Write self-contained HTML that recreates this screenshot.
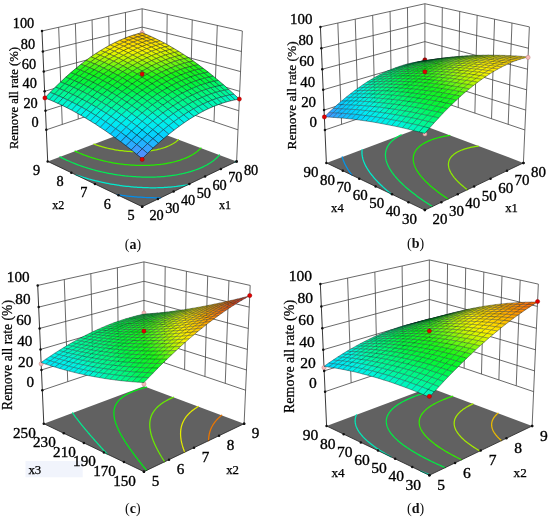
<!DOCTYPE html>
<html><head><meta charset="utf-8"><title>Response surfaces</title>
<style>html,body{margin:0;padding:0;background:#fff}svg{display:block}</style></head>
<body><svg width="550" height="520" viewBox="0 0 550 520">
<rect width="550" height="520" fill="#fff"/>
<path d="M62.28 124.43L58.66 27.28M78.26 119.04L75.36 23.58M94.23 113.66L92.06 19.88M110.2 108.27L108.76 16.18M126.18 102.88L125.45 12.48M142.15 97.5L142.15 8.78M166.11 105.58L167.2 14.33M190.07 113.66L192.24 19.88M214.03 121.74L217.29 25.43M46.31 129.81L142.15 97.5L237.99 129.81M45.47 110.74L142.15 80.31L238.83 110.74M44.62 91.33L142.15 62.84L239.68 91.33M43.75 71.57L142.15 45.11L240.55 71.57M42.87 51.46L142.15 27.09L241.43 51.46M41.97 30.99L142.15 8.78L242.33 30.99M236.61 161.39L242.33 30.99" fill="none" stroke="#444" stroke-width="0.8"/>
<polygon points="47.69,161.39 142.15,206.66 236.61,161.39 142.15,126.03" fill="#616161"/>
<polyline points="160.75,197.75 160.34,197.75 158.08,197.77 157.76,197.77 155.46,197.77 155.11,197.76 152.9,197.73 152.4,197.73 150.39,197.68 149.63,197.66 147.93,197.6 146.78,197.55 145.52,197.5 143.86,197.42 143.15,197.38 140.87,197.24 140.82,197.24 138.53,197.08 137.78,197.03 136.29,196.91 134.61,196.77 134.07,196.72 131.9,196.52 131.34,196.46 129.76,196.3 127.97,196.1 127.64,196.07 125.57,195.82 124.48,195.69 123.52,195.57 121.5,195.3 120.86,195.21 119.51,195.02 117.55,194.73 117.11,194.66" fill="none" stroke="#008eeb" stroke-width="1.25" stroke-linecap="round"/>
<polyline points="188.09,184.64 187.57,184.74 185.8,185.06 184.06,185.36 183.98,185.37 182.12,185.66 180.33,185.93 180.23,185.94 178.29,186.2 176.82,186.38 176.31,186.45 174.29,186.67 173.5,186.75 172.22,186.88 170.32,187.05 170.11,187.07 167.94,187.24 167.27,187.29 165.73,187.39 164.33,187.47 163.46,187.52 161.48,187.61 161.15,187.62 158.77,187.7 158.73,187.7 156.34,187.75 156.05,187.76 153.84,187.78 153.44,187.78 151.28,187.78 150.9,187.77 148.66,187.75 148.42,187.74 146,187.68 145.96,187.68 143.63,187.6 143.19,187.58 141.31,187.49 140.33,187.44 139.03,187.37 137.39,187.26 136.8,187.22 134.61,187.06 134.35,187.04 132.46,186.88 131.21,186.77 130.35,186.69 128.27,186.48 127.97,186.45 126.23,186.26 124.6,186.06 124.22,186.02 122.25,185.77 121.09,185.62 120.3,185.51 118.39,185.23 117.42,185.09 116.5,184.95 114.65,184.66 113.59,184.48 112.82,184.35 111.01,184.04 109.54,183.77 109.24,183.71 107.49,183.38 105.76,183.04 105.25,182.94 104.06,182.69 102.38,182.34 100.72,181.97 100.66,181.96 99.09,181.6 97.47,181.22 95.88,180.84 95.68,180.79 94.31,180.45 92.77,180.05 91.24,179.64 90.16,179.35 89.73,179.23 88.24,178.82 86.77,178.4 85.32,177.97 83.89,177.54 83.84,177.53 82.48,177.1 81.08,176.66 79.71,176.22 78.35,175.77 77.01,175.31 76.06,174.98" fill="none" stroke="#00ebce" stroke-width="1.25" stroke-linecap="round"/>
<polyline points="235.18,162.07 235.39,161.82 235.95,161.14" fill="none" stroke="#00ebce" stroke-width="1.25" stroke-linecap="round"/>
<polyline points="219.5,154.98 219.24,155.28 218.92,155.64 218.32,156.28 217.69,156.92 217.45,157.17 217.04,157.56 216.37,158.19 215.67,158.81 215.02,159.36 214.94,159.43 214.19,160.04 213.41,160.64 212.61,161.24 211.78,161.83 211.23,162.2 210.92,162.41 210.04,162.99 209.13,163.56 208.19,164.12 207.22,164.68 206.23,165.22 205.21,165.76 204.16,166.29 203.08,166.82 201.98,167.33 200.84,167.84 199.68,168.33 198.48,168.82 197.25,169.3 195.99,169.76 194.71,170.22 193.39,170.67 192.03,171.11 191.93,171.14 190.64,171.53 189.22,171.95 187.77,172.35 186.28,172.75 185.72,172.88 184.75,173.12 183.19,173.49 181.59,173.84 180.86,173.99 179.95,174.18 178.27,174.51 176.65,174.8 176.55,174.82 174.79,175.11 172.99,175.39 172.86,175.41 171.14,175.65 169.36,175.88 169.26,175.89 167.32,176.12 166.08,176.25 165.33,176.32 163.29,176.51 162.97,176.54 161.2,176.68 160.01,176.76 159.06,176.82 157.17,176.92 156.86,176.94 154.6,177.03 154.44,177.04 152.28,177.1 151.81,177.11 149.89,177.14 149.25,177.14 147.44,177.15 146.78,177.14 144.91,177.12 144.37,177.11 142.3,177.06 142.02,177.06 139.73,176.97 139.61,176.97 137.5,176.87 136.82,176.83 135.31,176.74 133.94,176.65 133.18,176.59 131.08,176.43 130.95,176.42 129.03,176.25 127.84,176.13 127.02,176.05 125.05,175.84 124.6,175.78 123.12,175.61 121.21,175.37 121.2,175.37 119.35,175.11 117.63,174.87 117.51,174.85 115.71,174.57 113.93,174.28 113.86,174.27 112.19,173.98 110.47,173.67 109.84,173.56 108.78,173.36 107.12,173.03 105.52,172.7 105.48,172.69 103.87,172.35 102.28,172 100.8,171.66 100.71,171.64 99.17,171.27 97.65,170.9 96.15,170.52 95.51,170.35 94.68,170.13 93.23,169.73 91.79,169.33 90.38,168.93 89.36,168.63 88.99,168.52 87.62,168.1 86.26,167.68 84.93,167.25 83.61,166.82 82.32,166.38 81.43,166.08 81.04,165.94 79.78,165.49 78.53,165.04 77.31,164.59 76.1,164.13 74.91,163.66 73.74,163.19 72.58,162.72 71.44,162.25 70.31,161.77 69.2,161.29 68.11,160.8 67.03,160.32 65.97,159.82 64.93,159.33 63.9,158.83 62.88,158.33 61.88,157.83 60.9,157.32 59.93,156.81" fill="none" stroke="#00eb55" stroke-width="1.25" stroke-linecap="round"/>
<polyline points="200.94,148.04 200.84,148.14 200.34,148.66 199.71,149.28 199.06,149.89 199.01,149.93 198.37,150.49 197.66,151.09 196.92,151.68 196.36,152.1 196.15,152.26 195.35,152.83 194.52,153.39 193.66,153.95 192.77,154.49 191.85,155.03 191.29,155.34 190.89,155.56 189.91,156.08 188.9,156.59 187.85,157.09 186.77,157.58 185.66,158.06 184.51,158.53 183.33,158.99 182.12,159.44 181.44,159.68 180.87,159.88 179.59,160.31 178.26,160.72 176.9,161.12 175.51,161.51 174.1,161.88 174.07,161.88 172.59,162.24 171.07,162.59 169.52,162.92 169.22,162.98 167.91,163.23 166.26,163.53 165.16,163.71 164.57,163.81 162.82,164.07 161.56,164.25 161.03,164.32 159.18,164.54 158.27,164.64 157.28,164.74 155.33,164.92 155.21,164.93 153.31,165.08 152.33,165.14 151.23,165.21 149.6,165.29 149.09,165.31 146.99,165.38 146.88,165.39 144.59,165.43 144.49,165.43 142.23,165.44 142.08,165.44 139.77,165.41 139.75,165.41 137.49,165.36 137.23,165.35 135.3,165.27 134.58,165.24 133.18,165.16 131.82,165.08 131.1,165.03 129.08,164.87 128.93,164.86 127.11,164.7 125.9,164.58 125.19,164.51 123.3,164.3 122.71,164.23 121.46,164.08 119.66,163.84 119.33,163.8 117.89,163.59 116.16,163.33 115.72,163.26 114.46,163.05 112.8,162.76 111.81,162.58 111.16,162.46 109.56,162.15 107.98,161.84 107.54,161.74 106.43,161.51 104.91,161.17 103.41,160.83 102.72,160.66 101.95,160.47 100.5,160.11 99.08,159.74 97.68,159.37 97.05,159.19 96.31,158.98 94.96,158.59 93.63,158.2 92.32,157.79 91.04,157.39 89.77,156.97 89.58,156.91 88.53,156.55 87.3,156.13 86.1,155.7 84.91,155.26 83.74,154.82 82.6,154.38 81.47,153.93 80.36,153.47 79.26,153.02 78.19,152.55 77.13,152.09 76.09,151.62 75.07,151.14" fill="none" stroke="#25eb00" stroke-width="1.25" stroke-linecap="round"/>
<polyline points="178.41,139.6 178.3,139.71 177.78,140.2 177.13,140.78 176.43,141.35 176.33,141.43 175.7,141.91 174.93,142.46 174.13,143 173.29,143.53 172.85,143.79 172.41,144.05 171.49,144.55 170.53,145.05 169.54,145.53 168.5,146 167.42,146.45 166.31,146.89 165.15,147.32 163.94,147.73 162.7,148.13 161.53,148.47 161.4,148.51 160.06,148.88 158.67,149.23 157.23,149.56 156.05,149.8 155.73,149.87 154.18,150.16 152.58,150.43 152.06,150.51 150.92,150.68 149.19,150.9 148.68,150.96 147.39,151.1 145.66,151.26 145.53,151.27 143.59,151.41 142.9,151.45 141.57,151.52 140.33,151.57 139.46,151.59 137.9,151.62 137.25,151.63 135.6,151.63 134.94,151.62 133.41,151.59 132.51,151.56 131.3,151.51 129.95,151.45 129.28,151.41 127.32,151.28 127.23,151.27 125.43,151.12 124.32,151.01 123.6,150.94 121.82,150.74 121.2,150.66 120.09,150.52 118.41,150.28 117.79,150.19 116.77,150.03 115.17,149.76 114,149.55 113.61,149.48 112.09,149.19 110.61,148.88 109.65,148.68 109.15,148.57 107.73,148.24 106.34,147.9 104.98,147.56 104.31,147.38 103.65,147.2 102.35,146.84 101.08,146.46 99.83,146.08 98.6,145.69 97.41,145.3 96.23,144.9 96.04,144.83 95.08,144.49 93.96,144.07" fill="none" stroke="#9eeb00" stroke-width="1.25" stroke-linecap="round"/>
<polyline points="47.69,161.39 142.15,206.66 236.61,161.39" fill="none" stroke="#222" stroke-width="0.8"/>
<path d="M47.69 161.39L41.97 30.99" stroke="#222" stroke-width="0.9"/>
<circle cx="142.15" cy="32.7" r="2.1" fill="#f7baba" stroke="#b87878" stroke-width="0.45"/>
<g stroke="#000a14" stroke-opacity="0.8" stroke-width="0.65" stroke-linejoin="round" fill="none">
<path d="M142.2 35.6L146.6 34.5L142.2 32.7L137.7 33.8Z" fill="#ffc300" stroke="none"/>
<path d="M146.6 34.5L142.2 32.7L137.7 33.8"/>
<path d="M137.7 36.9L142.2 35.6L137.7 33.8L133.3 35.1Z" fill="#ffc400" stroke="none"/>
<path d="M142.2 35.6L137.7 33.8L133.3 35.1"/>
<path d="M146.6 37.5L151 36.5L146.6 34.5L142.2 35.6Z" fill="#ffcb00" stroke="none"/>
<path d="M151 36.5L146.6 34.5L142.2 35.6"/>
<path d="M133.2 38.4L137.7 36.9L133.3 35.1L128.8 36.6Z" fill="#ffc700" stroke="none"/>
<path d="M137.7 36.9L133.3 35.1L128.8 36.6"/>
<path d="M142.2 38.8L146.6 37.5L142.2 35.6L137.7 36.9Z" fill="#ffcb00" stroke="none"/>
<path d="M146.6 37.5L142.2 35.6L137.7 36.9"/>
<path d="M151.1 39.6L155.5 38.6L151 36.5L146.6 37.5Z" fill="#ffd300" stroke="none"/>
<path d="M155.5 38.6L151 36.5L146.6 37.5"/>
<path d="M128.6 40.1L133.2 38.4L128.8 36.6L124.2 38.4Z" fill="#ffcb00" stroke="none"/>
<path d="M133.2 38.4L128.8 36.6L124.2 38.4"/>
<path d="M137.6 40.3L142.2 38.8L137.7 36.9L133.2 38.4Z" fill="#ffce00" stroke="none"/>
<path d="M142.2 38.8L137.7 36.9L133.2 38.4"/>
<path d="M146.7 40.9L151.1 39.6L146.6 37.5L142.2 38.8Z" fill="#ffd300" stroke="none"/>
<path d="M151.1 39.6L146.6 37.5L142.2 38.8"/>
<path d="M155.7 41.9L160.1 40.8L155.5 38.6L151.1 39.6Z" fill="#ffdd00" stroke="none"/>
<path d="M160.1 40.8L155.5 38.6L151.1 39.6"/>
<path d="M133.1 42L137.6 40.3L133.2 38.4L128.6 40.1Z" fill="#ffd200" stroke="none"/>
<path d="M137.6 40.3L133.2 38.4L128.6 40.1"/>
<path d="M142.2 42.4L146.7 40.9L142.2 38.8L137.6 40.3Z" fill="#ffd500" stroke="none"/>
<path d="M146.7 40.9L142.2 38.8L137.6 40.3"/>
<path d="M151.2 43.1L155.7 41.9L151.1 39.6L146.7 40.9Z" fill="#ffdd00" stroke="none"/>
<path d="M155.7 41.9L151.1 39.6L146.7 40.9"/>
<path d="M124 42.1L128.6 40.1L124.2 38.4L119.6 40.3Z" fill="#ffd200" stroke="none"/>
<path d="M128.6 40.1L124.2 38.4L119.6 40.3"/>
<path d="M160.3 44.3L164.7 43.2L160.1 40.8L155.7 41.9Z" fill="#fee700" stroke="none"/>
<path d="M164.7 43.2L160.1 40.8L155.7 41.9"/>
<path d="M137.6 44.1L142.2 42.4L137.6 40.3L133.1 42Z" fill="#ffd900" stroke="none"/>
<path d="M142.2 42.4L137.6 40.3L133.1 42"/>
<path d="M146.7 44.6L151.2 43.1L146.7 40.9L142.2 42.4Z" fill="#ffde00" stroke="none"/>
<path d="M151.2 43.1L146.7 40.9L142.2 42.4"/>
<path d="M119.3 44.3L124 42.1L119.6 40.3L114.9 42.5Z" fill="#ffda00" stroke="none"/>
<path d="M124 42.1L119.6 40.3L114.9 42.5"/>
<path d="M128.5 44L133.1 42L128.6 40.1L124 42.1Z" fill="#ffd800" stroke="none"/>
<path d="M133.1 42L128.6 40.1L124 42.1"/>
<path d="M155.8 45.5L160.3 44.3L155.7 41.9L151.2 43.1Z" fill="#fee600" stroke="none"/>
<path d="M160.3 44.3L155.7 41.9L151.2 43.1"/>
<path d="M164.9 46.8L169.3 45.8L164.7 43.2L160.3 44.3Z" fill="#fdf100" stroke="none"/>
<path d="M169.3 45.8L164.7 43.2L160.3 44.3"/>
<path d="M114.6 46.7L119.3 44.3L114.9 42.5L110.2 44.9Z" fill="#ffe400" stroke="none"/>
<path d="M119.3 44.3L114.9 42.5L110.2 44.9"/>
<path d="M123.8 46.1L128.5 44L124 42.1L119.3 44.3Z" fill="#ffe000" stroke="none"/>
<path d="M128.5 44L124 42.1L119.3 44.3"/>
<path d="M133 46L137.6 44.1L133.1 42L128.5 44Z" fill="#ffdf00" stroke="none"/>
<path d="M137.6 44.1L133.1 42L128.5 44"/>
<path d="M142.2 46.3L146.7 44.6L142.2 42.4L137.6 44.1Z" fill="#ffe200" stroke="none"/>
<path d="M146.7 44.6L142.2 42.4L137.6 44.1"/>
<path d="M151.3 47L155.8 45.5L151.2 43.1L146.7 44.6Z" fill="#fee700" stroke="none"/>
<path d="M155.8 45.5L151.2 43.1L146.7 44.6"/>
<path d="M160.5 48L164.9 46.8L160.3 44.3L155.8 45.5Z" fill="#fdf000" stroke="none"/>
<path d="M164.9 46.8L160.3 44.3L155.8 45.5"/>
<path d="M169.6 49.5L174 48.5L169.3 45.8L164.9 46.8Z" fill="#ecf500" stroke="none"/>
<path d="M174 48.5L169.3 45.8L164.9 46.8"/>
<path d="M109.9 49.3L114.6 46.7L110.2 44.9L105.5 47.6Z" fill="#fdee00" stroke="none"/>
<path d="M114.6 46.7L110.2 44.9L105.5 47.6"/>
<path d="M119.1 48.5L123.8 46.1L119.3 44.3L114.6 46.7Z" fill="#fee800" stroke="none"/>
<path d="M123.8 46.1L119.3 44.3L114.6 46.7"/>
<path d="M128.3 48.2L133 46L128.5 44L123.8 46.1Z" fill="#fee600" stroke="none"/>
<path d="M133 46L128.5 44L123.8 46.1"/>
<path d="M137.5 48.2L142.2 46.3L137.6 44.1L133 46Z" fill="#fee600" stroke="none"/>
<path d="M142.2 46.3L137.6 44.1L133 46"/>
<path d="M146.8 48.6L151.3 47L146.7 44.6L142.2 46.3Z" fill="#feea00" stroke="none"/>
<path d="M151.3 47L146.7 44.6L142.2 46.3"/>
<path d="M156 49.5L160.5 48L155.8 45.5L151.3 47Z" fill="#fdf100" stroke="none"/>
<path d="M160.5 48L155.8 45.5L151.3 47"/>
<path d="M165.2 50.7L169.6 49.5L164.9 46.8L160.5 48Z" fill="#eff500" stroke="none"/>
<path d="M169.6 49.5L164.9 46.8L160.5 48"/>
<path d="M174.4 52.4L178.8 51.4L174 48.5L169.6 49.5Z" fill="#d4f700" stroke="none"/>
<path d="M178.8 51.4L174 48.5L169.6 49.5"/>
<path d="M105.1 52.1L109.9 49.3L105.5 47.6L100.7 50.4Z" fill="#f2f500" stroke="none"/>
<path d="M109.9 49.3L105.5 47.6L100.7 50.4"/>
<path d="M114.3 51.1L119.1 48.5L114.6 46.7L109.9 49.3Z" fill="#fcf200" stroke="none"/>
<path d="M119.1 48.5L114.6 46.7L109.9 49.3"/>
<path d="M123.6 50.5L128.3 48.2L123.8 46.1L119.1 48.5Z" fill="#fdee00" stroke="none"/>
<path d="M128.3 48.2L123.8 46.1L119.1 48.5"/>
<path d="M132.9 50.3L137.5 48.2L133 46L128.3 48.2Z" fill="#fdec00" stroke="none"/>
<path d="M137.5 48.2L133 46L128.3 48.2"/>
<path d="M142.2 50.5L146.8 48.6L142.2 46.3L137.5 48.2Z" fill="#fdee00" stroke="none"/>
<path d="M146.8 48.6L142.2 46.3L137.5 48.2"/>
<path d="M151.4 51.1L156 49.5L151.3 47L146.8 48.6Z" fill="#fcf300" stroke="none"/>
<path d="M156 49.5L151.3 47L146.8 48.6"/>
<path d="M160.7 52.1L165.2 50.7L160.5 48L156 49.5Z" fill="#eef500" stroke="none"/>
<path d="M165.2 50.7L160.5 48L156 49.5"/>
<path d="M169.9 53.6L174.4 52.4L169.6 49.5L165.2 50.7Z" fill="#d7f600" stroke="none"/>
<path d="M174.4 52.4L169.6 49.5L165.2 50.7"/>
<path d="M179.2 55.4L183.5 54.4L178.8 51.4L174.4 52.4Z" fill="#b6f802" stroke="none"/>
<path d="M183.5 54.4L178.8 51.4L174.4 52.4"/>
<path d="M109.5 54L114.3 51.1L109.9 49.3L105.1 52.1Z" fill="#e9f500" stroke="none"/>
<path d="M114.3 51.1L109.9 49.3L105.1 52.1"/>
<path d="M118.8 53.1L123.6 50.5L119.1 48.5L114.3 51.1Z" fill="#f6f400" stroke="none"/>
<path d="M123.6 50.5L119.1 48.5L114.3 51.1"/>
<path d="M128.2 52.7L132.9 50.3L128.3 48.2L123.6 50.5Z" fill="#fcf400" stroke="none"/>
<path d="M132.9 50.3L128.3 48.2L123.6 50.5"/>
<path d="M156.1 53.8L160.7 52.1L156 49.5L151.4 51.1Z" fill="#e9f500" stroke="none"/>
<path d="M160.7 52.1L156 49.5L151.4 51.1"/>
<path d="M165.4 55L169.9 53.6L165.2 50.7L160.7 52.1Z" fill="#d6f700" stroke="none"/>
<path d="M169.9 53.6L165.2 50.7L160.7 52.1"/>
<path d="M174.7 56.6L179.2 55.4L174.4 52.4L169.9 53.6Z" fill="#bbf801" stroke="none"/>
<path d="M179.2 55.4L174.4 52.4L169.9 53.6"/>
<path d="M100.2 55.2L105.1 52.1L100.7 50.4L95.8 53.5Z" fill="#d7f600" stroke="none"/>
<path d="M105.1 52.1L100.7 50.4L95.8 53.5"/>
<path d="M137.5 52.6L142.2 50.5L137.5 48.2L132.9 50.3Z" fill="#fcf400" stroke="none"/>
<path d="M142.2 50.5L137.5 48.2L132.9 50.3"/>
<path d="M146.8 53L151.4 51.1L146.8 48.6L142.2 50.5Z" fill="#f6f400" stroke="none"/>
<path d="M151.4 51.1L146.8 48.6L142.2 50.5"/>
<path d="M184 58.6L188.4 57.6L183.5 54.4L179.2 55.4Z" fill="#8ff80a" stroke="none"/>
<path d="M188.4 57.6L183.5 54.4L179.2 55.4"/>
<path d="M114 56L118.8 53.1L114.3 51.1L109.5 54Z" fill="#e0f600" stroke="none"/>
<path d="M118.8 53.1L114.3 51.1L109.5 54"/>
<path d="M123.4 55.3L128.2 52.7L123.6 50.5L118.8 53.1Z" fill="#eaf500" stroke="none"/>
<path d="M128.2 52.7L123.6 50.5L118.8 53.1"/>
<path d="M160.9 56.6L165.4 55L160.7 52.1L156.1 53.8Z" fill="#d3f700" stroke="none"/>
<path d="M165.4 55L160.7 52.1L156.1 53.8"/>
<path d="M170.3 58L174.7 56.6L169.9 53.6L165.4 55Z" fill="#bcf801" stroke="none"/>
<path d="M174.7 56.6L169.9 53.6L165.4 55"/>
<path d="M95.3 58.5L100.2 55.2L95.8 53.5L90.9 56.8Z" fill="#b6f802" stroke="none"/>
<path d="M100.2 55.2L95.8 53.5L90.9 56.8"/>
<path d="M104.7 57.1L109.5 54L105.1 52.1L100.2 55.2Z" fill="#cff700" stroke="none"/>
<path d="M109.5 54L105.1 52.1L100.2 55.2"/>
<path d="M132.8 55L137.5 52.6L132.9 50.3L128.2 52.7Z" fill="#eef500" stroke="none"/>
<path d="M137.5 52.6L132.9 50.3L128.2 52.7"/>
<path d="M142.2 55.1L146.8 53L142.2 50.5L137.5 52.6Z" fill="#ebf500" stroke="none"/>
<path d="M146.8 53L142.2 50.5L137.5 52.6"/>
<path d="M151.5 55.6L156.1 53.8L151.4 51.1L146.8 53Z" fill="#e2f600" stroke="none"/>
<path d="M156.1 53.8L151.4 51.1L146.8 53"/>
<path d="M179.6 59.7L184 58.6L179.2 55.4L174.7 56.6Z" fill="#94f808" stroke="none"/>
<path d="M184 58.6L179.2 55.4L174.7 56.6"/>
<path d="M188.9 61.9L193.3 61L188.4 57.6L184 58.6Z" fill="#66f811" stroke="none"/>
<path d="M193.3 61L188.4 57.6L184 58.6"/>
<path d="M118.6 58.1L123.4 55.3L118.8 53.1L114 56Z" fill="#d4f700" stroke="none"/>
<path d="M123.4 55.3L118.8 53.1L114 56"/>
<path d="M165.7 59.6L170.3 58L165.4 55L160.9 56.6Z" fill="#b8f802" stroke="none"/>
<path d="M170.3 58L165.4 55L160.9 56.6"/>
<path d="M109.2 59L114 56L109.5 54L104.7 57.1Z" fill="#c6f800" stroke="none"/>
<path d="M114 56L109.5 54L104.7 57.1"/>
<path d="M128 57.6L132.8 55L128.2 52.7L123.4 55.3Z" fill="#dbf600" stroke="none"/>
<path d="M132.8 55L128.2 52.7L123.4 55.3"/>
<path d="M137.4 57.4L142.2 55.1L137.5 52.6L132.8 55Z" fill="#ddf600" stroke="none"/>
<path d="M142.2 55.1L137.5 52.6L132.8 55"/>
<path d="M146.9 57.7L151.5 55.6L146.8 53L142.2 55.1Z" fill="#d8f600" stroke="none"/>
<path d="M151.5 55.6L146.8 53L142.2 55.1"/>
<path d="M156.3 58.4L160.9 56.6L156.1 53.8L151.5 55.6Z" fill="#ccf700" stroke="none"/>
<path d="M160.9 56.6L156.1 53.8L151.5 55.6"/>
<path d="M175.1 61.1L179.6 59.7L174.7 56.6L170.3 58Z" fill="#96f808" stroke="none"/>
<path d="M179.6 59.7L174.7 56.6L170.3 58"/>
<path d="M90.4 62.1L95.3 58.5L90.9 56.8L86 60.4Z" fill="#88f80b" stroke="none"/>
<path d="M95.3 58.5L90.9 56.8L86 60.4"/>
<path d="M99.7 60.4L104.7 57.1L100.2 55.2L95.3 58.5Z" fill="#acf804" stroke="none"/>
<path d="M104.7 57.1L100.2 55.2L95.3 58.5"/>
<path d="M184.5 63.1L188.9 61.9L184 58.6L179.6 59.7Z" fill="#6cf810" stroke="none"/>
<path d="M188.9 61.9L184 58.6L179.6 59.7"/>
<path d="M193.9 65.5L198.2 64.6L193.3 61L188.9 61.9Z" fill="#3ff714" stroke="none"/>
<path d="M198.2 64.6L193.3 61L188.9 61.9"/>
<path d="M85.4 65.9L90.4 62.1L86 60.4L81 64.2Z" fill="#5af812" stroke="none"/>
<path d="M90.4 62.1L86 60.4L81 64.2"/>
<path d="M94.8 63.9L99.7 60.4L95.3 58.5L90.4 62.1Z" fill="#7ff80d" stroke="none"/>
<path d="M99.7 60.4L95.3 58.5L90.4 62.1"/>
<path d="M104.2 62.4L109.2 59L104.7 57.1L99.7 60.4Z" fill="#a0f806" stroke="none"/>
<path d="M109.2 59L104.7 57.1L99.7 60.4"/>
<path d="M113.7 61.2L118.6 58.1L114 56L109.2 59Z" fill="#b8f801" stroke="none"/>
<path d="M118.6 58.1L114 56L109.2 59"/>
<path d="M123.2 60.4L128 57.6L123.4 55.3L118.6 58.1Z" fill="#c6f800" stroke="none"/>
<path d="M128 57.6L123.4 55.3L118.6 58.1"/>
<path d="M132.7 60L137.4 57.4L132.8 55L128 57.6Z" fill="#cbf700" stroke="none"/>
<path d="M137.4 57.4L132.8 55L128 57.6"/>
<path d="M142.2 60.1L146.9 57.7L142.2 55.1L137.4 57.4Z" fill="#caf700" stroke="none"/>
<path d="M146.9 57.7L142.2 55.1L137.4 57.4"/>
<path d="M151.6 60.5L156.3 58.4L151.5 55.6L146.9 57.7Z" fill="#c2f800" stroke="none"/>
<path d="M156.3 58.4L151.5 55.6L146.9 57.7"/>
<path d="M161.1 61.4L165.7 59.6L160.9 56.6L156.3 58.4Z" fill="#aff803" stroke="none"/>
<path d="M165.7 59.6L160.9 56.6L156.3 58.4"/>
<path d="M170.6 62.7L175.1 61.1L170.3 58L165.7 59.6Z" fill="#93f809" stroke="none"/>
<path d="M175.1 61.1L170.3 58L165.7 59.6"/>
<path d="M180 64.4L184.5 63.1L179.6 59.7L175.1 61.1Z" fill="#6ef810" stroke="none"/>
<path d="M184.5 63.1L179.6 59.7L175.1 61.1"/>
<path d="M189.5 66.6L193.9 65.5L188.9 61.9L184.5 63.1Z" fill="#46f714" stroke="none"/>
<path d="M193.9 65.5L188.9 61.9L184.5 63.1"/>
<path d="M198.8 69.1L203.2 68.3L198.2 64.6L193.9 65.5Z" fill="#16f618" stroke="none"/>
<path d="M203.2 68.3L198.2 64.6L193.9 65.5"/>
<path d="M127.8 62.8L132.7 60L128 57.6L123.2 60.4Z" fill="#b3f803" stroke="none"/>
<path d="M132.7 60L128 57.6L123.2 60.4"/>
<path d="M137.4 62.6L142.2 60.1L137.4 57.4L132.7 60Z" fill="#b6f802" stroke="none"/>
<path d="M142.2 60.1L137.4 57.4L132.7 60"/>
<path d="M146.9 62.8L151.6 60.5L146.9 57.7L142.2 60.1Z" fill="#b1f803" stroke="none"/>
<path d="M151.6 60.5L146.9 57.7L142.2 60.1"/>
<path d="M156.5 63.4L161.1 61.4L156.3 58.4L151.6 60.5Z" fill="#a3f806" stroke="none"/>
<path d="M161.1 61.4L156.3 58.4L151.6 60.5"/>
<path d="M80.3 70L85.4 65.9L81 64.2L76 68.3Z" fill="#2bf616" stroke="none"/>
<path d="M85.4 65.9L81 64.2L76 68.3"/>
<path d="M89.8 67.7L94.8 63.9L90.4 62.1L85.4 65.9Z" fill="#53f712" stroke="none"/>
<path d="M94.8 63.9L90.4 62.1L85.4 65.9"/>
<path d="M99.3 65.9L104.2 62.4L99.7 60.4L94.8 63.9Z" fill="#74f80f" stroke="none"/>
<path d="M104.2 62.4L99.7 60.4L94.8 63.9"/>
<path d="M108.8 64.5L113.7 61.2L109.2 59L104.2 62.4Z" fill="#92f809" stroke="none"/>
<path d="M113.7 61.2L109.2 59L104.2 62.4"/>
<path d="M118.3 63.4L123.2 60.4L118.6 58.1L113.7 61.2Z" fill="#a6f805" stroke="none"/>
<path d="M123.2 60.4L118.6 58.1L113.7 61.2"/>
<path d="M166 64.5L170.6 62.7L165.7 59.6L161.1 61.4Z" fill="#8cf80a" stroke="none"/>
<path d="M170.6 62.7L165.7 59.6L161.1 61.4"/>
<path d="M175.5 66L180 64.4L175.1 61.1L170.6 62.7Z" fill="#6cf810" stroke="none"/>
<path d="M180 64.4L175.1 61.1L170.6 62.7"/>
<path d="M185 67.9L189.5 66.6L184.5 63.1L180 64.4Z" fill="#49f713" stroke="none"/>
<path d="M189.5 66.6L184.5 63.1L180 64.4"/>
<path d="M194.5 70.2L198.8 69.1L193.9 65.5L189.5 66.6Z" fill="#1df617" stroke="none"/>
<path d="M198.8 69.1L193.9 65.5L189.5 66.6"/>
<path d="M203.9 73L208.2 72.1L203.2 68.3L198.8 69.1Z" fill="#0ef626" stroke="none"/>
<path d="M208.2 72.1L203.2 68.3L198.8 69.1"/>
<path d="M84.7 71.8L89.8 67.7L85.4 65.9L80.3 70Z" fill="#25f617" stroke="none"/>
<path d="M89.8 67.7L85.4 65.9L80.3 70"/>
<path d="M94.3 69.7L99.3 65.9L94.8 63.9L89.8 67.7Z" fill="#4af713" stroke="none"/>
<path d="M99.3 65.9L94.8 63.9L89.8 67.7"/>
<path d="M103.8 68L108.8 64.5L104.2 62.4L99.3 65.9Z" fill="#67f811" stroke="none"/>
<path d="M108.8 64.5L104.2 62.4L99.3 65.9"/>
<path d="M132.6 65.4L137.4 62.6L132.7 60L127.8 62.8Z" fill="#9bf807" stroke="none"/>
<path d="M137.4 62.6L132.7 60L127.8 62.8"/>
<path d="M142.2 65.4L146.9 62.8L142.2 60.1L137.4 62.6Z" fill="#9bf807" stroke="none"/>
<path d="M146.9 62.8L142.2 60.1L137.4 62.6"/>
<path d="M151.7 65.7L156.5 63.4L151.6 60.5L146.9 62.8Z" fill="#92f809" stroke="none"/>
<path d="M156.5 63.4L151.6 60.5L146.9 62.8"/>
<path d="M180.5 69.4L185 67.9L180 64.4L175.5 66Z" fill="#48f713" stroke="none"/>
<path d="M185 67.9L180 64.4L175.5 66"/>
<path d="M190 71.5L194.5 70.2L189.5 66.6L185 67.9Z" fill="#21f617" stroke="none"/>
<path d="M194.5 70.2L189.5 66.6L185 67.9"/>
<path d="M199.5 74.1L203.9 73L198.8 69.1L194.5 70.2Z" fill="#10f624" stroke="none"/>
<path d="M203.9 73L198.8 69.1L194.5 70.2"/>
<path d="M75.2 74.3L80.3 70L76 68.3L70.9 72.6Z" fill="#11f622" stroke="none"/>
<path d="M80.3 70L76 68.3L70.9 72.6"/>
<path d="M123 65.9L127.8 62.8L123.2 60.4L118.3 63.4Z" fill="#92f809" stroke="none"/>
<path d="M127.8 62.8L123.2 60.4L118.3 63.4"/>
<path d="M161.3 66.5L166 64.5L161.1 61.4L156.5 63.4Z" fill="#80f80c" stroke="none"/>
<path d="M166 64.5L161.1 61.4L156.5 63.4"/>
<path d="M209 77L213.3 76.2L208.2 72.1L203.9 73Z" fill="#06f635" stroke="none"/>
<path d="M213.3 76.2L208.2 72.1L203.9 73"/>
<path d="M113.4 66.7L118.3 63.4L113.7 61.2L108.8 64.5Z" fill="#80f80c" stroke="none"/>
<path d="M118.3 63.4L113.7 61.2L108.8 64.5"/>
<path d="M170.9 67.8L175.5 66L170.6 62.7L166 64.5Z" fill="#67f811" stroke="none"/>
<path d="M175.5 66L170.6 62.7L166 64.5"/>
<path d="M137.3 68.1L142.2 65.4L137.4 62.6L132.6 65.4Z" fill="#80f80c" stroke="none"/>
<path d="M142.2 65.4L137.4 62.6L132.6 65.4"/>
<path d="M147 68.3L151.7 65.7L146.9 62.8L142.2 65.4Z" fill="#7df80d" stroke="none"/>
<path d="M151.7 65.7L146.9 62.8L142.2 65.4"/>
<path d="M89.2 73.8L94.3 69.7L89.8 67.7L84.7 71.8Z" fill="#1cf617" stroke="none"/>
<path d="M94.3 69.7L89.8 67.7L84.7 71.8"/>
<path d="M98.8 71.8L103.8 68L99.3 65.9L94.3 69.7Z" fill="#3ff714" stroke="none"/>
<path d="M103.8 68L99.3 65.9L94.3 69.7"/>
<path d="M185.5 73.1L190 71.5L185 67.9L180.5 69.4Z" fill="#21f617" stroke="none"/>
<path d="M190 71.5L185 67.9L180.5 69.4"/>
<path d="M195.1 75.3L199.5 74.1L194.5 70.2L190 71.5Z" fill="#11f622" stroke="none"/>
<path d="M199.5 74.1L194.5 70.2L190 71.5"/>
<path d="M79.6 76.1L84.7 71.8L80.3 70L75.2 74.3Z" fill="#10f623" stroke="none"/>
<path d="M84.7 71.8L80.3 70L75.2 74.3"/>
<path d="M127.7 68.4L132.6 65.4L127.8 62.8L123 65.9Z" fill="#7bf80d" stroke="none"/>
<path d="M132.6 65.4L127.8 62.8L123 65.9"/>
<path d="M156.6 68.8L161.3 66.5L156.5 63.4L151.7 65.7Z" fill="#70f810" stroke="none"/>
<path d="M161.3 66.5L156.5 63.4L151.7 65.7"/>
<path d="M204.6 78.1L209 77L203.9 73L199.5 74.1Z" fill="#08f632" stroke="none"/>
<path d="M209 77L203.9 73L199.5 74.1"/>
<path d="M108.4 70.3L113.4 66.7L108.8 64.5L103.8 68Z" fill="#59f812" stroke="none"/>
<path d="M113.4 66.7L108.8 64.5L103.8 68"/>
<path d="M118 69.1L123 65.9L118.3 63.4L113.4 66.7Z" fill="#6df810" stroke="none"/>
<path d="M123 65.9L118.3 63.4L113.4 66.7"/>
<path d="M166.3 69.8L170.9 67.8L166 64.5L161.3 66.5Z" fill="#5ef811" stroke="none"/>
<path d="M170.9 67.8L166 64.5L161.3 66.5"/>
<path d="M175.9 71.2L180.5 69.4L175.5 66L170.9 67.8Z" fill="#43f714" stroke="none"/>
<path d="M180.5 69.4L175.5 66L170.9 67.8"/>
<path d="M70.1 78.8L75.2 74.3L70.9 72.6L65.8 77.1Z" fill="#07f633" stroke="none"/>
<path d="M75.2 74.3L70.9 72.6L65.8 77.1"/>
<path d="M214.1 81.2L218.4 80.4L213.3 76.2L209 77Z" fill="#00f64b" stroke="none"/>
<path d="M218.4 80.4L213.3 76.2L209 77"/>
<path d="M142.2 71L147 68.3L142.2 65.4L137.3 68.1Z" fill="#65f811" stroke="none"/>
<path d="M147 68.3L142.2 65.4L137.3 68.1"/>
<path d="M93.7 75.9L98.8 71.8L94.3 69.7L89.2 73.8Z" fill="#15f619" stroke="none"/>
<path d="M98.8 71.8L94.3 69.7L89.2 73.8"/>
<path d="M190.5 76.8L195.1 75.3L190 71.5L185.5 73.1Z" fill="#11f622" stroke="none"/>
<path d="M195.1 75.3L190 71.5L185.5 73.1"/>
<path d="M64.9 83.6L70.1 78.8L65.8 77.1L60.6 82Z" fill="#00f74d" stroke="none"/>
<path d="M70.1 78.8L65.8 77.1L60.6 82"/>
<path d="M84.1 78.1L89.2 73.8L84.7 71.8L79.6 76.1Z" fill="#0ef626" stroke="none"/>
<path d="M89.2 73.8L84.7 71.8L79.6 76.1"/>
<path d="M132.4 71.2L137.3 68.1L132.6 65.4L127.7 68.4Z" fill="#63f811" stroke="none"/>
<path d="M137.3 68.1L132.6 65.4L127.7 68.4"/>
<path d="M151.9 71.3L156.6 68.8L151.7 65.7L147 68.3Z" fill="#5ff811" stroke="none"/>
<path d="M156.6 68.8L151.7 65.7L147 68.3"/>
<path d="M200.2 79.3L204.6 78.1L199.5 74.1L195.1 75.3Z" fill="#09f630" stroke="none"/>
<path d="M204.6 78.1L199.5 74.1L195.1 75.3"/>
<path d="M219.3 85.6L223.6 84.8L218.4 80.4L214.1 81.2Z" fill="#00f86d" stroke="none"/>
<path d="M223.6 84.8L218.4 80.4L214.1 81.2"/>
<path d="M103.4 74.1L108.4 70.3L103.8 68L98.8 71.8Z" fill="#31f716" stroke="none"/>
<path d="M108.4 70.3L103.8 68L98.8 71.8"/>
<path d="M113.1 72.7L118 69.1L113.4 66.7L108.4 70.3Z" fill="#49f713" stroke="none"/>
<path d="M118 69.1L113.4 66.7L108.4 70.3"/>
<path d="M122.7 71.7L127.7 68.4L123 65.9L118 69.1Z" fill="#5af812" stroke="none"/>
<path d="M127.7 68.4L123 65.9L118 69.1"/>
<path d="M161.6 72L166.3 69.8L161.3 66.5L156.6 68.8Z" fill="#51f713" stroke="none"/>
<path d="M166.3 69.8L161.3 66.5L156.6 68.8"/>
<path d="M171.2 73.2L175.9 71.2L170.9 67.8L166.3 69.8Z" fill="#3bf715" stroke="none"/>
<path d="M175.9 71.2L170.9 67.8L166.3 69.8"/>
<path d="M180.9 74.8L185.5 73.1L180.5 69.4L175.9 71.2Z" fill="#1ef617" stroke="none"/>
<path d="M185.5 73.1L180.5 69.4L175.9 71.2"/>
<path d="M74.5 80.7L79.6 76.1L75.2 74.3L70.1 78.8Z" fill="#06f635" stroke="none"/>
<path d="M79.6 76.1L75.2 74.3L70.1 78.8"/>
<path d="M209.7 82.2L214.1 81.2L209 77L204.6 78.1Z" fill="#00f643" stroke="none"/>
<path d="M214.1 81.2L209 77L204.6 78.1"/>
<path d="M69.3 85.5L74.5 80.7L70.1 78.8L64.9 83.6Z" fill="#00f750" stroke="none"/>
<path d="M74.5 80.7L70.1 78.8L64.9 83.6"/>
<path d="M88.6 80.2L93.7 75.9L89.2 73.8L84.1 78.1Z" fill="#0df629" stroke="none"/>
<path d="M93.7 75.9L89.2 73.8L84.1 78.1"/>
<path d="M137.3 74L142.2 71L137.3 68.1L132.4 71.2Z" fill="#4bf713" stroke="none"/>
<path d="M142.2 71L137.3 68.1L132.4 71.2"/>
<path d="M147 74.1L151.9 71.3L147 68.3L142.2 71Z" fill="#49f713" stroke="none"/>
<path d="M151.9 71.3L147 68.3L142.2 71"/>
<path d="M195.7 80.8L200.2 79.3L195.1 75.3L190.5 76.8Z" fill="#09f630" stroke="none"/>
<path d="M200.2 79.3L195.1 75.3L190.5 76.8"/>
<path d="M214.9 86.6L219.3 85.6L214.1 81.2L209.7 82.2Z" fill="#00f865" stroke="none"/>
<path d="M219.3 85.6L214.1 81.2L209.7 82.2"/>
<path d="M98.3 78.1L103.4 74.1L98.8 71.8L93.7 75.9Z" fill="#13f61d" stroke="none"/>
<path d="M103.4 74.1L98.8 71.8L93.7 75.9"/>
<path d="M108 76.5L113.1 72.7L108.4 70.3L103.4 74.1Z" fill="#22f617" stroke="none"/>
<path d="M113.1 72.7L108.4 70.3L103.4 74.1"/>
<path d="M117.8 75.2L122.7 71.7L118 69.1L113.1 72.7Z" fill="#37f715" stroke="none"/>
<path d="M122.7 71.7L118 69.1L113.1 72.7"/>
<path d="M127.5 74.4L132.4 71.2L127.7 68.4L122.7 71.7Z" fill="#45f714" stroke="none"/>
<path d="M132.4 71.2L127.7 68.4L122.7 71.7"/>
<path d="M156.8 74.5L161.6 72L156.6 68.8L151.9 71.3Z" fill="#40f714" stroke="none"/>
<path d="M161.6 72L156.6 68.8L151.9 71.3"/>
<path d="M166.5 75.4L171.2 73.2L166.3 69.8L161.6 72Z" fill="#2ff716" stroke="none"/>
<path d="M171.2 73.2L166.3 69.8L161.6 72"/>
<path d="M176.3 76.8L180.9 74.8L175.9 71.2L171.2 73.2Z" fill="#17f618" stroke="none"/>
<path d="M180.9 74.8L175.9 71.2L171.2 73.2"/>
<path d="M186 78.6L190.5 76.8L185.5 73.1L180.9 74.8Z" fill="#10f622" stroke="none"/>
<path d="M190.5 76.8L185.5 73.1L180.9 74.8"/>
<path d="M59.7 88.7L64.9 83.6L60.6 82L55.4 87Z" fill="#00f875" stroke="none"/>
<path d="M64.9 83.6L60.6 82L55.4 87"/>
<path d="M79 82.6L84.1 78.1L79.6 76.1L74.5 80.7Z" fill="#05f637" stroke="none"/>
<path d="M84.1 78.1L79.6 76.1L74.5 80.7"/>
<path d="M205.3 83.5L209.7 82.2L204.6 78.1L200.2 79.3Z" fill="#00f63f" stroke="none"/>
<path d="M209.7 82.2L204.6 78.1L200.2 79.3"/>
<path d="M224.5 90.2L228.8 89.4L223.6 84.8L219.3 85.6Z" fill="#00f887" stroke="none"/>
<path d="M228.8 89.4L223.6 84.8L219.3 85.6"/>
<path d="M73.8 87.4L79 82.6L74.5 80.7L69.3 85.5Z" fill="#00f754" stroke="none"/>
<path d="M79 82.6L74.5 80.7L69.3 85.5"/>
<path d="M210.5 87.8L214.9 86.6L209.7 82.2L205.3 83.5Z" fill="#00f760" stroke="none"/>
<path d="M214.9 86.6L209.7 82.2L205.3 83.5"/>
<path d="M102.9 80.5L108 76.5L103.4 74.1L98.3 78.1Z" fill="#10f622" stroke="none"/>
<path d="M108 76.5L103.4 74.1L98.3 78.1"/>
<path d="M112.7 79L117.8 75.2L113.1 72.7L108 76.5Z" fill="#15f61a" stroke="none"/>
<path d="M117.8 75.2L113.1 72.7L108 76.5"/>
<path d="M122.5 77.9L127.5 74.4L122.7 71.7L117.8 75.2Z" fill="#23f617" stroke="none"/>
<path d="M127.5 74.4L122.7 71.7L117.8 75.2"/>
<path d="M132.3 77.3L137.3 74L132.4 71.2L127.5 74.4Z" fill="#2ef716" stroke="none"/>
<path d="M137.3 74L132.4 71.2L127.5 74.4"/>
<path d="M152 77.3L156.8 74.5L151.9 71.3L147 74.1Z" fill="#2cf716" stroke="none"/>
<path d="M156.8 74.5L151.9 71.3L147 74.1"/>
<path d="M161.8 77.9L166.5 75.4L161.6 72L156.8 74.5Z" fill="#20f617" stroke="none"/>
<path d="M166.5 75.4L161.6 72L156.8 74.5"/>
<path d="M171.6 79L176.3 76.8L171.2 73.2L166.5 75.4Z" fill="#14f61b" stroke="none"/>
<path d="M176.3 76.8L171.2 73.2L166.5 75.4"/>
<path d="M181.4 80.5L186 78.6L180.9 74.8L176.3 76.8Z" fill="#0ff624" stroke="none"/>
<path d="M186 78.6L180.9 74.8L176.3 76.8"/>
<path d="M64.1 90.5L69.3 85.5L64.9 83.6L59.7 88.7Z" fill="#00f876" stroke="none"/>
<path d="M69.3 85.5L64.9 83.6L59.7 88.7"/>
<path d="M83.5 84.7L88.6 80.2L84.1 78.1L79 82.6Z" fill="#03f63a" stroke="none"/>
<path d="M88.6 80.2L84.1 78.1L79 82.6"/>
<path d="M93.2 82.4L98.3 78.1L93.7 75.9L88.6 80.2Z" fill="#0bf62d" stroke="none"/>
<path d="M98.3 78.1L93.7 75.9L88.6 80.2"/>
<path d="M142.2 77.1L147 74.1L142.2 71L137.3 74Z" fill="#31f716" stroke="none"/>
<path d="M147 74.1L142.2 71L137.3 74"/>
<path d="M191.1 82.5L195.7 80.8L190.5 76.8L186 78.6Z" fill="#09f630" stroke="none"/>
<path d="M195.7 80.8L190.5 76.8L186 78.6"/>
<path d="M200.8 84.9L205.3 83.5L200.2 79.3L195.7 80.8Z" fill="#01f63e" stroke="none"/>
<path d="M205.3 83.5L200.2 79.3L195.7 80.8"/>
<path d="M220.2 91.1L224.5 90.2L219.3 85.6L214.9 86.6Z" fill="#00f882" stroke="none"/>
<path d="M224.5 90.2L219.3 85.6L214.9 86.6"/>
<path d="M54.5 94L59.7 88.7L55.4 87L50.2 92.3Z" fill="#00f894" stroke="none"/>
<path d="M59.7 88.7L55.4 87L50.2 92.3"/>
<path d="M229.8 94.9L234 94.2L228.8 89.4L224.5 90.2Z" fill="#00f8a2" stroke="none"/>
<path d="M234 94.2L228.8 89.4L224.5 90.2"/>
<path d="M78.2 89.5L83.5 84.7L79 82.6L73.8 87.4Z" fill="#00f75a" stroke="none"/>
<path d="M83.5 84.7L79 82.6L73.8 87.4"/>
<path d="M206.1 89.3L210.5 87.8L205.3 83.5L200.8 84.9Z" fill="#00f75d" stroke="none"/>
<path d="M210.5 87.8L205.3 83.5L200.8 84.9"/>
<path d="M107.6 83L112.7 79L108 76.5L102.9 80.5Z" fill="#0df628" stroke="none"/>
<path d="M112.7 79L108 76.5L102.9 80.5"/>
<path d="M117.5 81.7L122.5 77.9L117.8 75.2L112.7 79Z" fill="#12f620" stroke="none"/>
<path d="M122.5 77.9L117.8 75.2L112.7 79"/>
<path d="M127.3 80.8L132.3 77.3L127.5 74.4L122.5 77.9Z" fill="#14f61b" stroke="none"/>
<path d="M132.3 77.3L127.5 74.4L122.5 77.9"/>
<path d="M157 80.6L161.8 77.9L156.8 74.5L152 77.3Z" fill="#14f61b" stroke="none"/>
<path d="M161.8 77.9L156.8 74.5L152 77.3"/>
<path d="M166.8 81.5L171.6 79L166.5 75.4L161.8 77.9Z" fill="#12f620" stroke="none"/>
<path d="M171.6 79L166.5 75.4L161.8 77.9"/>
<path d="M176.7 82.7L181.4 80.5L176.3 76.8L171.6 79Z" fill="#0df628" stroke="none"/>
<path d="M181.4 80.5L176.3 76.8L171.6 79"/>
<path d="M49.2 99.6L54.5 94L50.2 92.3L44.9 97.9Z" fill="#00f6c1" stroke="none"/>
<path d="M54.5 94L50.2 92.3L44.9 97.9M49.2 99.6L44.9 97.9"/>
<path d="M68.5 92.5L73.8 87.4L69.3 85.5L64.1 90.5Z" fill="#00f879" stroke="none"/>
<path d="M73.8 87.4L69.3 85.5L64.1 90.5"/>
<path d="M97.8 84.8L102.9 80.5L98.3 78.1L93.2 82.4Z" fill="#08f631" stroke="none"/>
<path d="M102.9 80.5L98.3 78.1L93.2 82.4"/>
<path d="M186.5 84.5L191.1 82.5L186 78.6L181.4 80.5Z" fill="#08f632" stroke="none"/>
<path d="M191.1 82.5L186 78.6L181.4 80.5"/>
<path d="M215.8 92.3L220.2 91.1L214.9 86.6L210.5 87.8Z" fill="#00f87d" stroke="none"/>
<path d="M220.2 91.1L214.9 86.6L210.5 87.8"/>
<path d="M235.1 99.8L239.3 99.1L234 94.2L229.8 94.9Z" fill="#00f5d0" stroke="none"/>
<path d="M239.3 99.1L234 94.2L229.8 94.9M235.1 99.8L239.3 99.1"/>
<path d="M137.2 80.3L142.2 77.1L137.3 74L132.3 77.3Z" fill="#16f619" stroke="none"/>
<path d="M142.2 77.1L137.3 74L132.3 77.3"/>
<path d="M147.1 80.2L152 77.3L147 74.1L142.2 77.1Z" fill="#16f619" stroke="none"/>
<path d="M152 77.3L147 74.1L142.2 77.1"/>
<path d="M58.8 95.9L64.1 90.5L59.7 88.7L54.5 94Z" fill="#00f895" stroke="none"/>
<path d="M64.1 90.5L59.7 88.7L54.5 94"/>
<path d="M88 86.9L93.2 82.4L88.6 80.2L83.5 84.7Z" fill="#01f63e" stroke="none"/>
<path d="M93.2 82.4L88.6 80.2L83.5 84.7"/>
<path d="M196.3 86.6L200.8 84.9L195.7 80.8L191.1 82.5Z" fill="#01f63f" stroke="none"/>
<path d="M200.8 84.9L195.7 80.8L191.1 82.5"/>
<path d="M225.5 95.9L229.8 94.9L224.5 90.2L220.2 91.1Z" fill="#00f89b" stroke="none"/>
<path d="M229.8 94.9L224.5 90.2L220.2 91.1"/>
<path d="M112.4 85.7L117.5 81.7L112.7 79L107.6 83Z" fill="#0af62e" stroke="none"/>
<path d="M117.5 81.7L112.7 79L107.6 83"/>
<path d="M122.3 84.5L127.3 80.8L122.5 77.9L117.5 81.7Z" fill="#0ef627" stroke="none"/>
<path d="M127.3 80.8L122.5 77.9L117.5 81.7"/>
<path d="M162 84.2L166.8 81.5L161.8 77.9L157 80.6Z" fill="#0ef626" stroke="none"/>
<path d="M166.8 81.5L161.8 77.9L157 80.6"/>
<path d="M171.9 85.2L176.7 82.7L171.6 79L166.8 81.5Z" fill="#0bf62c" stroke="none"/>
<path d="M176.7 82.7L171.6 79L166.8 81.5"/>
<path d="M53.5 101.4L58.8 95.9L54.5 94L49.2 99.6Z" fill="#00f6c3" stroke="none"/>
<path d="M58.8 95.9L54.5 94L49.2 99.6M53.5 101.4L49.2 99.6"/>
<path d="M73 94.6L78.2 89.5L73.8 87.4L68.5 92.5Z" fill="#00f87d" stroke="none"/>
<path d="M78.2 89.5L73.8 87.4L68.5 92.5"/>
<path d="M82.8 91.7L88 86.9L83.5 84.7L78.2 89.5Z" fill="#00f760" stroke="none"/>
<path d="M88 86.9L83.5 84.7L78.2 89.5"/>
<path d="M102.5 87.3L107.6 83L102.9 80.5L97.8 84.8Z" fill="#05f636" stroke="none"/>
<path d="M107.6 83L102.9 80.5L97.8 84.8"/>
<path d="M181.8 86.6L186.5 84.5L181.4 80.5L176.7 82.7Z" fill="#06f635" stroke="none"/>
<path d="M186.5 84.5L181.4 80.5L176.7 82.7"/>
<path d="M201.5 90.9L206.1 89.3L200.8 84.9L196.3 86.6Z" fill="#00f75d" stroke="none"/>
<path d="M206.1 89.3L200.8 84.9L196.3 86.6"/>
<path d="M211.3 93.7L215.8 92.3L210.5 87.8L206.1 89.3Z" fill="#00f87b" stroke="none"/>
<path d="M215.8 92.3L210.5 87.8L206.1 89.3"/>
<path d="M230.8 100.8L235.1 99.8L229.8 94.9L225.5 95.9Z" fill="#00f6c4" stroke="none"/>
<path d="M235.1 99.8L229.8 94.9L225.5 95.9M230.8 100.8L235.1 99.8"/>
<path d="M132.2 83.8L137.2 80.3L132.3 77.3L127.3 80.8Z" fill="#10f623" stroke="none"/>
<path d="M137.2 80.3L132.3 77.3L127.3 80.8"/>
<path d="M152.1 83.6L157 80.6L152 77.3L147.1 80.2Z" fill="#10f623" stroke="none"/>
<path d="M157 80.6L152 77.3L147.1 80.2"/>
<path d="M63.2 97.8L68.5 92.5L64.1 90.5L58.8 95.9Z" fill="#00f898" stroke="none"/>
<path d="M68.5 92.5L64.1 90.5L58.8 95.9"/>
<path d="M92.6 89.3L97.8 84.8L93.2 82.4L88 86.9Z" fill="#00f644" stroke="none"/>
<path d="M97.8 84.8L93.2 82.4L88 86.9"/>
<path d="M142.2 83.5L147.1 80.2L142.2 77.1L137.2 80.3Z" fill="#11f622" stroke="none"/>
<path d="M147.1 80.2L142.2 77.1L137.2 80.3"/>
<path d="M191.7 88.6L196.3 86.6L191.1 82.5L186.5 84.5Z" fill="#00f640" stroke="none"/>
<path d="M196.3 86.6L191.1 82.5L186.5 84.5"/>
<path d="M221.1 97L225.5 95.9L220.2 91.1L215.8 92.3Z" fill="#00f897" stroke="none"/>
<path d="M225.5 95.9L220.2 91.1L215.8 92.3"/>
<path d="M117.2 88.5L122.3 84.5L117.5 81.7L112.4 85.7Z" fill="#06f634" stroke="none"/>
<path d="M122.3 84.5L117.5 81.7L112.4 85.7"/>
<path d="M167.1 87.9L171.9 85.2L166.8 81.5L162 84.2Z" fill="#08f632" stroke="none"/>
<path d="M171.9 85.2L166.8 81.5L162 84.2"/>
<path d="M57.9 103.4L63.2 97.8L58.8 95.9L53.5 101.4Z" fill="#00f6c6" stroke="none"/>
<path d="M63.2 97.8L58.8 95.9L53.5 101.4M57.9 103.4L53.5 101.4"/>
<path d="M87.4 94.1L92.6 89.3L88 86.9L82.8 91.7Z" fill="#00f869" stroke="none"/>
<path d="M92.6 89.3L88 86.9L82.8 91.7"/>
<path d="M107.3 90L112.4 85.7L107.6 83L102.5 87.3Z" fill="#02f63c" stroke="none"/>
<path d="M112.4 85.7L107.6 83L102.5 87.3"/>
<path d="M177.1 89.1L181.8 86.6L176.7 82.7L171.9 85.2Z" fill="#04f639" stroke="none"/>
<path d="M181.8 86.6L176.7 82.7L171.9 85.2"/>
<path d="M196.9 92.8L201.5 90.9L196.3 86.6L191.7 88.6Z" fill="#00f75f" stroke="none"/>
<path d="M201.5 90.9L196.3 86.6L191.7 88.6"/>
<path d="M226.4 101.9L230.8 100.8L225.5 95.9L221.1 97Z" fill="#00f6bb" stroke="none"/>
<path d="M230.8 100.8L225.5 95.9L221.1 97M226.4 101.9L230.8 100.8"/>
<path d="M127.2 87.5L132.2 83.8L127.3 80.8L122.3 84.5Z" fill="#09f62f" stroke="none"/>
<path d="M132.2 83.8L127.3 80.8L122.3 84.5"/>
<path d="M157.1 87.1L162 84.2L157 80.6L152.1 83.6Z" fill="#0af62d" stroke="none"/>
<path d="M162 84.2L157 80.6L152.1 83.6"/>
<path d="M67.7 99.9L73 94.6L68.5 92.5L63.2 97.8Z" fill="#00f89b" stroke="none"/>
<path d="M73 94.6L68.5 92.5L63.2 97.8"/>
<path d="M77.5 96.8L82.8 91.7L78.2 89.5L73 94.6Z" fill="#00f881" stroke="none"/>
<path d="M82.8 91.7L78.2 89.5L73 94.6"/>
<path d="M97.3 91.8L102.5 87.3L97.8 84.8L92.6 89.3Z" fill="#00f74e" stroke="none"/>
<path d="M102.5 87.3L97.8 84.8L92.6 89.3"/>
<path d="M137.2 86.9L142.2 83.5L137.2 80.3L132.2 83.8Z" fill="#0bf62c" stroke="none"/>
<path d="M142.2 83.5L137.2 80.3L132.2 83.8"/>
<path d="M147.1 86.8L152.1 83.6L147.1 80.2L142.2 83.5Z" fill="#0bf62b" stroke="none"/>
<path d="M152.1 83.6L147.1 80.2L142.2 83.5"/>
<path d="M187 90.7L191.7 88.6L186.5 84.5L181.8 86.6Z" fill="#00f645" stroke="none"/>
<path d="M191.7 88.6L186.5 84.5L181.8 86.6"/>
<path d="M206.8 95.4L211.3 93.7L206.1 89.3L201.5 90.9Z" fill="#00f87a" stroke="none"/>
<path d="M211.3 93.7L206.1 89.3L201.5 90.9"/>
<path d="M216.6 98.4L221.1 97L215.8 92.3L211.3 93.7Z" fill="#00f894" stroke="none"/>
<path d="M221.1 97L215.8 92.3L211.3 93.7"/>
<path d="M62.4 105.5L67.7 99.9L63.2 97.8L57.9 103.4Z" fill="#00f5cb" stroke="none"/>
<path d="M67.7 99.9L63.2 97.8L57.9 103.4M62.4 105.5L57.9 103.4"/>
<path d="M92.1 96.6L97.3 91.8L92.6 89.3L87.4 94.1Z" fill="#00f872" stroke="none"/>
<path d="M97.3 91.8L92.6 89.3L87.4 94.1"/>
<path d="M112.1 92.8L117.2 88.5L112.4 85.7L107.3 90Z" fill="#00f646" stroke="none"/>
<path d="M117.2 88.5L112.4 85.7L107.3 90"/>
<path d="M172.3 91.7L177.1 89.1L171.9 85.2L167.1 87.9Z" fill="#01f63e" stroke="none"/>
<path d="M177.1 89.1L171.9 85.2L167.1 87.9"/>
<path d="M192.3 95L196.9 92.8L191.7 88.6L187 90.7Z" fill="#00f864" stroke="none"/>
<path d="M196.9 92.8L191.7 88.6L187 90.7"/>
<path d="M222 103.3L226.4 101.9L221.1 97L216.6 98.4Z" fill="#00f7b6" stroke="none"/>
<path d="M226.4 101.9L221.1 97L216.6 98.4M222 103.3L226.4 101.9"/>
<path d="M122.1 91.5L127.2 87.5L122.3 84.5L117.2 88.5Z" fill="#02f63c" stroke="none"/>
<path d="M127.2 87.5L122.3 84.5L117.2 88.5"/>
<path d="M162.2 90.8L167.1 87.9L162 84.2L157.1 87.1Z" fill="#04f639" stroke="none"/>
<path d="M167.1 87.9L162 84.2L157.1 87.1"/>
<path d="M82.1 99.2L87.4 94.1L82.8 91.7L77.5 96.8Z" fill="#00f887" stroke="none"/>
<path d="M87.4 94.1L82.8 91.7L77.5 96.8"/>
<path d="M102.1 94.5L107.3 90L102.5 87.3L97.3 91.8Z" fill="#00f75a" stroke="none"/>
<path d="M107.3 90L102.5 87.3L97.3 91.8"/>
<path d="M132.1 90.6L137.2 86.9L132.2 83.8L127.2 87.5Z" fill="#05f637" stroke="none"/>
<path d="M137.2 86.9L132.2 83.8L127.2 87.5"/>
<path d="M142.2 90.2L147.1 86.8L142.2 83.5L137.2 86.9Z" fill="#06f635" stroke="none"/>
<path d="M147.1 86.8L142.2 83.5L137.2 86.9"/>
<path d="M152.2 90.3L157.1 87.1L152.1 83.6L147.1 86.8Z" fill="#06f636" stroke="none"/>
<path d="M157.1 87.1L152.1 83.6L147.1 86.8"/>
<path d="M182.3 93.1L187 90.7L181.8 86.6L177.1 89.1Z" fill="#00f74d" stroke="none"/>
<path d="M187 90.7L181.8 86.6L177.1 89.1"/>
<path d="M202.2 97.3L206.8 95.4L201.5 90.9L196.9 92.8Z" fill="#00f87b" stroke="none"/>
<path d="M206.8 95.4L201.5 90.9L196.9 92.8"/>
<path d="M72.2 102.1L77.5 96.8L73 94.6L67.7 99.9Z" fill="#00f89f" stroke="none"/>
<path d="M77.5 96.8L73 94.6L67.7 99.9"/>
<path d="M212.1 100L216.6 98.4L211.3 93.7L206.8 95.4Z" fill="#00f893" stroke="none"/>
<path d="M216.6 98.4L211.3 93.7L206.8 95.4"/>
<path d="M96.8 99.3L102.1 94.5L97.3 91.8L92.1 96.6Z" fill="#00f879" stroke="none"/>
<path d="M102.1 94.5L97.3 91.8L92.1 96.6"/>
<path d="M187.5 97.3L192.3 95L187 90.7L182.3 93.1Z" fill="#00f86b" stroke="none"/>
<path d="M192.3 95L187 90.7L182.3 93.1"/>
<path d="M66.9 107.7L72.2 102.1L67.7 99.9L62.4 105.5Z" fill="#00f5d1" stroke="none"/>
<path d="M72.2 102.1L67.7 99.9L62.4 105.5M66.9 107.7L62.4 105.5"/>
<path d="M86.8 101.7L92.1 96.6L87.4 94.1L82.1 99.2Z" fill="#00f88d" stroke="none"/>
<path d="M92.1 96.6L87.4 94.1L82.1 99.2"/>
<path d="M106.9 97.3L112.1 92.8L107.3 90L102.1 94.5Z" fill="#00f867" stroke="none"/>
<path d="M112.1 92.8L107.3 90L102.1 94.5"/>
<path d="M116.9 95.7L122.1 91.5L117.2 88.5L112.1 92.8Z" fill="#00f755" stroke="none"/>
<path d="M122.1 91.5L117.2 88.5L112.1 92.8"/>
<path d="M127 94.6L132.1 90.6L127.2 87.5L122.1 91.5Z" fill="#00f648" stroke="none"/>
<path d="M132.1 90.6L127.2 87.5L122.1 91.5"/>
<path d="M137.1 93.9L142.2 90.2L137.2 86.9L132.1 90.6Z" fill="#00f641" stroke="none"/>
<path d="M142.2 90.2L137.2 86.9L132.1 90.6"/>
<path d="M147.2 93.7L152.2 90.3L147.1 86.8L142.2 90.2Z" fill="#00f63f" stroke="none"/>
<path d="M152.2 90.3L147.1 86.8L142.2 90.2"/>
<path d="M157.3 93.9L162.2 90.8L157.1 87.1L152.2 90.3Z" fill="#00f642" stroke="none"/>
<path d="M162.2 90.8L157.1 87.1L152.2 90.3"/>
<path d="M167.4 94.6L172.3 91.7L167.1 87.9L162.2 90.8Z" fill="#00f64a" stroke="none"/>
<path d="M172.3 91.7L167.1 87.9L162.2 90.8"/>
<path d="M177.5 95.7L182.3 93.1L177.1 89.1L172.3 91.7Z" fill="#00f758" stroke="none"/>
<path d="M182.3 93.1L177.1 89.1L172.3 91.7"/>
<path d="M197.6 99.4L202.2 97.3L196.9 92.8L192.3 95Z" fill="#00f87e" stroke="none"/>
<path d="M202.2 97.3L196.9 92.8L192.3 95"/>
<path d="M217.5 104.9L222 103.3L216.6 98.4L212.1 100Z" fill="#00f7b3" stroke="none"/>
<path d="M222 103.3L216.6 98.4L212.1 100M217.5 104.9L222 103.3"/>
<path d="M76.8 104.5L82.1 99.2L77.5 96.8L72.2 102.1Z" fill="#00f8a5" stroke="none"/>
<path d="M82.1 99.2L77.5 96.8L72.2 102.1"/>
<path d="M207.6 101.9L212.1 100L206.8 95.4L202.2 97.3Z" fill="#00f893" stroke="none"/>
<path d="M212.1 100L206.8 95.4L202.2 97.3"/>
<path d="M101.6 102.1L106.9 97.3L102.1 94.5L96.8 99.3Z" fill="#00f882" stroke="none"/>
<path d="M106.9 97.3L102.1 94.5L96.8 99.3"/>
<path d="M182.7 99.9L187.5 97.3L182.3 93.1L177.5 95.7Z" fill="#00f874" stroke="none"/>
<path d="M187.5 97.3L182.3 93.1L177.5 95.7"/>
<path d="M71.5 110.1L76.8 104.5L72.2 102.1L66.9 107.7Z" fill="#00f4d8" stroke="none"/>
<path d="M76.8 104.5L72.2 102.1L66.9 107.7M71.5 110.1L66.9 107.7"/>
<path d="M91.5 104.3L96.8 99.3L92.1 96.6L86.8 101.7Z" fill="#00f894" stroke="none"/>
<path d="M96.8 99.3L92.1 96.6L86.8 101.7"/>
<path d="M132 97.9L137.1 93.9L132.1 90.6L127 94.6Z" fill="#00f75b" stroke="none"/>
<path d="M137.1 93.9L132.1 90.6L127 94.6"/>
<path d="M142.2 97.4L147.2 93.7L142.2 90.2L137.1 93.9Z" fill="#00f755" stroke="none"/>
<path d="M147.2 93.7L142.2 90.2L137.1 93.9"/>
<path d="M152.3 97.4L157.3 93.9L152.2 90.3L147.2 93.7Z" fill="#00f755" stroke="none"/>
<path d="M157.3 93.9L152.2 90.3L147.2 93.7"/>
<path d="M192.8 101.7L197.6 99.4L192.3 95L187.5 97.3Z" fill="#00f883" stroke="none"/>
<path d="M197.6 99.4L192.3 95L187.5 97.3"/>
<path d="M213 106.7L217.5 104.9L212.1 100L207.6 101.9Z" fill="#00f7b3" stroke="none"/>
<path d="M217.5 104.9L212.1 100L207.6 101.9M213 106.7L217.5 104.9"/>
<path d="M121.8 98.9L127 94.6L122.1 91.5L116.9 95.7Z" fill="#00f865" stroke="none"/>
<path d="M127 94.6L122.1 91.5L116.9 95.7"/>
<path d="M162.5 97.8L167.4 94.6L162.2 90.8L157.3 93.9Z" fill="#00f75a" stroke="none"/>
<path d="M167.4 94.6L162.2 90.8L157.3 93.9"/>
<path d="M81.5 107L86.8 101.7L82.1 99.2L76.8 104.5Z" fill="#00f7af" stroke="none"/>
<path d="M86.8 101.7L82.1 99.2L76.8 104.5"/>
<path d="M111.7 100.2L116.9 95.7L112.1 92.8L106.9 97.3Z" fill="#00f873" stroke="none"/>
<path d="M116.9 95.7L112.1 92.8L106.9 97.3"/>
<path d="M172.6 98.6L177.5 95.7L172.3 91.7L167.4 94.6Z" fill="#00f865" stroke="none"/>
<path d="M177.5 95.7L172.3 91.7L167.4 94.6"/>
<path d="M202.9 104L207.6 101.9L202.2 97.3L197.6 99.4Z" fill="#00f895" stroke="none"/>
<path d="M207.6 101.9L202.2 97.3L197.6 99.4"/>
<path d="M76.1 112.6L81.5 107L76.8 104.5L71.5 110.1Z" fill="#00f4e1" stroke="none"/>
<path d="M81.5 107L76.8 104.5L71.5 110.1M76.1 112.6L71.5 110.1"/>
<path d="M96.3 107.1L101.6 102.1L96.8 99.3L91.5 104.3Z" fill="#00f89c" stroke="none"/>
<path d="M101.6 102.1L96.8 99.3L91.5 104.3"/>
<path d="M106.5 105L111.7 100.2L106.9 97.3L101.6 102.1Z" fill="#00f88c" stroke="none"/>
<path d="M111.7 100.2L106.9 97.3L101.6 102.1"/>
<path d="M126.8 102.1L132 97.9L127 94.6L121.8 98.9Z" fill="#00f875" stroke="none"/>
<path d="M132 97.9L127 94.6L121.8 98.9"/>
<path d="M137 101.4L142.2 97.4L137.1 93.9L132 97.9Z" fill="#00f86e" stroke="none"/>
<path d="M142.2 97.4L137.1 93.9L132 97.9"/>
<path d="M147.3 101L152.3 97.4L147.2 93.7L142.2 97.4Z" fill="#00f86b" stroke="none"/>
<path d="M152.3 97.4L147.2 93.7L142.2 97.4"/>
<path d="M157.5 101.2L162.5 97.8L157.3 93.9L152.3 97.4Z" fill="#00f86d" stroke="none"/>
<path d="M162.5 97.8L157.3 93.9L152.3 97.4"/>
<path d="M177.9 102.8L182.7 99.9L177.5 95.7L172.6 98.6Z" fill="#00f87c" stroke="none"/>
<path d="M182.7 99.9L177.5 95.7L172.6 98.6"/>
<path d="M188.1 104.3L192.8 101.7L187.5 97.3L182.7 99.9Z" fill="#00f889" stroke="none"/>
<path d="M192.8 101.7L187.5 97.3L182.7 99.9"/>
<path d="M208.3 108.7L213 106.7L207.6 101.9L202.9 104Z" fill="#00f7b6" stroke="none"/>
<path d="M213 106.7L207.6 101.9L202.9 104M208.3 108.7L213 106.7"/>
<path d="M86.2 109.6L91.5 104.3L86.8 101.7L81.5 107Z" fill="#00f6ba" stroke="none"/>
<path d="M91.5 104.3L86.8 101.7L81.5 107"/>
<path d="M198.2 106.3L202.9 104L197.6 99.4L192.8 101.7Z" fill="#00f899" stroke="none"/>
<path d="M202.9 104L197.6 99.4L192.8 101.7"/>
<path d="M116.6 103.4L121.8 98.9L116.9 95.7L111.7 100.2Z" fill="#00f87e" stroke="none"/>
<path d="M121.8 98.9L116.9 95.7L111.7 100.2"/>
<path d="M167.7 101.8L172.6 98.6L167.4 94.6L162.5 97.8Z" fill="#00f873" stroke="none"/>
<path d="M172.6 98.6L167.4 94.6L162.5 97.8"/>
<path d="M80.8 115.2L86.2 109.6L81.5 107L76.1 112.6Z" fill="#00f2e4" stroke="none"/>
<path d="M86.2 109.6L81.5 107L76.1 112.6M80.8 115.2L76.1 112.6"/>
<path d="M142.2 105L147.3 101L142.2 97.4L137 101.4Z" fill="#00f87e" stroke="none"/>
<path d="M147.3 101L142.2 97.4L137 101.4"/>
<path d="M203.6 111L208.3 108.7L202.9 104L198.2 106.3Z" fill="#00f6bb" stroke="none"/>
<path d="M208.3 108.7L202.9 104L198.2 106.3M203.6 111L208.3 108.7"/>
<path d="M90.9 112.4L96.3 107.1L91.5 104.3L86.2 109.6Z" fill="#00f6c7" stroke="none"/>
<path d="M96.3 107.1L91.5 104.3L86.2 109.6"/>
<path d="M101.1 110.1L106.5 105L101.6 102.1L96.3 107.1Z" fill="#00f8a8" stroke="none"/>
<path d="M106.5 105L101.6 102.1L96.3 107.1"/>
<path d="M111.4 108.1L116.6 103.4L111.7 100.2L106.5 105Z" fill="#00f896" stroke="none"/>
<path d="M116.6 103.4L111.7 100.2L106.5 105"/>
<path d="M121.6 106.6L126.8 102.1L121.8 98.9L116.6 103.4Z" fill="#00f88a" stroke="none"/>
<path d="M126.8 102.1L121.8 98.9L116.6 103.4"/>
<path d="M131.9 105.6L137 101.4L132 97.9L126.8 102.1Z" fill="#00f882" stroke="none"/>
<path d="M137 101.4L132 97.9L126.8 102.1"/>
<path d="M152.4 104.8L157.5 101.2L152.3 97.4L147.3 101Z" fill="#00f87d" stroke="none"/>
<path d="M157.5 101.2L152.3 97.4L147.3 101"/>
<path d="M162.7 105.1L167.7 101.8L162.5 97.8L157.5 101.2Z" fill="#00f880" stroke="none"/>
<path d="M167.7 101.8L162.5 97.8L157.5 101.2"/>
<path d="M173 105.9L177.9 102.8L172.6 98.6L167.7 101.8Z" fill="#00f886" stroke="none"/>
<path d="M177.9 102.8L172.6 98.6L167.7 101.8"/>
<path d="M183.2 107.2L188.1 104.3L182.7 99.9L177.9 102.8Z" fill="#00f891" stroke="none"/>
<path d="M188.1 104.3L182.7 99.9L177.9 102.8"/>
<path d="M193.4 108.9L198.2 106.3L192.8 101.7L188.1 104.3Z" fill="#00f89f" stroke="none"/>
<path d="M198.2 106.3L192.8 101.7L188.1 104.3"/>
<path d="M85.5 118L90.9 112.4L86.2 109.6L80.8 115.2Z" fill="#00f0e8" stroke="none"/>
<path d="M90.9 112.4L86.2 109.6L80.8 115.2M85.5 118L80.8 115.2"/>
<path d="M116.3 111.4L121.6 106.6L116.6 103.4L111.4 108.1Z" fill="#00f8a2" stroke="none"/>
<path d="M121.6 106.6L116.6 103.4L111.4 108.1"/>
<path d="M137 109.2L142.2 105L137 101.4L131.9 105.6Z" fill="#00f890" stroke="none"/>
<path d="M142.2 105L137 101.4L131.9 105.6"/>
<path d="M147.3 108.7L152.4 104.8L147.3 101L142.2 105Z" fill="#00f88d" stroke="none"/>
<path d="M152.4 104.8L147.3 101L142.2 105"/>
<path d="M168 109.3L173 105.9L167.7 101.8L162.7 105.1Z" fill="#00f892" stroke="none"/>
<path d="M173 105.9L167.7 101.8L162.7 105.1"/>
<path d="M198.9 113.6L203.6 111L198.2 106.3L193.4 108.9Z" fill="#00f6c4" stroke="none"/>
<path d="M203.6 111L198.2 106.3L193.4 108.9M198.9 113.6L203.6 111"/>
<path d="M95.8 115.4L101.1 110.1L96.3 107.1L90.9 112.4Z" fill="#00f5d6" stroke="none"/>
<path d="M101.1 110.1L96.3 107.1L90.9 112.4"/>
<path d="M106.1 113.2L111.4 108.1L106.5 105L101.1 110.1Z" fill="#00f7b8" stroke="none"/>
<path d="M111.4 108.1L106.5 105L101.1 110.1"/>
<path d="M126.7 110L131.9 105.6L126.8 102.1L121.6 106.6Z" fill="#00f897" stroke="none"/>
<path d="M131.9 105.6L126.8 102.1L121.6 106.6"/>
<path d="M157.7 108.8L162.7 105.1L157.5 101.2L152.4 104.8Z" fill="#00f88e" stroke="none"/>
<path d="M162.7 105.1L157.5 101.2L152.4 104.8"/>
<path d="M178.3 110.2L183.2 107.2L177.9 102.8L173 105.9Z" fill="#00f89b" stroke="none"/>
<path d="M183.2 107.2L177.9 102.8L173 105.9"/>
<path d="M188.6 111.7L193.4 108.9L188.1 104.3L183.2 107.2Z" fill="#00f7aa" stroke="none"/>
<path d="M193.4 108.9L188.1 104.3L183.2 107.2"/>
<path d="M90.4 121L95.8 115.4L90.9 112.4L85.5 118Z" fill="#00edec" stroke="none"/>
<path d="M95.8 115.4L90.9 112.4L85.5 118M90.4 121L85.5 118"/>
<path d="M111 116.4L116.3 111.4L111.4 108.1L106.1 113.2Z" fill="#00f5cb" stroke="none"/>
<path d="M116.3 111.4L111.4 108.1L106.1 113.2"/>
<path d="M121.4 114.8L126.7 110L121.6 106.6L116.3 111.4Z" fill="#00f7b6" stroke="none"/>
<path d="M126.7 110L121.6 106.6L116.3 111.4"/>
<path d="M131.8 113.6L137 109.2L131.9 105.6L126.7 110Z" fill="#00f8a7" stroke="none"/>
<path d="M137 109.2L131.9 105.6L126.7 110"/>
<path d="M142.2 112.9L147.3 108.7L142.2 105L137 109.2Z" fill="#00f8a0" stroke="none"/>
<path d="M147.3 108.7L142.2 105L137 109.2"/>
<path d="M152.5 112.7L157.7 108.8L152.4 104.8L147.3 108.7Z" fill="#00f89e" stroke="none"/>
<path d="M157.7 108.8L152.4 104.8L147.3 108.7"/>
<path d="M162.9 112.9L168 109.3L162.7 105.1L157.7 108.8Z" fill="#00f8a0" stroke="none"/>
<path d="M168 109.3L162.7 105.1L157.7 108.8"/>
<path d="M173.3 113.6L178.3 110.2L173 105.9L168 109.3Z" fill="#00f8a9" stroke="none"/>
<path d="M178.3 110.2L173 105.9L168 109.3"/>
<path d="M194 116.4L198.9 113.6L193.4 108.9L188.6 111.7Z" fill="#00f5d0" stroke="none"/>
<path d="M198.9 113.6L193.4 108.9L188.6 111.7M194 116.4L198.9 113.6"/>
<path d="M100.7 118.5L106.1 113.2L101.1 110.1L95.8 115.4Z" fill="#00f3e2" stroke="none"/>
<path d="M106.1 113.2L101.1 110.1L95.8 115.4"/>
<path d="M183.7 114.8L188.6 111.7L183.2 107.2L178.3 110.2Z" fill="#00f7b9" stroke="none"/>
<path d="M188.6 111.7L183.2 107.2L178.3 110.2"/>
<path d="M126.5 118.4L131.8 113.6L126.7 110L121.4 114.8Z" fill="#00f5cc" stroke="none"/>
<path d="M131.8 113.6L126.7 110L121.4 114.8"/>
<path d="M157.8 116.8L162.9 112.9L157.7 108.8L152.5 112.7Z" fill="#00f7b9" stroke="none"/>
<path d="M162.9 112.9L157.7 108.8L152.5 112.7"/>
<path d="M95.3 124L100.7 118.5L95.8 115.4L90.4 121Z" fill="#00ebf1" stroke="none"/>
<path d="M100.7 118.5L95.8 115.4L90.4 121M95.3 124L90.4 121"/>
<path d="M105.6 121.7L111 116.4L106.1 113.2L100.7 118.5Z" fill="#00f0e7" stroke="none"/>
<path d="M111 116.4L106.1 113.2L100.7 118.5"/>
<path d="M116 119.8L121.4 114.8L116.3 111.4L111 116.4Z" fill="#00f4de" stroke="none"/>
<path d="M121.4 114.8L116.3 111.4L111 116.4"/>
<path d="M136.9 117.4L142.2 112.9L137 109.2L131.8 113.6Z" fill="#00f6bf" stroke="none"/>
<path d="M142.2 112.9L137 109.2L131.8 113.6"/>
<path d="M147.4 116.8L152.5 112.7L147.3 108.7L142.2 112.9Z" fill="#00f7b9" stroke="none"/>
<path d="M152.5 112.7L147.3 108.7L142.2 112.9"/>
<path d="M168.3 117.2L173.3 113.6L168 109.3L162.9 112.9Z" fill="#00f6bf" stroke="none"/>
<path d="M173.3 113.6L168 109.3L162.9 112.9"/>
<path d="M178.7 118.1L183.7 114.8L178.3 110.2L173.3 113.6Z" fill="#00f5cb" stroke="none"/>
<path d="M183.7 114.8L178.3 110.2L173.3 113.6"/>
<path d="M189.1 119.4L194 116.4L188.6 111.7L183.7 114.8Z" fill="#00f4de" stroke="none"/>
<path d="M194 116.4L188.6 111.7L183.7 114.8M189.1 119.4L194 116.4"/>
<path d="M100.2 127.3L105.6 121.7L100.7 118.5L95.3 124Z" fill="#00e7f6" stroke="none"/>
<path d="M105.6 121.7L100.7 118.5L95.3 124M100.2 127.3L95.3 124"/>
<path d="M121.1 123.4L126.5 118.4L121.4 114.8L116 119.8Z" fill="#00f1e6" stroke="none"/>
<path d="M126.5 118.4L121.4 114.8L116 119.8"/>
<path d="M131.6 122.1L136.9 117.4L131.8 113.6L126.5 118.4Z" fill="#00f3e1" stroke="none"/>
<path d="M136.9 117.4L131.8 113.6L126.5 118.4"/>
<path d="M152.7 120.9L157.8 116.8L152.5 112.7L147.4 116.8Z" fill="#00f5d5" stroke="none"/>
<path d="M157.8 116.8L152.5 112.7L147.4 116.8"/>
<path d="M163.2 121.1L168.3 117.2L162.9 112.9L157.8 116.8Z" fill="#00f5d8" stroke="none"/>
<path d="M168.3 117.2L162.9 112.9L157.8 116.8"/>
<path d="M184.2 122.7L189.1 119.4L183.7 114.8L178.7 118.1Z" fill="#00f1e5" stroke="none"/>
<path d="M189.1 119.4L183.7 114.8L178.7 118.1M184.2 122.7L189.1 119.4"/>
<path d="M110.7 125.1L116 119.8L111 116.4L105.6 121.7Z" fill="#00eded" stroke="none"/>
<path d="M116 119.8L111 116.4L105.6 121.7"/>
<path d="M142.2 121.3L147.4 116.8L142.2 112.9L136.9 117.4Z" fill="#00f4d9" stroke="none"/>
<path d="M147.4 116.8L142.2 112.9L136.9 117.4"/>
<path d="M173.7 121.7L178.7 118.1L173.3 113.6L168.3 117.2Z" fill="#00f4e0" stroke="none"/>
<path d="M178.7 118.1L173.3 113.6L168.3 117.2"/>
<path d="M105.2 130.6L110.7 125.1L105.6 121.7L100.2 127.3Z" fill="#02dff9" stroke="none"/>
<path d="M110.7 125.1L105.6 121.7L100.2 127.3M105.2 130.6L100.2 127.3"/>
<path d="M115.7 128.6L121.1 123.4L116 119.8L110.7 125.1Z" fill="#00e9f4" stroke="none"/>
<path d="M121.1 123.4L116 119.8L110.7 125.1"/>
<path d="M126.3 127.1L131.6 122.1L126.5 118.4L121.1 123.4Z" fill="#00edee" stroke="none"/>
<path d="M131.6 122.1L126.5 118.4L121.1 123.4"/>
<path d="M136.9 126L142.2 121.3L136.9 117.4L131.6 122.1Z" fill="#00efe9" stroke="none"/>
<path d="M142.2 121.3L136.9 117.4L131.6 122.1"/>
<path d="M147.4 125.3L152.7 120.9L147.4 116.8L142.2 121.3Z" fill="#00f0e7" stroke="none"/>
<path d="M152.7 120.9L147.4 116.8L142.2 121.3"/>
<path d="M158 125.2L163.2 121.1L157.8 116.8L152.7 120.9Z" fill="#00f1e6" stroke="none"/>
<path d="M163.2 121.1L157.8 116.8L152.7 120.9"/>
<path d="M168.6 125.5L173.7 121.7L168.3 117.2L163.2 121.1Z" fill="#00f0e8" stroke="none"/>
<path d="M173.7 121.7L168.3 117.2L163.2 121.1"/>
<path d="M179.2 126.3L184.2 122.7L178.7 118.1L173.7 121.7Z" fill="#00eeeb" stroke="none"/>
<path d="M184.2 122.7L178.7 118.1L173.7 121.7M179.2 126.3L184.2 122.7"/>
<path d="M110.3 134.2L115.7 128.6L110.7 125.1L105.2 130.6Z" fill="#04d6fc" stroke="none"/>
<path d="M115.7 128.6L110.7 125.1L105.2 130.6M110.3 134.2L105.2 130.6"/>
<path d="M142.2 130L147.4 125.3L142.2 121.3L136.9 126Z" fill="#00eaf2" stroke="none"/>
<path d="M147.4 125.3L142.2 121.3L136.9 126"/>
<path d="M174.1 130.1L179.2 126.3L173.7 121.7L168.6 125.5Z" fill="#00eaf3" stroke="none"/>
<path d="M179.2 126.3L173.7 121.7L168.6 125.5M174.1 130.1L179.2 126.3"/>
<path d="M120.9 132.3L126.3 127.1L121.1 123.4L115.7 128.6Z" fill="#01e1f8" stroke="none"/>
<path d="M126.3 127.1L121.1 123.4L115.7 128.6"/>
<path d="M131.5 130.9L136.9 126L131.6 122.1L126.3 127.1Z" fill="#00e8f5" stroke="none"/>
<path d="M136.9 126L131.6 122.1L126.3 127.1"/>
<path d="M152.8 129.6L158 125.2L152.7 120.9L147.4 125.3Z" fill="#00ebf0" stroke="none"/>
<path d="M158 125.2L152.7 120.9L147.4 125.3"/>
<path d="M163.4 129.6L168.6 125.5L163.2 121.1L158 125.2Z" fill="#00ebf0" stroke="none"/>
<path d="M168.6 125.5L163.2 121.1L158 125.2"/>
<path d="M115.4 137.9L120.9 132.3L115.7 128.6L110.3 134.2Z" fill="#07ccfe" stroke="none"/>
<path d="M120.9 132.3L115.7 128.6L110.3 134.2M115.4 137.9L110.3 134.2"/>
<path d="M136.8 135L142.2 130L136.9 126L131.5 130.9Z" fill="#02ddf9" stroke="none"/>
<path d="M142.2 130L136.9 126L131.5 130.9"/>
<path d="M147.5 134.3L152.8 129.6L147.4 125.3L142.2 130Z" fill="#01e1f8" stroke="none"/>
<path d="M152.8 129.6L147.4 125.3L142.2 130"/>
<path d="M168.9 134.2L174.1 130.1L168.6 125.5L163.4 129.6Z" fill="#01e1f8" stroke="none"/>
<path d="M174.1 130.1L168.6 125.5L163.4 129.6M168.9 134.2L174.1 130.1"/>
<path d="M126.1 136.2L131.5 130.9L126.3 127.1L120.9 132.3Z" fill="#04d6fc" stroke="none"/>
<path d="M131.5 130.9L126.3 127.1L120.9 132.3"/>
<path d="M158.2 134L163.4 129.6L158 125.2L152.8 129.6Z" fill="#01e2f8" stroke="none"/>
<path d="M163.4 129.6L158 125.2L152.8 129.6"/>
<path d="M120.7 141.7L126.1 136.2L120.9 132.3L115.4 137.9Z" fill="#12c2ff" stroke="none"/>
<path d="M126.1 136.2L120.9 132.3L115.4 137.9M120.7 141.7L115.4 137.9"/>
<path d="M131.4 140.2L136.8 135L131.5 130.9L126.1 136.2Z" fill="#09cafe" stroke="none"/>
<path d="M136.8 135L131.5 130.9L126.1 136.2"/>
<path d="M142.2 139.2L147.5 134.3L142.2 130L136.8 135Z" fill="#05d0fd" stroke="none"/>
<path d="M147.5 134.3L142.2 130L136.8 135"/>
<path d="M152.9 138.6L158.2 134L152.8 129.6L147.5 134.3Z" fill="#04d3fc" stroke="none"/>
<path d="M158.2 134L152.8 129.6L147.5 134.3"/>
<path d="M163.7 138.6L168.9 134.2L163.4 129.6L158.2 134Z" fill="#04d3fc" stroke="none"/>
<path d="M168.9 134.2L163.4 129.6L158.2 134M163.7 138.6L168.9 134.2"/>
<path d="M125.9 145.7L131.4 140.2L126.1 136.2L120.7 141.7Z" fill="#1cb7ff" stroke="none"/>
<path d="M131.4 140.2L126.1 136.2L120.7 141.7M125.9 145.7L120.7 141.7"/>
<path d="M158.4 143.2L163.7 138.6L158.2 134L152.9 138.6Z" fill="#0ec5fe" stroke="none"/>
<path d="M163.7 138.6L158.2 134L152.9 138.6M158.4 143.2L163.7 138.6"/>
<path d="M136.7 144.4L142.2 139.2L136.8 135L131.4 140.2Z" fill="#15bfff" stroke="none"/>
<path d="M142.2 139.2L136.8 135L131.4 140.2"/>
<path d="M147.6 143.6L152.9 138.6L147.5 134.3L142.2 139.2Z" fill="#10c3fe" stroke="none"/>
<path d="M152.9 138.6L147.5 134.3L142.2 139.2"/>
<path d="M131.3 149.9L136.7 144.4L131.4 140.2L125.9 145.7Z" fill="#2bacff" stroke="none"/>
<path d="M136.7 144.4L131.4 140.2L125.9 145.7M131.3 149.9L125.9 145.7"/>
<path d="M153 148.1L158.4 143.2L152.9 138.6L147.6 143.6Z" fill="#1eb6ff" stroke="none"/>
<path d="M158.4 143.2L152.9 138.6L147.6 143.6M153 148.1L158.4 143.2"/>
<path d="M142.2 148.8L147.6 143.6L142.2 139.2L136.7 144.4Z" fill="#23b2ff" stroke="none"/>
<path d="M147.6 143.6L142.2 139.2L136.7 144.4"/>
<path d="M136.7 154.3L142.2 148.8L136.7 144.4L131.3 149.9Z" fill="#3b9fff" stroke="none"/>
<path d="M142.2 148.8L136.7 144.4L131.3 149.9M136.7 154.3L131.3 149.9"/>
<path d="M147.6 153.3L153 148.1L147.6 143.6L142.2 148.8Z" fill="#34a4ff" stroke="none"/>
<path d="M153 148.1L147.6 143.6L142.2 148.8M147.6 153.3L153 148.1"/>
<path d="M142.2 158.8L147.6 153.3L142.2 148.8L136.7 154.3Z" fill="#4b92ff" stroke="none"/>
<path d="M147.6 153.3L142.2 148.8L136.7 154.3M142.2 158.8L136.7 154.3M142.2 158.8L147.6 153.3"/>
</g>
<circle cx="44.91" cy="97.97" r="2.1" fill="#e30000" stroke="#8a0000" stroke-width="0.45"/><circle cx="142.15" cy="159.41" r="2.1" fill="#e30000" stroke="#8a0000" stroke-width="0.45"/><circle cx="239.34" cy="99.04" r="2.1" fill="#e30000" stroke="#8a0000" stroke-width="0.45"/><circle cx="142.15" cy="74.06" r="2.1" fill="#e30000" stroke="#8a0000" stroke-width="0.45"/>
<circle cx="46.31" cy="129.81" r="1.25" fill="#111"/>
<circle cx="45.47" cy="110.74" r="1.25" fill="#111"/>
<circle cx="44.62" cy="91.33" r="1.25" fill="#111"/>
<circle cx="43.75" cy="71.57" r="1.25" fill="#111"/>
<circle cx="42.87" cy="51.46" r="1.25" fill="#111"/>
<circle cx="41.97" cy="30.99" r="1.25" fill="#111"/>
<circle cx="142.15" cy="206.66" r="1.25" fill="#111"/>
<circle cx="157.89" cy="199.12" r="1.25" fill="#111"/>
<circle cx="173.64" cy="191.57" r="1.25" fill="#111"/>
<circle cx="189.38" cy="184.03" r="1.25" fill="#111"/>
<circle cx="205.12" cy="176.48" r="1.25" fill="#111"/>
<circle cx="220.86" cy="168.93" r="1.25" fill="#111"/>
<circle cx="236.61" cy="161.39" r="1.25" fill="#111"/>
<circle cx="142.15" cy="206.66" r="1.25" fill="#111"/>
<circle cx="118.54" cy="195.34" r="1.25" fill="#111"/>
<circle cx="94.92" cy="184.03" r="1.25" fill="#111"/>
<circle cx="71.31" cy="172.71" r="1.25" fill="#111"/>
<circle cx="47.69" cy="161.39" r="1.25" fill="#111"/>
<circle cx="236.61" cy="161.39" r="1.25" fill="#111"/>
<g font-family="'Liberation Serif', serif" font-size="14.3" fill="#000" stroke="#000" stroke-width="0.35" text-anchor="middle">
<text x="38.61" y="126.91" text-anchor="end">0</text>
<text x="37.77" y="107.84" text-anchor="end">20</text>
<text x="36.92" y="88.43" text-anchor="end">40</text>
<text x="36.05" y="68.67" text-anchor="end">60</text>
<text x="35.17" y="48.56" text-anchor="end">80</text>
<text x="34.27" y="28.09" text-anchor="end">100</text>
<text x="149.45" y="220.16" text-anchor="start">20</text>
<text x="165.19" y="212.62" text-anchor="start">30</text>
<text x="180.94" y="205.07" text-anchor="start">40</text>
<text x="196.68" y="197.53" text-anchor="start">50</text>
<text x="212.42" y="189.98" text-anchor="start">60</text>
<text x="228.16" y="182.43" text-anchor="start">70</text>
<text x="243.91" y="174.89" text-anchor="start">80</text>
<text x="134.55" y="219.86" text-anchor="end">5</text>
<text x="110.94" y="208.54" text-anchor="end">6</text>
<text x="87.32" y="197.23" text-anchor="end">7</text>
<text x="63.71" y="185.91" text-anchor="end">8</text>
<text x="40.09" y="174.59" text-anchor="end">9</text>
</g>
<g font-family="'Liberation Serif', serif" font-size="12.1" fill="#000" stroke="#000" stroke-width="0.25" text-anchor="middle">
<text x="225" y="208.6">x1</text>
<text x="58.2" y="208.6">x2</text>
<text transform="translate(18 98) rotate(-90)" font-size="12.65">Remove all rate (%)</text>
</g>
<text x="133" y="248.8" font-family="'Liberation Serif', serif" font-size="14" fill="#111" text-anchor="middle">(<tspan font-weight="bold">a</tspan>)</text>
<path d="M341.6 124.34L337.83 23.03M358.26 118.72L355.24 19.17M374.92 113.11L372.66 15.31M391.58 107.49L390.07 11.45M408.24 101.87L407.49 7.59M424.9 96.26L424.9 3.73M441.56 101.87L442.31 7.59M458.22 107.49L459.73 11.45M474.88 113.11L477.14 15.31M491.54 118.72L494.56 19.17M508.2 124.34L511.97 23.03M324.94 129.96L424.9 96.26L524.86 129.96M324.07 110.07L424.9 78.32L525.73 110.07M323.18 89.82L424.9 60.11L526.62 89.82M322.28 69.22L424.9 41.62L527.52 69.22M321.35 48.24L424.9 22.82L528.45 48.24M320.42 26.89L424.9 3.73L529.38 26.89M523.41 162.89L529.38 26.89" fill="none" stroke="#444" stroke-width="0.8"/>
<polygon points="326.39,162.89 424.9,210.11 523.41,162.89 424.9,126.01" fill="#616161"/>
<polyline points="342.29,156.93 342.51,157.76 342.54,157.84 342.76,158.58 342.94,159.15 343.03,159.4 343.32,160.21 343.42,160.5 343.62,161.02 343.95,161.83 343.98,161.9 344.29,162.63 344.61,163.35 344.66,163.44 345.04,164.24 345.34,164.85 345.44,165.04 345.85,165.83 346.16,166.4 346.28,166.63 346.73,167.42 347.08,168.01 347.2,168.21 347.68,169 348.11,169.68 348.17,169.79 348.69,170.57 349.21,171.36 349.26,171.43 349.75,172.14 350.31,172.92 350.55,173.25 350.88,173.7 351.46,174.48 351.98,175.15" fill="none" stroke="#0098eb" stroke-width="1.25" stroke-linecap="round"/>
<polyline points="362.13,149.51 362.03,150.42 362.03,150.43 361.97,151.35 361.97,151.43 361.96,152.25 361.96,152.48 361.98,153.15 362,153.56 362.04,154.03 362.09,154.66 362.12,154.91 362.24,155.78 362.24,155.8 362.39,156.65 362.46,156.98 362.57,157.51 362.73,158.19 362.78,158.36 363.01,159.21 363.08,159.44 363.27,160.05 363.5,160.73 363.55,160.89 363.86,161.72 363.99,162.07 364.19,162.55 364.54,163.38 364.57,163.45 364.91,164.2 365.23,164.88 365.3,165.02 365.71,165.84 365.99,166.36 366.15,166.65 366.6,167.46 366.85,167.91 367.07,168.27 367.56,169.07 367.83,169.51 368.06,169.87 368.58,170.67 368.92,171.18 369.12,171.47 369.68,172.27 370.15,172.92 370.25,173.06 370.85,173.85 371.45,174.64 371.53,174.75 372.07,175.43 372.71,176.22 373.08,176.66 373.36,177 374.03,177.79 374.71,178.57 374.8,178.68 375.41,179.35 376.12,180.13 376.74,180.81 376.84,180.91 377.58,181.69 378.33,182.46 378.92,183.06 379.1,183.24 379.88,184.01 380.67,184.79 381.37,185.46 381.48,185.56 382.3,186.33 383.13,187.1 383.98,187.88 384.16,188.04 384.84,188.65 385.71,189.41 386.59,190.18 387.33,190.82 387.49,190.95 388.4,191.72 389.32,192.49 390.25,193.25 390.99,193.85" fill="none" stroke="#00ebcb" stroke-width="1.25" stroke-linecap="round"/>
<polyline points="432.46,206.48 431.25,205.73 430.06,204.98 428.88,204.22 427.98,203.64 427.71,203.47 426.56,202.71 425.41,201.95 424.28,201.2 423.16,200.44 422.06,199.68 421.59,199.36 420.96,198.92 419.89,198.16 418.82,197.4 417.76,196.64 416.72,195.88 416.49,195.71 415.69,195.12 414.68,194.35 413.68,193.59 412.68,192.82 412.25,192.49 411.71,192.06 410.75,191.29 409.8,190.52 408.86,189.75 408.66,189.58 407.94,188.98 407.04,188.21 406.14,187.43 405.56,186.92 405.26,186.66 404.4,185.88 403.55,185.11 402.86,184.47 402.71,184.33 401.89,183.55 401.09,182.76 400.5,182.18 400.3,181.98 399.52,181.2 398.76,180.41 398.42,180.04 398.02,179.62 397.3,178.83 396.58,178.04 396.57,178.02 395.89,177.24 395.21,176.44 394.94,176.12 394.56,175.64 393.91,174.84 393.49,174.3 393.29,174.04 392.69,173.23 392.21,172.58 392.1,172.42 391.53,171.6 391.08,170.93 390.98,170.79 390.46,169.97 390.08,169.35 389.95,169.14 389.47,168.31 389.2,167.84 389.01,167.48 388.57,166.65 388.44,166.39 388.15,165.8 387.77,164.99 387.76,164.96 387.4,164.11 387.21,163.64 387.06,163.25 386.74,162.39 386.73,162.35 386.47,161.52 386.34,161.09 386.21,160.64 386.02,159.88 385.99,159.76 385.8,158.86 385.77,158.71 385.65,157.96 385.6,157.57 385.54,157.05 385.49,156.47 385.47,156.13 385.44,155.41 385.44,155.2 385.44,154.37 385.45,154.25 385.51,153.37 385.51,153.29 385.62,152.39 385.64,152.32 385.79,151.45 385.82,151.32 386,150.53 386.06,150.31 386.27,149.63 386.39,149.27 386.57,148.76 386.79,148.21 386.92,147.91 387.29,147.12 387.31,147.09 387.74,146.28 387.91,145.99 388.21,145.5 388.66,144.81 388.71,144.74 389.26,143.99 389.59,143.58 389.83,143.27 390.44,142.57 390.72,142.27 391.09,141.88 391.77,141.21 392.15,140.86 392.48,140.56 393.22,139.92 393.99,139.3 394,139.29 394.79,138.7 395.62,138.11 396.48,137.54 396.61,137.45 397.37,136.98 398.28,136.44 399.23,135.91 400.2,135.39 401.19,134.89" fill="none" stroke="#00eb58" stroke-width="1.25" stroke-linecap="round"/>
<polyline points="428.01,127.18 426.48,127.43 424.98,127.69 424.68,127.75 423.5,127.97 422.05,128.25 420.62,128.55 419.94,128.7 419.22,128.86 417.84,129.18 416.49,129.51 415.16,129.85 413.86,130.2 413.22,130.39" fill="none" stroke="#00eb58" stroke-width="1.25" stroke-linecap="round"/>
<polyline points="448.11,198.98 446.96,198.23 445.83,197.47 444.71,196.72 443.6,195.96 442.72,195.35 442.5,195.2 441.43,194.44 440.37,193.67 439.32,192.91 438.28,192.14 438.27,192.14 437.27,191.38 436.26,190.61 435.27,189.83 434.58,189.29 434.3,189.06 433.35,188.28 432.4,187.51 431.48,186.73 431.44,186.7 430.57,185.94 429.68,185.16 428.8,184.37 428.75,184.33 427.95,183.58 427.11,182.79 426.43,182.13 426.29,182 425.48,181.2 424.7,180.4 424.4,180.09 423.93,179.59 423.19,178.79 422.62,178.16 422.46,177.98 421.75,177.16 421.07,176.35 421.06,176.34 420.4,175.52 419.76,174.69 419.71,174.63 419.14,173.86 418.54,173.03 418.52,173 417.97,172.18 417.49,171.45 417.42,171.34 416.9,170.48 416.6,169.97 416.41,169.63 415.94,168.76 415.83,168.55 415.51,167.89 415.18,167.19 415.1,167.01 414.73,166.12 414.64,165.88 414.39,165.22 414.19,164.63 414.09,164.31 413.83,163.42 413.83,163.39 413.61,162.46 413.57,162.26 413.44,161.52 413.38,161.13 413.31,160.56 413.26,160.05 413.24,159.59 413.22,159 413.23,158.6 413.25,157.99 413.28,157.58 413.33,157.01 413.4,156.55 413.48,156.06 413.61,155.48 413.69,155.14 413.91,154.39 413.95,154.25 414.26,153.39 414.32,153.26 414.63,152.55 414.87,152.07 415.04,151.74 415.51,150.95 415.58,150.83 416.01,150.19 416.51,149.51 416.56,149.44 417.16,148.72 417.74,148.08 417.79,148.03 418.47,147.35 419.19,146.69 419.44,146.47 419.94,146.05 420.73,145.43 421.56,144.83 422,144.53 422.43,144.24 423.33,143.68 424.26,143.13 425.23,142.6 426.24,142.08 427.27,141.58 428.17,141.17 428.34,141.1 429.45,140.63 430.58,140.17 431.75,139.74 432.33,139.53 432.95,139.31 434.18,138.9 435.45,138.51 436.74,138.13 438.07,137.77 439.43,137.41 440.82,137.08 440.82,137.08 442.24,136.75 443.69,136.45 445.18,136.15 445.65,136.06 446.7,135.87 448.25,135.6 449.64,135.38 449.83,135.34" fill="none" stroke="#1aeb00" stroke-width="1.25" stroke-linecap="round"/>
<polyline points="467.41,189.73 467.32,189.66 466.39,188.95 465.38,188.17 464.39,187.38 464.07,187.12 463.42,186.59 462.47,185.79 461.54,184.99 461.35,184.83 460.64,184.19 459.75,183.38 459.06,182.73 458.89,182.57 458.06,181.75 457.24,180.92 457.11,180.79 456.45,180.09 455.69,179.26 455.44,178.98 454.95,178.41 454.24,177.56 454.02,177.29 453.57,176.7 452.92,175.84 452.81,175.7 452.3,174.96 451.79,174.19 451.72,174.08 451.17,173.18 450.93,172.76 450.67,172.27 450.22,171.41 450.19,171.36 449.78,170.42 449.64,170.12 449.4,169.48 449.19,168.88 449.08,168.51 448.85,167.71 448.81,167.53 448.62,166.58 448.61,166.52 448.48,165.5 448.48,165.5 448.43,164.46 448.43,164.44 448.47,163.46 448.48,163.34 448.59,162.5 448.65,162.2 448.78,161.58 448.95,161.01 449.05,160.7 449.38,159.84 449.42,159.76 449.79,159.02 450.15,158.4 450.25,158.23 450.78,157.47 451.22,156.91 451.36,156.73 452,156.02 452.69,155.34 452.89,155.17 453.44,154.68 454.24,154.05 455.09,153.44 455.99,152.86 456.14,152.77 456.94,152.29 457.94,151.75 458.98,151.23 460.07,150.73 461.21,150.25 462.39,149.79 463.62,149.35 464.89,148.93 465.89,148.63 466.21,148.53 467.57,148.15 468.97,147.79 470.42,147.45 471.64,147.19 471.92,147.13 473.46,146.82 475.04,146.54 475.8,146.41 476.68,146.27 478.35,146.02" fill="none" stroke="#8deb00" stroke-width="1.25" stroke-linecap="round"/>
<polyline points="326.39,162.89 424.9,210.11 523.41,162.89" fill="none" stroke="#222" stroke-width="0.8"/>
<path d="M326.39 162.89L320.42 26.89" stroke="#222" stroke-width="0.9"/>
<circle cx="424.9" cy="134.02" r="2.1" fill="#f7baba" stroke="#b87878" stroke-width="0.45"/><circle cx="424.9" cy="59.84" r="2.1" fill="#a80000" stroke="#600000" stroke-width="0.45"/>
<g stroke="#000a14" stroke-opacity="0.7" stroke-width="0.55" stroke-linejoin="round" fill="none">
<path d="M425.8 60.7L429.4 60.3L424.9 61.1L421.3 61.5Z" fill="#00f889" stroke="none"/>
<path d="M429.4 60.3L424.9 61.1L421.3 61.5"/>
<path d="M422.1 61.2L425.8 60.7L421.3 61.5L417.6 62Z" fill="#00f884" stroke="none"/>
<path d="M425.8 60.7L421.3 61.5L417.6 62"/>
<path d="M430.4 59.9L434 59.5L429.4 60.3L425.8 60.7Z" fill="#00f876" stroke="none"/>
<path d="M434 59.5L429.4 60.3L425.8 60.7"/>
<path d="M418.5 61.8L422.1 61.2L417.6 62L413.9 62.6Z" fill="#00f87f" stroke="none"/>
<path d="M422.1 61.2L417.6 62L413.9 62.6"/>
<path d="M426.7 60.5L430.4 59.9L425.8 60.7L422.1 61.2Z" fill="#00f871" stroke="none"/>
<path d="M430.4 59.9L425.8 60.7L422.1 61.2"/>
<path d="M435.1 59.2L438.7 58.8L434 59.5L430.4 59.9Z" fill="#00f75e" stroke="none"/>
<path d="M438.7 58.8L434 59.5L430.4 59.9"/>
<path d="M414.7 62.6L418.5 61.8L413.9 62.6L410.2 63.4Z" fill="#00f87c" stroke="none"/>
<path d="M418.5 61.8L413.9 62.6L410.2 63.4"/>
<path d="M423 61.1L426.7 60.5L422.1 61.2L418.5 61.8Z" fill="#00f86b" stroke="none"/>
<path d="M426.7 60.5L422.1 61.2L418.5 61.8"/>
<path d="M431.4 59.8L435.1 59.2L430.4 59.9L426.7 60.5Z" fill="#00f757" stroke="none"/>
<path d="M435.1 59.2L430.4 59.9L426.7 60.5"/>
<path d="M439.8 58.6L443.4 58.1L438.7 58.8L435.1 59.2Z" fill="#00f645" stroke="none"/>
<path d="M443.4 58.1L438.7 58.8L435.1 59.2"/>
<path d="M410.9 63.6L414.7 62.6L410.2 63.4L406.4 64.3Z" fill="#00f87a" stroke="none"/>
<path d="M414.7 62.6L410.2 63.4L406.4 64.3"/>
<path d="M419.3 62L423 61.1L418.5 61.8L414.7 62.6Z" fill="#00f867" stroke="none"/>
<path d="M423 61.1L418.5 61.8L414.7 62.6"/>
<path d="M427.7 60.5L431.4 59.8L426.7 60.5L423 61.1Z" fill="#00f751" stroke="none"/>
<path d="M431.4 59.8L426.7 60.5L423 61.1"/>
<path d="M436.1 59.2L439.8 58.6L435.1 59.2L431.4 59.8Z" fill="#01f63f" stroke="none"/>
<path d="M439.8 58.6L435.1 59.2L431.4 59.8"/>
<path d="M407.1 64.7L410.9 63.6L406.4 64.3L402.6 65.4Z" fill="#00f879" stroke="none"/>
<path d="M410.9 63.6L406.4 64.3L402.6 65.4"/>
<path d="M444.6 58L448.2 57.5L443.4 58.1L439.8 58.6Z" fill="#05f636" stroke="none"/>
<path d="M448.2 57.5L443.4 58.1L439.8 58.6"/>
<path d="M415.5 63L419.3 62L414.7 62.6L410.9 63.6Z" fill="#00f864" stroke="none"/>
<path d="M419.3 62L414.7 62.6L410.9 63.6"/>
<path d="M424 61.4L427.7 60.5L423 61.1L419.3 62Z" fill="#00f74d" stroke="none"/>
<path d="M427.7 60.5L423 61.1L419.3 62"/>
<path d="M432.4 59.9L436.1 59.2L431.4 59.8L427.7 60.5Z" fill="#02f63c" stroke="none"/>
<path d="M436.1 59.2L431.4 59.8L427.7 60.5"/>
<path d="M403.3 66L407.1 64.7L402.6 65.4L398.8 66.6Z" fill="#00f87a" stroke="none"/>
<path d="M407.1 64.7L402.6 65.4L398.8 66.6"/>
<path d="M440.9 58.7L444.6 58L439.8 58.6L436.1 59.2Z" fill="#07f633" stroke="none"/>
<path d="M444.6 58L439.8 58.6L436.1 59.2"/>
<path d="M411.7 64.1L415.5 63L410.9 63.6L407.1 64.7Z" fill="#00f763" stroke="none"/>
<path d="M415.5 63L410.9 63.6L407.1 64.7"/>
<path d="M449.4 57.5L453.1 57L448.2 57.5L444.6 58Z" fill="#0cf62b" stroke="none"/>
<path d="M453.1 57L448.2 57.5L444.6 58"/>
<path d="M420.2 62.4L424 61.4L419.3 62L415.5 63Z" fill="#00f64b" stroke="none"/>
<path d="M424 61.4L419.3 62L415.5 63"/>
<path d="M428.7 60.9L432.4 59.9L427.7 60.5L424 61.4Z" fill="#03f63b" stroke="none"/>
<path d="M432.4 59.9L427.7 60.5L424 61.4"/>
<path d="M399.4 67.4L403.3 66L398.8 66.6L394.9 68Z" fill="#00f87b" stroke="none"/>
<path d="M403.3 66L398.8 66.6L394.9 68"/>
<path d="M437.2 59.4L440.9 58.7L436.1 59.2L432.4 59.9Z" fill="#08f631" stroke="none"/>
<path d="M440.9 58.7L436.1 59.2L432.4 59.9"/>
<path d="M407.9 65.4L411.7 64.1L407.1 64.7L403.3 66Z" fill="#00f865" stroke="none"/>
<path d="M411.7 64.1L407.1 64.7L403.3 66"/>
<path d="M445.8 58.2L449.4 57.5L444.6 58L440.9 58.7Z" fill="#0df628" stroke="none"/>
<path d="M449.4 57.5L444.6 58L440.9 58.7"/>
<path d="M416.4 63.6L420.2 62.4L415.5 63L411.7 64.1Z" fill="#00f64b" stroke="none"/>
<path d="M420.2 62.4L415.5 63L411.7 64.1"/>
<path d="M454.3 57.1L458 56.5L453.1 57L449.4 57.5Z" fill="#12f620" stroke="none"/>
<path d="M458 56.5L453.1 57L449.4 57.5"/>
<path d="M424.9 61.9L428.7 60.9L424 61.4L420.2 62.4Z" fill="#03f63a" stroke="none"/>
<path d="M428.7 60.9L424 61.4L420.2 62.4"/>
<path d="M395.5 69L399.4 67.4L394.9 68L391 69.5Z" fill="#00f87e" stroke="none"/>
<path d="M399.4 67.4L394.9 68L391 69.5"/>
<path d="M433.5 60.4L437.2 59.4L432.4 59.9L428.7 60.9Z" fill="#09f62f" stroke="none"/>
<path d="M437.2 59.4L432.4 59.9L428.7 60.9"/>
<path d="M404 66.9L407.9 65.4L403.3 66L399.4 67.4Z" fill="#00f868" stroke="none"/>
<path d="M407.9 65.4L403.3 66L399.4 67.4"/>
<path d="M442 59L445.8 58.2L440.9 58.7L437.2 59.4Z" fill="#0ff626" stroke="none"/>
<path d="M445.8 58.2L440.9 58.7L437.2 59.4"/>
<path d="M412.5 64.9L416.4 63.6L411.7 64.1L407.9 65.4Z" fill="#00f74c" stroke="none"/>
<path d="M416.4 63.6L411.7 64.1L407.9 65.4"/>
<path d="M450.7 57.8L454.3 57.1L449.4 57.5L445.8 58.2Z" fill="#13f61d" stroke="none"/>
<path d="M454.3 57.1L449.4 57.5L445.8 58.2"/>
<path d="M421.1 63.1L424.9 61.9L420.2 62.4L416.4 63.6Z" fill="#03f63a" stroke="none"/>
<path d="M424.9 61.9L420.2 62.4L416.4 63.6"/>
<path d="M459.3 56.7L463 56.1L458 56.5L454.3 57.1Z" fill="#1ef617" stroke="none"/>
<path d="M463 56.1L458 56.5L454.3 57.1"/>
<path d="M391.6 70.7L395.5 69L391 69.5L387.1 71.2Z" fill="#00f883" stroke="none"/>
<path d="M395.5 69L391 69.5L387.1 71.2"/>
<path d="M429.7 61.5L433.5 60.4L428.7 60.9L424.9 61.9Z" fill="#0af62f" stroke="none"/>
<path d="M433.5 60.4L428.7 60.9L424.9 61.9"/>
<path d="M400.1 68.5L404 66.9L399.4 67.4L395.5 69Z" fill="#00f86c" stroke="none"/>
<path d="M404 66.9L399.4 67.4L395.5 69"/>
<path d="M438.3 60L442 59L437.2 59.4L433.5 60.4Z" fill="#0ff624" stroke="none"/>
<path d="M442 59L437.2 59.4L433.5 60.4"/>
<path d="M408.7 66.4L412.5 64.9L407.9 65.4L404 66.9Z" fill="#00f750" stroke="none"/>
<path d="M412.5 64.9L407.9 65.4L404 66.9"/>
<path d="M447 58.6L450.7 57.8L445.8 58.2L442 59Z" fill="#14f61b" stroke="none"/>
<path d="M450.7 57.8L445.8 58.2L442 59"/>
<path d="M417.2 64.5L421.1 63.1L416.4 63.6L412.5 64.9Z" fill="#03f63b" stroke="none"/>
<path d="M421.1 63.1L416.4 63.6L412.5 64.9"/>
<path d="M455.6 57.4L459.3 56.7L454.3 57.1L450.7 57.8Z" fill="#27f616" stroke="none"/>
<path d="M459.3 56.7L454.3 57.1L450.7 57.8"/>
<path d="M387.6 72.6L391.6 70.7L387.1 71.2L383.1 73.1Z" fill="#00f888" stroke="none"/>
<path d="M391.6 70.7L387.1 71.2L383.1 73.1"/>
<path d="M425.9 62.7L429.7 61.5L424.9 61.9L421.1 63.1Z" fill="#09f62f" stroke="none"/>
<path d="M429.7 61.5L424.9 61.9L421.1 63.1"/>
<path d="M464.4 56.4L468 55.8L463 56.1L459.3 56.7Z" fill="#3ef714" stroke="none"/>
<path d="M468 55.8L463 56.1L459.3 56.7"/>
<path d="M396.2 70.3L400.1 68.5L395.5 69L391.6 70.7Z" fill="#00f872" stroke="none"/>
<path d="M400.1 68.5L395.5 69L391.6 70.7"/>
<path d="M434.5 61.1L438.3 60L433.5 60.4L429.7 61.5Z" fill="#10f624" stroke="none"/>
<path d="M438.3 60L433.5 60.4L429.7 61.5"/>
<path d="M404.7 68.1L408.7 66.4L404 66.9L400.1 68.5Z" fill="#00f755" stroke="none"/>
<path d="M408.7 66.4L404 66.9L400.1 68.5"/>
<path d="M443.2 59.6L447 58.6L442 59L438.3 60Z" fill="#15f61a" stroke="none"/>
<path d="M447 58.6L442 59L438.3 60"/>
<path d="M413.4 66L417.2 64.5L412.5 64.9L408.7 66.4Z" fill="#02f63c" stroke="none"/>
<path d="M417.2 64.5L412.5 64.9L408.7 66.4"/>
<path d="M451.9 58.3L455.6 57.4L450.7 57.8L447 58.6Z" fill="#2cf716" stroke="none"/>
<path d="M455.6 57.4L450.7 57.8L447 58.6"/>
<path d="M383.6 74.7L387.6 72.6L383.1 73.1L379.1 75.1Z" fill="#00f88f" stroke="none"/>
<path d="M387.6 72.6L383.1 73.1L379.1 75.1"/>
<path d="M460.7 57.2L464.4 56.4L459.3 56.7L455.6 57.4Z" fill="#46f714" stroke="none"/>
<path d="M464.4 56.4L459.3 56.7L455.6 57.4"/>
<path d="M422 64.1L425.9 62.7L421.1 63.1L417.2 64.5Z" fill="#09f630" stroke="none"/>
<path d="M425.9 62.7L421.1 63.1L417.2 64.5"/>
<path d="M392.2 72.2L396.2 70.3L391.6 70.7L387.6 72.6Z" fill="#00f878" stroke="none"/>
<path d="M396.2 70.3L391.6 70.7L387.6 72.6"/>
<path d="M430.7 62.4L434.5 61.1L429.7 61.5L425.9 62.7Z" fill="#0ff624" stroke="none"/>
<path d="M434.5 61.1L429.7 61.5L425.9 62.7"/>
<path d="M469.5 56.2L473.1 55.5L468 55.8L464.4 56.4Z" fill="#5cf812" stroke="none"/>
<path d="M473.1 55.5L468 55.8L464.4 56.4"/>
<path d="M400.8 69.9L404.7 68.1L400.1 68.5L396.2 70.3Z" fill="#00f75c" stroke="none"/>
<path d="M404.7 68.1L400.1 68.5L396.2 70.3"/>
<path d="M439.4 60.8L443.2 59.6L438.3 60L434.5 61.1Z" fill="#15f619" stroke="none"/>
<path d="M443.2 59.6L438.3 60L434.5 61.1"/>
<path d="M409.4 67.7L413.4 66L408.7 66.4L404.7 68.1Z" fill="#01f63f" stroke="none"/>
<path d="M413.4 66L408.7 66.4L404.7 68.1"/>
<path d="M448.2 59.3L451.9 58.3L447 58.6L443.2 59.6Z" fill="#30f716" stroke="none"/>
<path d="M451.9 58.3L447 58.6L443.2 59.6"/>
<path d="M457 58.1L460.7 57.2L455.6 57.4L451.9 58.3Z" fill="#4bf713" stroke="none"/>
<path d="M460.7 57.2L455.6 57.4L451.9 58.3"/>
<path d="M379.6 76.9L383.6 74.7L379.1 75.1L375.1 77.3Z" fill="#00f897" stroke="none"/>
<path d="M383.6 74.7L379.1 75.1L375.1 77.3"/>
<path d="M418.1 65.7L422 64.1L417.2 64.5L413.4 66Z" fill="#08f632" stroke="none"/>
<path d="M422 64.1L417.2 64.5L413.4 66"/>
<path d="M388.2 74.3L392.2 72.2L387.6 72.6L383.6 74.7Z" fill="#00f87f" stroke="none"/>
<path d="M392.2 72.2L387.6 72.6L383.6 74.7"/>
<path d="M426.8 63.8L430.7 62.4L425.9 62.7L422 64.1Z" fill="#0ff625" stroke="none"/>
<path d="M430.7 62.4L425.9 62.7L422 64.1"/>
<path d="M465.8 56.9L469.5 56.2L464.4 56.4L460.7 57.2Z" fill="#63f811" stroke="none"/>
<path d="M469.5 56.2L464.4 56.4L460.7 57.2"/>
<path d="M396.8 71.9L400.8 69.9L396.2 70.3L392.2 72.2Z" fill="#00f864" stroke="none"/>
<path d="M400.8 69.9L396.2 70.3L392.2 72.2"/>
<path d="M435.6 62.1L439.4 60.8L434.5 61.1L430.7 62.4Z" fill="#15f61a" stroke="none"/>
<path d="M439.4 60.8L434.5 61.1L430.7 62.4"/>
<path d="M474.6 56L478.3 55.3L473.1 55.5L469.5 56.2Z" fill="#7af80e" stroke="none"/>
<path d="M478.3 55.3L473.1 55.5L469.5 56.2"/>
<path d="M405.5 69.6L409.4 67.7L404.7 68.1L400.8 69.9Z" fill="#00f645" stroke="none"/>
<path d="M409.4 67.7L404.7 68.1L400.8 69.9"/>
<path d="M444.4 60.5L448.2 59.3L443.2 59.6L439.4 60.8Z" fill="#30f716" stroke="none"/>
<path d="M448.2 59.3L443.2 59.6L439.4 60.8"/>
<path d="M375.5 79.3L379.6 76.9L375.1 77.3L371 79.6Z" fill="#00f8a0" stroke="none"/>
<path d="M379.6 76.9L375.1 77.3L371 79.6"/>
<path d="M414.2 67.4L418.1 65.7L413.4 66L409.4 67.7Z" fill="#06f634" stroke="none"/>
<path d="M418.1 65.7L413.4 66L409.4 67.7"/>
<path d="M453.2 59.1L457 58.1L451.9 58.3L448.2 59.3Z" fill="#4df713" stroke="none"/>
<path d="M457 58.1L451.9 58.3L448.2 59.3"/>
<path d="M384.1 76.6L388.2 74.3L383.6 74.7L379.6 76.9Z" fill="#00f887" stroke="none"/>
<path d="M388.2 74.3L383.6 74.7L379.6 76.9"/>
<path d="M422.9 65.4L426.8 63.8L422 64.1L418.1 65.7Z" fill="#0ef627" stroke="none"/>
<path d="M426.8 63.8L422 64.1L418.1 65.7"/>
<path d="M462.1 57.9L465.8 56.9L460.7 57.2L457 58.1Z" fill="#68f811" stroke="none"/>
<path d="M465.8 56.9L460.7 57.2L457 58.1"/>
<path d="M392.8 74L396.8 71.9L392.2 72.2L388.2 74.3Z" fill="#00f86f" stroke="none"/>
<path d="M396.8 71.9L392.2 72.2L388.2 74.3"/>
<path d="M431.7 63.6L435.6 62.1L430.7 62.4L426.8 63.8Z" fill="#14f61b" stroke="none"/>
<path d="M435.6 62.1L430.7 62.4L426.8 63.8"/>
<path d="M471 56.8L474.6 56L469.5 56.2L465.8 56.9Z" fill="#82f80c" stroke="none"/>
<path d="M474.6 56L469.5 56.2L465.8 56.9"/>
<path d="M401.5 71.6L405.5 69.6L400.8 69.9L396.8 71.9Z" fill="#00f74e" stroke="none"/>
<path d="M405.5 69.6L400.8 69.9L396.8 71.9"/>
<path d="M440.6 61.9L444.4 60.5L439.4 60.8L435.6 62.1Z" fill="#2ef716" stroke="none"/>
<path d="M444.4 60.5L439.4 60.8L435.6 62.1"/>
<path d="M479.9 55.9L483.5 55.2L478.3 55.3L474.6 56Z" fill="#9af807" stroke="none"/>
<path d="M483.5 55.2L478.3 55.3L474.6 56"/>
<path d="M449.4 60.4L453.2 59.1L448.2 59.3L444.4 60.5Z" fill="#4df713" stroke="none"/>
<path d="M453.2 59.1L448.2 59.3L444.4 60.5"/>
<path d="M371.4 81.9L375.5 79.3L371 79.6L366.9 82.1Z" fill="#00f7b1" stroke="none"/>
<path d="M375.5 79.3L371 79.6L366.9 82.1"/>
<path d="M410.2 69.3L414.2 67.4L409.4 67.7L405.5 69.6Z" fill="#04f638" stroke="none"/>
<path d="M414.2 67.4L409.4 67.7L405.5 69.6"/>
<path d="M419 67.2L422.9 65.4L418.1 65.7L414.2 67.4Z" fill="#0cf62a" stroke="none"/>
<path d="M422.9 65.4L418.1 65.7L414.2 67.4"/>
<path d="M380 79L384.1 76.6L379.6 76.9L375.5 79.3Z" fill="#00f891" stroke="none"/>
<path d="M384.1 76.6L379.6 76.9L375.5 79.3"/>
<path d="M458.3 59L462.1 57.9L457 58.1L453.2 59.1Z" fill="#6af810" stroke="none"/>
<path d="M462.1 57.9L457 58.1L453.2 59.1"/>
<path d="M388.7 76.3L392.8 74L388.2 74.3L384.1 76.6Z" fill="#00f878" stroke="none"/>
<path d="M392.8 74L388.2 74.3L384.1 76.6"/>
<path d="M427.8 65.2L431.7 63.6L426.8 63.8L422.9 65.4Z" fill="#13f61e" stroke="none"/>
<path d="M431.7 63.6L426.8 63.8L422.9 65.4"/>
<path d="M467.3 57.8L471 56.8L465.8 56.9L462.1 57.9Z" fill="#87f80b" stroke="none"/>
<path d="M471 56.8L465.8 56.9L462.1 57.9"/>
<path d="M397.5 73.8L401.5 71.6L396.8 71.9L392.8 74Z" fill="#00f759" stroke="none"/>
<path d="M401.5 71.6L396.8 71.9L392.8 74"/>
<path d="M436.7 63.4L440.6 61.9L435.6 62.1L431.7 63.6Z" fill="#29f616" stroke="none"/>
<path d="M440.6 61.9L435.6 62.1L431.7 63.6"/>
<path d="M476.2 56.7L479.9 55.9L474.6 56L471 56.8Z" fill="#a1f806" stroke="none"/>
<path d="M479.9 55.9L474.6 56L471 56.8"/>
<path d="M445.6 61.7L449.4 60.4L444.4 60.5L440.6 61.9Z" fill="#4bf713" stroke="none"/>
<path d="M449.4 60.4L444.4 60.5L440.6 61.9"/>
<path d="M367.3 84.6L371.4 81.9L366.9 82.1L362.8 84.8Z" fill="#00f6c4" stroke="none"/>
<path d="M371.4 81.9L366.9 82.1L362.8 84.8"/>
<path d="M406.2 71.4L410.2 69.3L405.5 69.6L401.5 71.6Z" fill="#02f63d" stroke="none"/>
<path d="M410.2 69.3L405.5 69.6L401.5 71.6"/>
<path d="M485.2 55.9L488.8 55.1L483.5 55.2L479.9 55.9Z" fill="#b8f801" stroke="none"/>
<path d="M488.8 55.1L483.5 55.2L479.9 55.9"/>
<path d="M375.9 81.6L380 79L375.5 79.3L371.4 81.9Z" fill="#00f89b" stroke="none"/>
<path d="M380 79L375.5 79.3L371.4 81.9"/>
<path d="M415.1 69.1L419 67.2L414.2 67.4L410.2 69.3Z" fill="#0af62e" stroke="none"/>
<path d="M419 67.2L414.2 67.4L410.2 69.3"/>
<path d="M454.5 60.2L458.3 59L453.2 59.1L449.4 60.4Z" fill="#6af810" stroke="none"/>
<path d="M458.3 59L453.2 59.1L449.4 60.4"/>
<path d="M384.6 78.8L388.7 76.3L384.1 76.6L380 79Z" fill="#00f881" stroke="none"/>
<path d="M388.7 76.3L384.1 76.6L380 79"/>
<path d="M423.9 67L427.8 65.2L422.9 65.4L419 67.2Z" fill="#11f621" stroke="none"/>
<path d="M427.8 65.2L422.9 65.4L419 67.2"/>
<path d="M463.5 58.9L467.3 57.8L462.1 57.9L458.3 59Z" fill="#89f80b" stroke="none"/>
<path d="M467.3 57.8L462.1 57.9L458.3 59"/>
<path d="M393.4 76.1L397.5 73.8L392.8 74L388.7 76.3Z" fill="#00f866" stroke="none"/>
<path d="M397.5 73.8L392.8 74L388.7 76.3"/>
<path d="M432.8 65.1L436.7 63.4L431.7 63.6L427.8 65.2Z" fill="#22f617" stroke="none"/>
<path d="M436.7 63.4L431.7 63.6L427.8 65.2"/>
<path d="M472.5 57.7L476.2 56.7L471 56.8L467.3 57.8Z" fill="#a6f805" stroke="none"/>
<path d="M476.2 56.7L471 56.8L467.3 57.8"/>
<path d="M363.1 87.5L367.3 84.6L362.8 84.8L358.7 87.7Z" fill="#00f4da" stroke="none"/>
<path d="M367.3 84.6L362.8 84.8L358.7 87.7"/>
<path d="M402.2 73.6L406.2 71.4L401.5 71.6L397.5 73.8Z" fill="#00f644" stroke="none"/>
<path d="M406.2 71.4L401.5 71.6L397.5 73.8"/>
<path d="M441.7 63.3L445.6 61.7L440.6 61.9L436.7 63.4Z" fill="#46f714" stroke="none"/>
<path d="M445.6 61.7L440.6 61.9L436.7 63.4"/>
<path d="M481.5 56.7L485.2 55.9L479.9 55.9L476.2 56.7Z" fill="#bff800" stroke="none"/>
<path d="M485.2 55.9L479.9 55.9L476.2 56.7"/>
<path d="M371.8 84.4L375.9 81.6L371.4 81.9L367.3 84.6Z" fill="#00f7ab" stroke="none"/>
<path d="M375.9 81.6L371.4 81.9L367.3 84.6"/>
<path d="M411.1 71.2L415.1 69.1L410.2 69.3L406.2 71.4Z" fill="#07f633" stroke="none"/>
<path d="M415.1 69.1L410.2 69.3L406.2 71.4"/>
<path d="M450.7 61.7L454.5 60.2L449.4 60.4L445.6 61.7Z" fill="#67f811" stroke="none"/>
<path d="M454.5 60.2L449.4 60.4L445.6 61.7"/>
<path d="M490.6 55.9L494.2 55.2L488.8 55.1L485.2 55.9Z" fill="#cff700" stroke="none"/>
<path d="M494.2 55.2L488.8 55.1L485.2 55.9"/>
<path d="M380.5 81.5L384.6 78.8L380 79L375.9 81.6Z" fill="#00f88d" stroke="none"/>
<path d="M384.6 78.8L380 79L375.9 81.6"/>
<path d="M419.9 69L423.9 67L419 67.2L415.1 69.1Z" fill="#0ff625" stroke="none"/>
<path d="M423.9 67L419 67.2L415.1 69.1"/>
<path d="M459.7 60.2L463.5 58.9L458.3 59L454.5 60.2Z" fill="#88f80b" stroke="none"/>
<path d="M463.5 58.9L458.3 59L454.5 60.2"/>
<path d="M428.9 66.9L432.8 65.1L427.8 65.2L423.9 67Z" fill="#18f618" stroke="none"/>
<path d="M432.8 65.1L427.8 65.2L423.9 67"/>
<path d="M389.3 78.7L393.4 76.1L388.7 76.3L384.6 78.8Z" fill="#00f873" stroke="none"/>
<path d="M393.4 76.1L388.7 76.3L384.6 78.8"/>
<path d="M468.8 58.9L472.5 57.7L467.3 57.8L463.5 58.9Z" fill="#a7f805" stroke="none"/>
<path d="M472.5 57.7L467.3 57.8L463.5 58.9"/>
<path d="M437.8 65L441.7 63.3L436.7 63.4L432.8 65.1Z" fill="#3ef714" stroke="none"/>
<path d="M441.7 63.3L436.7 63.4L432.8 65.1"/>
<path d="M358.9 90.6L363.1 87.5L358.7 87.7L354.5 90.7Z" fill="#00f1e6" stroke="none"/>
<path d="M363.1 87.5L358.7 87.7L354.5 90.7"/>
<path d="M398.1 76L402.2 73.6L397.5 73.8L393.4 76.1Z" fill="#00f751" stroke="none"/>
<path d="M402.2 73.6L397.5 73.8L393.4 76.1"/>
<path d="M477.8 57.8L481.5 56.7L476.2 56.7L472.5 57.7Z" fill="#c2f800" stroke="none"/>
<path d="M481.5 56.7L476.2 56.7L472.5 57.7"/>
<path d="M407 73.5L411.1 71.2L406.2 71.4L402.2 73.6Z" fill="#04f638" stroke="none"/>
<path d="M411.1 71.2L406.2 71.4L402.2 73.6"/>
<path d="M367.6 87.4L371.8 84.4L367.3 84.6L363.1 87.5Z" fill="#00f6c1" stroke="none"/>
<path d="M371.8 84.4L367.3 84.6L363.1 87.5"/>
<path d="M446.9 63.2L450.7 61.7L445.6 61.7L441.7 63.3Z" fill="#61f811" stroke="none"/>
<path d="M450.7 61.7L445.6 61.7L441.7 63.3"/>
<path d="M486.9 56.8L490.6 55.9L485.2 55.9L481.5 56.7Z" fill="#d4f700" stroke="none"/>
<path d="M490.6 55.9L485.2 55.9L481.5 56.7"/>
<path d="M376.4 84.3L380.5 81.5L375.9 81.6L371.8 84.4Z" fill="#00f899" stroke="none"/>
<path d="M380.5 81.5L375.9 81.6L371.8 84.4"/>
<path d="M415.9 71.1L419.9 69L415.1 69.1L411.1 71.2Z" fill="#0cf629" stroke="none"/>
<path d="M419.9 69L415.1 69.1L411.1 71.2"/>
<path d="M455.9 61.7L459.7 60.2L454.5 60.2L450.7 61.7Z" fill="#84f80c" stroke="none"/>
<path d="M459.7 60.2L454.5 60.2L450.7 61.7"/>
<path d="M496.1 56L499.7 55.3L494.2 55.2L490.6 55.9Z" fill="#e3f600" stroke="none"/>
<path d="M499.7 55.3L494.2 55.2L490.6 55.9"/>
<path d="M385.2 81.3L389.3 78.7L384.6 78.8L380.5 81.5Z" fill="#00f87e" stroke="none"/>
<path d="M389.3 78.7L384.6 78.8L380.5 81.5"/>
<path d="M424.9 68.9L428.9 66.9L423.9 67L419.9 69Z" fill="#14f61b" stroke="none"/>
<path d="M428.9 66.9L423.9 67L419.9 69"/>
<path d="M465 60.2L468.8 58.9L463.5 58.9L459.7 60.2Z" fill="#a6f805" stroke="none"/>
<path d="M468.8 58.9L463.5 58.9L459.7 60.2"/>
<path d="M433.9 66.9L437.8 65L432.8 65.1L428.9 66.9Z" fill="#34f715" stroke="none"/>
<path d="M437.8 65L432.8 65.1L428.9 66.9"/>
<path d="M354.7 93.8L358.9 90.6L354.5 90.7L350.3 93.9Z" fill="#00ecee" stroke="none"/>
<path d="M358.9 90.6L354.5 90.7L350.3 93.9"/>
<path d="M394 78.6L398.1 76L393.4 76.1L389.3 78.7Z" fill="#00f760" stroke="none"/>
<path d="M398.1 76L393.4 76.1L389.3 78.7"/>
<path d="M474.1 59L477.8 57.8L472.5 57.7L468.8 58.9Z" fill="#c3f800" stroke="none"/>
<path d="M477.8 57.8L472.5 57.7L468.8 58.9"/>
<path d="M363.4 90.5L367.6 87.4L363.1 87.5L358.9 90.6Z" fill="#00f4d9" stroke="none"/>
<path d="M367.6 87.4L363.1 87.5L358.9 90.6"/>
<path d="M483.2 57.9L486.9 56.8L481.5 56.7L477.8 57.8Z" fill="#d7f600" stroke="none"/>
<path d="M486.9 56.8L481.5 56.7L477.8 57.8"/>
<path d="M402.9 75.9L407 73.5L402.2 73.6L398.1 76Z" fill="#01f63f" stroke="none"/>
<path d="M407 73.5L402.2 73.6L398.1 76"/>
<path d="M442.9 65L446.9 63.2L441.7 63.3L437.8 65Z" fill="#59f812" stroke="none"/>
<path d="M446.9 63.2L441.7 63.3L437.8 65"/>
<path d="M411.9 73.4L415.9 71.1L411.1 71.2L407 73.5Z" fill="#09f62f" stroke="none"/>
<path d="M415.9 71.1L411.1 71.2L407 73.5"/>
<path d="M372.2 87.3L376.4 84.3L371.8 84.4L367.6 87.4Z" fill="#00f8a9" stroke="none"/>
<path d="M376.4 84.3L371.8 84.4L367.6 87.4"/>
<path d="M492.4 57L496.1 56L490.6 55.9L486.9 56.8Z" fill="#e8f500" stroke="none"/>
<path d="M496.1 56L490.6 55.9L486.9 56.8"/>
<path d="M452 63.3L455.9 61.7L450.7 61.7L446.9 63.2Z" fill="#7df80d" stroke="none"/>
<path d="M455.9 61.7L450.7 61.7L446.9 63.2"/>
<path d="M381 84.2L385.2 81.3L380.5 81.5L376.4 84.3Z" fill="#00f88b" stroke="none"/>
<path d="M385.2 81.3L380.5 81.5L376.4 84.3"/>
<path d="M420.9 71.1L424.9 68.9L419.9 69L415.9 71.1Z" fill="#11f620" stroke="none"/>
<path d="M424.9 68.9L419.9 69L415.9 71.1"/>
<path d="M461.1 61.7L465 60.2L459.7 60.2L455.9 61.7Z" fill="#a1f806" stroke="none"/>
<path d="M465 60.2L459.7 60.2L455.9 61.7"/>
<path d="M501.6 56.2L505.2 55.4L499.7 55.3L496.1 56Z" fill="#f6f400" stroke="none"/>
<path d="M505.2 55.4L499.7 55.3L496.1 56"/>
<path d="M429.9 68.9L433.9 66.9L428.9 66.9L424.9 68.9Z" fill="#27f616" stroke="none"/>
<path d="M433.9 66.9L428.9 66.9L424.9 68.9"/>
<path d="M389.9 81.3L394 78.6L389.3 78.7L385.2 81.3Z" fill="#00f870" stroke="none"/>
<path d="M394 78.6L389.3 78.7L385.2 81.3"/>
<path d="M470.3 60.3L474.1 59L468.8 58.9L465 60.2Z" fill="#c2f800" stroke="none"/>
<path d="M474.1 59L468.8 58.9L465 60.2"/>
<path d="M350.4 97.3L354.7 93.8L350.3 93.9L346 97.3Z" fill="#00e7f6" stroke="none"/>
<path d="M354.7 93.8L350.3 93.9L346 97.3"/>
<path d="M359.2 93.8L363.4 90.5L358.9 90.6L354.7 93.8Z" fill="#00f1e6" stroke="none"/>
<path d="M363.4 90.5L358.9 90.6L354.7 93.8"/>
<path d="M439 66.9L442.9 65L437.8 65L433.9 66.9Z" fill="#4ef713" stroke="none"/>
<path d="M442.9 65L437.8 65L433.9 66.9"/>
<path d="M398.8 78.5L402.9 75.9L398.1 76L394 78.6Z" fill="#00f64c" stroke="none"/>
<path d="M402.9 75.9L398.1 76L394 78.6"/>
<path d="M479.5 59.1L483.2 57.9L477.8 57.8L474.1 59Z" fill="#d7f600" stroke="none"/>
<path d="M483.2 57.9L477.8 57.8L474.1 59"/>
<path d="M368 90.4L372.2 87.3L367.6 87.4L363.4 90.5Z" fill="#00f6c2" stroke="none"/>
<path d="M372.2 87.3L367.6 87.4L363.4 90.5"/>
<path d="M407.8 75.9L411.9 73.4L407 73.5L402.9 75.9Z" fill="#06f635" stroke="none"/>
<path d="M411.9 73.4L407 73.5L402.9 75.9"/>
<path d="M488.7 58.1L492.4 57L486.9 56.8L483.2 57.9Z" fill="#eaf500" stroke="none"/>
<path d="M492.4 57L486.9 56.8L483.2 57.9"/>
<path d="M448.1 65.1L452 63.3L446.9 63.2L442.9 65Z" fill="#73f80f" stroke="none"/>
<path d="M452 63.3L446.9 63.2L442.9 65"/>
<path d="M416.8 73.4L420.9 71.1L415.9 71.1L411.9 73.4Z" fill="#0ef626" stroke="none"/>
<path d="M420.9 71.1L415.9 71.1L411.9 73.4"/>
<path d="M376.8 87.3L381 84.2L376.4 84.3L372.2 87.3Z" fill="#00f898" stroke="none"/>
<path d="M381 84.2L376.4 84.3L372.2 87.3"/>
<path d="M457.3 63.4L461.1 61.7L455.9 61.7L452 63.3Z" fill="#9af807" stroke="none"/>
<path d="M461.1 61.7L455.9 61.7L452 63.3"/>
<path d="M497.9 57.2L501.6 56.2L496.1 56L492.4 57Z" fill="#faf400" stroke="none"/>
<path d="M501.6 56.2L496.1 56L492.4 57"/>
<path d="M346.2 100.9L350.4 97.3L346 97.3L341.7 100.9Z" fill="#03d9fb" stroke="none"/>
<path d="M350.4 97.3L346 97.3L341.7 100.9"/>
<path d="M425.9 71.1L429.9 68.9L424.9 68.9L420.9 71.1Z" fill="#17f618" stroke="none"/>
<path d="M429.9 68.9L424.9 68.9L420.9 71.1"/>
<path d="M466.5 61.9L470.3 60.3L465 60.2L461.1 61.7Z" fill="#bdf801" stroke="none"/>
<path d="M470.3 60.3L465 60.2L461.1 61.7"/>
<path d="M385.7 84.2L389.9 81.3L385.2 81.3L381 84.2Z" fill="#00f87d" stroke="none"/>
<path d="M389.9 81.3L385.2 81.3L381 84.2"/>
<path d="M507.2 56.5L510.8 55.7L505.2 55.4L501.6 56.2Z" fill="#fdee00" stroke="none"/>
<path d="M510.8 55.7L505.2 55.4L501.6 56.2"/>
<path d="M394.7 81.3L398.8 78.5L394 78.6L389.9 81.3Z" fill="#00f75d" stroke="none"/>
<path d="M398.8 78.5L394 78.6L389.9 81.3"/>
<path d="M475.7 60.5L479.5 59.1L474.1 59L470.3 60.3Z" fill="#d5f700" stroke="none"/>
<path d="M479.5 59.1L474.1 59L470.3 60.3"/>
<path d="M354.9 97.3L359.2 93.8L354.7 93.8L350.4 97.3Z" fill="#00ecef" stroke="none"/>
<path d="M359.2 93.8L354.7 93.8L350.4 97.3"/>
<path d="M435 69L439 66.9L433.9 66.9L429.9 68.9Z" fill="#41f714" stroke="none"/>
<path d="M439 66.9L433.9 66.9L429.9 68.9"/>
<path d="M363.7 93.8L368 90.4L363.4 90.5L359.2 93.8Z" fill="#00f4dc" stroke="none"/>
<path d="M368 90.4L363.4 90.5L359.2 93.8"/>
<path d="M403.7 78.6L407.8 75.9L402.9 75.9L398.8 78.5Z" fill="#02f63d" stroke="none"/>
<path d="M407.8 75.9L402.9 75.9L398.8 78.5"/>
<path d="M444.2 67L448.1 65.1L442.9 65L439 66.9Z" fill="#67f811" stroke="none"/>
<path d="M448.1 65.1L442.9 65L439 66.9"/>
<path d="M484.9 59.3L488.7 58.1L483.2 57.9L479.5 59.1Z" fill="#eaf500" stroke="none"/>
<path d="M488.7 58.1L483.2 57.9L479.5 59.1"/>
<path d="M372.6 90.5L376.8 87.3L372.2 87.3L368 90.4Z" fill="#00f7ab" stroke="none"/>
<path d="M376.8 87.3L372.2 87.3L368 90.4"/>
<path d="M412.8 76L416.8 73.4L411.9 73.4L407.8 75.9Z" fill="#0bf62d" stroke="none"/>
<path d="M416.8 73.4L411.9 73.4L407.8 75.9"/>
<path d="M453.4 65.2L457.3 63.4L452 63.3L448.1 65.1Z" fill="#90f809" stroke="none"/>
<path d="M457.3 63.4L452 63.3L448.1 65.1"/>
<path d="M494.2 58.3L497.9 57.2L492.4 57L488.7 58.1Z" fill="#fcf400" stroke="none"/>
<path d="M497.9 57.2L492.4 57L488.7 58.1"/>
<path d="M421.9 73.5L425.9 71.1L420.9 71.1L416.8 73.4Z" fill="#13f61e" stroke="none"/>
<path d="M425.9 71.1L420.9 71.1L416.8 73.4"/>
<path d="M341.8 104.6L346.2 100.9L341.7 100.9L337.4 104.6Z" fill="#09cafe" stroke="none"/>
<path d="M346.2 100.9L341.7 100.9L337.4 104.6"/>
<path d="M503.5 57.5L507.2 56.5L501.6 56.2L497.9 57.2Z" fill="#fdec00" stroke="none"/>
<path d="M507.2 56.5L501.6 56.2L497.9 57.2"/>
<path d="M381.5 87.3L385.7 84.2L381 84.2L376.8 87.3Z" fill="#00f88b" stroke="none"/>
<path d="M385.7 84.2L381 84.2L376.8 87.3"/>
<path d="M462.6 63.5L466.5 61.9L461.1 61.7L457.3 63.4Z" fill="#b5f802" stroke="none"/>
<path d="M466.5 61.9L461.1 61.7L457.3 63.4"/>
<path d="M350.6 100.9L354.9 97.3L350.4 97.3L346.2 100.9Z" fill="#01e4f7" stroke="none"/>
<path d="M354.9 97.3L350.4 97.3L346.2 100.9"/>
<path d="M471.9 62.1L475.7 60.5L470.3 60.3L466.5 61.9Z" fill="#d1f700" stroke="none"/>
<path d="M475.7 60.5L470.3 60.3L466.5 61.9"/>
<path d="M390.5 84.3L394.7 81.3L389.9 81.3L385.7 84.2Z" fill="#00f86f" stroke="none"/>
<path d="M394.7 81.3L389.9 81.3L385.7 84.2"/>
<path d="M431 71.2L435 69L429.9 68.9L425.9 71.1Z" fill="#31f716" stroke="none"/>
<path d="M435 69L429.9 68.9L425.9 71.1"/>
<path d="M512.9 56.9L516.5 56L510.8 55.7L507.2 56.5Z" fill="#fee600" stroke="none"/>
<path d="M516.5 56L510.8 55.7L507.2 56.5"/>
<path d="M399.6 81.4L403.7 78.6L398.8 78.5L394.7 81.3Z" fill="#00f64a" stroke="none"/>
<path d="M403.7 78.6L398.8 78.5L394.7 81.3"/>
<path d="M359.5 97.3L363.7 93.8L359.2 93.8L354.9 97.3Z" fill="#00f0e8" stroke="none"/>
<path d="M363.7 93.8L359.2 93.8L354.9 97.3"/>
<path d="M481.1 60.8L484.9 59.3L479.5 59.1L475.7 60.5Z" fill="#e8f500" stroke="none"/>
<path d="M484.9 59.3L479.5 59.1L475.7 60.5"/>
<path d="M440.2 69.1L444.2 67L439 66.9L435 69Z" fill="#59f812" stroke="none"/>
<path d="M444.2 67L439 66.9L435 69"/>
<path d="M368.4 93.9L372.6 90.5L368 90.4L363.7 93.8Z" fill="#00f6c6" stroke="none"/>
<path d="M372.6 90.5L368 90.4L363.7 93.8"/>
<path d="M408.6 78.7L412.8 76L407.8 75.9L403.7 78.6Z" fill="#07f634" stroke="none"/>
<path d="M412.8 76L407.8 75.9L403.7 78.6"/>
<path d="M449.4 67.2L453.4 65.2L448.1 65.1L444.2 67Z" fill="#82f80c" stroke="none"/>
<path d="M453.4 65.2L448.1 65.1L444.2 67"/>
<path d="M490.5 59.6L494.2 58.3L488.7 58.1L484.9 59.3Z" fill="#fcf400" stroke="none"/>
<path d="M494.2 58.3L488.7 58.1L484.9 59.3"/>
<path d="M417.8 76.1L421.9 73.5L416.8 73.4L412.8 76Z" fill="#0ff624" stroke="none"/>
<path d="M421.9 73.5L416.8 73.4L412.8 76"/>
<path d="M499.8 58.7L503.5 57.5L497.9 57.2L494.2 58.3Z" fill="#fdec00" stroke="none"/>
<path d="M503.5 57.5L497.9 57.2L494.2 58.3"/>
<path d="M377.3 90.6L381.5 87.3L376.8 87.3L372.6 90.5Z" fill="#00f89a" stroke="none"/>
<path d="M381.5 87.3L376.8 87.3L372.6 90.5"/>
<path d="M458.7 65.4L462.6 63.5L457.3 63.4L453.4 65.2Z" fill="#abf804" stroke="none"/>
<path d="M462.6 63.5L457.3 63.4L453.4 65.2"/>
<path d="M337.5 108.6L341.8 104.6L337.4 104.6L333.1 108.5Z" fill="#19bbff" stroke="none"/>
<path d="M341.8 104.6L337.4 104.6L333.1 108.5"/>
<path d="M346.3 104.8L350.6 100.9L346.2 100.9L341.8 104.6Z" fill="#04d4fc" stroke="none"/>
<path d="M350.6 100.9L346.2 100.9L341.8 104.6"/>
<path d="M426.9 73.7L431 71.2L425.9 71.1L421.9 73.5Z" fill="#1ef617" stroke="none"/>
<path d="M431 71.2L425.9 71.1L421.9 73.5"/>
<path d="M386.3 87.4L390.5 84.3L385.7 84.2L381.5 87.3Z" fill="#00f87e" stroke="none"/>
<path d="M390.5 84.3L385.7 84.2L381.5 87.3"/>
<path d="M468 63.8L471.9 62.1L466.5 61.9L462.6 63.5Z" fill="#cbf700" stroke="none"/>
<path d="M471.9 62.1L466.5 61.9L462.6 63.5"/>
<path d="M509.2 57.9L512.9 56.9L507.2 56.5L503.5 57.5Z" fill="#ffe500" stroke="none"/>
<path d="M512.9 56.9L507.2 56.5L503.5 57.5"/>
<path d="M355.2 101L359.5 97.3L354.9 97.3L350.6 100.9Z" fill="#00eaf2" stroke="none"/>
<path d="M359.5 97.3L354.9 97.3L350.6 100.9"/>
<path d="M395.4 84.4L399.6 81.4L394.7 81.3L390.5 84.3Z" fill="#00f75d" stroke="none"/>
<path d="M399.6 81.4L394.7 81.3L390.5 84.3"/>
<path d="M477.3 62.3L481.1 60.8L475.7 60.5L471.9 62.1Z" fill="#e4f600" stroke="none"/>
<path d="M481.1 60.8L475.7 60.5L471.9 62.1"/>
<path d="M436.2 71.4L440.2 69.1L435 69L431 71.2Z" fill="#49f713" stroke="none"/>
<path d="M440.2 69.1L435 69L431 71.2"/>
<path d="M518.6 57.3L522.2 56.4L516.5 56L512.9 56.9Z" fill="#ffde00" stroke="none"/>
<path d="M522.2 56.4L516.5 56L512.9 56.9"/>
<path d="M404.5 81.5L408.6 78.7L403.7 78.6L399.6 81.4Z" fill="#02f63c" stroke="none"/>
<path d="M408.6 78.7L403.7 78.6L399.6 81.4"/>
<path d="M364.1 97.5L368.4 93.9L363.7 93.8L359.5 97.3Z" fill="#00f4e1" stroke="none"/>
<path d="M368.4 93.9L363.7 93.8L359.5 97.3"/>
<path d="M445.4 69.3L449.4 67.2L444.2 67L440.2 69.1Z" fill="#72f80f" stroke="none"/>
<path d="M449.4 67.2L444.2 67L440.2 69.1"/>
<path d="M486.7 61.1L490.5 59.6L484.9 59.3L481.1 60.8Z" fill="#faf400" stroke="none"/>
<path d="M490.5 59.6L484.9 59.3L481.1 60.8"/>
<path d="M413.6 78.8L417.8 76.1L412.8 76L408.6 78.7Z" fill="#0bf62c" stroke="none"/>
<path d="M417.8 76.1L412.8 76L408.6 78.7"/>
<path d="M454.7 67.4L458.7 65.4L453.4 65.2L449.4 67.2Z" fill="#9df807" stroke="none"/>
<path d="M458.7 65.4L453.4 65.2L449.4 67.2"/>
<path d="M333.1 112.8L337.5 108.6L333.1 108.5L328.8 112.6Z" fill="#2caaff" stroke="none"/>
<path d="M337.5 108.6L333.1 108.5L328.8 112.6"/>
<path d="M373 94L377.3 90.6L372.6 90.5L368.4 93.9Z" fill="#00f7b0" stroke="none"/>
<path d="M377.3 90.6L372.6 90.5L368.4 93.9"/>
<path d="M496.1 60L499.8 58.7L494.2 58.3L490.5 59.6Z" fill="#fdec00" stroke="none"/>
<path d="M499.8 58.7L494.2 58.3L490.5 59.6"/>
<path d="M382.1 90.7L386.3 87.4L381.5 87.3L377.3 90.6Z" fill="#00f88d" stroke="none"/>
<path d="M386.3 87.4L381.5 87.3L377.3 90.6"/>
<path d="M464.1 65.7L468 63.8L462.6 63.5L458.7 65.4Z" fill="#c3f800" stroke="none"/>
<path d="M468 63.8L462.6 63.5L458.7 65.4"/>
<path d="M341.9 108.8L346.3 104.8L341.8 104.6L337.5 108.6Z" fill="#0fc5fe" stroke="none"/>
<path d="M346.3 104.8L341.8 104.6L337.5 108.6"/>
<path d="M422.8 76.3L426.9 73.7L421.9 73.5L417.8 76.1Z" fill="#14f61c" stroke="none"/>
<path d="M426.9 73.7L421.9 73.5L417.8 76.1"/>
<path d="M505.5 59.1L509.2 57.9L503.5 57.5L499.8 58.7Z" fill="#ffe400" stroke="none"/>
<path d="M509.2 57.9L503.5 57.5L499.8 58.7"/>
<path d="M350.8 104.9L355.2 101L350.6 100.9L346.3 104.8Z" fill="#02dff9" stroke="none"/>
<path d="M355.2 101L350.6 100.9L346.3 104.8"/>
<path d="M391.2 87.6L395.4 84.4L390.5 84.3L386.3 87.4Z" fill="#00f871" stroke="none"/>
<path d="M395.4 84.4L390.5 84.3L386.3 87.4"/>
<path d="M432.1 73.9L436.2 71.4L431 71.2L426.9 73.7Z" fill="#36f715" stroke="none"/>
<path d="M436.2 71.4L431 71.2L426.9 73.7"/>
<path d="M473.4 64.1L477.3 62.3L471.9 62.1L468 63.8Z" fill="#ddf600" stroke="none"/>
<path d="M477.3 62.3L471.9 62.1L468 63.8"/>
<path d="M515 58.4L518.6 57.3L512.9 56.9L509.2 57.9Z" fill="#ffdc00" stroke="none"/>
<path d="M518.6 57.3L512.9 56.9L509.2 57.9"/>
<path d="M359.8 101.2L364.1 97.5L359.5 97.3L355.2 101Z" fill="#00eeeb" stroke="none"/>
<path d="M364.1 97.5L359.5 97.3L355.2 101"/>
<path d="M400.3 84.6L404.5 81.5L399.6 81.4L395.4 84.4Z" fill="#00f64c" stroke="none"/>
<path d="M404.5 81.5L399.6 81.4L395.4 84.4"/>
<path d="M441.4 71.7L445.4 69.3L440.2 69.1L436.2 71.4Z" fill="#60f811" stroke="none"/>
<path d="M445.4 69.3L440.2 69.1L436.2 71.4"/>
<path d="M482.9 62.7L486.7 61.1L481.1 60.8L477.3 62.3Z" fill="#f5f400" stroke="none"/>
<path d="M486.7 61.1L481.1 60.8L477.3 62.3"/>
<path d="M524.5 57.9L528.1 56.9L522.2 56.4L518.6 57.3Z" fill="#ffd600" stroke="none"/>
<path d="M528.1 56.9L522.2 56.4L518.6 57.3M524.5 57.9L528.1 56.9"/>
<path d="M409.5 81.7L413.6 78.8L408.6 78.7L404.5 81.5Z" fill="#06f634" stroke="none"/>
<path d="M413.6 78.8L408.6 78.7L404.5 81.5"/>
<path d="M328.7 117.1L333.1 112.8L328.8 112.6L324.4 116.9Z" fill="#4398ff" stroke="none"/>
<path d="M333.1 112.8L328.8 112.6L324.4 116.9M328.7 117.1L324.4 116.9"/>
<path d="M492.3 61.5L496.1 60L490.5 59.6L486.7 61.1Z" fill="#fded00" stroke="none"/>
<path d="M496.1 60L490.5 59.6L486.7 61.1"/>
<path d="M450.7 69.6L454.7 67.4L449.4 67.2L445.4 69.3Z" fill="#8cf80a" stroke="none"/>
<path d="M454.7 67.4L449.4 67.2L445.4 69.3"/>
<path d="M368.7 97.6L373 94L368.4 93.9L364.1 97.5Z" fill="#00f5cd" stroke="none"/>
<path d="M373 94L368.4 93.9L364.1 97.5"/>
<path d="M460.1 67.7L464.1 65.7L458.7 65.4L454.7 67.4Z" fill="#b6f802" stroke="none"/>
<path d="M464.1 65.7L458.7 65.4L454.7 67.4"/>
<path d="M337.6 113L341.9 108.8L337.5 108.6L333.1 112.8Z" fill="#1fb5ff" stroke="none"/>
<path d="M341.9 108.8L337.5 108.6L333.1 112.8"/>
<path d="M377.8 94.2L382.1 90.7L377.3 90.6L373 94Z" fill="#00f89e" stroke="none"/>
<path d="M382.1 90.7L377.3 90.6L373 94"/>
<path d="M418.7 79L422.8 76.3L417.8 76.1L413.6 78.8Z" fill="#0ff624" stroke="none"/>
<path d="M422.8 76.3L417.8 76.1L413.6 78.8"/>
<path d="M501.8 60.5L505.5 59.1L499.8 58.7L496.1 60Z" fill="#ffe400" stroke="none"/>
<path d="M505.5 59.1L499.8 58.7L496.1 60"/>
<path d="M386.9 90.9L391.2 87.6L386.3 87.4L382.1 90.7Z" fill="#00f881" stroke="none"/>
<path d="M391.2 87.6L386.3 87.4L382.1 90.7"/>
<path d="M346.4 109L350.8 104.9L346.3 104.8L341.9 108.8Z" fill="#05cefe" stroke="none"/>
<path d="M350.8 104.9L346.3 104.8L341.9 108.8"/>
<path d="M469.5 66L473.4 64.1L468 63.8L464.1 65.7Z" fill="#d5f700" stroke="none"/>
<path d="M473.4 64.1L468 63.8L464.1 65.7"/>
<path d="M428 76.5L432.1 73.9L426.9 73.7L422.8 76.3Z" fill="#21f617" stroke="none"/>
<path d="M432.1 73.9L426.9 73.7L422.8 76.3"/>
<path d="M511.3 59.6L515 58.4L509.2 57.9L505.5 59.1Z" fill="#ffdc00" stroke="none"/>
<path d="M515 58.4L509.2 57.9L505.5 59.1"/>
<path d="M355.4 105.2L359.8 101.2L355.2 101L350.8 104.9Z" fill="#00e8f5" stroke="none"/>
<path d="M359.8 101.2L355.2 101L350.8 104.9"/>
<path d="M396.1 87.8L400.3 84.6L395.4 84.4L391.2 87.6Z" fill="#00f761" stroke="none"/>
<path d="M400.3 84.6L395.4 84.4L391.2 87.6"/>
<path d="M437.3 74.2L441.4 71.7L436.2 71.4L432.1 73.9Z" fill="#4df713" stroke="none"/>
<path d="M441.4 71.7L436.2 71.4L432.1 73.9"/>
<path d="M520.8 59L524.5 57.9L518.6 57.3L515 58.4Z" fill="#ffd400" stroke="none"/>
<path d="M524.5 57.9L518.6 57.3L515 58.4M520.8 59L524.5 57.9"/>
<path d="M479 64.5L482.9 62.7L477.3 62.3L473.4 64.1Z" fill="#eef500" stroke="none"/>
<path d="M482.9 62.7L477.3 62.3L473.4 64.1"/>
<path d="M364.4 101.4L368.7 97.6L364.1 97.5L359.8 101.2Z" fill="#00f2e4" stroke="none"/>
<path d="M368.7 97.6L364.1 97.5L359.8 101.2"/>
<path d="M405.3 84.8L409.5 81.7L404.5 81.5L400.3 84.6Z" fill="#01f63d" stroke="none"/>
<path d="M409.5 81.7L404.5 81.5L400.3 84.6"/>
<path d="M488.5 63.2L492.3 61.5L486.7 61.1L482.9 62.7Z" fill="#fdf000" stroke="none"/>
<path d="M492.3 61.5L486.7 61.1L482.9 62.7"/>
<path d="M446.7 72L450.7 69.6L445.4 69.3L441.4 71.7Z" fill="#78f80e" stroke="none"/>
<path d="M450.7 69.6L445.4 69.3L441.4 71.7"/>
<path d="M333.1 117.4L337.6 113L333.1 112.8L328.7 117.1Z" fill="#36a3ff" stroke="none"/>
<path d="M337.6 113L333.1 112.8L328.7 117.1M333.1 117.4L328.7 117.1"/>
<path d="M414.5 82L418.7 79L413.6 78.8L409.5 81.7Z" fill="#0bf62c" stroke="none"/>
<path d="M418.7 79L413.6 78.8L409.5 81.7"/>
<path d="M456.1 70L460.1 67.7L454.7 67.4L450.7 69.6Z" fill="#a4f805" stroke="none"/>
<path d="M460.1 67.7L454.7 67.4L450.7 69.6"/>
<path d="M373.5 97.9L377.8 94.2L373 94L368.7 97.6Z" fill="#00f7b9" stroke="none"/>
<path d="M377.8 94.2L373 94L368.7 97.6"/>
<path d="M498 62L501.8 60.5L496.1 60L492.3 61.5Z" fill="#fee600" stroke="none"/>
<path d="M501.8 60.5L496.1 60L492.3 61.5"/>
<path d="M342.1 113.3L346.4 109L341.9 108.8L337.6 113Z" fill="#15beff" stroke="none"/>
<path d="M346.4 109L341.9 108.8L337.6 113"/>
<path d="M382.6 94.5L386.9 90.9L382.1 90.7L377.8 94.2Z" fill="#00f892" stroke="none"/>
<path d="M386.9 90.9L382.1 90.7L377.8 94.2"/>
<path d="M465.6 68.1L469.5 66L464.1 65.7L460.1 67.7Z" fill="#caf700" stroke="none"/>
<path d="M469.5 66L464.1 65.7L460.1 67.7"/>
<path d="M423.9 79.3L428 76.5L422.8 76.3L418.7 79Z" fill="#14f61c" stroke="none"/>
<path d="M428 76.5L422.8 76.3L418.7 79"/>
<path d="M507.5 61L511.3 59.6L505.5 59.1L501.8 60.5Z" fill="#ffdc00" stroke="none"/>
<path d="M511.3 59.6L505.5 59.1L501.8 60.5"/>
<path d="M391.8 91.2L396.1 87.8L391.2 87.6L386.9 90.9Z" fill="#00f875" stroke="none"/>
<path d="M396.1 87.8L391.2 87.6L386.9 90.9"/>
<path d="M351 109.3L355.4 105.2L350.8 104.9L346.4 109Z" fill="#03d8fb" stroke="none"/>
<path d="M355.4 105.2L350.8 104.9L346.4 109"/>
<path d="M517.1 60.2L520.8 59L515 58.4L511.3 59.6Z" fill="#ffd300" stroke="none"/>
<path d="M520.8 59L515 58.4L511.3 59.6M517.1 60.2L520.8 59"/>
<path d="M433.2 76.9L437.3 74.2L432.1 73.9L428 76.5Z" fill="#37f715" stroke="none"/>
<path d="M437.3 74.2L432.1 73.9L428 76.5"/>
<path d="M475.1 66.5L479 64.5L473.4 64.1L469.5 66Z" fill="#e5f600" stroke="none"/>
<path d="M479 64.5L473.4 64.1L469.5 66"/>
<path d="M401 88.1L405.3 84.8L400.3 84.6L396.1 87.8Z" fill="#00f750" stroke="none"/>
<path d="M405.3 84.8L400.3 84.6L396.1 87.8"/>
<path d="M442.6 74.5L446.7 72L441.4 71.7L437.3 74.2Z" fill="#63f811" stroke="none"/>
<path d="M446.7 72L441.4 71.7L437.3 74.2"/>
<path d="M360.1 105.4L364.4 101.4L359.8 101.2L355.4 105.2Z" fill="#00ecef" stroke="none"/>
<path d="M364.4 101.4L359.8 101.2L355.4 105.2"/>
<path d="M484.6 65L488.5 63.2L482.9 62.7L479 64.5Z" fill="#fcf300" stroke="none"/>
<path d="M488.5 63.2L482.9 62.7L479 64.5"/>
<path d="M369.2 101.7L373.5 97.9L368.7 97.6L364.4 101.4Z" fill="#00f4d8" stroke="none"/>
<path d="M373.5 97.9L368.7 97.6L364.4 101.4"/>
<path d="M452.1 72.4L456.1 70L450.7 69.6L446.7 72Z" fill="#90f809" stroke="none"/>
<path d="M456.1 70L450.7 69.6L446.7 72"/>
<path d="M410.3 85.1L414.5 82L409.5 81.7L405.3 84.8Z" fill="#06f636" stroke="none"/>
<path d="M414.5 82L409.5 81.7L405.3 84.8"/>
<path d="M494.2 63.7L498 62L492.3 61.5L488.5 63.2Z" fill="#fee800" stroke="none"/>
<path d="M498 62L492.3 61.5L488.5 63.2"/>
<path d="M337.6 117.7L342.1 113.3L337.6 113L333.1 117.4Z" fill="#2aadff" stroke="none"/>
<path d="M342.1 113.3L337.6 113L333.1 117.4M337.6 117.7L333.1 117.4"/>
<path d="M378.3 98.2L382.6 94.5L377.8 94.2L373.5 97.9Z" fill="#00f8a5" stroke="none"/>
<path d="M382.6 94.5L377.8 94.2L373.5 97.9"/>
<path d="M419.7 82.3L423.9 79.3L418.7 79L414.5 82Z" fill="#0ff625" stroke="none"/>
<path d="M423.9 79.3L418.7 79L414.5 82"/>
<path d="M461.6 70.4L465.6 68.1L460.1 67.7L456.1 70Z" fill="#bcf801" stroke="none"/>
<path d="M465.6 68.1L460.1 67.7L456.1 70"/>
<path d="M503.8 62.6L507.5 61L501.8 60.5L498 62Z" fill="#ffde00" stroke="none"/>
<path d="M507.5 61L501.8 60.5L498 62"/>
<path d="M346.6 113.6L351 109.3L346.4 109L342.1 113.3Z" fill="#0cc7fe" stroke="none"/>
<path d="M351 109.3L346.4 109L342.1 113.3"/>
<path d="M387.5 94.8L391.8 91.2L386.9 90.9L382.6 94.5Z" fill="#00f886" stroke="none"/>
<path d="M391.8 91.2L386.9 90.9L382.6 94.5"/>
<path d="M429.1 79.7L433.2 76.9L428 76.5L423.9 79.3Z" fill="#1ff617" stroke="none"/>
<path d="M433.2 76.9L428 76.5L423.9 79.3"/>
<path d="M471.1 68.6L475.1 66.5L469.5 66L465.6 68.1Z" fill="#daf600" stroke="none"/>
<path d="M475.1 66.5L469.5 66L465.6 68.1"/>
<path d="M513.4 61.6L517.1 60.2L511.3 59.6L507.5 61Z" fill="#ffd400" stroke="none"/>
<path d="M517.1 60.2L511.3 59.6L507.5 61M513.4 61.6L517.1 60.2"/>
<path d="M396.8 91.5L401 88.1L396.1 87.8L391.8 91.2Z" fill="#00f867" stroke="none"/>
<path d="M401 88.1L396.1 87.8L391.8 91.2"/>
<path d="M480.7 67L484.6 65L479 64.5L475.1 66.5Z" fill="#f5f400" stroke="none"/>
<path d="M484.6 65L479 64.5L475.1 66.5"/>
<path d="M438.5 77.3L442.6 74.5L437.3 74.2L433.2 76.9Z" fill="#4df713" stroke="none"/>
<path d="M442.6 74.5L437.3 74.2L433.2 76.9"/>
<path d="M355.7 109.6L360.1 105.4L355.4 105.2L351 109.3Z" fill="#01e2f8" stroke="none"/>
<path d="M360.1 105.4L355.4 105.2L351 109.3"/>
<path d="M448 75L452.1 72.4L446.7 72L442.6 74.5Z" fill="#79f80e" stroke="none"/>
<path d="M452.1 72.4L446.7 72L442.6 74.5"/>
<path d="M364.8 105.8L369.2 101.7L364.4 101.4L360.1 105.4Z" fill="#00efe8" stroke="none"/>
<path d="M369.2 101.7L364.4 101.4L360.1 105.4"/>
<path d="M406.1 88.5L410.3 85.1L405.3 84.8L401 88.1Z" fill="#00f640" stroke="none"/>
<path d="M410.3 85.1L405.3 84.8L401 88.1"/>
<path d="M490.3 65.5L494.2 63.7L488.5 63.2L484.6 65Z" fill="#fdec00" stroke="none"/>
<path d="M494.2 63.7L488.5 63.2L484.6 65"/>
<path d="M374 102.1L378.3 98.2L373.5 97.9L369.2 101.7Z" fill="#00f6c5" stroke="none"/>
<path d="M378.3 98.2L373.5 97.9L369.2 101.7"/>
<path d="M457.5 72.8L461.6 70.4L456.1 70L452.1 72.4Z" fill="#a7f805" stroke="none"/>
<path d="M461.6 70.4L456.1 70L452.1 72.4"/>
<path d="M415.5 85.5L419.7 82.3L414.5 82L410.3 85.1Z" fill="#0af62f" stroke="none"/>
<path d="M419.7 82.3L414.5 82L410.3 85.1"/>
<path d="M499.9 64.3L503.8 62.6L498 62L494.2 63.7Z" fill="#ffe100" stroke="none"/>
<path d="M503.8 62.6L498 62L494.2 63.7"/>
<path d="M342.2 118.1L346.6 113.6L342.1 113.3L337.6 117.7Z" fill="#1eb6ff" stroke="none"/>
<path d="M346.6 113.6L342.1 113.3L337.6 117.7M342.2 118.1L337.6 117.7"/>
<path d="M383.2 98.6L387.5 94.8L382.6 94.5L378.3 98.2Z" fill="#00f898" stroke="none"/>
<path d="M387.5 94.8L382.6 94.5L378.3 98.2"/>
<path d="M424.9 82.8L429.1 79.7L423.9 79.3L419.7 82.3Z" fill="#13f61e" stroke="none"/>
<path d="M429.1 79.7L423.9 79.3L419.7 82.3"/>
<path d="M509.6 63.2L513.4 61.6L507.5 61L503.8 62.6Z" fill="#ffd600" stroke="none"/>
<path d="M513.4 61.6L507.5 61L503.8 62.6M509.6 63.2L513.4 61.6"/>
<path d="M467.1 70.9L471.1 68.6L465.6 68.1L461.6 70.4Z" fill="#cdf700" stroke="none"/>
<path d="M471.1 68.6L465.6 68.1L461.6 70.4"/>
<path d="M392.5 95.2L396.8 91.5L391.8 91.2L387.5 94.8Z" fill="#00f87b" stroke="none"/>
<path d="M396.8 91.5L391.8 91.2L387.5 94.8"/>
<path d="M476.7 69.1L480.7 67L475.1 66.5L471.1 68.6Z" fill="#eaf500" stroke="none"/>
<path d="M480.7 67L475.1 66.5L471.1 68.6"/>
<path d="M351.2 114L355.7 109.6L351 109.3L346.6 113.6Z" fill="#05d0fd" stroke="none"/>
<path d="M355.7 109.6L351 109.3L346.6 113.6"/>
<path d="M434.4 80.2L438.5 77.3L433.2 76.9L429.1 79.7Z" fill="#34f715" stroke="none"/>
<path d="M438.5 77.3L433.2 76.9L429.1 79.7"/>
<path d="M401.8 92L406.1 88.5L401 88.1L396.8 91.5Z" fill="#00f757" stroke="none"/>
<path d="M406.1 88.5L401 88.1L396.8 91.5"/>
<path d="M443.9 77.7L448 75L442.6 74.5L438.5 77.3Z" fill="#61f811" stroke="none"/>
<path d="M448 75L442.6 74.5L438.5 77.3"/>
<path d="M360.4 110L364.8 105.8L360.1 105.4L355.7 109.6Z" fill="#00e9f4" stroke="none"/>
<path d="M364.8 105.8L360.1 105.4L355.7 109.6"/>
<path d="M486.4 67.6L490.3 65.5L484.6 65L480.7 67Z" fill="#fdf000" stroke="none"/>
<path d="M490.3 65.5L484.6 65L480.7 67"/>
<path d="M369.6 106.2L374 102.1L369.2 101.7L364.8 105.8Z" fill="#00f3e2" stroke="none"/>
<path d="M374 102.1L369.2 101.7L364.8 105.8"/>
<path d="M453.5 75.5L457.5 72.8L452.1 72.4L448 75Z" fill="#90f809" stroke="none"/>
<path d="M457.5 72.8L452.1 72.4L448 75"/>
<path d="M411.2 88.9L415.5 85.5L410.3 85.1L406.1 88.5Z" fill="#04f639" stroke="none"/>
<path d="M415.5 85.5L410.3 85.1L406.1 88.5"/>
<path d="M496.1 66.2L499.9 64.3L494.2 63.7L490.3 65.5Z" fill="#fee500" stroke="none"/>
<path d="M499.9 64.3L494.2 63.7L490.3 65.5"/>
<path d="M378.8 102.5L383.2 98.6L378.3 98.2L374 102.1Z" fill="#00f7b2" stroke="none"/>
<path d="M383.2 98.6L378.3 98.2L374 102.1"/>
<path d="M505.8 65L509.6 63.2L503.8 62.6L499.9 64.3Z" fill="#ffda00" stroke="none"/>
<path d="M509.6 63.2L503.8 62.6L499.9 64.3M505.8 65L509.6 63.2"/>
<path d="M420.7 86L424.9 82.8L419.7 82.3L415.5 85.5Z" fill="#0df628" stroke="none"/>
<path d="M424.9 82.8L419.7 82.3L415.5 85.5"/>
<path d="M463.1 73.4L467.1 70.9L461.6 70.4L457.5 72.8Z" fill="#bdf801" stroke="none"/>
<path d="M467.1 70.9L461.6 70.4L457.5 72.8"/>
<path d="M346.8 118.5L351.2 114L346.6 113.6L342.2 118.1Z" fill="#15bfff" stroke="none"/>
<path d="M351.2 114L346.6 113.6L342.2 118.1M346.8 118.5L342.2 118.1"/>
<path d="M388.1 99L392.5 95.2L387.5 94.8L383.2 98.6Z" fill="#00f88d" stroke="none"/>
<path d="M392.5 95.2L387.5 94.8L383.2 98.6"/>
<path d="M430.2 83.2L434.4 80.2L429.1 79.7L424.9 82.8Z" fill="#18f618" stroke="none"/>
<path d="M434.4 80.2L429.1 79.7L424.9 82.8"/>
<path d="M472.7 71.5L476.7 69.1L471.1 68.6L467.1 70.9Z" fill="#dcf600" stroke="none"/>
<path d="M476.7 69.1L471.1 68.6L467.1 70.9"/>
<path d="M355.9 114.4L360.4 110L355.7 109.6L351.2 114Z" fill="#03dafa" stroke="none"/>
<path d="M360.4 110L355.7 109.6L351.2 114"/>
<path d="M397.5 95.6L401.8 92L396.8 91.5L392.5 95.2Z" fill="#00f870" stroke="none"/>
<path d="M401.8 92L396.8 91.5L392.5 95.2"/>
<path d="M439.7 80.7L443.9 77.7L438.5 77.3L434.4 80.2Z" fill="#48f713" stroke="none"/>
<path d="M443.9 77.7L438.5 77.3L434.4 80.2"/>
<path d="M482.4 69.8L486.4 67.6L480.7 67L476.7 69.1Z" fill="#f8f400" stroke="none"/>
<path d="M486.4 67.6L480.7 67L476.7 69.1"/>
<path d="M365.2 110.5L369.6 106.2L364.8 105.8L360.4 110Z" fill="#00edee" stroke="none"/>
<path d="M369.6 106.2L364.8 105.8L360.4 110"/>
<path d="M406.9 92.4L411.2 88.9L406.1 88.5L401.8 92Z" fill="#00f648" stroke="none"/>
<path d="M411.2 88.9L406.1 88.5L401.8 92"/>
<path d="M449.3 78.3L453.5 75.5L448 75L443.9 77.7Z" fill="#75f80f" stroke="none"/>
<path d="M453.5 75.5L448 75L443.9 77.7"/>
<path d="M492.1 68.2L496.1 66.2L490.3 65.5L486.4 67.6Z" fill="#feea00" stroke="none"/>
<path d="M496.1 66.2L490.3 65.5L486.4 67.6"/>
<path d="M374.4 106.7L378.8 102.5L374 102.1L369.6 106.2Z" fill="#00f5d4" stroke="none"/>
<path d="M378.8 102.5L374 102.1L369.6 106.2"/>
<path d="M416.4 89.4L420.7 86L415.5 85.5L411.2 88.9Z" fill="#08f632" stroke="none"/>
<path d="M420.7 86L415.5 85.5L411.2 88.9"/>
<path d="M459 76L463.1 73.4L457.5 72.8L453.5 75.5Z" fill="#a5f805" stroke="none"/>
<path d="M463.1 73.4L457.5 72.8L453.5 75.5"/>
<path d="M501.9 66.9L505.8 65L499.9 64.3L496.1 66.2Z" fill="#ffde00" stroke="none"/>
<path d="M505.8 65L499.9 64.3L496.1 66.2M501.9 66.9L505.8 65"/>
<path d="M383.8 103L388.1 99L383.2 98.6L378.8 102.5Z" fill="#00f8a1" stroke="none"/>
<path d="M388.1 99L383.2 98.6L378.8 102.5"/>
<path d="M468.7 74L472.7 71.5L467.1 70.9L463.1 73.4Z" fill="#cdf700" stroke="none"/>
<path d="M472.7 71.5L467.1 70.9L463.1 73.4"/>
<path d="M426 86.5L430.2 83.2L424.9 82.8L420.7 86Z" fill="#11f621" stroke="none"/>
<path d="M430.2 83.2L424.9 82.8L420.7 86"/>
<path d="M351.5 119.1L355.9 114.4L351.2 114L346.8 118.5Z" fill="#0cc7fe" stroke="none"/>
<path d="M355.9 114.4L351.2 114L346.8 118.5M351.5 119.1L346.8 118.5"/>
<path d="M435.6 83.8L439.7 80.7L434.4 80.2L430.2 83.2Z" fill="#2cf716" stroke="none"/>
<path d="M439.7 80.7L434.4 80.2L430.2 83.2"/>
<path d="M393.2 99.5L397.5 95.6L392.5 95.2L388.1 99Z" fill="#00f883" stroke="none"/>
<path d="M397.5 95.6L392.5 95.2L388.1 99"/>
<path d="M478.4 72.1L482.4 69.8L476.7 69.1L472.7 71.5Z" fill="#eaf500" stroke="none"/>
<path d="M482.4 69.8L476.7 69.1L472.7 71.5"/>
<path d="M360.7 115L365.2 110.5L360.4 110L355.9 114.4Z" fill="#01e2f8" stroke="none"/>
<path d="M365.2 110.5L360.4 110L355.9 114.4"/>
<path d="M402.6 96.2L406.9 92.4L401.8 92L397.5 95.6Z" fill="#00f762" stroke="none"/>
<path d="M406.9 92.4L401.8 92L397.5 95.6"/>
<path d="M445.2 81.3L449.3 78.3L443.9 77.7L439.7 80.7Z" fill="#5bf812" stroke="none"/>
<path d="M449.3 78.3L443.9 77.7L439.7 80.7"/>
<path d="M488.2 70.5L492.1 68.2L486.4 67.6L482.4 69.8Z" fill="#fdef00" stroke="none"/>
<path d="M492.1 68.2L486.4 67.6L482.4 69.8"/>
<path d="M370 111L374.4 106.7L369.6 106.2L365.2 110.5Z" fill="#00f0e8" stroke="none"/>
<path d="M374.4 106.7L369.6 106.2L365.2 110.5"/>
<path d="M412.1 93L416.4 89.4L411.2 88.9L406.9 92.4Z" fill="#02f63d" stroke="none"/>
<path d="M416.4 89.4L411.2 88.9L406.9 92.4"/>
<path d="M498 69L501.9 66.9L496.1 66.2L492.1 68.2Z" fill="#ffe400" stroke="none"/>
<path d="M501.9 66.9L496.1 66.2L492.1 68.2M498 69L501.9 66.9"/>
<path d="M454.9 78.9L459 76L453.5 75.5L449.3 78.3Z" fill="#8af80b" stroke="none"/>
<path d="M459 76L453.5 75.5L449.3 78.3"/>
<path d="M379.4 107.2L383.8 103L378.8 102.5L374.4 106.7Z" fill="#00f6c3" stroke="none"/>
<path d="M383.8 103L378.8 102.5L374.4 106.7"/>
<path d="M464.6 76.7L468.7 74L463.1 73.4L459 76Z" fill="#b9f801" stroke="none"/>
<path d="M468.7 74L463.1 73.4L459 76"/>
<path d="M421.7 90L426 86.5L420.7 86L416.4 89.4Z" fill="#0bf62b" stroke="none"/>
<path d="M426 86.5L420.7 86L416.4 89.4"/>
<path d="M388.8 103.6L393.2 99.5L388.1 99L383.8 103Z" fill="#00f897" stroke="none"/>
<path d="M393.2 99.5L388.1 99L383.8 103"/>
<path d="M431.3 87.1L435.6 83.8L430.2 83.2L426 86.5Z" fill="#15f61b" stroke="none"/>
<path d="M435.6 83.8L430.2 83.2L426 86.5"/>
<path d="M474.4 74.7L478.4 72.1L472.7 71.5L468.7 74Z" fill="#dbf600" stroke="none"/>
<path d="M478.4 72.1L472.7 71.5L468.7 74"/>
<path d="M356.2 119.6L360.7 115L355.9 114.4L351.5 119.1Z" fill="#05cffe" stroke="none"/>
<path d="M360.7 115L355.9 114.4L351.5 119.1M356.2 119.6L351.5 119.1"/>
<path d="M441 84.4L445.2 81.3L439.7 80.7L435.6 83.8Z" fill="#3ff714" stroke="none"/>
<path d="M445.2 81.3L439.7 80.7L435.6 83.8"/>
<path d="M398.3 100.1L402.6 96.2L397.5 95.6L393.2 99.5Z" fill="#00f879" stroke="none"/>
<path d="M402.6 96.2L397.5 95.6L393.2 99.5"/>
<path d="M484.2 72.9L488.2 70.5L482.4 69.8L478.4 72.1Z" fill="#f8f400" stroke="none"/>
<path d="M488.2 70.5L482.4 69.8L478.4 72.1"/>
<path d="M365.5 115.5L370 111L365.2 110.5L360.7 115Z" fill="#00e9f4" stroke="none"/>
<path d="M370 111L365.2 110.5L360.7 115"/>
<path d="M407.8 96.8L412.1 93L406.9 92.4L402.6 96.2Z" fill="#00f754" stroke="none"/>
<path d="M412.1 93L406.9 92.4L402.6 96.2"/>
<path d="M494 71.3L498 69L492.1 68.2L488.2 70.5Z" fill="#fee900" stroke="none"/>
<path d="M498 69L492.1 68.2L488.2 70.5M494 71.3L498 69"/>
<path d="M450.7 81.9L454.9 78.9L449.3 78.3L445.2 81.3Z" fill="#6cf810" stroke="none"/>
<path d="M454.9 78.9L449.3 78.3L445.2 81.3"/>
<path d="M374.9 111.6L379.4 107.2L374.4 106.7L370 111Z" fill="#00f3e2" stroke="none"/>
<path d="M379.4 107.2L374.4 106.7L370 111"/>
<path d="M417.4 93.6L421.7 90L416.4 89.4L412.1 93Z" fill="#05f637" stroke="none"/>
<path d="M421.7 90L416.4 89.4L412.1 93"/>
<path d="M460.5 79.6L464.6 76.7L459 76L454.9 78.9Z" fill="#9ef807" stroke="none"/>
<path d="M464.6 76.7L459 76L454.9 78.9"/>
<path d="M384.4 107.8L388.8 103.6L383.8 103L379.4 107.2Z" fill="#00f7b2" stroke="none"/>
<path d="M388.8 103.6L383.8 103L379.4 107.2"/>
<path d="M427 90.6L431.3 87.1L426 86.5L421.7 90Z" fill="#0ff625" stroke="none"/>
<path d="M431.3 87.1L426 86.5L421.7 90"/>
<path d="M470.3 77.4L474.4 74.7L468.7 74L464.6 76.7Z" fill="#c8f700" stroke="none"/>
<path d="M474.4 74.7L468.7 74L464.6 76.7"/>
<path d="M393.9 104.2L398.3 100.1L393.2 99.5L388.8 103.6Z" fill="#00f88d" stroke="none"/>
<path d="M398.3 100.1L393.2 99.5L388.8 103.6"/>
<path d="M436.8 87.8L441 84.4L435.6 83.8L431.3 87.1Z" fill="#20f617" stroke="none"/>
<path d="M441 84.4L435.6 83.8L431.3 87.1"/>
<path d="M480.1 75.5L484.2 72.9L478.4 72.1L474.4 74.7Z" fill="#e7f500" stroke="none"/>
<path d="M484.2 72.9L478.4 72.1L474.4 74.7"/>
<path d="M361.1 120.3L365.5 115.5L360.7 115L356.2 119.6Z" fill="#03d8fb" stroke="none"/>
<path d="M365.5 115.5L360.7 115L356.2 119.6M361.1 120.3L356.2 119.6"/>
<path d="M403.4 100.7L407.8 96.8L402.6 96.2L398.3 100.1Z" fill="#00f86f" stroke="none"/>
<path d="M407.8 96.8L402.6 96.2L398.3 100.1"/>
<path d="M446.5 85.1L450.7 81.9L445.2 81.3L441 84.4Z" fill="#50f713" stroke="none"/>
<path d="M450.7 81.9L445.2 81.3L441 84.4"/>
<path d="M490 73.7L494 71.3L488.2 70.5L484.2 72.9Z" fill="#fdf000" stroke="none"/>
<path d="M494 71.3L488.2 70.5L484.2 72.9M490 73.7L494 71.3"/>
<path d="M370.5 116.2L374.9 111.6L370 111L365.5 115.5Z" fill="#00ecef" stroke="none"/>
<path d="M374.9 111.6L370 111L365.5 115.5"/>
<path d="M413.1 97.4L417.4 93.6L412.1 93L407.8 96.8Z" fill="#00f646" stroke="none"/>
<path d="M417.4 93.6L412.1 93L407.8 96.8"/>
<path d="M456.3 82.7L460.5 79.6L454.9 78.9L450.7 81.9Z" fill="#7ff80d" stroke="none"/>
<path d="M460.5 79.6L454.9 78.9L450.7 81.9"/>
<path d="M422.7 94.3L427 90.6L421.7 90L417.4 93.6Z" fill="#08f631" stroke="none"/>
<path d="M427 90.6L421.7 90L417.4 93.6"/>
<path d="M379.9 112.3L384.4 107.8L379.4 107.2L374.9 111.6Z" fill="#00f5d7" stroke="none"/>
<path d="M384.4 107.8L379.4 107.2L374.9 111.6"/>
<path d="M466.2 80.4L470.3 77.4L464.6 76.7L460.5 79.6Z" fill="#b0f803" stroke="none"/>
<path d="M470.3 77.4L464.6 76.7L460.5 79.6"/>
<path d="M389.4 108.5L393.9 104.2L388.8 103.6L384.4 107.8Z" fill="#00f8a2" stroke="none"/>
<path d="M393.9 104.2L388.8 103.6L384.4 107.8"/>
<path d="M432.5 91.3L436.8 87.8L431.3 87.1L427 90.6Z" fill="#12f61f" stroke="none"/>
<path d="M436.8 87.8L431.3 87.1L427 90.6"/>
<path d="M476.1 78.3L480.1 75.5L474.4 74.7L470.3 77.4Z" fill="#d5f700" stroke="none"/>
<path d="M480.1 75.5L474.4 74.7L470.3 77.4"/>
<path d="M399 104.9L403.4 100.7L398.3 100.1L393.9 104.2Z" fill="#00f883" stroke="none"/>
<path d="M403.4 100.7L398.3 100.1L393.9 104.2"/>
<path d="M486 76.4L490 73.7L484.2 72.9L480.1 75.5Z" fill="#f3f500" stroke="none"/>
<path d="M490 73.7L484.2 72.9L480.1 75.5M486 76.4L490 73.7"/>
<path d="M442.3 88.5L446.5 85.1L441 84.4L436.8 87.8Z" fill="#31f716" stroke="none"/>
<path d="M446.5 85.1L441 84.4L436.8 87.8"/>
<path d="M366 121L370.5 116.2L365.5 115.5L361.1 120.3Z" fill="#02e0f9" stroke="none"/>
<path d="M370.5 116.2L365.5 115.5L361.1 120.3M366 121L361.1 120.3"/>
<path d="M452.1 85.9L456.3 82.7L450.7 81.9L446.5 85.1Z" fill="#60f811" stroke="none"/>
<path d="M456.3 82.7L450.7 81.9L446.5 85.1"/>
<path d="M408.7 101.5L413.1 97.4L407.8 96.8L403.4 100.7Z" fill="#00f762" stroke="none"/>
<path d="M413.1 97.4L407.8 96.8L403.4 100.7"/>
<path d="M418.4 98.2L422.7 94.3L417.4 93.6L413.1 97.4Z" fill="#02f63d" stroke="none"/>
<path d="M422.7 94.3L417.4 93.6L413.1 97.4"/>
<path d="M375.4 116.9L379.9 112.3L374.9 111.6L370.5 116.2Z" fill="#00efe9" stroke="none"/>
<path d="M379.9 112.3L374.9 111.6L370.5 116.2"/>
<path d="M462 83.5L466.2 80.4L460.5 79.6L456.3 82.7Z" fill="#91f809" stroke="none"/>
<path d="M466.2 80.4L460.5 79.6L456.3 82.7"/>
<path d="M428.2 95.1L432.5 91.3L427 90.6L422.7 94.3Z" fill="#0cf62b" stroke="none"/>
<path d="M432.5 91.3L427 90.6L422.7 94.3"/>
<path d="M385 113L389.4 108.5L384.4 107.8L379.9 112.3Z" fill="#00f6c7" stroke="none"/>
<path d="M389.4 108.5L384.4 107.8L379.9 112.3"/>
<path d="M471.9 81.2L476.1 78.3L470.3 77.4L466.2 80.4Z" fill="#c1f800" stroke="none"/>
<path d="M476.1 78.3L470.3 77.4L466.2 80.4"/>
<path d="M394.6 109.3L399 104.9L393.9 104.2L389.4 108.5Z" fill="#00f899" stroke="none"/>
<path d="M399 104.9L393.9 104.2L389.4 108.5"/>
<path d="M481.9 79.2L486 76.4L480.1 75.5L476.1 78.3Z" fill="#e1f600" stroke="none"/>
<path d="M486 76.4L480.1 75.5L476.1 78.3M481.9 79.2L486 76.4"/>
<path d="M438 92.1L442.3 88.5L436.8 87.8L432.5 91.3Z" fill="#15f61a" stroke="none"/>
<path d="M442.3 88.5L436.8 87.8L432.5 91.3"/>
<path d="M404.3 105.7L408.7 101.5L403.4 100.7L399 104.9Z" fill="#00f87a" stroke="none"/>
<path d="M408.7 101.5L403.4 100.7L399 104.9"/>
<path d="M447.9 89.4L452.1 85.9L446.5 85.1L442.3 88.5Z" fill="#41f714" stroke="none"/>
<path d="M452.1 85.9L446.5 85.1L442.3 88.5"/>
<path d="M370.9 121.7L375.4 116.9L370.5 116.2L366 121Z" fill="#00e7f6" stroke="none"/>
<path d="M375.4 116.9L370.5 116.2L366 121M370.9 121.7L366 121"/>
<path d="M414 102.2L418.4 98.2L413.1 97.4L408.7 101.5Z" fill="#00f755" stroke="none"/>
<path d="M418.4 98.2L413.1 97.4L408.7 101.5"/>
<path d="M457.8 86.8L462 83.5L456.3 82.7L452.1 85.9Z" fill="#70f810" stroke="none"/>
<path d="M462 83.5L456.3 82.7L452.1 85.9"/>
<path d="M380.5 117.7L385 113L379.9 112.3L375.4 116.9Z" fill="#00f2e4" stroke="none"/>
<path d="M385 113L379.9 112.3L375.4 116.9"/>
<path d="M423.8 99L428.2 95.1L422.7 94.3L418.4 98.2Z" fill="#05f637" stroke="none"/>
<path d="M428.2 95.1L422.7 94.3L418.4 98.2"/>
<path d="M467.8 84.4L471.9 81.2L466.2 80.4L462 83.5Z" fill="#a2f806" stroke="none"/>
<path d="M471.9 81.2L466.2 80.4L462 83.5"/>
<path d="M390.1 113.8L394.6 109.3L389.4 108.5L385 113Z" fill="#00f7b8" stroke="none"/>
<path d="M394.6 109.3L389.4 108.5L385 113"/>
<path d="M433.7 95.9L438 92.1L432.5 91.3L428.2 95.1Z" fill="#0ff626" stroke="none"/>
<path d="M438 92.1L432.5 91.3L428.2 95.1"/>
<path d="M477.8 82.2L481.9 79.2L476.1 78.3L471.9 81.2Z" fill="#ccf700" stroke="none"/>
<path d="M481.9 79.2L476.1 78.3L471.9 81.2M477.8 82.2L481.9 79.2"/>
<path d="M399.8 110.1L404.3 105.7L399 104.9L394.6 109.3Z" fill="#00f890" stroke="none"/>
<path d="M404.3 105.7L399 104.9L394.6 109.3"/>
<path d="M443.6 93L447.9 89.4L442.3 88.5L438 92.1Z" fill="#20f617" stroke="none"/>
<path d="M447.9 89.4L442.3 88.5L438 92.1"/>
<path d="M409.6 106.5L414 102.2L408.7 101.5L404.3 105.7Z" fill="#00f872" stroke="none"/>
<path d="M414 102.2L408.7 101.5L404.3 105.7"/>
<path d="M453.5 90.3L457.8 86.8L452.1 85.9L447.9 89.4Z" fill="#50f713" stroke="none"/>
<path d="M457.8 86.8L452.1 85.9L447.9 89.4"/>
<path d="M376 122.6L380.5 117.7L375.4 116.9L370.9 121.7Z" fill="#00eaf2" stroke="none"/>
<path d="M380.5 117.7L375.4 116.9L370.9 121.7M376 122.6L370.9 121.7"/>
<path d="M419.4 103.1L423.8 99L418.4 98.2L414 102.2Z" fill="#00f64a" stroke="none"/>
<path d="M423.8 99L418.4 98.2L414 102.2"/>
<path d="M463.5 87.7L467.8 84.4L462 83.5L457.8 86.8Z" fill="#80f80c" stroke="none"/>
<path d="M467.8 84.4L462 83.5L457.8 86.8"/>
<path d="M385.6 118.5L390.1 113.8L385 113L380.5 117.7Z" fill="#00f4df" stroke="none"/>
<path d="M390.1 113.8L385 113L380.5 117.7"/>
<path d="M429.3 99.9L433.7 95.9L428.2 95.1L423.8 99Z" fill="#08f632" stroke="none"/>
<path d="M433.7 95.9L428.2 95.1L423.8 99"/>
<path d="M473.6 85.4L477.8 82.2L471.9 81.2L467.8 84.4Z" fill="#b2f803" stroke="none"/>
<path d="M477.8 82.2L471.9 81.2L467.8 84.4M473.6 85.4L477.8 82.2"/>
<path d="M439.2 96.8L443.6 93L438 92.1L433.7 95.9Z" fill="#11f621" stroke="none"/>
<path d="M443.6 93L438 92.1L433.7 95.9"/>
<path d="M395.3 114.7L399.8 110.1L394.6 109.3L390.1 113.8Z" fill="#00f8a9" stroke="none"/>
<path d="M399.8 110.1L394.6 109.3L390.1 113.8"/>
<path d="M405.1 111L409.6 106.5L404.3 105.7L399.8 110.1Z" fill="#00f887" stroke="none"/>
<path d="M409.6 106.5L404.3 105.7L399.8 110.1"/>
<path d="M449.2 93.9L453.5 90.3L447.9 89.4L443.6 93Z" fill="#2ff716" stroke="none"/>
<path d="M453.5 90.3L447.9 89.4L443.6 93"/>
<path d="M415 107.4L419.4 103.1L414 102.2L409.6 106.5Z" fill="#00f867" stroke="none"/>
<path d="M419.4 103.1L414 102.2L409.6 106.5"/>
<path d="M459.3 91.3L463.5 87.7L457.8 86.8L453.5 90.3Z" fill="#5ef811" stroke="none"/>
<path d="M463.5 87.7L457.8 86.8L453.5 90.3"/>
<path d="M381.1 123.5L385.6 118.5L380.5 117.7L376 122.6Z" fill="#00eded" stroke="none"/>
<path d="M385.6 118.5L380.5 117.7L376 122.6M381.1 123.5L376 122.6"/>
<path d="M469.4 88.8L473.6 85.4L467.8 84.4L463.5 87.7Z" fill="#90f809" stroke="none"/>
<path d="M473.6 85.4L467.8 84.4L463.5 87.7M469.4 88.8L473.6 85.4"/>
<path d="M424.9 104L429.3 99.9L423.8 99L419.4 103.1Z" fill="#00f63f" stroke="none"/>
<path d="M429.3 99.9L423.8 99L419.4 103.1"/>
<path d="M390.8 119.5L395.3 114.7L390.1 113.8L385.6 118.5Z" fill="#00f5d1" stroke="none"/>
<path d="M395.3 114.7L390.1 113.8L385.6 118.5"/>
<path d="M434.9 100.8L439.2 96.8L433.7 95.9L429.3 99.9Z" fill="#0af62d" stroke="none"/>
<path d="M439.2 96.8L433.7 95.9L429.3 99.9"/>
<path d="M400.6 115.6L405.1 111L399.8 110.1L395.3 114.7Z" fill="#00f89e" stroke="none"/>
<path d="M405.1 111L399.8 110.1L395.3 114.7"/>
<path d="M444.9 97.8L449.2 93.9L443.6 93L439.2 96.8Z" fill="#14f61c" stroke="none"/>
<path d="M449.2 93.9L443.6 93L439.2 96.8"/>
<path d="M410.5 111.9L415 107.4L409.6 106.5L405.1 111Z" fill="#00f880" stroke="none"/>
<path d="M415 107.4L409.6 106.5L405.1 111"/>
<path d="M455 95L459.3 91.3L453.5 90.3L449.2 93.9Z" fill="#3cf715" stroke="none"/>
<path d="M459.3 91.3L453.5 90.3L449.2 93.9"/>
<path d="M420.5 108.4L424.9 104L419.4 103.1L415 107.4Z" fill="#00f75c" stroke="none"/>
<path d="M424.9 104L419.4 103.1L415 107.4"/>
<path d="M465.1 92.3L469.4 88.8L463.5 87.7L459.3 91.3Z" fill="#6bf810" stroke="none"/>
<path d="M469.4 88.8L463.5 87.7L459.3 91.3M465.1 92.3L469.4 88.8"/>
<path d="M386.3 124.5L390.8 119.5L385.6 118.5L381.1 123.5Z" fill="#00efe8" stroke="none"/>
<path d="M390.8 119.5L385.6 118.5L381.1 123.5M386.3 124.5L381.1 123.5"/>
<path d="M430.5 105.1L434.9 100.8L429.3 99.9L424.9 104Z" fill="#03f63a" stroke="none"/>
<path d="M434.9 100.8L429.3 99.9L424.9 104"/>
<path d="M396.1 120.5L400.6 115.6L395.3 114.7L390.8 119.5Z" fill="#00f6c3" stroke="none"/>
<path d="M400.6 115.6L395.3 114.7L390.8 119.5"/>
<path d="M440.5 101.9L444.9 97.8L439.2 96.8L434.9 100.8Z" fill="#0df628" stroke="none"/>
<path d="M444.9 97.8L439.2 96.8L434.9 100.8"/>
<path d="M406 116.6L410.5 111.9L405.1 111L400.6 115.6Z" fill="#00f896" stroke="none"/>
<path d="M410.5 111.9L405.1 111L400.6 115.6"/>
<path d="M450.6 98.9L455 95L449.2 93.9L444.9 97.8Z" fill="#18f618" stroke="none"/>
<path d="M455 95L449.2 93.9L444.9 97.8"/>
<path d="M416 113L420.5 108.4L415 107.4L410.5 111.9Z" fill="#00f878" stroke="none"/>
<path d="M420.5 108.4L415 107.4L410.5 111.9"/>
<path d="M460.8 96.1L465.1 92.3L459.3 91.3L455 95Z" fill="#49f713" stroke="none"/>
<path d="M465.1 92.3L459.3 91.3L455 95M460.8 96.1L465.1 92.3"/>
<path d="M426 109.5L430.5 105.1L424.9 104L420.5 108.4Z" fill="#00f752" stroke="none"/>
<path d="M430.5 105.1L424.9 104L420.5 108.4"/>
<path d="M391.6 125.5L396.1 120.5L390.8 119.5L386.3 124.5Z" fill="#00f2e4" stroke="none"/>
<path d="M396.1 120.5L390.8 119.5L386.3 124.5M391.6 125.5L386.3 124.5"/>
<path d="M436.1 106.1L440.5 101.9L434.9 100.8L430.5 105.1Z" fill="#06f636" stroke="none"/>
<path d="M440.5 101.9L434.9 100.8L430.5 105.1"/>
<path d="M401.5 121.5L406 116.6L400.6 115.6L396.1 120.5Z" fill="#00f7b7" stroke="none"/>
<path d="M406 116.6L400.6 115.6L396.1 120.5"/>
<path d="M446.3 103L450.6 98.9L444.9 97.8L440.5 101.9Z" fill="#0ff624" stroke="none"/>
<path d="M450.6 98.9L444.9 97.8L440.5 101.9"/>
<path d="M456.5 100.1L460.8 96.1L455 95L450.6 98.9Z" fill="#24f617" stroke="none"/>
<path d="M460.8 96.1L455 95L450.6 98.9M456.5 100.1L460.8 96.1"/>
<path d="M411.5 117.7L416 113L410.5 111.9L406 116.6Z" fill="#00f88f" stroke="none"/>
<path d="M416 113L410.5 111.9L406 116.6"/>
<path d="M421.5 114.1L426 109.5L420.5 108.4L416 113Z" fill="#00f871" stroke="none"/>
<path d="M426 109.5L420.5 108.4L416 113"/>
<path d="M431.7 110.6L436.1 106.1L430.5 105.1L426 109.5Z" fill="#00f649" stroke="none"/>
<path d="M436.1 106.1L430.5 105.1L426 109.5"/>
<path d="M396.9 126.6L401.5 121.5L396.1 120.5L391.6 125.5Z" fill="#00f4e0" stroke="none"/>
<path d="M401.5 121.5L396.1 120.5L391.6 125.5M396.9 126.6L391.6 125.5"/>
<path d="M441.8 107.3L446.3 103L440.5 101.9L436.1 106.1Z" fill="#08f632" stroke="none"/>
<path d="M446.3 103L440.5 101.9L436.1 106.1"/>
<path d="M452.1 104.2L456.5 100.1L450.6 98.9L446.3 103Z" fill="#12f620" stroke="none"/>
<path d="M456.5 100.1L450.6 98.9L446.3 103M452.1 104.2L456.5 100.1"/>
<path d="M406.9 122.7L411.5 117.7L406 116.6L401.5 121.5Z" fill="#00f7ab" stroke="none"/>
<path d="M411.5 117.7L406 116.6L401.5 121.5"/>
<path d="M417 118.9L421.5 114.1L416 113L411.5 117.7Z" fill="#00f888" stroke="none"/>
<path d="M421.5 114.1L416 113L411.5 117.7"/>
<path d="M427.2 115.3L431.7 110.6L426 109.5L421.5 114.1Z" fill="#00f868" stroke="none"/>
<path d="M431.7 110.6L426 109.5L421.5 114.1"/>
<path d="M437.4 111.8L441.8 107.3L436.1 106.1L431.7 110.6Z" fill="#00f640" stroke="none"/>
<path d="M441.8 107.3L436.1 106.1L431.7 110.6"/>
<path d="M402.3 127.8L406.9 122.7L401.5 121.5L396.9 126.6Z" fill="#00f5d5" stroke="none"/>
<path d="M406.9 122.7L401.5 121.5L396.9 126.6M402.3 127.8L396.9 126.6"/>
<path d="M447.7 108.6L452.1 104.2L446.3 103L441.8 107.3Z" fill="#0af62e" stroke="none"/>
<path d="M452.1 104.2L446.3 103L441.8 107.3M447.7 108.6L452.1 104.2"/>
<path d="M412.4 123.9L417 118.9L411.5 117.7L406.9 122.7Z" fill="#00f8a1" stroke="none"/>
<path d="M417 118.9L411.5 117.7L406.9 122.7"/>
<path d="M422.6 120.1L427.2 115.3L421.5 114.1L417 118.9Z" fill="#00f882" stroke="none"/>
<path d="M427.2 115.3L421.5 114.1L417 118.9"/>
<path d="M432.9 116.5L437.4 111.8L431.7 110.6L427.2 115.3Z" fill="#00f760" stroke="none"/>
<path d="M437.4 111.8L431.7 110.6L427.2 115.3"/>
<path d="M443.2 113.1L447.7 108.6L441.8 107.3L437.4 111.8Z" fill="#02f63c" stroke="none"/>
<path d="M447.7 108.6L441.8 107.3L437.4 111.8M443.2 113.1L447.7 108.6"/>
<path d="M407.9 129.1L412.4 123.9L406.9 122.7L402.3 127.8Z" fill="#00f5ca" stroke="none"/>
<path d="M412.4 123.9L406.9 122.7L402.3 127.8M407.9 129.1L402.3 127.8"/>
<path d="M418.1 125.2L422.6 120.1L417 118.9L412.4 123.9Z" fill="#00f89a" stroke="none"/>
<path d="M422.6 120.1L417 118.9L412.4 123.9"/>
<path d="M428.3 121.5L432.9 116.5L427.2 115.3L422.6 120.1Z" fill="#00f87c" stroke="none"/>
<path d="M432.9 116.5L427.2 115.3L422.6 120.1"/>
<path d="M438.7 117.9L443.2 113.1L437.4 111.8L432.9 116.5Z" fill="#00f758" stroke="none"/>
<path d="M443.2 113.1L437.4 111.8L432.9 116.5M438.7 117.9L443.2 113.1"/>
<path d="M413.4 130.5L418.1 125.2L412.4 123.9L407.9 129.1Z" fill="#00f6bf" stroke="none"/>
<path d="M418.1 125.2L412.4 123.9L407.9 129.1M413.4 130.5L407.9 129.1"/>
<path d="M423.8 126.6L428.3 121.5L422.6 120.1L418.1 125.2Z" fill="#00f894" stroke="none"/>
<path d="M428.3 121.5L422.6 120.1L418.1 125.2"/>
<path d="M434.1 122.9L438.7 117.9L432.9 116.5L428.3 121.5Z" fill="#00f876" stroke="none"/>
<path d="M438.7 117.9L432.9 116.5L428.3 121.5M434.1 122.9L438.7 117.9"/>
<path d="M419.1 131.9L423.8 126.6L418.1 125.2L413.4 130.5Z" fill="#00f7b6" stroke="none"/>
<path d="M423.8 126.6L418.1 125.2L413.4 130.5M419.1 131.9L413.4 130.5"/>
<path d="M429.5 128L434.1 122.9L428.3 121.5L423.8 126.6Z" fill="#00f88f" stroke="none"/>
<path d="M434.1 122.9L428.3 121.5L423.8 126.6M429.5 128L434.1 122.9"/>
<path d="M424.9 133.4L429.5 128L423.8 126.6L419.1 131.9Z" fill="#00f7ad" stroke="none"/>
<path d="M429.5 128L423.8 126.6L419.1 131.9M424.9 133.4L419.1 131.9M424.9 133.4L429.5 128"/>
</g>
<circle cx="324.37" cy="116.97" r="2.1" fill="#e30000" stroke="#8a0000" stroke-width="0.45"/><circle cx="528.04" cy="57.41" r="2.1" fill="#f7baba" stroke="#b87878" stroke-width="0.45"/><circle cx="424.9" cy="71.81" r="2.1" fill="#e30000" stroke="#8a0000" stroke-width="0.45"/>
<circle cx="324.94" cy="129.96" r="1.25" fill="#111"/>
<circle cx="324.07" cy="110.07" r="1.25" fill="#111"/>
<circle cx="323.18" cy="89.82" r="1.25" fill="#111"/>
<circle cx="322.28" cy="69.22" r="1.25" fill="#111"/>
<circle cx="321.35" cy="48.24" r="1.25" fill="#111"/>
<circle cx="320.42" cy="26.89" r="1.25" fill="#111"/>
<circle cx="424.9" cy="210.11" r="1.25" fill="#111"/>
<circle cx="441.32" cy="202.24" r="1.25" fill="#111"/>
<circle cx="457.74" cy="194.37" r="1.25" fill="#111"/>
<circle cx="474.15" cy="186.5" r="1.25" fill="#111"/>
<circle cx="490.57" cy="178.63" r="1.25" fill="#111"/>
<circle cx="506.99" cy="170.76" r="1.25" fill="#111"/>
<circle cx="523.41" cy="162.89" r="1.25" fill="#111"/>
<circle cx="424.9" cy="210.11" r="1.25" fill="#111"/>
<circle cx="408.48" cy="202.24" r="1.25" fill="#111"/>
<circle cx="392.06" cy="194.37" r="1.25" fill="#111"/>
<circle cx="375.65" cy="186.5" r="1.25" fill="#111"/>
<circle cx="359.23" cy="178.63" r="1.25" fill="#111"/>
<circle cx="342.81" cy="170.76" r="1.25" fill="#111"/>
<circle cx="326.39" cy="162.89" r="1.25" fill="#111"/>
<circle cx="523.41" cy="162.89" r="1.25" fill="#111"/>
<g font-family="'Liberation Serif', serif" font-size="14.91" fill="#000" stroke="#000" stroke-width="0.35" text-anchor="middle">
<text x="316.91" y="126.93" text-anchor="end">0</text>
<text x="316.04" y="107.04" text-anchor="end">20</text>
<text x="315.15" y="86.8" text-anchor="end">40</text>
<text x="314.24" y="66.19" text-anchor="end">60</text>
<text x="313.32" y="45.22" text-anchor="end">80</text>
<text x="312.38" y="23.86" text-anchor="end">100</text>
<text x="432.51" y="224.19" text-anchor="start">20</text>
<text x="448.93" y="216.32" text-anchor="start">30</text>
<text x="465.35" y="208.45" text-anchor="start">40</text>
<text x="481.77" y="200.58" text-anchor="start">50</text>
<text x="498.19" y="192.71" text-anchor="start">60</text>
<text x="514.61" y="184.84" text-anchor="start">70</text>
<text x="531.02" y="176.97" text-anchor="start">80</text>
<text x="416.97" y="223.87" text-anchor="end">30</text>
<text x="400.56" y="216" text-anchor="end">40</text>
<text x="384.14" y="208.13" text-anchor="end">50</text>
<text x="367.72" y="200.26" text-anchor="end">60</text>
<text x="351.3" y="192.39" text-anchor="end">70</text>
<text x="334.88" y="184.52" text-anchor="end">80</text>
<text x="318.46" y="176.65" text-anchor="end">90</text>
</g>
<g font-family="'Liberation Serif', serif" font-size="12.62" fill="#000" stroke="#000" stroke-width="0.25" text-anchor="middle">
<text x="511.5" y="212.3">x1</text>
<text x="337.4" y="212.3">x4</text>
<text transform="translate(295.5 95.4) rotate(-90)" font-size="13.4">Remove all rate (%)</text>
</g>
<text x="415.6" y="248.4" font-family="'Liberation Serif', serif" font-size="14" fill="#111" text-anchor="middle">(<tspan font-weight="bold">b</tspan>)</text>
<rect x="25.5" y="461" width="57.2" height="16.3" fill="#f1f4fc"/>
<path d="M67.73 381.64L64.27 279.52M93.13 373.07L90.83 273.63M118.54 364.5L117.39 267.75M143.95 355.94L143.95 261.86M164.28 362.79L165.2 266.57M184.6 369.64L186.44 271.28M204.93 376.5L207.69 275.99M225.26 383.35L228.94 280.7M42.32 390.21L143.95 355.94L245.58 390.21M41.43 369.98L143.95 337.71L246.47 369.98M40.52 349.4L143.95 319.19L247.38 349.4M39.6 328.45L143.95 300.38L248.3 328.45M38.67 307.12L143.95 281.27L249.23 307.12M37.71 285.41L143.95 261.86L250.19 285.41M244.11 423.69L250.19 285.41" fill="none" stroke="#444" stroke-width="0.8"/>
<polygon points="43.79,423.69 143.95,471.7 244.11,423.69 143.95,386.19" fill="#616161"/>
<polyline points="72.61,412.9 72.77,413.15 73.11,413.62 73.61,414.35 73.88,414.73 74.13,415.07 74.65,415.8 75.05,416.36 75.18,416.53 75.72,417.25 76.26,417.98 76.28,418.02 76.81,418.72 77.37,419.45 77.57,419.71 77.93,420.18 78.5,420.92 78.91,421.44 79.08,421.66 79.66,422.4 80.25,423.14 80.31,423.21 80.85,423.88 81.45,424.63 81.76,425.02 82.05,425.38 82.66,426.13 83.26,426.86 83.28,426.88 83.9,427.63 84.53,428.39 84.81,428.74 85.16,429.15 85.8,429.91 86.42,430.65 86.44,430.68 87.09,431.44 87.75,432.21 88.07,432.6 88.4,432.98 89.07,433.76 89.73,434.53 89.78,434.58 90.41,435.31 91.09,436.09 91.53,436.61 91.77,436.88 92.46,437.66 93.15,438.46 93.33,438.66 93.84,439.25 94.55,440.04 95.17,440.76 95.25,440.84 95.96,441.64 96.68,442.45 97.06,442.89 97.4,443.26 98.12,444.07 98.85,444.88 99,445.05 99.59,445.7 100.32,446.52 100.99,447.26 101.07,447.34 101.81,448.17 102.57,449 103.01,449.49 103.32,449.83 104.08,450.67 104.85,451.51 105.09,451.77 105.62,452.35 106.39,453.19 107.17,454.05 107.21,454.09" fill="none" stroke="#00eb8f" stroke-width="1.25" stroke-linecap="round"/>
<polyline points="146.63,470.41 146.42,470.15 145.83,469.44 145.04,468.46 144.62,467.95 144.25,467.49 143.47,466.53 142.87,465.79 142.69,465.56 141.93,464.6 141.18,463.67 141.17,463.65 140.42,462.7 139.67,461.75 139.54,461.58 138.93,460.8 138.2,459.86 137.95,459.54 137.47,458.92 136.75,457.98 136.41,457.53 136.04,457.05 135.34,456.12 134.92,455.56 134.64,455.19 133.95,454.26 133.48,453.63 133.27,453.34 132.6,452.42 132.09,451.73 131.93,451.5 131.27,450.59 130.76,449.87 130.62,449.68 129.98,448.77 129.47,448.04 129.34,447.86 128.72,446.95 128.24,446.26 128.1,446.05 127.49,445.15 127.06,444.5 126.89,444.25 126.3,443.35 125.92,442.78 125.72,442.46 125.14,441.56 124.84,441.1 124.58,440.67 124.02,439.78 123.81,439.45 123.48,438.89 122.94,438 122.84,437.83 122.42,437.11 121.91,436.25 121.9,436.23 121.4,435.34 121.03,434.7 120.9,434.46 120.42,433.58 120.21,433.18 119.95,432.69 119.5,431.81 119.43,431.69 119.05,430.93 118.71,430.24 118.62,430.05 118.2,429.16 118.04,428.82 117.8,428.28 117.42,427.43 117.41,427.4 117.03,426.51 116.85,426.07 116.67,425.63 116.33,424.75 116.33,424.74 116.01,423.85 115.86,423.45 115.7,422.96 115.45,422.18 115.41,422.06 115.14,421.17 115.08,420.95 114.9,420.27 114.76,419.74 114.68,419.36 114.5,418.56 114.48,418.46 114.3,417.54 114.28,417.41 114.16,416.62 114.11,416.29 114.04,415.7 113.99,415.2 113.96,414.76 113.92,414.13 113.91,413.82 113.9,413.09 113.9,412.87 113.92,412.08 113.93,411.91 113.99,411.09 114.01,410.94 114.11,410.13 114.14,409.95 114.27,409.19 114.33,408.94 114.48,408.28 114.58,407.92 114.73,407.39 114.91,406.87 115.03,406.53 115.33,405.79 115.37,405.69 115.75,404.87 115.85,404.68 116.17,404.07 116.5,403.53 116.64,403.3 117.14,402.54 117.3,402.32 117.68,401.81 118.26,401.09 118.3,401.05 118.88,400.39 119.53,399.72 119.58,399.67 120.22,399.06 120.95,398.42 121.27,398.15 121.7,397.79 122.49,397.19 123.32,396.6 123.62,396.39 124.17,396.02 125.05,395.46 125.97,394.92 126.91,394.39 127.54,394.05 127.88,393.87 128.87,393.36 129.89,392.87 130.94,392.4 132.01,391.93 133.11,391.48 134.23,391.03 135.37,390.6 136.53,390.18 137.71,389.77 138.91,389.37 140.13,388.98 141.37,388.59 142.63,388.22 143.91,387.86 144.23,387.77 145.2,387.5 146.51,387.15" fill="none" stroke="#00eb13" stroke-width="1.25" stroke-linecap="round"/>
<polyline points="164.62,461.79 164.45,461.53 163.97,460.77 163.32,459.76 163.32,459.76 162.69,458.74 162.23,458.01 162.07,457.73 161.45,456.73 161.2,456.3 160.85,455.72 160.26,454.72 160.21,454.62 159.68,453.71 159.26,452.98 159.11,452.71 158.56,451.71 158.37,451.36 158.01,450.71 157.52,449.78 157.48,449.71 156.96,448.72 156.71,448.23 156.46,447.72 155.96,446.72 155.95,446.71 155.48,445.73 155.24,445.22 155.02,444.73 154.57,443.75 154.57,443.74 154.13,442.74 153.95,442.32 153.71,441.75 153.37,440.91 153.31,440.75 152.92,439.75 152.84,439.54 152.55,438.75 152.35,438.19 152.2,437.75 151.9,436.87 151.87,436.75 151.55,435.75 151.5,435.57 151.26,434.74 151.14,434.31 150.99,433.73 150.82,433.06 150.74,432.72 150.55,431.85 150.52,431.7 150.32,430.68 150.31,430.66 150.15,429.65 150.12,429.49 150,428.62 149.97,428.35 149.89,427.58 149.86,427.23 149.81,426.53 149.78,426.14 149.76,425.48 149.75,425.07 149.76,424.41 149.76,424.02 149.79,423.34 149.8,423 149.87,422.25 149.89,421.99 149.99,421.15 150.01,421.01 150.17,420.05 150.17,420.03 150.36,419.11 150.41,418.89 150.59,418.19 150.72,417.74 150.86,417.29 151.11,416.56 151.16,416.41 151.49,415.55 151.58,415.34 151.86,414.71 152.16,414.1 152.26,413.89 152.69,413.08 152.85,412.81 153.16,412.29 153.65,411.52 153.69,411.47 154.18,410.77 154.71,410.07 154.74,410.03 155.33,409.31 155.94,408.6 155.97,408.57 156.59,407.91 157.26,407.24 157.56,406.95 157.96,406.58 158.68,405.93 159.44,405.3 159.61,405.16 160.21,404.68 161.02,404.07 161.84,403.48 162.48,403.04 162.69,402.89 163.57,402.32 164.46,401.77 165.38,401.22 166.32,400.69 167.28,400.17 167.37,400.12 168.26,399.65 169.27,399.15 170.29,398.66 171.33,398.18 172.39,397.7 173.46,397.24" fill="none" stroke="#68eb00" stroke-width="1.25" stroke-linecap="round"/>
<polyline points="184.68,452.17 184.26,451.08 184.15,450.81 183.85,449.99 183.65,449.43 183.46,448.89 183.18,448.07 183.09,447.8 182.76,446.74 182.75,446.7 182.42,445.6 182.37,445.44 182.12,444.49 182.03,444.16 181.84,443.38 181.72,442.9 181.58,442.27 181.45,441.67 181.35,441.16 181.21,440.46 181.14,440.04 181.02,439.27 180.97,438.91 180.86,438.11 180.82,437.78 180.74,436.96 180.71,436.64 180.65,435.84 180.63,435.49 180.6,434.75 180.59,434.33 180.58,433.67 180.59,433.17 180.6,432.61 180.63,431.99 180.65,431.57 180.71,430.8 180.73,430.56 180.84,429.59 180.85,429.56 181,428.58 181.04,428.37 181.18,427.62 181.29,427.13 181.39,426.68 181.61,425.87 181.64,425.76 181.91,424.86 182.01,424.57 182.21,423.97 182.49,423.26 182.55,423.1 182.91,422.25 183.07,421.9 183.3,421.41 183.72,420.59 183.77,420.5 184.17,419.78 184.61,419.05 184.65,418.99 185.15,418.22 185.62,417.54 185.68,417.46 186.23,416.71 186.81,415.98 186.84,415.94 187.42,415.26 188.04,414.56 188.35,414.23 188.7,413.87 189.37,413.19 190.07,412.53 190.25,412.37 190.79,411.87 191.54,411.23 192.3,410.6 192.76,410.25 193.09,409.99 193.9,409.38 194.73,408.79 195.57,408.2 196.4,407.66 196.44,407.63 197.33,407.07 198.24,406.51" fill="none" stroke="#e4eb00" stroke-width="1.25" stroke-linecap="round"/>
<polyline points="208.57,440.73 208.58,439.83 208.6,439.45 208.63,438.79 208.68,438.17 208.71,437.76 208.81,436.87 208.82,436.75 208.96,435.76 209,435.55 209.13,434.79 209.25,434.21 209.33,433.83 209.56,432.89 209.57,432.85 209.81,431.97 209.97,431.46 210.09,431.06 210.4,430.17 210.45,430.04 210.74,429.3 211.04,428.58 211.1,428.44 211.49,427.59 211.74,427.08 211.9,426.76 212.34,425.95 212.58,425.53 212.8,425.15 213.29,424.36 213.59,423.91 213.8,423.58 214.33,422.82 214.8,422.2 214.89,422.08 215.47,421.34 216.07,420.62 216.28,420.39 216.69,419.91 217.34,419.22 218,418.53 218.12,418.42 218.69,417.86 219.4,417.19 220.12,416.54 220.5,416.22 220.87,415.9 221.63,415.27" fill="none" stroke="#eb7600" stroke-width="1.25" stroke-linecap="round"/>
<polyline points="43.79,423.69 143.95,471.7 244.11,423.69" fill="none" stroke="#222" stroke-width="0.8"/>
<path d="M43.79 423.69L37.71 285.41" stroke="#222" stroke-width="0.9"/>
<circle cx="41.16" cy="363.84" r="2.1" fill="#f7baba" stroke="#b87878" stroke-width="0.45"/><circle cx="143.95" cy="384.05" r="2.1" fill="#f7baba" stroke="#b87878" stroke-width="0.45"/><circle cx="143.95" cy="313.02" r="2.1" fill="#f7baba" stroke="#b87878" stroke-width="0.45"/>
<g stroke="#000a14" stroke-opacity="0.7" stroke-width="0.55" stroke-linejoin="round" fill="none">
<path d="M144.9 314.6L148.6 313.8L143.9 314.1L140.3 314.9Z" fill="#00f74d" stroke="none"/>
<path d="M148.6 313.8L143.9 314.1L140.3 314.9"/>
<path d="M141.1 315.6L144.9 314.6L140.3 314.9L136.5 315.8Z" fill="#00f64b" stroke="none"/>
<path d="M144.9 314.6L140.3 314.9L136.5 315.8"/>
<path d="M149.6 314.3L153.3 313.4L148.6 313.8L144.9 314.6Z" fill="#02f63c" stroke="none"/>
<path d="M153.3 313.4L148.6 313.8L144.9 314.6"/>
<path d="M137.4 316.6L141.1 315.6L136.5 315.8L132.8 316.8Z" fill="#00f649" stroke="none"/>
<path d="M141.1 315.6L136.5 315.8L132.8 316.8"/>
<path d="M145.8 315.3L149.6 314.3L144.9 314.6L141.1 315.6Z" fill="#03f63b" stroke="none"/>
<path d="M149.6 314.3L144.9 314.6L141.1 315.6"/>
<path d="M154.3 313.9L158 312.9L153.3 313.4L149.6 314.3Z" fill="#08f632" stroke="none"/>
<path d="M158 312.9L153.3 313.4L149.6 314.3"/>
<path d="M133.6 317.8L137.4 316.6L132.8 316.8L129 317.9Z" fill="#00f649" stroke="none"/>
<path d="M137.4 316.6L132.8 316.8L129 317.9"/>
<path d="M142.1 316.5L145.8 315.3L141.1 315.6L137.4 316.6Z" fill="#03f63b" stroke="none"/>
<path d="M145.8 315.3L141.1 315.6L137.4 316.6"/>
<path d="M150.6 315L154.3 313.9L149.6 314.3L145.8 315.3Z" fill="#08f631" stroke="none"/>
<path d="M154.3 313.9L149.6 314.3L145.8 315.3"/>
<path d="M159.1 313.5L162.8 312.5L158 312.9L154.3 313.9Z" fill="#0ef627" stroke="none"/>
<path d="M162.8 312.5L158 312.9L154.3 313.9"/>
<path d="M129.7 319L133.6 317.8L129 317.9L125.1 319Z" fill="#00f64a" stroke="none"/>
<path d="M133.6 317.8L129 317.9L125.1 319"/>
<path d="M138.3 317.7L142.1 316.5L137.4 316.6L133.6 317.8Z" fill="#03f63b" stroke="none"/>
<path d="M142.1 316.5L137.4 316.6L133.6 317.8"/>
<path d="M146.8 316.2L150.6 315L145.8 315.3L142.1 316.5Z" fill="#08f632" stroke="none"/>
<path d="M150.6 315L145.8 315.3L142.1 316.5"/>
<path d="M155.4 314.7L159.1 313.5L154.3 313.9L150.6 315Z" fill="#0ef627" stroke="none"/>
<path d="M159.1 313.5L154.3 313.9L150.6 315"/>
<path d="M125.9 320.3L129.7 319L125.1 319L121.3 320.3Z" fill="#00f64b" stroke="none"/>
<path d="M129.7 319L125.1 319L121.3 320.3"/>
<path d="M164 313L167.7 311.9L162.8 312.5L159.1 313.5Z" fill="#14f61c" stroke="none"/>
<path d="M167.7 311.9L162.8 312.5L159.1 313.5"/>
<path d="M134.4 318.9L138.3 317.7L133.6 317.8L129.7 319Z" fill="#02f63c" stroke="none"/>
<path d="M138.3 317.7L133.6 317.8L129.7 319"/>
<path d="M143 317.5L146.8 316.2L142.1 316.5L138.3 317.7Z" fill="#08f632" stroke="none"/>
<path d="M146.8 316.2L142.1 316.5L138.3 317.7"/>
<path d="M151.6 315.9L155.4 314.7L150.6 315L146.8 316.2Z" fill="#0df628" stroke="none"/>
<path d="M155.4 314.7L150.6 315L146.8 316.2"/>
<path d="M122 321.7L125.9 320.3L121.3 320.3L117.4 321.6Z" fill="#00f74e" stroke="none"/>
<path d="M125.9 320.3L121.3 320.3L117.4 321.6"/>
<path d="M160.2 314.2L164 313L159.1 313.5L155.4 314.7Z" fill="#13f61d" stroke="none"/>
<path d="M164 313L159.1 313.5L155.4 314.7"/>
<path d="M130.5 320.3L134.4 318.9L129.7 319L125.9 320.3Z" fill="#02f63d" stroke="none"/>
<path d="M134.4 318.9L129.7 319L125.9 320.3"/>
<path d="M168.9 312.5L172.6 311.3L167.7 311.9L164 313Z" fill="#2bf616" stroke="none"/>
<path d="M172.6 311.3L167.7 311.9L164 313"/>
<path d="M139.2 318.8L143 317.5L138.3 317.7L134.4 318.9Z" fill="#07f633" stroke="none"/>
<path d="M143 317.5L138.3 317.7L134.4 318.9"/>
<path d="M147.8 317.2L151.6 315.9L146.8 316.2L143 317.5Z" fill="#0df629" stroke="none"/>
<path d="M151.6 315.9L146.8 316.2L143 317.5"/>
<path d="M118 323.2L122 321.7L117.4 321.6L113.4 323Z" fill="#00f752" stroke="none"/>
<path d="M122 321.7L117.4 321.6L113.4 323"/>
<path d="M156.5 315.5L160.2 314.2L155.4 314.7L151.6 315.9Z" fill="#13f61d" stroke="none"/>
<path d="M160.2 314.2L155.4 314.7L151.6 315.9"/>
<path d="M126.6 321.8L130.5 320.3L125.9 320.3L122 321.7Z" fill="#01f63f" stroke="none"/>
<path d="M130.5 320.3L125.9 320.3L122 321.7"/>
<path d="M165.2 313.8L168.9 312.5L164 313L160.2 314.2Z" fill="#29f616" stroke="none"/>
<path d="M168.9 312.5L164 313L160.2 314.2"/>
<path d="M135.3 320.3L139.2 318.8L134.4 318.9L130.5 320.3Z" fill="#06f635" stroke="none"/>
<path d="M139.2 318.8L134.4 318.9L130.5 320.3"/>
<path d="M173.9 311.9L177.6 310.6L172.6 311.3L168.9 312.5Z" fill="#4ff713" stroke="none"/>
<path d="M177.6 310.6L172.6 311.3L168.9 312.5"/>
<path d="M143.9 318.7L147.8 317.2L143 317.5L139.2 318.8Z" fill="#0cf62a" stroke="none"/>
<path d="M147.8 317.2L143 317.5L139.2 318.8"/>
<path d="M114 324.8L118 323.2L113.4 323L109.4 324.5Z" fill="#00f756" stroke="none"/>
<path d="M118 323.2L113.4 323L109.4 324.5"/>
<path d="M152.7 316.9L156.5 315.5L151.6 315.9L147.8 317.2Z" fill="#12f61f" stroke="none"/>
<path d="M156.5 315.5L151.6 315.9L147.8 317.2"/>
<path d="M122.7 323.4L126.6 321.8L122 321.7L118 323.2Z" fill="#00f642" stroke="none"/>
<path d="M126.6 321.8L122 321.7L118 323.2"/>
<path d="M161.4 315.1L165.2 313.8L160.2 314.2L156.5 315.5Z" fill="#26f617" stroke="none"/>
<path d="M165.2 313.8L160.2 314.2L156.5 315.5"/>
<path d="M131.4 321.8L135.3 320.3L130.5 320.3L126.6 321.8Z" fill="#05f637" stroke="none"/>
<path d="M135.3 320.3L130.5 320.3L126.6 321.8"/>
<path d="M170.2 313.2L173.9 311.9L168.9 312.5L165.2 313.8Z" fill="#4cf713" stroke="none"/>
<path d="M173.9 311.9L168.9 312.5L165.2 313.8"/>
<path d="M140.1 320.2L143.9 318.7L139.2 318.8L135.3 320.3Z" fill="#0bf62c" stroke="none"/>
<path d="M143.9 318.7L139.2 318.8L135.3 320.3"/>
<path d="M179 311.2L182.7 309.9L177.6 310.6L173.9 311.9Z" fill="#74f80f" stroke="none"/>
<path d="M182.7 309.9L177.6 310.6L173.9 311.9"/>
<path d="M110 326.5L114 324.8L109.4 324.5L105.4 326.2Z" fill="#00f75c" stroke="none"/>
<path d="M114 324.8L109.4 324.5L105.4 326.2"/>
<path d="M148.8 318.4L152.7 316.9L147.8 317.2L143.9 318.7Z" fill="#11f620" stroke="none"/>
<path d="M152.7 316.9L147.8 317.2L143.9 318.7"/>
<path d="M118.7 325L122.7 323.4L118 323.2L114 324.8Z" fill="#00f647" stroke="none"/>
<path d="M122.7 323.4L118 323.2L114 324.8"/>
<path d="M157.6 316.6L161.4 315.1L156.5 315.5L152.7 316.9Z" fill="#21f617" stroke="none"/>
<path d="M161.4 315.1L156.5 315.5L152.7 316.9"/>
<path d="M127.4 323.5L131.4 321.8L126.6 321.8L122.7 323.4Z" fill="#04f639" stroke="none"/>
<path d="M131.4 321.8L126.6 321.8L122.7 323.4"/>
<path d="M166.4 314.6L170.2 313.2L165.2 313.8L161.4 315.1Z" fill="#47f714" stroke="none"/>
<path d="M170.2 313.2L165.2 313.8L161.4 315.1"/>
<path d="M136.2 321.8L140.1 320.2L135.3 320.3L131.4 321.8Z" fill="#0af62e" stroke="none"/>
<path d="M140.1 320.2L135.3 320.3L131.4 321.8"/>
<path d="M175.3 312.6L179 311.2L173.9 311.9L170.2 313.2Z" fill="#6ff810" stroke="none"/>
<path d="M179 311.2L173.9 311.9L170.2 313.2"/>
<path d="M106 328.3L110 326.5L105.4 326.2L101.4 327.9Z" fill="#00f762" stroke="none"/>
<path d="M110 326.5L105.4 326.2L101.4 327.9"/>
<path d="M144.9 320L148.8 318.4L143.9 318.7L140.1 320.2Z" fill="#10f623" stroke="none"/>
<path d="M148.8 318.4L143.9 318.7L140.1 320.2"/>
<path d="M184.2 310.5L187.9 309.1L182.7 309.9L179 311.2Z" fill="#9ff806" stroke="none"/>
<path d="M187.9 309.1L182.7 309.9L179 311.2"/>
<path d="M114.7 326.8L118.7 325L114 324.8L110 326.5Z" fill="#00f74e" stroke="none"/>
<path d="M118.7 325L114 324.8L110 326.5"/>
<path d="M153.7 318.2L157.6 316.6L152.7 316.9L148.8 318.4Z" fill="#1af618" stroke="none"/>
<path d="M157.6 316.6L152.7 316.9L148.8 318.4"/>
<path d="M123.4 325.2L127.4 323.5L122.7 323.4L118.7 325Z" fill="#02f63c" stroke="none"/>
<path d="M127.4 323.5L122.7 323.4L118.7 325"/>
<path d="M162.6 316.2L166.4 314.6L161.4 315.1L157.6 316.6Z" fill="#41f714" stroke="none"/>
<path d="M166.4 314.6L161.4 315.1L157.6 316.6"/>
<path d="M132.2 323.5L136.2 321.8L131.4 321.8L127.4 323.5Z" fill="#08f631" stroke="none"/>
<path d="M136.2 321.8L131.4 321.8L127.4 323.5"/>
<path d="M171.5 314.1L175.3 312.6L170.2 313.2L166.4 314.6Z" fill="#69f810" stroke="none"/>
<path d="M175.3 312.6L170.2 313.2L166.4 314.6"/>
<path d="M101.9 330.2L106 328.3L101.4 327.9L97.3 329.7Z" fill="#00f86a" stroke="none"/>
<path d="M106 328.3L101.4 327.9L97.3 329.7"/>
<path d="M180.4 311.9L184.2 310.5L179 311.2L175.3 312.6Z" fill="#99f808" stroke="none"/>
<path d="M184.2 310.5L179 311.2L175.3 312.6"/>
<path d="M141 321.7L144.9 320L140.1 320.2L136.2 321.8Z" fill="#0ff625" stroke="none"/>
<path d="M144.9 320L140.1 320.2L136.2 321.8"/>
<path d="M110.6 328.7L114.7 326.8L110 326.5L106 328.3Z" fill="#00f755" stroke="none"/>
<path d="M114.7 326.8L110 326.5L106 328.3"/>
<path d="M149.8 319.8L153.7 318.2L148.8 318.4L144.9 320Z" fill="#15f619" stroke="none"/>
<path d="M153.7 318.2L148.8 318.4L144.9 320"/>
<path d="M189.4 309.7L193.1 308.2L187.9 309.1L184.2 310.5Z" fill="#c9f700" stroke="none"/>
<path d="M193.1 308.2L187.9 309.1L184.2 310.5"/>
<path d="M119.4 327L123.4 325.2L118.7 325L114.7 326.8Z" fill="#00f63f" stroke="none"/>
<path d="M123.4 325.2L118.7 325L114.7 326.8"/>
<path d="M158.7 317.8L162.6 316.2L157.6 316.6L153.7 318.2Z" fill="#3af715" stroke="none"/>
<path d="M162.6 316.2L157.6 316.6L153.7 318.2"/>
<path d="M128.2 325.3L132.2 323.5L127.4 323.5L123.4 325.2Z" fill="#07f634" stroke="none"/>
<path d="M132.2 323.5L127.4 323.5L123.4 325.2"/>
<path d="M167.7 315.7L171.5 314.1L166.4 314.6L162.6 316.2Z" fill="#62f811" stroke="none"/>
<path d="M171.5 314.1L166.4 314.6L162.6 316.2"/>
<path d="M176.6 313.5L180.4 311.9L175.3 312.6L171.5 314.1Z" fill="#92f809" stroke="none"/>
<path d="M180.4 311.9L175.3 312.6L171.5 314.1"/>
<path d="M97.8 332.2L101.9 330.2L97.3 329.7L93.2 331.6Z" fill="#00f872" stroke="none"/>
<path d="M101.9 330.2L97.3 329.7L93.2 331.6"/>
<path d="M137.1 323.5L141 321.7L136.2 321.8L132.2 323.5Z" fill="#0df628" stroke="none"/>
<path d="M141 321.7L136.2 321.8L132.2 323.5"/>
<path d="M106.6 330.6L110.6 328.7L106 328.3L101.9 330.2Z" fill="#00f75d" stroke="none"/>
<path d="M110.6 328.7L106 328.3L101.9 330.2"/>
<path d="M145.9 321.6L149.8 319.8L144.9 320L141 321.7Z" fill="#14f61c" stroke="none"/>
<path d="M149.8 319.8L144.9 320L141 321.7"/>
<path d="M185.6 311.2L189.4 309.7L184.2 310.5L180.4 311.9Z" fill="#c3f800" stroke="none"/>
<path d="M189.4 309.7L184.2 310.5L180.4 311.9"/>
<path d="M115.4 329L119.4 327L114.7 326.8L110.6 328.7Z" fill="#00f647" stroke="none"/>
<path d="M119.4 327L114.7 326.8L110.6 328.7"/>
<path d="M154.8 319.5L158.7 317.8L153.7 318.2L149.8 319.8Z" fill="#31f716" stroke="none"/>
<path d="M158.7 317.8L153.7 318.2L149.8 319.8"/>
<path d="M194.7 308.8L198.4 307.3L193.1 308.2L189.4 309.7Z" fill="#eaf500" stroke="none"/>
<path d="M198.4 307.3L193.1 308.2L189.4 309.7"/>
<path d="M124.2 327.2L128.2 325.3L123.4 325.2L119.4 327Z" fill="#04f638" stroke="none"/>
<path d="M128.2 325.3L123.4 325.2L119.4 327"/>
<path d="M163.8 317.4L167.7 315.7L162.6 316.2L158.7 317.8Z" fill="#5af812" stroke="none"/>
<path d="M167.7 315.7L162.6 316.2L158.7 317.8"/>
<path d="M93.6 334.2L97.8 332.2L93.2 331.6L89.1 333.6Z" fill="#00f878" stroke="none"/>
<path d="M97.8 332.2L93.2 331.6L89.1 333.6"/>
<path d="M133.1 325.4L137.1 323.5L132.2 323.5L128.2 325.3Z" fill="#0bf62c" stroke="none"/>
<path d="M137.1 323.5L132.2 323.5L128.2 325.3"/>
<path d="M172.8 315.2L176.6 313.5L171.5 314.1L167.7 315.7Z" fill="#88f80b" stroke="none"/>
<path d="M176.6 313.5L171.5 314.1L167.7 315.7"/>
<path d="M102.4 332.7L106.6 330.6L101.9 330.2L97.8 332.2Z" fill="#00f866" stroke="none"/>
<path d="M106.6 330.6L101.9 330.2L97.8 332.2"/>
<path d="M142 323.4L145.9 321.6L141 321.7L137.1 323.5Z" fill="#12f620" stroke="none"/>
<path d="M145.9 321.6L141 321.7L137.1 323.5"/>
<path d="M181.8 312.8L185.6 311.2L180.4 311.9L176.6 313.5Z" fill="#bcf801" stroke="none"/>
<path d="M185.6 311.2L180.4 311.9L176.6 313.5"/>
<path d="M111.3 331L115.4 329L110.6 328.7L106.6 330.6Z" fill="#00f750" stroke="none"/>
<path d="M115.4 329L110.6 328.7L106.6 330.6"/>
<path d="M150.9 321.4L154.8 319.5L149.8 319.8L145.9 321.6Z" fill="#26f617" stroke="none"/>
<path d="M154.8 319.5L149.8 319.8L145.9 321.6"/>
<path d="M190.9 310.4L194.7 308.8L189.4 309.7L185.6 311.2Z" fill="#e4f600" stroke="none"/>
<path d="M194.7 308.8L189.4 309.7L185.6 311.2"/>
<path d="M120.1 329.2L124.2 327.2L119.4 327L115.4 329Z" fill="#02f63c" stroke="none"/>
<path d="M124.2 327.2L119.4 327L115.4 329"/>
<path d="M159.9 319.2L163.8 317.4L158.7 317.8L154.8 319.5Z" fill="#50f713" stroke="none"/>
<path d="M163.8 317.4L158.7 317.8L154.8 319.5"/>
<path d="M200 307.9L203.8 306.3L198.4 307.3L194.7 308.8Z" fill="#fdec00" stroke="none"/>
<path d="M203.8 306.3L198.4 307.3L194.7 308.8"/>
<path d="M168.9 316.9L172.8 315.2L167.7 315.7L163.8 317.4Z" fill="#7df80d" stroke="none"/>
<path d="M172.8 315.2L167.7 315.7L163.8 317.4"/>
<path d="M89.5 336.4L93.6 334.2L89.1 333.6L84.9 335.7Z" fill="#00f880" stroke="none"/>
<path d="M93.6 334.2L89.1 333.6L84.9 335.7"/>
<path d="M129 327.4L133.1 325.4L128.2 325.3L124.2 327.2Z" fill="#09f630" stroke="none"/>
<path d="M133.1 325.4L128.2 325.3L124.2 327.2"/>
<path d="M138 325.4L142 323.4L137.1 323.5L133.1 325.4Z" fill="#10f624" stroke="none"/>
<path d="M142 323.4L137.1 323.5L133.1 325.4"/>
<path d="M98.3 334.8L102.4 332.7L97.8 332.2L93.6 334.2Z" fill="#00f871" stroke="none"/>
<path d="M102.4 332.7L97.8 332.2L93.6 334.2"/>
<path d="M178 314.6L181.8 312.8L176.6 313.5L172.8 315.2Z" fill="#b1f803" stroke="none"/>
<path d="M181.8 312.8L176.6 313.5L172.8 315.2"/>
<path d="M107.1 333.1L111.3 331L106.6 330.6L102.4 332.7Z" fill="#00f75a" stroke="none"/>
<path d="M111.3 331L106.6 330.6L102.4 332.7"/>
<path d="M146.9 323.3L150.9 321.4L145.9 321.6L142 323.4Z" fill="#1bf618" stroke="none"/>
<path d="M150.9 321.4L145.9 321.6L142 323.4"/>
<path d="M187.1 312.1L190.9 310.4L185.6 311.2L181.8 312.8Z" fill="#ddf600" stroke="none"/>
<path d="M190.9 310.4L185.6 311.2L181.8 312.8"/>
<path d="M116 331.3L120.1 329.2L115.4 329L111.3 331Z" fill="#00f641" stroke="none"/>
<path d="M120.1 329.2L115.4 329L111.3 331"/>
<path d="M156 321.1L159.9 319.2L154.8 319.5L150.9 321.4Z" fill="#45f714" stroke="none"/>
<path d="M159.9 319.2L154.8 319.5L150.9 321.4"/>
<path d="M196.3 309.5L200 307.9L194.7 308.8L190.9 310.4Z" fill="#fdf000" stroke="none"/>
<path d="M200 307.9L194.7 308.8L190.9 310.4"/>
<path d="M165 318.8L168.9 316.9L163.8 317.4L159.9 319.2Z" fill="#71f810" stroke="none"/>
<path d="M168.9 316.9L163.8 317.4L159.9 319.2"/>
<path d="M85.2 338.7L89.5 336.4L84.9 335.7L80.7 337.9Z" fill="#00f888" stroke="none"/>
<path d="M89.5 336.4L84.9 335.7L80.7 337.9"/>
<path d="M125 329.4L129 327.4L124.2 327.2L120.1 329.2Z" fill="#06f635" stroke="none"/>
<path d="M129 327.4L124.2 327.2L120.1 329.2"/>
<path d="M205.5 306.9L209.2 305.2L203.8 306.3L200 307.9Z" fill="#ffda00" stroke="none"/>
<path d="M209.2 305.2L203.8 306.3L200 307.9"/>
<path d="M94.1 337.1L98.3 334.8L93.6 334.2L89.5 336.4Z" fill="#00f878" stroke="none"/>
<path d="M98.3 334.8L93.6 334.2L89.5 336.4"/>
<path d="M133.9 327.4L138 325.4L133.1 325.4L129 327.4Z" fill="#0df628" stroke="none"/>
<path d="M138 325.4L133.1 325.4L129 327.4"/>
<path d="M174.1 316.4L178 314.6L172.8 315.2L168.9 316.9Z" fill="#a5f805" stroke="none"/>
<path d="M178 314.6L172.8 315.2L168.9 316.9"/>
<path d="M103 335.4L107.1 333.1L102.4 332.7L98.3 334.8Z" fill="#00f865" stroke="none"/>
<path d="M107.1 333.1L102.4 332.7L98.3 334.8"/>
<path d="M142.9 325.3L146.9 323.3L142 323.4L138 325.4Z" fill="#15f61b" stroke="none"/>
<path d="M146.9 323.3L142 323.4L138 325.4"/>
<path d="M183.3 313.9L187.1 312.1L181.8 312.8L178 314.6Z" fill="#d4f700" stroke="none"/>
<path d="M187.1 312.1L181.8 312.8L178 314.6"/>
<path d="M111.9 333.6L116 331.3L111.3 331L107.1 333.1Z" fill="#00f74c" stroke="none"/>
<path d="M116 331.3L111.3 331L107.1 333.1"/>
<path d="M152 323.1L156 321.1L150.9 321.4L146.9 323.3Z" fill="#38f715" stroke="none"/>
<path d="M156 321.1L150.9 321.4L146.9 323.3"/>
<path d="M192.5 311.3L196.3 309.5L190.9 310.4L187.1 312.1Z" fill="#fcf400" stroke="none"/>
<path d="M196.3 309.5L190.9 310.4L187.1 312.1"/>
<path d="M81 341.1L85.2 338.7L80.7 337.9L76.4 340.2Z" fill="#00f890" stroke="none"/>
<path d="M85.2 338.7L80.7 337.9L76.4 340.2"/>
<path d="M120.9 331.6L125 329.4L120.1 329.2L116 331.3Z" fill="#04f63a" stroke="none"/>
<path d="M125 329.4L120.1 329.2L116 331.3"/>
<path d="M161.1 320.8L165 318.8L159.9 319.2L156 321.1Z" fill="#64f811" stroke="none"/>
<path d="M165 318.8L159.9 319.2L156 321.1"/>
<path d="M201.7 308.6L205.5 306.9L200 307.9L196.3 309.5Z" fill="#ffdf00" stroke="none"/>
<path d="M205.5 306.9L200 307.9L196.3 309.5"/>
<path d="M89.9 339.5L94.1 337.1L89.5 336.4L85.2 338.7Z" fill="#00f881" stroke="none"/>
<path d="M94.1 337.1L89.5 336.4L85.2 338.7"/>
<path d="M129.9 329.6L133.9 327.4L129 327.4L125 329.4Z" fill="#0bf62d" stroke="none"/>
<path d="M133.9 327.4L129 327.4L125 329.4"/>
<path d="M170.2 318.3L174.1 316.4L168.9 316.9L165 318.8Z" fill="#97f808" stroke="none"/>
<path d="M174.1 316.4L168.9 316.9L165 318.8"/>
<path d="M211 305.8L214.7 304.1L209.2 305.2L205.5 306.9Z" fill="#ffc500" stroke="none"/>
<path d="M214.7 304.1L209.2 305.2L205.5 306.9"/>
<path d="M98.8 337.7L103 335.4L98.3 334.8L94.1 337.1Z" fill="#00f871" stroke="none"/>
<path d="M103 335.4L98.3 334.8L94.1 337.1"/>
<path d="M138.9 327.4L142.9 325.3L138 325.4L133.9 327.4Z" fill="#12f61f" stroke="none"/>
<path d="M142.9 325.3L138 325.4L133.9 327.4"/>
<path d="M179.4 315.8L183.3 313.9L178 314.6L174.1 316.4Z" fill="#caf700" stroke="none"/>
<path d="M183.3 313.9L178 314.6L174.1 316.4"/>
<path d="M148 325.2L152 323.1L146.9 323.3L142.9 325.3Z" fill="#2af616" stroke="none"/>
<path d="M152 323.1L146.9 323.3L142.9 325.3"/>
<path d="M107.7 335.9L111.9 333.6L107.1 333.1L103 335.4Z" fill="#00f758" stroke="none"/>
<path d="M111.9 333.6L107.1 333.1L103 335.4"/>
<path d="M188.6 313.2L192.5 311.3L187.1 312.1L183.3 313.9Z" fill="#f4f500" stroke="none"/>
<path d="M192.5 311.3L187.1 312.1L183.3 313.9"/>
<path d="M157.1 322.8L161.1 320.8L156 321.1L152 323.1Z" fill="#56f712" stroke="none"/>
<path d="M161.1 320.8L156 321.1L152 323.1"/>
<path d="M76.7 343.6L81 341.1L76.4 340.2L72.1 342.6Z" fill="#00f89a" stroke="none"/>
<path d="M81 341.1L76.4 340.2L72.1 342.6"/>
<path d="M116.7 333.9L120.9 331.6L116 331.3L111.9 333.6Z" fill="#01f63f" stroke="none"/>
<path d="M120.9 331.6L116 331.3L111.9 333.6"/>
<path d="M197.9 310.4L201.7 308.6L196.3 309.5L192.5 311.3Z" fill="#ffe400" stroke="none"/>
<path d="M201.7 308.6L196.3 309.5L192.5 311.3"/>
<path d="M125.8 331.8L129.9 329.6L125 329.4L120.9 331.6Z" fill="#08f632" stroke="none"/>
<path d="M129.9 329.6L125 329.4L120.9 331.6"/>
<path d="M85.6 341.9L89.9 339.5L85.2 338.7L81 341.1Z" fill="#00f88a" stroke="none"/>
<path d="M89.9 339.5L85.2 338.7L81 341.1"/>
<path d="M166.3 320.4L170.2 318.3L165 318.8L161.1 320.8Z" fill="#88f80b" stroke="none"/>
<path d="M170.2 318.3L165 318.8L161.1 320.8"/>
<path d="M207.2 307.6L211 305.8L205.5 306.9L201.7 308.6Z" fill="#ffca00" stroke="none"/>
<path d="M211 305.8L205.5 306.9L201.7 308.6"/>
<path d="M94.5 340.2L98.8 337.7L94.1 337.1L89.9 339.5Z" fill="#00f87a" stroke="none"/>
<path d="M98.8 337.7L94.1 337.1L89.9 339.5"/>
<path d="M134.8 329.7L138.9 327.4L133.9 327.4L129.9 329.6Z" fill="#0ff625" stroke="none"/>
<path d="M138.9 327.4L133.9 327.4L129.9 329.6"/>
<path d="M175.5 317.8L179.4 315.8L174.1 316.4L170.2 318.3Z" fill="#bff800" stroke="none"/>
<path d="M179.4 315.8L174.1 316.4L170.2 318.3"/>
<path d="M216.6 304.7L220.3 302.9L214.7 304.1L211 305.8Z" fill="#ffae00" stroke="none"/>
<path d="M220.3 302.9L214.7 304.1L211 305.8"/>
<path d="M103.5 338.3L107.7 335.9L103 335.4L98.8 337.7Z" fill="#00f865" stroke="none"/>
<path d="M107.7 335.9L103 335.4L98.8 337.7"/>
<path d="M143.9 327.4L148 325.2L142.9 325.3L138.9 327.4Z" fill="#1af618" stroke="none"/>
<path d="M148 325.2L142.9 325.3L138.9 327.4"/>
<path d="M184.8 315.1L188.6 313.2L183.3 313.9L179.4 315.8Z" fill="#e9f500" stroke="none"/>
<path d="M188.6 313.2L183.3 313.9L179.4 315.8"/>
<path d="M153.1 325L157.1 322.8L152 323.1L148 325.2Z" fill="#47f714" stroke="none"/>
<path d="M157.1 322.8L152 323.1L148 325.2"/>
<path d="M72.3 346.2L76.7 343.6L72.1 342.6L67.8 345.1Z" fill="#00f8a5" stroke="none"/>
<path d="M76.7 343.6L72.1 342.6L67.8 345.1"/>
<path d="M112.6 336.3L116.7 333.9L111.9 333.6L107.7 335.9Z" fill="#00f64a" stroke="none"/>
<path d="M116.7 333.9L111.9 333.6L107.7 335.9"/>
<path d="M194.1 312.4L197.9 310.4L192.5 311.3L188.6 313.2Z" fill="#fee800" stroke="none"/>
<path d="M197.9 310.4L192.5 311.3L188.6 313.2"/>
<path d="M81.3 344.5L85.6 341.9L81 341.1L76.7 343.6Z" fill="#00f894" stroke="none"/>
<path d="M85.6 341.9L81 341.1L76.7 343.6"/>
<path d="M203.4 309.5L207.2 307.6L201.7 308.6L197.9 310.4Z" fill="#ffd000" stroke="none"/>
<path d="M207.2 307.6L201.7 308.6L197.9 310.4"/>
<path d="M121.6 334.2L125.8 331.8L120.9 331.6L116.7 333.9Z" fill="#04f638" stroke="none"/>
<path d="M125.8 331.8L120.9 331.6L116.7 333.9"/>
<path d="M162.3 322.5L166.3 320.4L161.1 320.8L157.1 322.8Z" fill="#77f80e" stroke="none"/>
<path d="M166.3 320.4L161.1 320.8L157.1 322.8"/>
<path d="M130.7 332L134.8 329.7L129.9 329.6L125.8 331.8Z" fill="#0cf62a" stroke="none"/>
<path d="M134.8 329.7L129.9 329.6L125.8 331.8"/>
<path d="M90.3 342.7L94.5 340.2L89.9 339.5L85.6 341.9Z" fill="#00f883" stroke="none"/>
<path d="M94.5 340.2L89.9 339.5L85.6 341.9"/>
<path d="M212.8 306.5L216.6 304.7L211 305.8L207.2 307.6Z" fill="#ffb400" stroke="none"/>
<path d="M216.6 304.7L211 305.8L207.2 307.6"/>
<path d="M171.6 319.9L175.5 317.8L170.2 318.3L166.3 320.4Z" fill="#aef803" stroke="none"/>
<path d="M175.5 317.8L170.2 318.3L166.3 320.4"/>
<path d="M99.3 340.8L103.5 338.3L98.8 337.7L94.5 340.2Z" fill="#00f872" stroke="none"/>
<path d="M103.5 338.3L98.8 337.7L94.5 340.2"/>
<path d="M139.9 329.7L143.9 327.4L138.9 327.4L134.8 329.7Z" fill="#14f61c" stroke="none"/>
<path d="M143.9 327.4L138.9 327.4L134.8 329.7"/>
<path d="M180.9 317.2L184.8 315.1L179.4 315.8L175.5 317.8Z" fill="#ddf600" stroke="none"/>
<path d="M184.8 315.1L179.4 315.8L175.5 317.8"/>
<path d="M222.3 303.5L226 301.6L220.3 302.9L216.6 304.7Z" fill="#ff9603" stroke="none"/>
<path d="M226 301.6L220.3 302.9L216.6 304.7"/>
<path d="M149.1 327.3L153.1 325L148 325.2L143.9 327.4Z" fill="#36f715" stroke="none"/>
<path d="M153.1 325L148 325.2L143.9 327.4"/>
<path d="M108.3 338.8L112.6 336.3L107.7 335.9L103.5 338.3Z" fill="#00f758" stroke="none"/>
<path d="M112.6 336.3L107.7 335.9L103.5 338.3"/>
<path d="M190.2 314.4L194.1 312.4L188.6 313.2L184.8 315.1Z" fill="#fdee00" stroke="none"/>
<path d="M194.1 312.4L188.6 313.2L184.8 315.1"/>
<path d="M68 348.9L72.3 346.2L67.8 345.1L63.4 347.8Z" fill="#00f7b7" stroke="none"/>
<path d="M72.3 346.2L67.8 345.1L63.4 347.8"/>
<path d="M77 347.2L81.3 344.5L76.7 343.6L72.3 346.2Z" fill="#00f89f" stroke="none"/>
<path d="M81.3 344.5L76.7 343.6L72.3 346.2"/>
<path d="M158.3 324.7L162.3 322.5L157.1 322.8L153.1 325Z" fill="#65f811" stroke="none"/>
<path d="M162.3 322.5L157.1 322.8L153.1 325"/>
<path d="M117.4 336.7L121.6 334.2L116.7 333.9L112.6 336.3Z" fill="#01f63e" stroke="none"/>
<path d="M121.6 334.2L116.7 333.9L112.6 336.3"/>
<path d="M199.6 311.5L203.4 309.5L197.9 310.4L194.1 312.4Z" fill="#ffd600" stroke="none"/>
<path d="M203.4 309.5L197.9 310.4L194.1 312.4"/>
<path d="M86 345.4L90.3 342.7L85.6 341.9L81.3 344.5Z" fill="#00f88e" stroke="none"/>
<path d="M90.3 342.7L85.6 341.9L81.3 344.5"/>
<path d="M126.6 334.4L130.7 332L125.8 331.8L121.6 334.2Z" fill="#09f630" stroke="none"/>
<path d="M130.7 332L125.8 331.8L121.6 334.2"/>
<path d="M209 308.5L212.8 306.5L207.2 307.6L203.4 309.5Z" fill="#ffba00" stroke="none"/>
<path d="M212.8 306.5L207.2 307.6L203.4 309.5"/>
<path d="M167.6 322.1L171.6 319.9L166.3 320.4L162.3 322.5Z" fill="#9cf807" stroke="none"/>
<path d="M171.6 319.9L166.3 320.4L162.3 322.5"/>
<path d="M135.8 332.1L139.9 329.7L134.8 329.7L130.7 332Z" fill="#10f622" stroke="none"/>
<path d="M139.9 329.7L134.8 329.7L130.7 332"/>
<path d="M95 343.4L99.3 340.8L94.5 340.2L90.3 342.7Z" fill="#00f87c" stroke="none"/>
<path d="M99.3 340.8L94.5 340.2L90.3 342.7"/>
<path d="M176.9 319.4L180.9 317.2L175.5 317.8L171.6 319.9Z" fill="#d0f700" stroke="none"/>
<path d="M180.9 317.2L175.5 317.8L171.6 319.9"/>
<path d="M218.5 305.4L222.3 303.5L216.6 304.7L212.8 306.5Z" fill="#ff9d01" stroke="none"/>
<path d="M222.3 303.5L216.6 304.7L212.8 306.5"/>
<path d="M63.6 351.7L68 348.9L63.4 347.8L59 350.5Z" fill="#00f5ca" stroke="none"/>
<path d="M68 348.9L63.4 347.8L59 350.5"/>
<path d="M145 329.6L149.1 327.3L143.9 327.4L139.9 329.7Z" fill="#24f617" stroke="none"/>
<path d="M149.1 327.3L143.9 327.4L139.9 329.7"/>
<path d="M186.3 316.5L190.2 314.4L184.8 315.1L180.9 317.2Z" fill="#fcf400" stroke="none"/>
<path d="M190.2 314.4L184.8 315.1L180.9 317.2"/>
<path d="M104.1 341.4L108.3 338.8L103.5 338.3L99.3 340.8Z" fill="#00f866" stroke="none"/>
<path d="M108.3 338.8L103.5 338.3L99.3 340.8"/>
<path d="M228.1 302.2L231.8 300.3L226 301.6L222.3 303.5Z" fill="#ff7d08" stroke="none"/>
<path d="M231.8 300.3L226 301.6L222.3 303.5"/>
<path d="M113.2 339.2L117.4 336.7L112.6 336.3L108.3 338.8Z" fill="#00f64a" stroke="none"/>
<path d="M117.4 336.7L112.6 336.3L108.3 338.8"/>
<path d="M195.7 313.6L199.6 311.5L194.1 312.4L190.2 314.4Z" fill="#ffdd00" stroke="none"/>
<path d="M199.6 311.5L194.1 312.4L190.2 314.4"/>
<path d="M72.6 350L77 347.2L72.3 346.2L68 348.9Z" fill="#00f7af" stroke="none"/>
<path d="M77 347.2L72.3 346.2L68 348.9"/>
<path d="M154.2 327.1L158.3 324.7L153.1 325L149.1 327.3Z" fill="#54f712" stroke="none"/>
<path d="M158.3 324.7L153.1 325L149.1 327.3"/>
<path d="M81.6 348.1L86 345.4L81.3 344.5L77 347.2Z" fill="#00f899" stroke="none"/>
<path d="M86 345.4L81.3 344.5L77 347.2"/>
<path d="M122.4 337L126.6 334.4L121.6 334.2L117.4 336.7Z" fill="#05f637" stroke="none"/>
<path d="M126.6 334.4L121.6 334.2L117.4 336.7"/>
<path d="M163.6 324.4L167.6 322.1L162.3 322.5L158.3 324.7Z" fill="#88f80b" stroke="none"/>
<path d="M167.6 322.1L162.3 322.5L158.3 324.7"/>
<path d="M205.2 310.5L209 308.5L203.4 309.5L199.6 311.5Z" fill="#ffc200" stroke="none"/>
<path d="M209 308.5L203.4 309.5L199.6 311.5"/>
<path d="M90.7 346.2L95 343.4L90.3 342.7L86 345.4Z" fill="#00f887" stroke="none"/>
<path d="M95 343.4L90.3 342.7L86 345.4"/>
<path d="M131.6 334.6L135.8 332.1L130.7 332L126.6 334.4Z" fill="#0df629" stroke="none"/>
<path d="M135.8 332.1L130.7 332L126.6 334.4"/>
<path d="M172.9 321.7L176.9 319.4L171.6 319.9L167.6 322.1Z" fill="#c2f800" stroke="none"/>
<path d="M176.9 319.4L171.6 319.9L167.6 322.1"/>
<path d="M214.7 307.4L218.5 305.4L212.8 306.5L209 308.5Z" fill="#ffa400" stroke="none"/>
<path d="M218.5 305.4L212.8 306.5L209 308.5"/>
<path d="M140.9 332.1L145 329.6L139.9 329.7L135.8 332.1Z" fill="#15f61a" stroke="none"/>
<path d="M145 329.6L139.9 329.7L135.8 332.1"/>
<path d="M59.1 354.6L63.6 351.7L59 350.5L54.6 353.3Z" fill="#00f4de" stroke="none"/>
<path d="M63.6 351.7L59 350.5L54.6 353.3"/>
<path d="M224.3 304.2L228.1 302.2L222.3 303.5L218.5 305.4Z" fill="#ff8407" stroke="none"/>
<path d="M228.1 302.2L222.3 303.5L218.5 305.4"/>
<path d="M99.8 344.1L104.1 341.4L99.3 340.8L95 343.4Z" fill="#00f874" stroke="none"/>
<path d="M104.1 341.4L99.3 340.8L95 343.4"/>
<path d="M182.3 318.8L186.3 316.5L180.9 317.2L176.9 319.4Z" fill="#eef500" stroke="none"/>
<path d="M186.3 316.5L180.9 317.2L176.9 319.4"/>
<path d="M68.2 352.9L72.6 350L68 348.9L63.6 351.7Z" fill="#00f6c3" stroke="none"/>
<path d="M72.6 350L68 348.9L63.6 351.7"/>
<path d="M191.8 315.8L195.7 313.6L190.2 314.4L186.3 316.5Z" fill="#ffe500" stroke="none"/>
<path d="M195.7 313.6L190.2 314.4L186.3 316.5"/>
<path d="M109 341.9L113.2 339.2L108.3 338.8L104.1 341.4Z" fill="#00f759" stroke="none"/>
<path d="M113.2 339.2L108.3 338.8L104.1 341.4"/>
<path d="M150.2 329.5L154.2 327.1L149.1 327.3L145 329.6Z" fill="#41f714" stroke="none"/>
<path d="M154.2 327.1L149.1 327.3L145 329.6"/>
<path d="M234 300.8L237.7 298.9L231.8 300.3L228.1 302.2Z" fill="#fb630e" stroke="none"/>
<path d="M237.7 298.9L231.8 300.3L228.1 302.2"/>
<path d="M118.2 339.6L122.4 337L117.4 336.7L113.2 339.2Z" fill="#01f63e" stroke="none"/>
<path d="M122.4 337L117.4 336.7L113.2 339.2"/>
<path d="M77.2 351L81.6 348.1L77 347.2L72.6 350Z" fill="#00f8a6" stroke="none"/>
<path d="M81.6 348.1L77 347.2L72.6 350"/>
<path d="M201.3 312.7L205.2 310.5L199.6 311.5L195.7 313.6Z" fill="#ffca00" stroke="none"/>
<path d="M205.2 310.5L199.6 311.5L195.7 313.6"/>
<path d="M159.5 326.8L163.6 324.4L158.3 324.7L154.2 327.1Z" fill="#72f80f" stroke="none"/>
<path d="M163.6 324.4L158.3 324.7L154.2 327.1"/>
<path d="M86.3 349L90.7 346.2L86 345.4L81.6 348.1Z" fill="#00f892" stroke="none"/>
<path d="M90.7 346.2L86 345.4L81.6 348.1"/>
<path d="M127.4 337.2L131.6 334.6L126.6 334.4L122.4 337Z" fill="#09f630" stroke="none"/>
<path d="M131.6 334.6L126.6 334.4L122.4 337"/>
<path d="M168.9 324L172.9 321.7L167.6 322.1L163.6 324.4Z" fill="#aef804" stroke="none"/>
<path d="M172.9 321.7L167.6 322.1L163.6 324.4"/>
<path d="M210.9 309.5L214.7 307.4L209 308.5L205.2 310.5Z" fill="#ffac00" stroke="none"/>
<path d="M214.7 307.4L209 308.5L205.2 310.5"/>
<path d="M136.7 334.7L140.9 332.1L135.8 332.1L131.6 334.6Z" fill="#11f620" stroke="none"/>
<path d="M140.9 332.1L135.8 332.1L131.6 334.6"/>
<path d="M220.5 306.2L224.3 304.2L218.5 305.4L214.7 307.4Z" fill="#ff8c05" stroke="none"/>
<path d="M224.3 304.2L218.5 305.4L214.7 307.4"/>
<path d="M95.5 346.9L99.8 344.1L95 343.4L90.7 346.2Z" fill="#00f87f" stroke="none"/>
<path d="M99.8 344.1L95 343.4L90.7 346.2"/>
<path d="M178.3 321.1L182.3 318.8L176.9 319.4L172.9 321.7Z" fill="#dff600" stroke="none"/>
<path d="M182.3 318.8L176.9 319.4L172.9 321.7"/>
<path d="M54.7 357.7L59.1 354.6L54.6 353.3L50.1 356.3Z" fill="#00f1e6" stroke="none"/>
<path d="M59.1 354.6L54.6 353.3L50.1 356.3"/>
<path d="M63.7 355.9L68.2 352.9L63.6 351.7L59.1 354.6Z" fill="#00f5d8" stroke="none"/>
<path d="M68.2 352.9L63.6 351.7L59.1 354.6"/>
<path d="M146 332.1L150.2 329.5L145 329.6L140.9 332.1Z" fill="#2cf716" stroke="none"/>
<path d="M150.2 329.5L145 329.6L140.9 332.1"/>
<path d="M104.7 344.7L109 341.9L104.1 341.4L99.8 344.1Z" fill="#00f86a" stroke="none"/>
<path d="M109 341.9L104.1 341.4L99.8 344.1"/>
<path d="M187.8 318.1L191.8 315.8L186.3 316.5L182.3 318.8Z" fill="#fdec00" stroke="none"/>
<path d="M191.8 315.8L186.3 316.5L182.3 318.8"/>
<path d="M230.2 302.9L234 300.8L228.1 302.2L224.3 304.2Z" fill="#fd6b0c" stroke="none"/>
<path d="M234 300.8L228.1 302.2L224.3 304.2"/>
<path d="M72.8 354L77.2 351L72.6 350L68.2 352.9Z" fill="#00f6bb" stroke="none"/>
<path d="M77.2 351L72.6 350L68.2 352.9"/>
<path d="M113.9 342.4L118.2 339.6L113.2 339.2L109 341.9Z" fill="#00f64c" stroke="none"/>
<path d="M118.2 339.6L113.2 339.2L109 341.9"/>
<path d="M197.4 315L201.3 312.7L195.7 313.6L191.8 315.8Z" fill="#ffd200" stroke="none"/>
<path d="M201.3 312.7L195.7 313.6L191.8 315.8"/>
<path d="M155.4 329.4L159.5 326.8L154.2 327.1L150.2 329.5Z" fill="#5ef811" stroke="none"/>
<path d="M159.5 326.8L154.2 327.1L150.2 329.5"/>
<path d="M239.9 299.4L243.7 297.4L237.7 298.9L234 300.8Z" fill="#f54913" stroke="none"/>
<path d="M243.7 297.4L237.7 298.9L234 300.8"/>
<path d="M123.2 340L127.4 337.2L122.4 337L118.2 339.6Z" fill="#05f637" stroke="none"/>
<path d="M127.4 337.2L122.4 337L118.2 339.6"/>
<path d="M82 352L86.3 349L81.6 348.1L77.2 351Z" fill="#00f89f" stroke="none"/>
<path d="M86.3 349L81.6 348.1L77.2 351"/>
<path d="M164.8 326.5L168.9 324L163.6 324.4L159.5 326.8Z" fill="#97f808" stroke="none"/>
<path d="M168.9 324L163.6 324.4L159.5 326.8"/>
<path d="M207 311.8L210.9 309.5L205.2 310.5L201.3 312.7Z" fill="#ffb500" stroke="none"/>
<path d="M210.9 309.5L205.2 310.5L201.3 312.7"/>
<path d="M132.5 337.4L136.7 334.7L131.6 334.6L127.4 337.2Z" fill="#0df628" stroke="none"/>
<path d="M136.7 334.7L131.6 334.6L127.4 337.2"/>
<path d="M174.3 323.6L178.3 321.1L172.9 321.7L168.9 324Z" fill="#cff700" stroke="none"/>
<path d="M178.3 321.1L172.9 321.7L168.9 324"/>
<path d="M50.2 360.8L54.7 357.7L50.1 356.3L45.6 359.3Z" fill="#00eded" stroke="none"/>
<path d="M54.7 357.7L50.1 356.3L45.6 359.3"/>
<path d="M91.1 349.9L95.5 346.9L90.7 346.2L86.3 349Z" fill="#00f88b" stroke="none"/>
<path d="M95.5 346.9L90.7 346.2L86.3 349"/>
<path d="M216.7 308.4L220.5 306.2L214.7 307.4L210.9 309.5Z" fill="#ff9503" stroke="none"/>
<path d="M220.5 306.2L214.7 307.4L210.9 309.5"/>
<path d="M100.4 347.6L104.7 344.7L99.8 344.1L95.5 346.9Z" fill="#00f877" stroke="none"/>
<path d="M104.7 344.7L99.8 344.1L95.5 346.9"/>
<path d="M183.8 320.5L187.8 318.1L182.3 318.8L178.3 321.1Z" fill="#fcf300" stroke="none"/>
<path d="M187.8 318.1L182.3 318.8L178.3 321.1"/>
<path d="M59.2 359L63.7 355.9L59.1 354.6L54.7 357.7Z" fill="#00f2e4" stroke="none"/>
<path d="M63.7 355.9L59.1 354.6L54.7 357.7"/>
<path d="M141.9 334.8L146 332.1L140.9 332.1L136.7 334.7Z" fill="#16f618" stroke="none"/>
<path d="M146 332.1L140.9 332.1L136.7 334.7"/>
<path d="M226.4 305L230.2 302.9L224.3 304.2L220.5 306.2Z" fill="#ff740a" stroke="none"/>
<path d="M230.2 302.9L224.3 304.2L220.5 306.2"/>
<path d="M68.4 357.1L72.8 354L68.2 352.9L63.7 355.9Z" fill="#00f5d0" stroke="none"/>
<path d="M72.8 354L68.2 352.9L63.7 355.9"/>
<path d="M109.6 345.3L113.9 342.4L109 341.9L104.7 344.7Z" fill="#00f75d" stroke="none"/>
<path d="M113.9 342.4L109 341.9L104.7 344.7"/>
<path d="M151.3 332L155.4 329.4L150.2 329.5L146 332.1Z" fill="#48f713" stroke="none"/>
<path d="M155.4 329.4L150.2 329.5L146 332.1"/>
<path d="M193.4 317.4L197.4 315L191.8 315.8L187.8 318.1Z" fill="#ffdb00" stroke="none"/>
<path d="M197.4 315L191.8 315.8L187.8 318.1"/>
<path d="M236.2 301.5L239.9 299.4L234 300.8L230.2 302.9Z" fill="#f75111" stroke="none"/>
<path d="M239.9 299.4L234 300.8L230.2 302.9"/>
<path d="M77.5 355L82 352L77.2 351L72.8 354Z" fill="#00f7b2" stroke="none"/>
<path d="M82 352L77.2 351L72.8 354"/>
<path d="M118.9 342.8L123.2 340L118.2 339.6L113.9 342.4Z" fill="#01f63f" stroke="none"/>
<path d="M123.2 340L118.2 339.6L113.9 342.4"/>
<path d="M160.7 329.1L164.8 326.5L159.5 326.8L155.4 329.4Z" fill="#7ff80d" stroke="none"/>
<path d="M164.8 326.5L159.5 326.8L155.4 329.4"/>
<path d="M203.1 314.1L207 311.8L201.3 312.7L197.4 315Z" fill="#ffbe00" stroke="none"/>
<path d="M207 311.8L201.3 312.7L197.4 315"/>
<path d="M246 297.8L249.7 295.8L243.7 297.4L239.9 299.4Z" fill="#f03414" stroke="none"/>
<path d="M249.7 295.8L243.7 297.4L239.9 299.4M246 297.8L249.7 295.8"/>
<path d="M128.3 340.2L132.5 337.4L127.4 337.2L123.2 340Z" fill="#09f62f" stroke="none"/>
<path d="M132.5 337.4L127.4 337.2L123.2 340"/>
<path d="M45.6 364.1L50.2 360.8L45.6 359.3L41.1 362.5Z" fill="#00e9f5" stroke="none"/>
<path d="M50.2 360.8L45.6 359.3L41.1 362.5M45.6 364.1L41.1 362.5"/>
<path d="M212.8 310.7L216.7 308.4L210.9 309.5L207 311.8Z" fill="#ff9f01" stroke="none"/>
<path d="M216.7 308.4L210.9 309.5L207 311.8"/>
<path d="M170.2 326.1L174.3 323.6L168.9 324L164.8 326.5Z" fill="#bdf801" stroke="none"/>
<path d="M174.3 323.6L168.9 324L164.8 326.5"/>
<path d="M86.7 352.9L91.1 349.9L86.3 349L82 352Z" fill="#00f898" stroke="none"/>
<path d="M91.1 349.9L86.3 349L82 352"/>
<path d="M179.8 323.1L183.8 320.5L178.3 321.1L174.3 323.6Z" fill="#ecf500" stroke="none"/>
<path d="M183.8 320.5L178.3 321.1L174.3 323.6"/>
<path d="M54.7 362.2L59.2 359L54.7 357.7L50.2 360.8Z" fill="#00eeec" stroke="none"/>
<path d="M59.2 359L54.7 357.7L50.2 360.8"/>
<path d="M96 350.6L100.4 347.6L95.5 346.9L91.1 349.9Z" fill="#00f884" stroke="none"/>
<path d="M100.4 347.6L95.5 346.9L91.1 349.9"/>
<path d="M137.7 337.5L141.9 334.8L136.7 334.7L132.5 337.4Z" fill="#12f61f" stroke="none"/>
<path d="M141.9 334.8L136.7 334.7L132.5 337.4"/>
<path d="M222.5 307.3L226.4 305L220.5 306.2L216.7 308.4Z" fill="#ff7d08" stroke="none"/>
<path d="M226.4 305L220.5 306.2L216.7 308.4"/>
<path d="M105.3 348.2L109.6 345.3L104.7 344.7L100.4 347.6Z" fill="#00f86e" stroke="none"/>
<path d="M109.6 345.3L104.7 344.7L100.4 347.6"/>
<path d="M63.9 360.3L68.4 357.1L63.7 355.9L59.2 359Z" fill="#00f3e2" stroke="none"/>
<path d="M68.4 357.1L63.7 355.9L59.2 359"/>
<path d="M189.4 319.9L193.4 317.4L187.8 318.1L183.8 320.5Z" fill="#ffe500" stroke="none"/>
<path d="M193.4 317.4L187.8 318.1L183.8 320.5"/>
<path d="M147.1 334.7L151.3 332L146 332.1L141.9 334.8Z" fill="#32f715" stroke="none"/>
<path d="M151.3 332L146 332.1L141.9 334.8"/>
<path d="M232.3 303.7L236.2 301.5L230.2 302.9L226.4 305Z" fill="#f95b0f" stroke="none"/>
<path d="M236.2 301.5L230.2 302.9L226.4 305"/>
<path d="M73.1 358.2L77.5 355L72.8 354L68.4 357.1Z" fill="#00f6c8" stroke="none"/>
<path d="M77.5 355L72.8 354L68.4 357.1"/>
<path d="M114.6 345.8L118.9 342.8L113.9 342.4L109.6 345.3Z" fill="#00f74f" stroke="none"/>
<path d="M118.9 342.8L113.9 342.4L109.6 345.3"/>
<path d="M156.6 331.8L160.7 329.1L155.4 329.4L151.3 332Z" fill="#66f811" stroke="none"/>
<path d="M160.7 329.1L155.4 329.4L151.3 332"/>
<path d="M242.2 300L246 297.8L239.9 299.4L236.2 301.5Z" fill="#f13915" stroke="none"/>
<path d="M246 297.8L239.9 299.4L236.2 301.5M242.2 300L246 297.8"/>
<path d="M199.1 316.6L203.1 314.1L197.4 315L193.4 317.4Z" fill="#ffc800" stroke="none"/>
<path d="M203.1 314.1L197.4 315L193.4 317.4"/>
<path d="M82.3 356L86.7 352.9L82 352L77.5 355Z" fill="#00f8a8" stroke="none"/>
<path d="M86.7 352.9L82 352L77.5 355"/>
<path d="M124 343.1L128.3 340.2L123.2 340L118.9 342.8Z" fill="#05f638" stroke="none"/>
<path d="M128.3 340.2L123.2 340L118.9 342.8"/>
<path d="M208.8 313.2L212.8 310.7L207 311.8L203.1 314.1Z" fill="#ffa900" stroke="none"/>
<path d="M212.8 310.7L207 311.8L203.1 314.1"/>
<path d="M166.1 328.8L170.2 326.1L164.8 326.5L160.7 329.1Z" fill="#a3f806" stroke="none"/>
<path d="M170.2 326.1L164.8 326.5L160.7 329.1"/>
<path d="M50.2 365.6L54.7 362.2L50.2 360.8L45.6 364.1Z" fill="#00e9f4" stroke="none"/>
<path d="M54.7 362.2L50.2 360.8L45.6 364.1M50.2 365.6L45.6 364.1"/>
<path d="M133.4 340.4L137.7 337.5L132.5 337.4L128.3 340.2Z" fill="#0df627" stroke="none"/>
<path d="M137.7 337.5L132.5 337.4L128.3 340.2"/>
<path d="M175.7 325.7L179.8 323.1L174.3 323.6L170.2 326.1Z" fill="#daf600" stroke="none"/>
<path d="M179.8 323.1L174.3 323.6L170.2 326.1"/>
<path d="M91.6 353.7L96 350.6L91.1 349.9L86.7 352.9Z" fill="#00f891" stroke="none"/>
<path d="M96 350.6L91.1 349.9L86.7 352.9"/>
<path d="M218.6 309.6L222.5 307.3L216.7 308.4L212.8 310.7Z" fill="#ff8706" stroke="none"/>
<path d="M222.5 307.3L216.7 308.4L212.8 310.7"/>
<path d="M59.4 363.6L63.9 360.3L59.2 359L54.7 362.2Z" fill="#00efea" stroke="none"/>
<path d="M63.9 360.3L59.2 359L54.7 362.2"/>
<path d="M100.9 351.3L105.3 348.2L100.4 347.6L96 350.6Z" fill="#00f87c" stroke="none"/>
<path d="M105.3 348.2L100.4 347.6L96 350.6"/>
<path d="M185.4 322.5L189.4 319.9L183.8 320.5L179.8 323.1Z" fill="#fded00" stroke="none"/>
<path d="M189.4 319.9L183.8 320.5L179.8 323.1"/>
<path d="M142.9 337.6L147.1 334.7L141.9 334.8L137.7 337.5Z" fill="#19f618" stroke="none"/>
<path d="M147.1 334.7L141.9 334.8L137.7 337.5"/>
<path d="M228.5 306L232.3 303.7L226.4 305L222.5 307.3Z" fill="#fb640e" stroke="none"/>
<path d="M232.3 303.7L226.4 305L222.5 307.3"/>
<path d="M110.3 348.8L114.6 345.8L109.6 345.3L105.3 348.2Z" fill="#00f761" stroke="none"/>
<path d="M114.6 345.8L109.6 345.3L105.3 348.2"/>
<path d="M68.6 361.5L73.1 358.2L68.4 357.1L63.9 360.3Z" fill="#00f4e0" stroke="none"/>
<path d="M73.1 358.2L68.4 357.1L63.9 360.3"/>
<path d="M238.4 302.3L242.2 300L236.2 301.5L232.3 303.7Z" fill="#f34115" stroke="none"/>
<path d="M242.2 300L236.2 301.5L232.3 303.7M238.4 302.3L242.2 300"/>
<path d="M152.4 334.7L156.6 331.8L151.3 332L147.1 334.7Z" fill="#4ef713" stroke="none"/>
<path d="M156.6 331.8L151.3 332L147.1 334.7"/>
<path d="M195.1 319.1L199.1 316.6L193.4 317.4L189.4 319.9Z" fill="#ffd200" stroke="none"/>
<path d="M199.1 316.6L193.4 317.4L189.4 319.9"/>
<path d="M119.7 346.2L124 343.1L118.9 342.8L114.6 345.8Z" fill="#00f640" stroke="none"/>
<path d="M124 343.1L118.9 342.8L114.6 345.8"/>
<path d="M162 331.6L166.1 328.8L160.7 329.1L156.6 331.8Z" fill="#88f80b" stroke="none"/>
<path d="M166.1 328.8L160.7 329.1L156.6 331.8"/>
<path d="M77.9 359.3L82.3 356L77.5 355L73.1 358.2Z" fill="#00f6bf" stroke="none"/>
<path d="M82.3 356L77.5 355L73.1 358.2"/>
<path d="M204.9 315.7L208.8 313.2L203.1 314.1L199.1 316.6Z" fill="#ffb300" stroke="none"/>
<path d="M208.8 313.2L203.1 314.1L199.1 316.6"/>
<path d="M87.2 357L91.6 353.7L86.7 352.9L82.3 356Z" fill="#00f89f" stroke="none"/>
<path d="M91.6 353.7L86.7 352.9L82.3 356"/>
<path d="M171.6 328.4L175.7 325.7L170.2 326.1L166.1 328.8Z" fill="#c7f800" stroke="none"/>
<path d="M175.7 325.7L170.2 326.1L166.1 328.8"/>
<path d="M129.1 343.4L133.4 340.4L128.3 340.2L124 343.1Z" fill="#09f630" stroke="none"/>
<path d="M133.4 340.4L128.3 340.2L124 343.1"/>
<path d="M214.7 312.1L218.6 309.6L212.8 310.7L208.8 313.2Z" fill="#ff9204" stroke="none"/>
<path d="M218.6 309.6L212.8 310.7L208.8 313.2"/>
<path d="M54.8 367L59.4 363.6L54.7 362.2L50.2 365.6Z" fill="#00eaf2" stroke="none"/>
<path d="M59.4 363.6L54.7 362.2L50.2 365.6M54.8 367L50.2 365.6"/>
<path d="M96.5 354.5L100.9 351.3L96 350.6L91.6 353.7Z" fill="#00f88a" stroke="none"/>
<path d="M100.9 351.3L96 350.6L91.6 353.7"/>
<path d="M138.6 340.6L142.9 337.6L137.7 337.5L133.4 340.4Z" fill="#12f61f" stroke="none"/>
<path d="M142.9 337.6L137.7 337.5L133.4 340.4"/>
<path d="M181.3 325.2L185.4 322.5L179.8 323.1L175.7 325.7Z" fill="#f7f400" stroke="none"/>
<path d="M185.4 322.5L179.8 323.1L175.7 325.7"/>
<path d="M224.6 308.5L228.5 306L222.5 307.3L218.6 309.6Z" fill="#fe6f0b" stroke="none"/>
<path d="M228.5 306L222.5 307.3L218.6 309.6"/>
<path d="M64.1 364.9L68.6 361.5L63.9 360.3L59.4 363.6Z" fill="#00f0e8" stroke="none"/>
<path d="M68.6 361.5L63.9 360.3L59.4 363.6"/>
<path d="M105.9 352L110.3 348.8L105.3 348.2L100.9 351.3Z" fill="#00f873" stroke="none"/>
<path d="M110.3 348.8L105.3 348.2L100.9 351.3"/>
<path d="M148.2 337.6L152.4 334.7L147.1 334.7L142.9 337.6Z" fill="#35f715" stroke="none"/>
<path d="M152.4 334.7L147.1 334.7L142.9 337.6"/>
<path d="M191.1 321.8L195.1 319.1L189.4 319.9L185.4 322.5Z" fill="#ffdd00" stroke="none"/>
<path d="M195.1 319.1L189.4 319.9L185.4 322.5"/>
<path d="M234.5 304.7L238.4 302.3L232.3 303.7L228.5 306Z" fill="#f64b13" stroke="none"/>
<path d="M238.4 302.3L232.3 303.7L228.5 306M234.5 304.7L238.4 302.3"/>
<path d="M115.3 349.3L119.7 346.2L114.6 345.8L110.3 348.8Z" fill="#00f753" stroke="none"/>
<path d="M119.7 346.2L114.6 345.8L110.3 348.8"/>
<path d="M200.9 318.3L204.9 315.7L199.1 316.6L195.1 319.1Z" fill="#ffbe00" stroke="none"/>
<path d="M204.9 315.7L199.1 316.6L195.1 319.1"/>
<path d="M157.8 334.5L162 331.6L156.6 331.8L152.4 334.7Z" fill="#6cf810" stroke="none"/>
<path d="M162 331.6L156.6 331.8L152.4 334.7"/>
<path d="M73.3 362.7L77.9 359.3L73.1 358.2L68.6 361.5Z" fill="#00f5d8" stroke="none"/>
<path d="M77.9 359.3L73.1 358.2L68.6 361.5"/>
<path d="M167.5 331.3L171.6 328.4L166.1 328.8L162 331.6Z" fill="#adf804" stroke="none"/>
<path d="M171.6 328.4L166.1 328.8L162 331.6"/>
<path d="M82.7 360.3L87.2 357L82.3 356L77.9 359.3Z" fill="#00f7b5" stroke="none"/>
<path d="M87.2 357L82.3 356L77.9 359.3"/>
<path d="M124.8 346.5L129.1 343.4L124 343.1L119.7 346.2Z" fill="#04f639" stroke="none"/>
<path d="M129.1 343.4L124 343.1L119.7 346.2"/>
<path d="M210.7 314.7L214.7 312.1L208.8 313.2L204.9 315.7Z" fill="#ff9e01" stroke="none"/>
<path d="M214.7 312.1L208.8 313.2L204.9 315.7"/>
<path d="M92.1 357.9L96.5 354.5L91.6 353.7L87.2 357Z" fill="#00f898" stroke="none"/>
<path d="M96.5 354.5L91.6 353.7L87.2 357"/>
<path d="M177.2 328L181.3 325.2L175.7 325.7L171.6 328.4Z" fill="#e3f600" stroke="none"/>
<path d="M181.3 325.2L175.7 325.7L171.6 328.4"/>
<path d="M134.4 343.6L138.6 340.6L133.4 340.4L129.1 343.4Z" fill="#0df628" stroke="none"/>
<path d="M138.6 340.6L133.4 340.4L129.1 343.4"/>
<path d="M220.6 311L224.6 308.5L218.6 309.6L214.7 312.1Z" fill="#ff7b09" stroke="none"/>
<path d="M224.6 308.5L218.6 309.6L214.7 312.1"/>
<path d="M59.5 368.4L64.1 364.9L59.4 363.6L54.8 367Z" fill="#00ebf0" stroke="none"/>
<path d="M64.1 364.9L59.4 363.6L54.8 367M59.5 368.4L54.8 367"/>
<path d="M101.5 355.3L105.9 352L100.9 351.3L96.5 354.5Z" fill="#00f881" stroke="none"/>
<path d="M105.9 352L100.9 351.3L96.5 354.5"/>
<path d="M143.9 340.6L148.2 337.6L142.9 337.6L138.6 340.6Z" fill="#1af618" stroke="none"/>
<path d="M148.2 337.6L142.9 337.6L138.6 340.6"/>
<path d="M230.6 307.2L234.5 304.7L228.5 306L224.6 308.5Z" fill="#f85610" stroke="none"/>
<path d="M234.5 304.7L228.5 306L224.6 308.5M230.6 307.2L234.5 304.7"/>
<path d="M187 324.6L191.1 321.8L185.4 322.5L181.3 325.2Z" fill="#fee800" stroke="none"/>
<path d="M191.1 321.8L185.4 322.5L181.3 325.2"/>
<path d="M111 352.6L115.3 349.3L110.3 348.8L105.9 352Z" fill="#00f868" stroke="none"/>
<path d="M115.3 349.3L110.3 348.8L105.9 352"/>
<path d="M196.8 321.1L200.9 318.3L195.1 319.1L191.1 321.8Z" fill="#ffcb00" stroke="none"/>
<path d="M200.9 318.3L195.1 319.1L191.1 321.8"/>
<path d="M68.8 366.2L73.3 362.7L68.6 361.5L64.1 364.9Z" fill="#00f1e5" stroke="none"/>
<path d="M73.3 362.7L68.6 361.5L64.1 364.9"/>
<path d="M153.6 337.5L157.8 334.5L152.4 334.7L148.2 337.6Z" fill="#51f713" stroke="none"/>
<path d="M157.8 334.5L152.4 334.7L148.2 337.6"/>
<path d="M120.5 349.8L124.8 346.5L119.7 346.2L115.3 349.3Z" fill="#00f645" stroke="none"/>
<path d="M124.8 346.5L119.7 346.2L115.3 349.3"/>
<path d="M163.3 334.3L167.5 331.3L162 331.6L157.8 334.5Z" fill="#8ff80a" stroke="none"/>
<path d="M167.5 331.3L162 331.6L157.8 334.5"/>
<path d="M78.2 363.8L82.7 360.3L77.9 359.3L73.3 362.7Z" fill="#00f5ce" stroke="none"/>
<path d="M82.7 360.3L77.9 359.3L73.3 362.7"/>
<path d="M206.7 317.4L210.7 314.7L204.9 315.7L200.9 318.3Z" fill="#ffaa00" stroke="none"/>
<path d="M210.7 314.7L204.9 315.7L200.9 318.3"/>
<path d="M87.6 361.3L92.1 357.9L87.2 357L82.7 360.3Z" fill="#00f7aa" stroke="none"/>
<path d="M92.1 357.9L87.2 357L82.7 360.3"/>
<path d="M173 330.9L177.2 328L171.6 328.4L167.5 331.3Z" fill="#cef700" stroke="none"/>
<path d="M177.2 328L171.6 328.4L167.5 331.3"/>
<path d="M130 346.8L134.4 343.6L129.1 343.4L124.8 346.5Z" fill="#08f631" stroke="none"/>
<path d="M134.4 343.6L129.1 343.4L124.8 346.5"/>
<path d="M216.7 313.7L220.6 311L214.7 312.1L210.7 314.7Z" fill="#ff8706" stroke="none"/>
<path d="M220.6 311L214.7 312.1L210.7 314.7"/>
<path d="M97 358.7L101.5 355.3L96.5 354.5L92.1 357.9Z" fill="#00f890" stroke="none"/>
<path d="M101.5 355.3L96.5 354.5L92.1 357.9"/>
<path d="M226.7 309.8L230.6 307.2L224.6 308.5L220.6 311Z" fill="#fb620e" stroke="none"/>
<path d="M230.6 307.2L224.6 308.5L220.6 311M226.7 309.8L230.6 307.2"/>
<path d="M139.7 343.8L143.9 340.6L138.6 340.6L134.4 343.6Z" fill="#12f620" stroke="none"/>
<path d="M143.9 340.6L138.6 340.6L134.4 343.6"/>
<path d="M182.9 327.5L187 324.6L181.3 325.2L177.2 328Z" fill="#fcf200" stroke="none"/>
<path d="M187 324.6L181.3 325.2L177.2 328"/>
<path d="M64.2 369.8L68.8 366.2L64.1 364.9L59.5 368.4Z" fill="#00ecee" stroke="none"/>
<path d="M68.8 366.2L64.1 364.9L59.5 368.4M64.2 369.8L59.5 368.4"/>
<path d="M106.5 356L111 352.6L105.9 352L101.5 355.3Z" fill="#00f879" stroke="none"/>
<path d="M111 352.6L105.9 352L101.5 355.3"/>
<path d="M149.3 340.6L153.6 337.5L148.2 337.6L143.9 340.6Z" fill="#36f715" stroke="none"/>
<path d="M153.6 337.5L148.2 337.6L143.9 340.6"/>
<path d="M192.7 323.9L196.8 321.1L191.1 321.8L187 324.6Z" fill="#ffd700" stroke="none"/>
<path d="M196.8 321.1L191.1 321.8L187 324.6"/>
<path d="M73.6 367.4L78.2 363.8L73.3 362.7L68.8 366.2Z" fill="#00f2e3" stroke="none"/>
<path d="M78.2 363.8L73.3 362.7L68.8 366.2"/>
<path d="M116.1 353.1L120.5 349.8L115.3 349.3L111 352.6Z" fill="#00f75a" stroke="none"/>
<path d="M120.5 349.8L115.3 349.3L111 352.6"/>
<path d="M159.1 337.4L163.3 334.3L157.8 334.5L153.6 337.5Z" fill="#6ff810" stroke="none"/>
<path d="M163.3 334.3L157.8 334.5L153.6 337.5"/>
<path d="M202.7 320.2L206.7 317.4L200.9 318.3L196.8 321.1Z" fill="#ffb600" stroke="none"/>
<path d="M206.7 317.4L200.9 318.3L196.8 321.1"/>
<path d="M83.1 364.9L87.6 361.3L82.7 360.3L78.2 363.8Z" fill="#00f6c4" stroke="none"/>
<path d="M87.6 361.3L82.7 360.3L78.2 363.8"/>
<path d="M125.7 350.2L130 346.8L124.8 346.5L120.5 349.8Z" fill="#03f63b" stroke="none"/>
<path d="M130 346.8L124.8 346.5L120.5 349.8"/>
<path d="M168.8 334L173 330.9L167.5 331.3L163.3 334.3Z" fill="#b4f802" stroke="none"/>
<path d="M173 330.9L167.5 331.3L163.3 334.3"/>
<path d="M212.6 316.5L216.7 313.7L210.7 314.7L206.7 317.4Z" fill="#ff9403" stroke="none"/>
<path d="M216.7 313.7L210.7 314.7L206.7 317.4"/>
<path d="M92.5 362.2L97 358.7L92.1 357.9L87.6 361.3Z" fill="#00f8a0" stroke="none"/>
<path d="M97 358.7L92.1 357.9L87.6 361.3"/>
<path d="M135.3 347.1L139.7 343.8L134.4 343.6L130 346.8Z" fill="#0df629" stroke="none"/>
<path d="M139.7 343.8L134.4 343.6L130 346.8"/>
<path d="M178.7 330.5L182.9 327.5L177.2 328L173 330.9Z" fill="#eaf500" stroke="none"/>
<path d="M182.9 327.5L177.2 328L173 330.9"/>
<path d="M222.7 312.6L226.7 309.8L220.6 311L216.7 313.7Z" fill="#fe6f0b" stroke="none"/>
<path d="M226.7 309.8L220.6 311L216.7 313.7M222.7 312.6L226.7 309.8"/>
<path d="M102.1 359.5L106.5 356L101.5 355.3L97 358.7Z" fill="#00f888" stroke="none"/>
<path d="M106.5 356L101.5 355.3L97 358.7"/>
<path d="M188.6 326.9L192.7 323.9L187 324.6L182.9 327.5Z" fill="#ffe300" stroke="none"/>
<path d="M192.7 323.9L187 324.6L182.9 327.5"/>
<path d="M145 343.9L149.3 340.6L143.9 340.6L139.7 343.8Z" fill="#19f618" stroke="none"/>
<path d="M149.3 340.6L143.9 340.6L139.7 343.8"/>
<path d="M69 371.1L73.6 367.4L68.8 366.2L64.2 369.8Z" fill="#00eeec" stroke="none"/>
<path d="M73.6 367.4L68.8 366.2L64.2 369.8M69 371.1L64.2 369.8"/>
<path d="M154.8 340.6L159.1 337.4L153.6 337.5L149.3 340.6Z" fill="#53f712" stroke="none"/>
<path d="M159.1 337.4L153.6 337.5L149.3 340.6"/>
<path d="M111.6 356.6L116.1 353.1L111 352.6L106.5 356Z" fill="#00f86f" stroke="none"/>
<path d="M116.1 353.1L111 352.6L106.5 356"/>
<path d="M198.6 323.2L202.7 320.2L196.8 321.1L192.7 323.9Z" fill="#ffc300" stroke="none"/>
<path d="M202.7 320.2L196.8 321.1L192.7 323.9"/>
<path d="M78.5 368.5L83.1 364.9L78.2 363.8L73.6 367.4Z" fill="#00f4df" stroke="none"/>
<path d="M83.1 364.9L78.2 363.8L73.6 367.4"/>
<path d="M121.3 353.6L125.7 350.2L120.5 349.8L116.1 353.1Z" fill="#00f64b" stroke="none"/>
<path d="M125.7 350.2L120.5 349.8L116.1 353.1"/>
<path d="M164.6 337.2L168.8 334L163.3 334.3L159.1 337.4Z" fill="#93f809" stroke="none"/>
<path d="M168.8 334L163.3 334.3L159.1 337.4"/>
<path d="M208.6 319.3L212.6 316.5L206.7 317.4L202.7 320.2Z" fill="#ffa100" stroke="none"/>
<path d="M212.6 316.5L206.7 317.4L202.7 320.2"/>
<path d="M88 365.9L92.5 362.2L87.6 361.3L83.1 364.9Z" fill="#00f7b9" stroke="none"/>
<path d="M92.5 362.2L87.6 361.3L83.1 364.9"/>
<path d="M131 350.5L135.3 347.1L130 346.8L125.7 350.2Z" fill="#07f633" stroke="none"/>
<path d="M135.3 347.1L130 346.8L125.7 350.2"/>
<path d="M218.7 315.4L222.7 312.6L216.7 313.7L212.6 316.5Z" fill="#ff7d09" stroke="none"/>
<path d="M222.7 312.6L216.7 313.7L212.6 316.5M218.7 315.4L222.7 312.6"/>
<path d="M174.5 333.6L178.7 330.5L173 330.9L168.8 334Z" fill="#d3f700" stroke="none"/>
<path d="M178.7 330.5L173 330.9L168.8 334"/>
<path d="M97.6 363.1L102.1 359.5L97 358.7L92.5 362.2Z" fill="#00f898" stroke="none"/>
<path d="M102.1 359.5L97 358.7L92.5 362.2"/>
<path d="M184.4 330L188.6 326.9L182.9 327.5L178.7 330.5Z" fill="#fdee00" stroke="none"/>
<path d="M188.6 326.9L182.9 327.5L178.7 330.5"/>
<path d="M140.7 347.2L145 343.9L139.7 343.8L135.3 347.1Z" fill="#11f621" stroke="none"/>
<path d="M145 343.9L139.7 343.8L135.3 347.1"/>
<path d="M107.2 360.2L111.6 356.6L106.5 356L102.1 359.5Z" fill="#00f87f" stroke="none"/>
<path d="M111.6 356.6L106.5 356L102.1 359.5"/>
<path d="M150.5 343.9L154.8 340.6L149.3 340.6L145 343.9Z" fill="#35f715" stroke="none"/>
<path d="M154.8 340.6L149.3 340.6L145 343.9"/>
<path d="M194.4 326.2L198.6 323.2L192.7 323.9L188.6 326.9Z" fill="#ffd100" stroke="none"/>
<path d="M198.6 323.2L192.7 323.9L188.6 326.9"/>
<path d="M73.9 372.3L78.5 368.5L73.6 367.4L69 371.1Z" fill="#00efe9" stroke="none"/>
<path d="M78.5 368.5L73.6 367.4L69 371.1M73.9 372.3L69 371.1"/>
<path d="M160.3 340.4L164.6 337.2L159.1 337.4L154.8 340.6Z" fill="#71f80f" stroke="none"/>
<path d="M164.6 337.2L159.1 337.4L154.8 340.6"/>
<path d="M116.8 357.1L121.3 353.6L116.1 353.1L111.6 356.6Z" fill="#00f761" stroke="none"/>
<path d="M121.3 353.6L116.1 353.1L111.6 356.6"/>
<path d="M204.5 322.3L208.6 319.3L202.7 320.2L198.6 323.2Z" fill="#ffaf00" stroke="none"/>
<path d="M208.6 319.3L202.7 320.2L198.6 323.2"/>
<path d="M83.4 369.6L88 365.9L83.1 364.9L78.5 368.5Z" fill="#00f5d5" stroke="none"/>
<path d="M88 365.9L83.1 364.9L78.5 368.5"/>
<path d="M126.5 354L131 350.5L125.7 350.2L121.3 353.6Z" fill="#01f63e" stroke="none"/>
<path d="M131 350.5L125.7 350.2L121.3 353.6"/>
<path d="M214.6 318.4L218.7 315.4L212.6 316.5L208.6 319.3Z" fill="#ff8b05" stroke="none"/>
<path d="M218.7 315.4L212.6 316.5L208.6 319.3M214.6 318.4L218.7 315.4"/>
<path d="M170.2 336.9L174.5 333.6L168.8 334L164.6 337.2Z" fill="#b8f801" stroke="none"/>
<path d="M174.5 333.6L168.8 334L164.6 337.2"/>
<path d="M93 366.8L97.6 363.1L92.5 362.2L88 365.9Z" fill="#00f7ad" stroke="none"/>
<path d="M97.6 363.1L92.5 362.2L88 365.9"/>
<path d="M136.3 350.7L140.7 347.2L135.3 347.1L131 350.5Z" fill="#0bf62b" stroke="none"/>
<path d="M140.7 347.2L135.3 347.1L131 350.5"/>
<path d="M180.2 333.2L184.4 330L178.7 330.5L174.5 333.6Z" fill="#f0f500" stroke="none"/>
<path d="M184.4 330L178.7 330.5L174.5 333.6"/>
<path d="M102.7 363.9L107.2 360.2L102.1 359.5L97.6 363.1Z" fill="#00f890" stroke="none"/>
<path d="M107.2 360.2L102.1 359.5L97.6 363.1"/>
<path d="M146.1 347.3L150.5 343.9L145 343.9L140.7 347.2Z" fill="#16f618" stroke="none"/>
<path d="M150.5 343.9L145 343.9L140.7 347.2"/>
<path d="M190.2 329.4L194.4 326.2L188.6 326.9L184.4 330Z" fill="#ffdf00" stroke="none"/>
<path d="M194.4 326.2L188.6 326.9L184.4 330"/>
<path d="M112.4 360.8L116.8 357.1L111.6 356.6L107.2 360.2Z" fill="#00f876" stroke="none"/>
<path d="M116.8 357.1L111.6 356.6L107.2 360.2"/>
<path d="M156 343.8L160.3 340.4L154.8 340.6L150.5 343.9Z" fill="#52f713" stroke="none"/>
<path d="M160.3 340.4L154.8 340.6L150.5 343.9"/>
<path d="M200.3 325.5L204.5 322.3L198.6 323.2L194.4 326.2Z" fill="#ffbd00" stroke="none"/>
<path d="M204.5 322.3L198.6 323.2L194.4 326.2"/>
<path d="M78.8 373.5L83.4 369.6L78.5 368.5L73.9 372.3Z" fill="#00f1e6" stroke="none"/>
<path d="M83.4 369.6L78.5 368.5L73.9 372.3M78.8 373.5L73.9 372.3"/>
<path d="M122.1 357.6L126.5 354L121.3 353.6L116.8 357.1Z" fill="#00f752" stroke="none"/>
<path d="M126.5 354L121.3 353.6L116.8 357.1"/>
<path d="M166 340.2L170.2 336.9L164.6 337.2L160.3 340.4Z" fill="#95f808" stroke="none"/>
<path d="M170.2 336.9L164.6 337.2L160.3 340.4"/>
<path d="M210.5 321.4L214.6 318.4L208.6 319.3L204.5 322.3Z" fill="#ff9a02" stroke="none"/>
<path d="M214.6 318.4L208.6 319.3L204.5 322.3M210.5 321.4L214.6 318.4"/>
<path d="M88.5 370.7L93 366.8L88 365.9L83.4 369.6Z" fill="#00f5ca" stroke="none"/>
<path d="M93 366.8L88 365.9L83.4 369.6"/>
<path d="M131.9 354.3L136.3 350.7L131 350.5L126.5 354Z" fill="#05f636" stroke="none"/>
<path d="M136.3 350.7L131 350.5L126.5 354"/>
<path d="M176 336.5L180.2 333.2L174.5 333.6L170.2 336.9Z" fill="#d6f700" stroke="none"/>
<path d="M180.2 333.2L174.5 333.6L170.2 336.9"/>
<path d="M141.8 350.9L146.1 347.3L140.7 347.2L136.3 350.7Z" fill="#10f623" stroke="none"/>
<path d="M146.1 347.3L140.7 347.2L136.3 350.7"/>
<path d="M98.1 367.7L102.7 363.9L97.6 363.1L93 366.8Z" fill="#00f8a1" stroke="none"/>
<path d="M102.7 363.9L97.6 363.1L93 366.8"/>
<path d="M186 332.7L190.2 329.4L184.4 330L180.2 333.2Z" fill="#fdec00" stroke="none"/>
<path d="M190.2 329.4L184.4 330L180.2 333.2"/>
<path d="M107.8 364.6L112.4 360.8L107.2 360.2L102.7 363.9Z" fill="#00f887" stroke="none"/>
<path d="M112.4 360.8L107.2 360.2L102.7 363.9"/>
<path d="M151.7 347.4L156 343.8L150.5 343.9L146.1 347.3Z" fill="#32f715" stroke="none"/>
<path d="M156 343.8L150.5 343.9L146.1 347.3"/>
<path d="M196.2 328.7L200.3 325.5L194.4 326.2L190.2 329.4Z" fill="#ffcd00" stroke="none"/>
<path d="M200.3 325.5L194.4 326.2L190.2 329.4"/>
<path d="M117.6 361.4L122.1 357.6L116.8 357.1L112.4 360.8Z" fill="#00f86a" stroke="none"/>
<path d="M122.1 357.6L116.8 357.1L112.4 360.8"/>
<path d="M206.4 324.6L210.5 321.4L204.5 322.3L200.3 325.5Z" fill="#ffa900" stroke="none"/>
<path d="M210.5 321.4L204.5 322.3L200.3 325.5M206.4 324.6L210.5 321.4"/>
<path d="M161.6 343.7L166 340.2L160.3 340.4L156 343.8Z" fill="#70f810" stroke="none"/>
<path d="M166 340.2L160.3 340.4L156 343.8"/>
<path d="M83.8 374.6L88.5 370.7L83.4 369.6L78.8 373.5Z" fill="#00f3e2" stroke="none"/>
<path d="M88.5 370.7L83.4 369.6L78.8 373.5M83.8 374.6L78.8 373.5"/>
<path d="M171.7 340L176 336.5L170.2 336.9L166 340.2Z" fill="#baf801" stroke="none"/>
<path d="M176 336.5L170.2 336.9L166 340.2"/>
<path d="M127.4 358L131.9 354.3L126.5 354L122.1 357.6Z" fill="#00f643" stroke="none"/>
<path d="M131.9 354.3L126.5 354L122.1 357.6"/>
<path d="M137.3 354.6L141.8 350.9L136.3 350.7L131.9 354.3Z" fill="#0af62e" stroke="none"/>
<path d="M141.8 350.9L136.3 350.7L131.9 354.3"/>
<path d="M93.5 371.6L98.1 367.7L93 366.8L88.5 370.7Z" fill="#00f6bd" stroke="none"/>
<path d="M98.1 367.7L93 366.8L88.5 370.7"/>
<path d="M181.8 336.1L186 332.7L180.2 333.2L176 336.5Z" fill="#f3f500" stroke="none"/>
<path d="M186 332.7L180.2 333.2L176 336.5"/>
<path d="M147.3 351L151.7 347.4L146.1 347.3L141.8 350.9Z" fill="#15f61a" stroke="none"/>
<path d="M151.7 347.4L146.1 347.3L141.8 350.9"/>
<path d="M103.3 368.5L107.8 364.6L102.7 363.9L98.1 367.7Z" fill="#00f898" stroke="none"/>
<path d="M107.8 364.6L102.7 363.9L98.1 367.7"/>
<path d="M191.9 332.1L196.2 328.7L190.2 329.4L186 332.7Z" fill="#ffdc00" stroke="none"/>
<path d="M196.2 328.7L190.2 329.4L186 332.7"/>
<path d="M113.1 365.2L117.6 361.4L112.4 360.8L107.8 364.6Z" fill="#00f87d" stroke="none"/>
<path d="M117.6 361.4L112.4 360.8L107.8 364.6"/>
<path d="M202.2 328L206.4 324.6L200.3 325.5L196.2 328.7Z" fill="#ffb900" stroke="none"/>
<path d="M206.4 324.6L200.3 325.5L196.2 328.7M202.2 328L206.4 324.6"/>
<path d="M157.3 347.3L161.6 343.7L156 343.8L151.7 347.4Z" fill="#4ff713" stroke="none"/>
<path d="M161.6 343.7L156 343.8L151.7 347.4"/>
<path d="M122.9 361.9L127.4 358L122.1 357.6L117.6 361.4Z" fill="#00f75b" stroke="none"/>
<path d="M127.4 358L122.1 357.6L117.6 361.4"/>
<path d="M167.3 343.5L171.7 340L166 340.2L161.6 343.7Z" fill="#94f808" stroke="none"/>
<path d="M171.7 340L166 340.2L161.6 343.7"/>
<path d="M88.9 375.7L93.5 371.6L88.5 370.7L83.8 374.6Z" fill="#00f4dc" stroke="none"/>
<path d="M93.5 371.6L88.5 370.7L83.8 374.6M88.9 375.7L83.8 374.6"/>
<path d="M132.9 358.4L137.3 354.6L131.9 354.3L127.4 358Z" fill="#04f639" stroke="none"/>
<path d="M137.3 354.6L131.9 354.3L127.4 358"/>
<path d="M177.5 339.6L181.8 336.1L176 336.5L171.7 340Z" fill="#d8f600" stroke="none"/>
<path d="M181.8 336.1L176 336.5L171.7 340"/>
<path d="M98.7 372.5L103.3 368.5L98.1 367.7L93.5 371.6Z" fill="#00f7b0" stroke="none"/>
<path d="M103.3 368.5L98.1 367.7L93.5 371.6"/>
<path d="M142.8 354.8L147.3 351L141.8 350.9L137.3 354.6Z" fill="#0ff625" stroke="none"/>
<path d="M147.3 351L141.8 350.9L137.3 354.6"/>
<path d="M187.7 335.6L191.9 332.1L186 332.7L181.8 336.1Z" fill="#feea00" stroke="none"/>
<path d="M191.9 332.1L186 332.7L181.8 336.1"/>
<path d="M108.5 369.2L113.1 365.2L107.8 364.6L103.3 368.5Z" fill="#00f88f" stroke="none"/>
<path d="M113.1 365.2L107.8 364.6L103.3 368.5"/>
<path d="M152.9 351.1L157.3 347.3L151.7 347.4L147.3 351Z" fill="#2cf716" stroke="none"/>
<path d="M157.3 347.3L151.7 347.4L147.3 351"/>
<path d="M197.9 331.4L202.2 328L196.2 328.7L191.9 332.1Z" fill="#ffc900" stroke="none"/>
<path d="M202.2 328L196.2 328.7L191.9 332.1M197.9 331.4L202.2 328"/>
<path d="M118.4 365.8L122.9 361.9L117.6 361.4L113.1 365.2Z" fill="#00f873" stroke="none"/>
<path d="M122.9 361.9L117.6 361.4L113.1 365.2"/>
<path d="M163 347.2L167.3 343.5L161.6 343.7L157.3 347.3Z" fill="#6df810" stroke="none"/>
<path d="M167.3 343.5L161.6 343.7L157.3 347.3"/>
<path d="M128.4 362.3L132.9 358.4L127.4 358L122.9 361.9Z" fill="#00f64b" stroke="none"/>
<path d="M132.9 358.4L127.4 358L122.9 361.9"/>
<path d="M173.1 343.2L177.5 339.6L171.7 340L167.3 343.5Z" fill="#baf801" stroke="none"/>
<path d="M177.5 339.6L171.7 340L167.3 343.5"/>
<path d="M94.1 376.7L98.7 372.5L93.5 371.6L88.9 375.7Z" fill="#00f5cf" stroke="none"/>
<path d="M98.7 372.5L93.5 371.6L88.9 375.7M94.1 376.7L88.9 375.7"/>
<path d="M138.4 358.7L142.8 354.8L137.3 354.6L132.9 358.4Z" fill="#08f631" stroke="none"/>
<path d="M142.8 354.8L137.3 354.6L132.9 358.4"/>
<path d="M183.4 339.2L187.7 335.6L181.8 336.1L177.5 339.6Z" fill="#f5f400" stroke="none"/>
<path d="M187.7 335.6L181.8 336.1L177.5 339.6"/>
<path d="M103.9 373.4L108.5 369.2L103.3 368.5L98.7 372.5Z" fill="#00f8a2" stroke="none"/>
<path d="M108.5 369.2L103.3 368.5L98.7 372.5"/>
<path d="M148.4 354.9L152.9 351.1L147.3 351L142.8 354.8Z" fill="#14f61c" stroke="none"/>
<path d="M152.9 351.1L147.3 351L142.8 354.8"/>
<path d="M193.7 335L197.9 331.4L191.9 332.1L187.7 335.6Z" fill="#ffd900" stroke="none"/>
<path d="M197.9 331.4L191.9 332.1L187.7 335.6M193.7 335L197.9 331.4"/>
<path d="M158.6 351L163 347.2L157.3 347.3L152.9 351.1Z" fill="#4af713" stroke="none"/>
<path d="M163 347.2L157.3 347.3L152.9 351.1"/>
<path d="M113.8 369.9L118.4 365.8L113.1 365.2L108.5 369.2Z" fill="#00f886" stroke="none"/>
<path d="M118.4 365.8L113.1 365.2L108.5 369.2"/>
<path d="M123.8 366.4L128.4 362.3L122.9 361.9L118.4 365.8Z" fill="#00f866" stroke="none"/>
<path d="M128.4 362.3L122.9 361.9L118.4 365.8"/>
<path d="M168.8 347L173.1 343.2L167.3 343.5L163 347.2Z" fill="#92f809" stroke="none"/>
<path d="M173.1 343.2L167.3 343.5L163 347.2"/>
<path d="M133.9 362.7L138.4 358.7L132.9 358.4L128.4 362.3Z" fill="#01f63d" stroke="none"/>
<path d="M138.4 358.7L132.9 358.4L128.4 362.3"/>
<path d="M179 342.9L183.4 339.2L177.5 339.6L173.1 343.2Z" fill="#d8f600" stroke="none"/>
<path d="M183.4 339.2L177.5 339.6L173.1 343.2"/>
<path d="M99.3 377.6L103.9 373.4L98.7 372.5L94.1 376.7Z" fill="#00f6c2" stroke="none"/>
<path d="M103.9 373.4L98.7 372.5L94.1 376.7M99.3 377.6L94.1 376.7"/>
<path d="M189.4 338.6L193.7 335L187.7 335.6L183.4 339.2Z" fill="#fee900" stroke="none"/>
<path d="M193.7 335L187.7 335.6L183.4 339.2M189.4 338.6L193.7 335"/>
<path d="M143.9 358.9L148.4 354.9L142.8 354.8L138.4 358.7Z" fill="#0df629" stroke="none"/>
<path d="M148.4 354.9L142.8 354.8L138.4 358.7"/>
<path d="M109.2 374.1L113.8 369.9L108.5 369.2L103.9 373.4Z" fill="#00f899" stroke="none"/>
<path d="M113.8 369.9L108.5 369.2L103.9 373.4"/>
<path d="M154.1 355L158.6 351L152.9 351.1L148.4 354.9Z" fill="#25f617" stroke="none"/>
<path d="M158.6 351L152.9 351.1L148.4 354.9"/>
<path d="M119.2 370.5L123.8 366.4L118.4 365.8L113.8 369.9Z" fill="#00f87c" stroke="none"/>
<path d="M123.8 366.4L118.4 365.8L113.8 369.9"/>
<path d="M164.3 350.9L168.8 347L163 347.2L158.6 351Z" fill="#68f811" stroke="none"/>
<path d="M168.8 347L163 347.2L158.6 351"/>
<path d="M129.3 366.8L133.9 362.7L128.4 362.3L123.8 366.4Z" fill="#00f755" stroke="none"/>
<path d="M133.9 362.7L128.4 362.3L123.8 366.4"/>
<path d="M174.6 346.7L179 342.9L173.1 343.2L168.8 347Z" fill="#b7f802" stroke="none"/>
<path d="M179 342.9L173.1 343.2L168.8 347"/>
<path d="M139.4 363L143.9 358.9L138.4 358.7L133.9 362.7Z" fill="#06f635" stroke="none"/>
<path d="M143.9 358.9L138.4 358.7L133.9 362.7"/>
<path d="M185 342.5L189.4 338.6L183.4 339.2L179 342.9Z" fill="#f6f400" stroke="none"/>
<path d="M189.4 338.6L183.4 339.2L179 342.9M185 342.5L189.4 338.6"/>
<path d="M104.6 378.5L109.2 374.1L103.9 373.4L99.3 377.6Z" fill="#00f7b3" stroke="none"/>
<path d="M109.2 374.1L103.9 373.4L99.3 377.6M104.6 378.5L99.3 377.6"/>
<path d="M149.6 359L154.1 355L148.4 354.9L143.9 358.9Z" fill="#12f620" stroke="none"/>
<path d="M154.1 355L148.4 354.9L143.9 358.9"/>
<path d="M114.6 374.8L119.2 370.5L113.8 369.9L109.2 374.1Z" fill="#00f88f" stroke="none"/>
<path d="M119.2 370.5L113.8 369.9L109.2 374.1"/>
<path d="M159.9 354.9L164.3 350.9L158.6 351L154.1 355Z" fill="#43f714" stroke="none"/>
<path d="M164.3 350.9L158.6 351L154.1 355"/>
<path d="M124.7 371.1L129.3 366.8L123.8 366.4L119.2 370.5Z" fill="#00f871" stroke="none"/>
<path d="M129.3 366.8L123.8 366.4L119.2 370.5"/>
<path d="M170.2 350.7L174.6 346.7L168.8 347L164.3 350.9Z" fill="#8cf80a" stroke="none"/>
<path d="M174.6 346.7L168.8 347L164.3 350.9"/>
<path d="M134.9 367.2L139.4 363L133.9 362.7L129.3 366.8Z" fill="#00f645" stroke="none"/>
<path d="M139.4 363L133.9 362.7L129.3 366.8"/>
<path d="M180.6 346.4L185 342.5L179 342.9L174.6 346.7Z" fill="#d6f700" stroke="none"/>
<path d="M185 342.5L179 342.9L174.6 346.7M180.6 346.4L185 342.5"/>
<path d="M145.1 363.2L149.6 359L143.9 358.9L139.4 363Z" fill="#0bf62c" stroke="none"/>
<path d="M149.6 359L143.9 358.9L139.4 363"/>
<path d="M109.9 379.3L114.6 374.8L109.2 374.1L104.6 378.5Z" fill="#00f8a4" stroke="none"/>
<path d="M114.6 374.8L109.2 374.1L104.6 378.5M109.9 379.3L104.6 378.5"/>
<path d="M155.4 359.1L159.9 354.9L154.1 355L149.6 359Z" fill="#1cf617" stroke="none"/>
<path d="M159.9 354.9L154.1 355L149.6 359"/>
<path d="M120.1 375.5L124.7 371.1L119.2 370.5L114.6 374.8Z" fill="#00f885" stroke="none"/>
<path d="M124.7 371.1L119.2 370.5L114.6 374.8"/>
<path d="M165.7 354.8L170.2 350.7L164.3 350.9L159.9 354.9Z" fill="#61f811" stroke="none"/>
<path d="M170.2 350.7L164.3 350.9L159.9 354.9"/>
<path d="M176.2 350.5L180.6 346.4L174.6 346.7L170.2 350.7Z" fill="#b3f803" stroke="none"/>
<path d="M180.6 346.4L174.6 346.7L170.2 350.7M176.2 350.5L180.6 346.4"/>
<path d="M130.3 371.6L134.9 367.2L129.3 366.8L124.7 371.1Z" fill="#00f761" stroke="none"/>
<path d="M134.9 367.2L129.3 366.8L124.7 371.1"/>
<path d="M140.5 367.5L145.1 363.2L139.4 363L134.9 367.2Z" fill="#03f63a" stroke="none"/>
<path d="M145.1 363.2L139.4 363L134.9 367.2"/>
<path d="M150.8 363.4L155.4 359.1L149.6 359L145.1 363.2Z" fill="#10f623" stroke="none"/>
<path d="M155.4 359.1L149.6 359L145.1 363.2"/>
<path d="M115.4 380L120.1 375.5L114.6 374.8L109.9 379.3Z" fill="#00f899" stroke="none"/>
<path d="M120.1 375.5L114.6 374.8L109.9 379.3M115.4 380L109.9 379.3"/>
<path d="M161.2 359.1L165.7 354.8L159.9 354.9L155.4 359.1Z" fill="#3af715" stroke="none"/>
<path d="M165.7 354.8L159.9 354.9L155.4 359.1"/>
<path d="M171.7 354.7L176.2 350.5L170.2 350.7L165.7 354.8Z" fill="#85f80c" stroke="none"/>
<path d="M176.2 350.5L170.2 350.7L165.7 354.8M171.7 354.7L176.2 350.5"/>
<path d="M125.6 376.1L130.3 371.6L124.7 371.1L120.1 375.5Z" fill="#00f87a" stroke="none"/>
<path d="M130.3 371.6L124.7 371.1L120.1 375.5"/>
<path d="M135.9 372L140.5 367.5L134.9 367.2L130.3 371.6Z" fill="#00f750" stroke="none"/>
<path d="M140.5 367.5L134.9 367.2L130.3 371.6"/>
<path d="M146.3 367.8L150.8 363.4L145.1 363.2L140.5 367.5Z" fill="#08f631" stroke="none"/>
<path d="M150.8 363.4L145.1 363.2L140.5 367.5"/>
<path d="M156.7 363.4L161.2 359.1L155.4 359.1L150.8 363.4Z" fill="#15f61a" stroke="none"/>
<path d="M161.2 359.1L155.4 359.1L150.8 363.4"/>
<path d="M120.9 380.7L125.6 376.1L120.1 375.5L115.4 380Z" fill="#00f88f" stroke="none"/>
<path d="M125.6 376.1L120.1 375.5L115.4 380M120.9 380.7L115.4 380"/>
<path d="M167.2 359L171.7 354.7L165.7 354.8L161.2 359.1Z" fill="#59f812" stroke="none"/>
<path d="M171.7 354.7L165.7 354.8L161.2 359.1M167.2 359L171.7 354.7"/>
<path d="M131.2 376.6L135.9 372L130.3 371.6L125.6 376.1Z" fill="#00f86e" stroke="none"/>
<path d="M135.9 372L130.3 371.6L125.6 376.1"/>
<path d="M141.6 372.3L146.3 367.8L140.5 367.5L135.9 372Z" fill="#01f63f" stroke="none"/>
<path d="M146.3 367.8L140.5 367.5L135.9 372"/>
<path d="M152.1 367.9L156.7 363.4L150.8 363.4L146.3 367.8Z" fill="#0df628" stroke="none"/>
<path d="M156.7 363.4L150.8 363.4L146.3 367.8"/>
<path d="M162.6 363.4L167.2 359L161.2 359.1L156.7 363.4Z" fill="#2ff716" stroke="none"/>
<path d="M167.2 359L161.2 359.1L156.7 363.4M162.6 363.4L167.2 359"/>
<path d="M126.6 381.3L131.2 376.6L125.6 376.1L120.9 380.7Z" fill="#00f884" stroke="none"/>
<path d="M131.2 376.6L125.6 376.1L120.9 380.7M126.6 381.3L120.9 380.7"/>
<path d="M137 377L141.6 372.3L135.9 372L131.2 376.6Z" fill="#00f75c" stroke="none"/>
<path d="M141.6 372.3L135.9 372L131.2 376.6"/>
<path d="M147.5 372.6L152.1 367.9L146.3 367.8L141.6 372.3Z" fill="#05f636" stroke="none"/>
<path d="M152.1 367.9L146.3 367.8L141.6 372.3"/>
<path d="M158 368L162.6 363.4L156.7 363.4L152.1 367.9Z" fill="#13f61e" stroke="none"/>
<path d="M162.6 363.4L156.7 363.4L152.1 367.9M158 368L162.6 363.4"/>
<path d="M132.3 381.8L137 377L131.2 376.6L126.6 381.3Z" fill="#00f878" stroke="none"/>
<path d="M137 377L131.2 376.6L126.6 381.3M132.3 381.8L126.6 381.3"/>
<path d="M142.8 377.3L147.5 372.6L141.6 372.3L137 377Z" fill="#00f64a" stroke="none"/>
<path d="M147.5 372.6L141.6 372.3L137 377"/>
<path d="M153.4 372.8L158 368L152.1 367.9L147.5 372.6Z" fill="#0bf62d" stroke="none"/>
<path d="M158 368L152.1 367.9L147.5 372.6M153.4 372.8L158 368"/>
<path d="M138.1 382.2L142.8 377.3L137 377L132.3 381.8Z" fill="#00f86a" stroke="none"/>
<path d="M142.8 377.3L137 377L132.3 381.8M138.1 382.2L132.3 381.8"/>
<path d="M148.7 377.6L153.4 372.8L147.5 372.6L142.8 377.3Z" fill="#02f63c" stroke="none"/>
<path d="M153.4 372.8L147.5 372.6L142.8 377.3M148.7 377.6L153.4 372.8"/>
<path d="M143.9 382.6L148.7 377.6L142.8 377.3L138.1 382.2Z" fill="#00f758" stroke="none"/>
<path d="M148.7 377.6L142.8 377.3L138.1 382.2M143.9 382.6L138.1 382.2M143.9 382.6L148.7 377.6"/>
</g>
<circle cx="249.74" cy="295.55" r="2.1" fill="#e30000" stroke="#8a0000" stroke-width="0.45"/><circle cx="143.95" cy="331.08" r="2.1" fill="#e30000" stroke="#8a0000" stroke-width="0.45"/>
<circle cx="42.32" cy="390.21" r="1.25" fill="#111"/>
<circle cx="41.43" cy="369.98" r="1.25" fill="#111"/>
<circle cx="40.52" cy="349.4" r="1.25" fill="#111"/>
<circle cx="39.6" cy="328.45" r="1.25" fill="#111"/>
<circle cx="38.67" cy="307.12" r="1.25" fill="#111"/>
<circle cx="37.71" cy="285.41" r="1.25" fill="#111"/>
<circle cx="143.95" cy="471.7" r="1.25" fill="#111"/>
<circle cx="168.99" cy="459.69" r="1.25" fill="#111"/>
<circle cx="194.03" cy="447.69" r="1.25" fill="#111"/>
<circle cx="219.07" cy="435.69" r="1.25" fill="#111"/>
<circle cx="244.11" cy="423.69" r="1.25" fill="#111"/>
<circle cx="143.95" cy="471.7" r="1.25" fill="#111"/>
<circle cx="123.92" cy="462.1" r="1.25" fill="#111"/>
<circle cx="103.89" cy="452.49" r="1.25" fill="#111"/>
<circle cx="83.85" cy="442.89" r="1.25" fill="#111"/>
<circle cx="63.82" cy="433.29" r="1.25" fill="#111"/>
<circle cx="43.79" cy="423.69" r="1.25" fill="#111"/>
<circle cx="244.11" cy="423.69" r="1.25" fill="#111"/>
<g font-family="'Liberation Serif', serif" font-size="15.16" fill="#000" stroke="#000" stroke-width="0.35" text-anchor="middle">
<text x="34.15" y="387.13" text-anchor="end">0</text>
<text x="33.26" y="366.9" text-anchor="end">20</text>
<text x="32.36" y="346.32" text-anchor="end">40</text>
<text x="31.44" y="325.37" text-anchor="end">60</text>
<text x="30.5" y="304.04" text-anchor="end">80</text>
<text x="29.55" y="282.33" text-anchor="end">100</text>
<text x="151.69" y="486.01" text-anchor="start">5</text>
<text x="176.73" y="474.01" text-anchor="start">6</text>
<text x="201.77" y="462.01" text-anchor="start">7</text>
<text x="226.81" y="450.01" text-anchor="start">8</text>
<text x="251.85" y="438" text-anchor="start">9</text>
<text x="135.89" y="485.7" text-anchor="end">150</text>
<text x="115.86" y="476.09" text-anchor="end">170</text>
<text x="95.83" y="466.49" text-anchor="end">190</text>
<text x="75.79" y="456.89" text-anchor="end">210</text>
<text x="55.76" y="447.29" text-anchor="end">230</text>
<text x="35.73" y="437.69" text-anchor="end">250</text>
</g>
<g font-family="'Liberation Serif', serif" font-size="12.83" fill="#000" stroke="#000" stroke-width="0.25" text-anchor="middle">
<text x="232.6" y="473.6">x2</text>
<text x="34.8" y="473.6">x3</text>
<text transform="translate(11.75 355) rotate(-90)" font-size="13.6">Remove all rate (%)</text>
</g>
<text x="132.9" y="512.6" font-family="'Liberation Serif', serif" font-size="14" fill="#111" text-anchor="middle">(<tspan font-weight="bold">c</tspan>)</text>
<path d="M351.14 382.85L347.6 278.07M377.21 374.06L374.85 272.03M403.28 365.27L402.1 265.99M429.35 356.48L429.35 259.95M446.73 362.34L447.52 263.98M464.11 368.2L465.68 268.01M481.49 374.06L483.85 272.03M498.87 379.92L502.01 276.06M516.24 385.78L520.18 280.09M325.08 391.64L429.35 356.48L533.62 391.64M324.16 370.88L429.35 337.77L534.54 370.88M323.24 349.76L429.35 318.77L535.46 349.76M322.29 328.27L429.35 299.48L536.41 328.27M321.33 306.39L429.35 279.87L537.37 306.39M320.35 284.11L429.35 259.95L538.35 284.11M532.11 425.99L538.35 284.11" fill="none" stroke="#444" stroke-width="0.8"/>
<polygon points="326.59,425.99 429.35,475.24 532.11,425.99 429.35,387.52" fill="#616161"/>
<polyline points="429.97,474.95 428.39,474.31 426.82,473.66 425.26,473.02 423.71,472.37 422.17,471.73 420.72,471.11" fill="none" stroke="#00ebb9" stroke-width="1.25" stroke-linecap="round"/>
<polyline points="356.37,414.84 356.24,415.14 355.95,415.93 355.9,416.1 355.63,416.99 355.61,417.09 355.4,418.02 355.38,418.12 355.25,419.03 355.23,419.19 355.17,420.01 355.16,420.3 355.16,420.98 355.17,421.46 355.21,421.93 355.28,422.66 355.31,422.86 355.47,423.78 355.5,423.93 355.67,424.68 355.83,425.26 355.93,425.57 356.22,426.45 356.3,426.66 356.56,427.32 356.92,428.14 356.94,428.17 357.36,429.02 357.72,429.71 357.8,429.86 358.29,430.69 358.74,431.39 358.81,431.51 359.36,432.32 359.94,433.13 360,433.21 360.55,433.92 361.19,434.72 361.57,435.17 361.85,435.5 362.55,436.28 363.26,437.06 363.53,437.34 364.01,437.83 364.77,438.59 365.56,439.35 366,439.76 366.37,440.1 367.21,440.85 368.06,441.6 368.94,442.34 369.17,442.53 369.84,443.08 370.76,443.81 371.69,444.54 372.65,445.27 373.4,445.83 373.62,445.99 374.62,446.71 375.63,447.42 376.66,448.14 377.71,448.85 378.77,449.55 379.54,450.05 379.85,450.26 380.95,450.96 382.07,451.66 383.2,452.35 384.35,453.05 385.51,453.74 386.69,454.43 387.88,455.12 389.09,455.8 390.31,456.48 390.98,456.85" fill="none" stroke="#00ebb9" stroke-width="1.25" stroke-linecap="round"/>
<polyline points="445.17,467.66 444.51,467.37 443.67,467 442.19,466.35 440.71,465.69 439.25,465.03 437.8,464.36 436.37,463.7 434.95,463.03 433.54,462.37 432.14,461.7 430.77,461.03 430.76,461.02 429.4,460.35 428.04,459.68 426.71,459 425.38,458.32 424.07,457.64 422.78,456.95 421.5,456.27 420.23,455.58 418.99,454.89 417.75,454.2 416.53,453.5 415.33,452.8 414.15,452.1 413.99,452.01 412.98,451.4 411.83,450.69 410.69,449.98 409.58,449.27 408.48,448.55 407.4,447.83 406.88,447.49 406.33,447.11 405.29,446.38 404.27,445.65 403.26,444.92 402.28,444.18 402.12,444.07 401.31,443.44 400.37,442.69 399.45,441.94 398.61,441.24 398.55,441.19 397.68,440.43 396.83,439.66 396,438.89 395.89,438.78 395.19,438.11 394.42,437.33 393.72,436.6 393.66,436.54 392.94,435.74 392.25,434.94 391.98,434.62 391.58,434.13 390.95,433.31 390.58,432.81 390.35,432.48 389.78,431.65 389.44,431.12 389.24,430.8 388.74,429.95 388.53,429.55 388.28,429.09 387.86,428.21 387.8,428.08 387.49,427.32 387.25,426.68 387.16,426.42 386.87,425.51 386.83,425.36 386.64,424.58 386.55,424.11 386.47,423.63 386.37,422.91 386.35,422.67 386.29,421.76 386.29,421.69 386.31,420.68 386.31,420.66 386.4,419.65 386.4,419.6 386.57,418.59 386.58,418.58 386.82,417.6 386.84,417.51 387.12,416.65 387.22,416.38 387.49,415.73 387.72,415.22 387.9,414.84 388.35,414.01 388.37,413.97 388.88,413.14 389.15,412.75 389.44,412.32 390.04,411.53 390.14,411.42 390.68,410.76 391.35,410.01 391.37,410 392.07,409.28 392.81,408.57 392.93,408.46 393.58,407.88 394.38,407.2 394.92,406.77 395.21,406.54 396.07,405.89 396.96,405.26 397.56,404.84 397.86,404.64 398.79,404.03 399.75,403.44 400.72,402.85 401.37,402.48 401.71,402.28 402.73,401.73 403.76,401.18 404.81,400.64 405.88,400.11 406.96,399.6 408.06,399.09 408.78,398.77 409.18,398.59 410.31,398.1 411.46,397.62 412.62,397.15 413.8,396.68 414.98,396.22 416.19,395.78 417.4,395.33 418.62,394.9 419.86,394.47 421.11,394.05 422.08,393.73 422.37,393.64 423.64,393.23 424.93,392.83 426.22,392.44 427.52,392.05 428.83,391.66 430.16,391.29 431.49,390.92 432.74,390.57 432.83,390.55 434.18,390.19 435.54,389.83" fill="none" stroke="#00eb44" stroke-width="1.25" stroke-linecap="round"/>
<polyline points="461.59,459.79 460.2,459.11 458.98,458.5 458.83,458.43 457.47,457.74 456.12,457.05 454.79,456.36 453.48,455.67 452.18,454.97 450.9,454.27 449.63,453.57 448.38,452.87 447.15,452.16 446.23,451.62 445.93,451.45 444.74,450.73 443.56,450.02 442.4,449.29 441.25,448.57 440.13,447.84 439.59,447.48 439.03,447.11 437.95,446.37 436.88,445.63 435.84,444.88 435.01,444.28 434.82,444.13 433.82,443.37 432.85,442.61 431.9,441.85 431.58,441.59 430.97,441.08 430.07,440.3 429.19,439.51 428.9,439.25 428.34,438.72 427.52,437.92 426.75,437.15 426.72,437.12 425.96,436.31 425.22,435.49 425.01,435.25 424.52,434.66 423.85,433.82 423.6,433.5 423.21,432.97 422.61,432.12 422.45,431.87 422.06,431.25 421.53,430.37 421.53,430.35 421.06,429.47 420.79,428.92 420.63,428.56 420.25,427.64 420.22,427.57 419.92,426.71 419.79,426.29 419.64,425.75 419.49,425.07 419.43,424.78 419.29,423.91 419.28,423.78 419.2,422.79 419.2,422.76 419.2,421.72 419.2,421.72 419.28,420.69 419.29,420.64 419.44,419.7 419.48,419.53 419.67,418.75 419.78,418.39 419.96,417.82 420.2,417.2 420.32,416.93 420.72,416.06 420.78,415.95 421.18,415.22 421.53,414.64 421.68,414.41 422.23,413.62 422.51,413.25 422.82,412.85 423.45,412.1 423.77,411.75 424.12,411.37 424.83,410.66 425.4,410.12 425.56,409.96 426.33,409.29 427.13,408.63 427.59,408.27 427.96,407.98 428.81,407.35 429.69,406.74 430.6,406.13 430.72,406.06 431.53,405.54 432.48,404.97 433.46,404.4 434.45,403.85 435.47,403.3 436.18,402.94 436.5,402.77 437.55,402.25 438.63,401.73 439.71,401.23 440.82,400.74 441.94,400.25 443.08,399.78 444.23,399.31 445.4,398.85 446.58,398.4 447.78,397.96 448.98,397.52 450.21,397.09 451.44,396.67 452.69,396.25" fill="none" stroke="#31eb00" stroke-width="1.25" stroke-linecap="round"/>
<polyline points="479.88,451.02 478.65,450.3 477.93,449.87 477.43,449.57 476.24,448.83 475.07,448.09 473.92,447.35 472.79,446.6 472.51,446.42 471.68,445.85 470.59,445.09 469.53,444.32 468.55,443.6 468.49,443.55 467.48,442.78 466.49,441.99 465.52,441.2 465.49,441.18 464.59,440.41 463.68,439.6 463.06,439.04 462.8,438.79 461.95,437.97 461.13,437.14 461.1,437.1 460.35,436.3 459.6,435.45 459.49,435.33 458.89,434.59 458.21,433.72 458.19,433.69 457.58,432.84 457.12,432.17 456.98,431.94 456.44,431.03 456.27,430.73 455.94,430.11 455.59,429.38 455.49,429.16 455.1,428.2 455.06,428.1 454.77,427.22 454.67,426.89 454.51,426.22 454.4,425.73 454.31,425.19 454.24,424.62 454.2,424.13 454.18,423.55 454.18,423.05 454.2,422.53 454.25,421.92 454.3,421.55 454.44,420.76 454.48,420.6 454.72,419.68 454.77,419.54 455.03,418.8 455.25,418.27 455.4,417.94 455.82,417.11 455.93,416.92 456.29,416.31 456.81,415.52 456.84,415.48 457.37,414.76 457.97,414.03 458.07,413.91 458.62,413.31 459.3,412.6 459.75,412.17 460.01,411.92 460.76,411.26 461.54,410.6 462.13,410.15 462.35,409.97 463.19,409.35 464.06,408.74 464.95,408.15 465.87,407.57 465.9,407.55 466.82,407 467.78,406.45 468.77,405.9 469.78,405.37 470.81,404.85 471.86,404.33 472.93,403.83" fill="none" stroke="#a5eb00" stroke-width="1.25" stroke-linecap="round"/>
<polyline points="501.5,440.66 501.29,440.49 500.56,439.83 499.65,439 499.2,438.57 498.77,438.15 497.93,437.29 497.49,436.82 497.13,436.42 496.37,435.53 496.09,435.2 495.65,434.63 494.97,433.72 494.95,433.7 494.34,432.79 494.03,432.29 493.77,431.85 493.28,430.96 493.25,430.88 492.79,429.9 492.7,429.7 492.39,428.88 492.27,428.5 492.07,427.85 491.95,427.37 491.83,426.78 491.75,426.28 491.68,425.68 491.65,425.23 491.63,424.54 491.64,424.23 491.7,423.36 491.71,423.27 491.86,422.34 491.91,422.12 492.08,421.44 492.29,420.81 492.37,420.58 492.72,419.74 492.87,419.42 493.12,418.93 493.57,418.14 493.71,417.92 494.08,417.38 494.63,416.63 494.92,416.28 495.22,415.91 495.86,415.21 496.53,414.53 496.66,414.4 497.24,413.86 497.98,413.21" fill="none" stroke="#ebbb00" stroke-width="1.25" stroke-linecap="round"/>
<polyline points="326.59,425.99 429.35,475.24 532.11,425.99" fill="none" stroke="#222" stroke-width="0.8"/>
<path d="M326.59 425.99L320.35 284.11" stroke="#222" stroke-width="0.9"/>
<circle cx="324.02" cy="367.63" r="2.1" fill="#f7baba" stroke="#b87878" stroke-width="0.45"/>
<g stroke="#000a14" stroke-opacity="0.7" stroke-width="0.55" stroke-linejoin="round" fill="none">
<path d="M430.3 319.4L434.1 318.8L429.4 320.5L425.6 321Z" fill="#00f88c" stroke="none"/>
<path d="M434.1 318.8L429.4 320.5L425.6 321"/>
<path d="M426.5 320.1L430.3 319.4L425.6 321L421.8 321.6Z" fill="#00f888" stroke="none"/>
<path d="M430.3 319.4L425.6 321L421.8 321.6"/>
<path d="M435.1 317.9L438.9 317.2L434.1 318.8L430.3 319.4Z" fill="#00f872" stroke="none"/>
<path d="M438.9 317.2L434.1 318.8L430.3 319.4"/>
<path d="M422.6 320.9L426.5 320.1L421.8 321.6L417.9 322.3Z" fill="#00f884" stroke="none"/>
<path d="M426.5 320.1L421.8 321.6L417.9 322.3"/>
<path d="M431.3 318.7L435.1 317.9L430.3 319.4L426.5 320.1Z" fill="#00f86e" stroke="none"/>
<path d="M435.1 317.9L430.3 319.4L426.5 320.1"/>
<path d="M440 316.4L443.8 315.6L438.9 317.2L435.1 317.9Z" fill="#00f750" stroke="none"/>
<path d="M443.8 315.6L438.9 317.2L435.1 317.9"/>
<path d="M418.7 321.8L422.6 320.9L417.9 322.3L414 323.2Z" fill="#00f882" stroke="none"/>
<path d="M422.6 320.9L417.9 322.3L414 323.2"/>
<path d="M427.4 319.6L431.3 318.7L426.5 320.1L422.6 320.9Z" fill="#00f86b" stroke="none"/>
<path d="M431.3 318.7L426.5 320.1L422.6 320.9"/>
<path d="M436.1 317.3L440 316.4L435.1 317.9L431.3 318.7Z" fill="#00f64c" stroke="none"/>
<path d="M440 316.4L435.1 317.9L431.3 318.7"/>
<path d="M444.9 315.1L448.7 314.2L443.8 315.6L440 316.4Z" fill="#05f637" stroke="none"/>
<path d="M448.7 314.2L443.8 315.6L440 316.4"/>
<path d="M414.8 322.9L418.7 321.8L414 323.2L410.1 324.1Z" fill="#00f880" stroke="none"/>
<path d="M418.7 321.8L414 323.2L410.1 324.1"/>
<path d="M423.5 320.6L427.4 319.6L422.6 320.9L418.7 321.8Z" fill="#00f868" stroke="none"/>
<path d="M427.4 319.6L422.6 320.9L418.7 321.8"/>
<path d="M432.3 318.3L436.1 317.3L431.3 318.7L427.4 319.6Z" fill="#00f649" stroke="none"/>
<path d="M436.1 317.3L431.3 318.7L427.4 319.6"/>
<path d="M441.1 316L444.9 315.1L440 316.4L436.1 317.3Z" fill="#06f635" stroke="none"/>
<path d="M444.9 315.1L440 316.4L436.1 317.3"/>
<path d="M410.8 324L414.8 322.9L410.1 324.1L406.1 325.1Z" fill="#00f87f" stroke="none"/>
<path d="M414.8 322.9L410.1 324.1L406.1 325.1"/>
<path d="M449.9 313.8L453.7 312.8L448.7 314.2L444.9 315.1Z" fill="#0ef627" stroke="none"/>
<path d="M453.7 312.8L448.7 314.2L444.9 315.1"/>
<path d="M419.6 321.7L423.5 320.6L418.7 321.8L414.8 322.9Z" fill="#00f866" stroke="none"/>
<path d="M423.5 320.6L418.7 321.8L414.8 322.9"/>
<path d="M428.4 319.4L432.3 318.3L427.4 319.6L423.5 320.6Z" fill="#00f647" stroke="none"/>
<path d="M432.3 318.3L427.4 319.6L423.5 320.6"/>
<path d="M437.2 317.1L441.1 316L436.1 317.3L432.3 318.3Z" fill="#06f635" stroke="none"/>
<path d="M441.1 316L436.1 317.3L432.3 318.3"/>
<path d="M406.8 325.2L410.8 324L406.1 325.1L402.1 326.3Z" fill="#00f87f" stroke="none"/>
<path d="M410.8 324L406.1 325.1L402.1 326.3"/>
<path d="M446.1 314.8L449.9 313.8L444.9 315.1L441.1 316Z" fill="#0ef626" stroke="none"/>
<path d="M449.9 313.8L444.9 315.1L441.1 316"/>
<path d="M415.6 322.9L419.6 321.7L414.8 322.9L410.8 324Z" fill="#00f866" stroke="none"/>
<path d="M419.6 321.7L414.8 322.9L410.8 324"/>
<path d="M455 312.5L458.8 311.5L453.7 312.8L449.9 313.8Z" fill="#18f618" stroke="none"/>
<path d="M458.8 311.5L453.7 312.8L449.9 313.8"/>
<path d="M424.4 320.6L428.4 319.4L423.5 320.6L419.6 321.7Z" fill="#00f647" stroke="none"/>
<path d="M428.4 319.4L423.5 320.6L419.6 321.7"/>
<path d="M433.3 318.3L437.2 317.1L432.3 318.3L428.4 319.4Z" fill="#06f634" stroke="none"/>
<path d="M437.2 317.1L432.3 318.3L428.4 319.4"/>
<path d="M402.8 326.5L406.8 325.2L402.1 326.3L398.1 327.5Z" fill="#00f87f" stroke="none"/>
<path d="M406.8 325.2L402.1 326.3L398.1 327.5"/>
<path d="M442.2 316L446.1 314.8L441.1 316L437.2 317.1Z" fill="#0ff626" stroke="none"/>
<path d="M446.1 314.8L441.1 316L437.2 317.1"/>
<path d="M411.6 324.2L415.6 322.9L410.8 324L406.8 325.2Z" fill="#00f866" stroke="none"/>
<path d="M415.6 322.9L410.8 324L406.8 325.2"/>
<path d="M451.1 313.7L455 312.5L449.9 313.8L446.1 314.8Z" fill="#19f618" stroke="none"/>
<path d="M455 312.5L449.9 313.8L446.1 314.8"/>
<path d="M420.5 321.9L424.4 320.6L419.6 321.7L415.6 322.9Z" fill="#00f647" stroke="none"/>
<path d="M424.4 320.6L419.6 321.7L415.6 322.9"/>
<path d="M460.1 311.4L463.9 310.2L458.8 311.5L455 312.5Z" fill="#46f714" stroke="none"/>
<path d="M463.9 310.2L458.8 311.5L455 312.5"/>
<path d="M429.4 319.6L433.3 318.3L428.4 319.4L424.4 320.6Z" fill="#06f635" stroke="none"/>
<path d="M433.3 318.3L428.4 319.4L424.4 320.6"/>
<path d="M398.7 328L402.8 326.5L398.1 327.5L394 328.9Z" fill="#00f881" stroke="none"/>
<path d="M402.8 326.5L398.1 327.5L394 328.9"/>
<path d="M438.3 317.3L442.2 316L437.2 317.1L433.3 318.3Z" fill="#0ef626" stroke="none"/>
<path d="M442.2 316L437.2 317.1L433.3 318.3"/>
<path d="M407.6 325.7L411.6 324.2L406.8 325.2L402.8 326.5Z" fill="#00f868" stroke="none"/>
<path d="M411.6 324.2L406.8 325.2L402.8 326.5"/>
<path d="M447.3 314.9L451.1 313.7L446.1 314.8L442.2 316Z" fill="#19f618" stroke="none"/>
<path d="M451.1 313.7L446.1 314.8L442.2 316"/>
<path d="M416.4 323.3L420.5 321.9L415.6 322.9L411.6 324.2Z" fill="#00f649" stroke="none"/>
<path d="M420.5 321.9L415.6 322.9L411.6 324.2"/>
<path d="M456.3 312.6L460.1 311.4L455 312.5L451.1 313.7Z" fill="#46f714" stroke="none"/>
<path d="M460.1 311.4L455 312.5L451.1 313.7"/>
<path d="M425.4 321L429.4 319.6L424.4 320.6L420.5 321.9Z" fill="#06f635" stroke="none"/>
<path d="M429.4 319.6L424.4 320.6L420.5 321.9"/>
<path d="M465.3 310.3L469.1 309.1L463.9 310.2L460.1 311.4Z" fill="#74f80f" stroke="none"/>
<path d="M469.1 309.1L463.9 310.2L460.1 311.4"/>
<path d="M394.6 329.6L398.7 328L394 328.9L389.9 330.3Z" fill="#00f883" stroke="none"/>
<path d="M398.7 328L394 328.9L389.9 330.3"/>
<path d="M434.3 318.6L438.3 317.3L433.3 318.3L429.4 319.6Z" fill="#0ef627" stroke="none"/>
<path d="M438.3 317.3L433.3 318.3L429.4 319.6"/>
<path d="M403.5 327.2L407.6 325.7L402.8 326.5L398.7 328Z" fill="#00f86b" stroke="none"/>
<path d="M407.6 325.7L402.8 326.5L398.7 328"/>
<path d="M443.3 316.3L447.3 314.9L442.2 316L438.3 317.3Z" fill="#17f618" stroke="none"/>
<path d="M447.3 314.9L442.2 316L438.3 317.3"/>
<path d="M412.4 324.8L416.4 323.3L411.6 324.2L407.6 325.7Z" fill="#00f64c" stroke="none"/>
<path d="M416.4 323.3L411.6 324.2L407.6 325.7"/>
<path d="M452.4 314L456.3 312.6L451.1 313.7L447.3 314.9Z" fill="#44f714" stroke="none"/>
<path d="M456.3 312.6L451.1 313.7L447.3 314.9"/>
<path d="M421.4 322.5L425.4 321L420.5 321.9L416.4 323.3Z" fill="#05f637" stroke="none"/>
<path d="M425.4 321L420.5 321.9L416.4 323.3"/>
<path d="M461.5 311.7L465.3 310.3L460.1 311.4L456.3 312.6Z" fill="#71f80f" stroke="none"/>
<path d="M465.3 310.3L460.1 311.4L456.3 312.6"/>
<path d="M390.5 331.2L394.6 329.6L389.9 330.3L385.8 331.9Z" fill="#00f886" stroke="none"/>
<path d="M394.6 329.6L389.9 330.3L385.8 331.9"/>
<path d="M430.4 320.1L434.3 318.6L429.4 319.6L425.4 321Z" fill="#0df628" stroke="none"/>
<path d="M434.3 318.6L429.4 319.6L425.4 321"/>
<path d="M470.6 309.3L474.4 308L469.1 309.1L465.3 310.3Z" fill="#a6f805" stroke="none"/>
<path d="M474.4 308L469.1 309.1L465.3 310.3"/>
<path d="M399.4 328.8L403.5 327.2L398.7 328L394.6 329.6Z" fill="#00f86f" stroke="none"/>
<path d="M403.5 327.2L398.7 328L394.6 329.6"/>
<path d="M439.4 317.8L443.3 316.3L438.3 317.3L434.3 318.6Z" fill="#15f619" stroke="none"/>
<path d="M443.3 316.3L438.3 317.3L434.3 318.6"/>
<path d="M408.3 326.5L412.4 324.8L407.6 325.7L403.5 327.2Z" fill="#00f750" stroke="none"/>
<path d="M412.4 324.8L407.6 325.7L403.5 327.2"/>
<path d="M448.5 315.4L452.4 314L447.3 314.9L443.3 316.3Z" fill="#40f714" stroke="none"/>
<path d="M452.4 314L447.3 314.9L443.3 316.3"/>
<path d="M417.3 324.1L421.4 322.5L416.4 323.3L412.4 324.8Z" fill="#04f638" stroke="none"/>
<path d="M421.4 322.5L416.4 323.3L412.4 324.8"/>
<path d="M457.6 313.1L461.5 311.7L456.3 312.6L452.4 314Z" fill="#6df810" stroke="none"/>
<path d="M461.5 311.7L456.3 312.6L452.4 314"/>
<path d="M386.3 333L390.5 331.2L385.8 331.9L381.6 333.6Z" fill="#00f889" stroke="none"/>
<path d="M390.5 331.2L385.8 331.9L381.6 333.6"/>
<path d="M466.8 310.8L470.6 309.3L465.3 310.3L461.5 311.7Z" fill="#a2f806" stroke="none"/>
<path d="M470.6 309.3L465.3 310.3L461.5 311.7"/>
<path d="M426.3 321.7L430.4 320.1L425.4 321L421.4 322.5Z" fill="#0cf62a" stroke="none"/>
<path d="M430.4 320.1L425.4 321L421.4 322.5"/>
<path d="M395.2 330.6L399.4 328.8L394.6 329.6L390.5 331.2Z" fill="#00f873" stroke="none"/>
<path d="M399.4 328.8L394.6 329.6L390.5 331.2"/>
<path d="M435.4 319.4L439.4 317.8L434.3 318.6L430.4 320.1Z" fill="#14f61b" stroke="none"/>
<path d="M439.4 317.8L434.3 318.6L430.4 320.1"/>
<path d="M476 308.4L479.8 307L474.4 308L470.6 309.3Z" fill="#d0f700" stroke="none"/>
<path d="M479.8 307L474.4 308L470.6 309.3"/>
<path d="M404.2 328.2L408.3 326.5L403.5 327.2L399.4 328.8Z" fill="#00f755" stroke="none"/>
<path d="M408.3 326.5L403.5 327.2L399.4 328.8"/>
<path d="M444.5 317L448.5 315.4L443.3 316.3L439.4 317.8Z" fill="#3bf715" stroke="none"/>
<path d="M448.5 315.4L443.3 316.3L439.4 317.8"/>
<path d="M413.2 325.8L417.3 324.1L412.4 324.8L408.3 326.5Z" fill="#03f63b" stroke="none"/>
<path d="M417.3 324.1L412.4 324.8L408.3 326.5"/>
<path d="M453.7 314.6L457.6 313.1L452.4 314L448.5 315.4Z" fill="#68f811" stroke="none"/>
<path d="M457.6 313.1L452.4 314L448.5 315.4"/>
<path d="M462.9 312.3L466.8 310.8L461.5 311.7L457.6 313.1Z" fill="#9cf807" stroke="none"/>
<path d="M466.8 310.8L461.5 311.7L457.6 313.1"/>
<path d="M382 334.9L386.3 333L381.6 333.6L377.4 335.4Z" fill="#00f88e" stroke="none"/>
<path d="M386.3 333L381.6 333.6L377.4 335.4"/>
<path d="M422.3 323.4L426.3 321.7L421.4 322.5L417.3 324.1Z" fill="#0bf62c" stroke="none"/>
<path d="M426.3 321.7L421.4 322.5L417.3 324.1"/>
<path d="M391 332.5L395.2 330.6L390.5 331.2L386.3 333Z" fill="#00f878" stroke="none"/>
<path d="M395.2 330.6L390.5 331.2L386.3 333"/>
<path d="M431.4 321L435.4 319.4L430.4 320.1L426.3 321.7Z" fill="#13f61d" stroke="none"/>
<path d="M435.4 319.4L430.4 320.1L426.3 321.7"/>
<path d="M472.1 310L476 308.4L470.6 309.3L466.8 310.8Z" fill="#cbf700" stroke="none"/>
<path d="M476 308.4L470.6 309.3L466.8 310.8"/>
<path d="M400 330L404.2 328.2L399.4 328.8L395.2 330.6Z" fill="#00f75b" stroke="none"/>
<path d="M404.2 328.2L399.4 328.8L395.2 330.6"/>
<path d="M440.5 318.7L444.5 317L439.4 317.8L435.4 319.4Z" fill="#34f715" stroke="none"/>
<path d="M444.5 317L439.4 317.8L435.4 319.4"/>
<path d="M481.4 307.6L485.2 306.1L479.8 307L476 308.4Z" fill="#f1f500" stroke="none"/>
<path d="M485.2 306.1L479.8 307L476 308.4"/>
<path d="M409.1 327.6L413.2 325.8L408.3 326.5L404.2 328.2Z" fill="#01f63e" stroke="none"/>
<path d="M413.2 325.8L408.3 326.5L404.2 328.2"/>
<path d="M449.7 316.3L453.7 314.6L448.5 315.4L444.5 317Z" fill="#61f811" stroke="none"/>
<path d="M453.7 314.6L448.5 315.4L444.5 317"/>
<path d="M377.8 336.9L382 334.9L377.4 335.4L373.1 337.3Z" fill="#00f893" stroke="none"/>
<path d="M382 334.9L377.4 335.4L373.1 337.3"/>
<path d="M418.2 325.2L422.3 323.4L417.3 324.1L413.2 325.8Z" fill="#09f62f" stroke="none"/>
<path d="M422.3 323.4L417.3 324.1L413.2 325.8"/>
<path d="M458.9 313.9L462.9 312.3L457.6 313.1L453.7 314.6Z" fill="#94f809" stroke="none"/>
<path d="M462.9 312.3L457.6 313.1L453.7 314.6"/>
<path d="M386.8 334.5L391 332.5L386.3 333L382 334.9Z" fill="#00f87d" stroke="none"/>
<path d="M391 332.5L386.3 333L382 334.9"/>
<path d="M427.3 322.8L431.4 321L426.3 321.7L422.3 323.4Z" fill="#12f620" stroke="none"/>
<path d="M431.4 321L426.3 321.7L422.3 323.4"/>
<path d="M468.2 311.6L472.1 310L466.8 310.8L462.9 312.3Z" fill="#c6f800" stroke="none"/>
<path d="M472.1 310L466.8 310.8L462.9 312.3"/>
<path d="M395.8 332L400 330L395.2 330.6L391 332.5Z" fill="#00f762" stroke="none"/>
<path d="M400 330L395.2 330.6L391 332.5"/>
<path d="M436.5 320.5L440.5 318.7L435.4 319.4L431.4 321Z" fill="#2cf616" stroke="none"/>
<path d="M440.5 318.7L435.4 319.4L431.4 321"/>
<path d="M477.5 309.2L481.4 307.6L476 308.4L472.1 310Z" fill="#ecf500" stroke="none"/>
<path d="M481.4 307.6L476 308.4L472.1 310"/>
<path d="M404.9 329.6L409.1 327.6L404.2 328.2L400 330Z" fill="#00f643" stroke="none"/>
<path d="M409.1 327.6L404.2 328.2L400 330"/>
<path d="M445.7 318.1L449.7 316.3L444.5 317L440.5 318.7Z" fill="#59f812" stroke="none"/>
<path d="M449.7 316.3L444.5 317L440.5 318.7"/>
<path d="M486.9 306.9L490.7 305.3L485.2 306.1L481.4 307.6Z" fill="#feea00" stroke="none"/>
<path d="M490.7 305.3L485.2 306.1L481.4 307.6"/>
<path d="M455 315.7L458.9 313.9L453.7 314.6L449.7 316.3Z" fill="#8af80a" stroke="none"/>
<path d="M458.9 313.9L453.7 314.6L449.7 316.3"/>
<path d="M373.5 339L377.8 336.9L373.1 337.3L368.8 339.4Z" fill="#00f89a" stroke="none"/>
<path d="M377.8 336.9L373.1 337.3L368.8 339.4"/>
<path d="M414 327.2L418.2 325.2L413.2 325.8L409.1 327.6Z" fill="#08f632" stroke="none"/>
<path d="M418.2 325.2L413.2 325.8L409.1 327.6"/>
<path d="M423.2 324.7L427.3 322.8L422.3 323.4L418.2 325.2Z" fill="#10f623" stroke="none"/>
<path d="M427.3 322.8L422.3 323.4L418.2 325.2"/>
<path d="M382.5 336.6L386.8 334.5L382 334.9L377.8 336.9Z" fill="#00f883" stroke="none"/>
<path d="M386.8 334.5L382 334.9L377.8 336.9"/>
<path d="M464.3 313.3L468.2 311.6L462.9 312.3L458.9 313.9Z" fill="#bff800" stroke="none"/>
<path d="M468.2 311.6L462.9 312.3L458.9 313.9"/>
<path d="M391.6 334.1L395.8 332L391 332.5L386.8 334.5Z" fill="#00f86b" stroke="none"/>
<path d="M395.8 332L391 332.5L386.8 334.5"/>
<path d="M432.4 322.3L436.5 320.5L431.4 321L427.3 322.8Z" fill="#22f617" stroke="none"/>
<path d="M436.5 320.5L431.4 321L427.3 322.8"/>
<path d="M473.6 311L477.5 309.2L472.1 310L468.2 311.6Z" fill="#e5f600" stroke="none"/>
<path d="M477.5 309.2L472.1 310L468.2 311.6"/>
<path d="M400.7 331.6L404.9 329.6L400 330L395.8 332Z" fill="#00f64b" stroke="none"/>
<path d="M404.9 329.6L400 330L395.8 332"/>
<path d="M441.7 319.9L445.7 318.1L440.5 318.7L436.5 320.5Z" fill="#4ff713" stroke="none"/>
<path d="M445.7 318.1L440.5 318.7L436.5 320.5"/>
<path d="M483 308.6L486.9 306.9L481.4 307.6L477.5 309.2Z" fill="#fded00" stroke="none"/>
<path d="M486.9 306.9L481.4 307.6L477.5 309.2"/>
<path d="M451 317.5L455 315.7L449.7 316.3L445.7 318.1Z" fill="#7ff80d" stroke="none"/>
<path d="M455 315.7L449.7 316.3L445.7 318.1"/>
<path d="M369.2 341.3L373.5 339L368.8 339.4L364.5 341.5Z" fill="#00f8a1" stroke="none"/>
<path d="M373.5 339L368.8 339.4L364.5 341.5"/>
<path d="M409.9 329.2L414 327.2L409.1 327.6L404.9 329.6Z" fill="#05f636" stroke="none"/>
<path d="M414 327.2L409.1 327.6L404.9 329.6"/>
<path d="M492.5 306.2L496.3 304.5L490.7 305.3L486.9 306.9Z" fill="#ffd900" stroke="none"/>
<path d="M496.3 304.5L490.7 305.3L486.9 306.9"/>
<path d="M378.2 338.8L382.5 336.6L377.8 336.9L373.5 339Z" fill="#00f88a" stroke="none"/>
<path d="M382.5 336.6L377.8 336.9L373.5 339"/>
<path d="M419.1 326.8L423.2 324.7L418.2 325.2L414 327.2Z" fill="#0ef627" stroke="none"/>
<path d="M423.2 324.7L418.2 325.2L414 327.2"/>
<path d="M460.3 315.2L464.3 313.3L458.9 313.9L455 315.7Z" fill="#b3f802" stroke="none"/>
<path d="M464.3 313.3L458.9 313.9L455 315.7"/>
<path d="M387.3 336.3L391.6 334.1L386.8 334.5L382.5 336.6Z" fill="#00f873" stroke="none"/>
<path d="M391.6 334.1L386.8 334.5L382.5 336.6"/>
<path d="M428.3 324.3L432.4 322.3L427.3 322.8L423.2 324.7Z" fill="#16f618" stroke="none"/>
<path d="M432.4 322.3L427.3 322.8L423.2 324.7"/>
<path d="M469.7 312.8L473.6 311L468.2 311.6L464.3 313.3Z" fill="#ddf600" stroke="none"/>
<path d="M473.6 311L468.2 311.6L464.3 313.3"/>
<path d="M396.5 333.8L400.7 331.6L395.8 332L391.6 334.1Z" fill="#00f754" stroke="none"/>
<path d="M400.7 331.6L395.8 332L391.6 334.1"/>
<path d="M437.6 321.9L441.7 319.9L436.5 320.5L432.4 322.3Z" fill="#44f714" stroke="none"/>
<path d="M441.7 319.9L436.5 320.5L432.4 322.3"/>
<path d="M479.1 310.4L483 308.6L477.5 309.2L473.6 311Z" fill="#fdf100" stroke="none"/>
<path d="M483 308.6L477.5 309.2L473.6 311"/>
<path d="M364.8 343.6L369.2 341.3L364.5 341.5L360.1 343.8Z" fill="#00f7ad" stroke="none"/>
<path d="M369.2 341.3L364.5 341.5L360.1 343.8"/>
<path d="M405.7 331.4L409.9 329.2L404.9 329.6L400.7 331.6Z" fill="#03f63a" stroke="none"/>
<path d="M409.9 329.2L404.9 329.6L400.7 331.6"/>
<path d="M446.9 319.5L451 317.5L445.7 318.1L441.7 319.9Z" fill="#72f80f" stroke="none"/>
<path d="M451 317.5L445.7 318.1L441.7 319.9"/>
<path d="M488.6 308L492.5 306.2L486.9 306.9L483 308.6Z" fill="#ffde00" stroke="none"/>
<path d="M492.5 306.2L486.9 306.9L483 308.6"/>
<path d="M373.9 341.1L378.2 338.8L373.5 339L369.2 341.3Z" fill="#00f891" stroke="none"/>
<path d="M378.2 338.8L373.5 339L369.2 341.3"/>
<path d="M414.9 328.9L419.1 326.8L414 327.2L409.9 329.2Z" fill="#0bf62b" stroke="none"/>
<path d="M419.1 326.8L414 327.2L409.9 329.2"/>
<path d="M456.3 317.1L460.3 315.2L455 315.7L451 317.5Z" fill="#a6f805" stroke="none"/>
<path d="M460.3 315.2L455 315.7L451 317.5"/>
<path d="M498.1 305.7L502 303.9L496.3 304.5L492.5 306.2Z" fill="#ffc800" stroke="none"/>
<path d="M502 303.9L496.3 304.5L492.5 306.2"/>
<path d="M383 338.6L387.3 336.3L382.5 336.6L378.2 338.8Z" fill="#00f87b" stroke="none"/>
<path d="M387.3 336.3L382.5 336.6L378.2 338.8"/>
<path d="M424.2 326.5L428.3 324.3L423.2 324.7L419.1 326.8Z" fill="#14f61c" stroke="none"/>
<path d="M428.3 324.3L423.2 324.7L419.1 326.8"/>
<path d="M465.7 314.7L469.7 312.8L464.3 313.3L460.3 315.2Z" fill="#d3f700" stroke="none"/>
<path d="M469.7 312.8L464.3 313.3L460.3 315.2"/>
<path d="M433.5 324L437.6 321.9L432.4 322.3L428.3 324.3Z" fill="#37f715" stroke="none"/>
<path d="M437.6 321.9L432.4 322.3L428.3 324.3"/>
<path d="M392.2 336.1L396.5 333.8L391.6 334.1L387.3 336.3Z" fill="#00f75f" stroke="none"/>
<path d="M396.5 333.8L391.6 334.1L387.3 336.3"/>
<path d="M475.2 312.3L479.1 310.4L473.6 311L469.7 312.8Z" fill="#f9f400" stroke="none"/>
<path d="M479.1 310.4L473.6 311L469.7 312.8"/>
<path d="M442.9 321.6L446.9 319.5L441.7 319.9L437.6 321.9Z" fill="#64f811" stroke="none"/>
<path d="M446.9 319.5L441.7 319.9L437.6 321.9"/>
<path d="M360.4 346.1L364.8 343.6L360.1 343.8L355.8 346.2Z" fill="#00f6bb" stroke="none"/>
<path d="M364.8 343.6L360.1 343.8L355.8 346.2"/>
<path d="M401.4 333.6L405.7 331.4L400.7 331.6L396.5 333.8Z" fill="#00f63f" stroke="none"/>
<path d="M405.7 331.4L400.7 331.6L396.5 333.8"/>
<path d="M484.7 310L488.6 308L483 308.6L479.1 310.4Z" fill="#ffe300" stroke="none"/>
<path d="M488.6 308L483 308.6L479.1 310.4"/>
<path d="M410.7 331.1L414.9 328.9L409.9 329.2L405.7 331.4Z" fill="#09f630" stroke="none"/>
<path d="M414.9 328.9L409.9 329.2L405.7 331.4"/>
<path d="M369.5 343.6L373.9 341.1L369.2 341.3L364.8 343.6Z" fill="#00f89a" stroke="none"/>
<path d="M373.9 341.1L369.2 341.3L364.8 343.6"/>
<path d="M452.3 319.2L456.3 317.1L451 317.5L446.9 319.5Z" fill="#98f808" stroke="none"/>
<path d="M456.3 317.1L451 317.5L446.9 319.5"/>
<path d="M494.3 307.6L498.1 305.7L492.5 306.2L488.6 308Z" fill="#ffcd00" stroke="none"/>
<path d="M498.1 305.7L492.5 306.2L488.6 308"/>
<path d="M378.7 341L383 338.6L378.2 338.8L373.9 341.1Z" fill="#00f883" stroke="none"/>
<path d="M383 338.6L378.2 338.8L373.9 341.1"/>
<path d="M420 328.7L424.2 326.5L419.1 326.8L414.9 328.9Z" fill="#11f621" stroke="none"/>
<path d="M424.2 326.5L419.1 326.8L414.9 328.9"/>
<path d="M461.7 316.8L465.7 314.7L460.3 315.2L456.3 317.1Z" fill="#c9f700" stroke="none"/>
<path d="M465.7 314.7L460.3 315.2L456.3 317.1"/>
<path d="M503.9 305.2L507.7 303.3L502 303.9L498.1 305.7Z" fill="#ffb600" stroke="none"/>
<path d="M507.7 303.3L502 303.9L498.1 305.7"/>
<path d="M387.9 338.5L392.2 336.1L387.3 336.3L383 338.6Z" fill="#00f86b" stroke="none"/>
<path d="M392.2 336.1L387.3 336.3L383 338.6"/>
<path d="M429.4 326.2L433.5 324L428.3 324.3L424.2 326.5Z" fill="#28f616" stroke="none"/>
<path d="M433.5 324L428.3 324.3L424.2 326.5"/>
<path d="M471.2 314.4L475.2 312.3L469.7 312.8L465.7 314.7Z" fill="#eff500" stroke="none"/>
<path d="M475.2 312.3L469.7 312.8L465.7 314.7"/>
<path d="M438.8 323.8L442.9 321.6L437.6 321.9L433.5 324Z" fill="#56f712" stroke="none"/>
<path d="M442.9 321.6L437.6 321.9L433.5 324"/>
<path d="M356 348.7L360.4 346.1L355.8 346.2L351.3 348.7Z" fill="#00f5ca" stroke="none"/>
<path d="M360.4 346.1L355.8 346.2L351.3 348.7"/>
<path d="M397.1 336L401.4 333.6L396.5 333.8L392.2 336.1Z" fill="#00f64a" stroke="none"/>
<path d="M401.4 333.6L396.5 333.8L392.2 336.1"/>
<path d="M480.8 312L484.7 310L479.1 310.4L475.2 312.3Z" fill="#fee800" stroke="none"/>
<path d="M484.7 310L479.1 310.4L475.2 312.3"/>
<path d="M365.1 346.1L369.5 343.6L364.8 343.6L360.4 346.1Z" fill="#00f8a4" stroke="none"/>
<path d="M369.5 343.6L364.8 343.6L360.4 346.1"/>
<path d="M490.4 309.6L494.3 307.6L488.6 308L484.7 310Z" fill="#ffd400" stroke="none"/>
<path d="M494.3 307.6L488.6 308L484.7 310"/>
<path d="M406.4 333.5L410.7 331.1L405.7 331.4L401.4 333.6Z" fill="#06f636" stroke="none"/>
<path d="M410.7 331.1L405.7 331.4L401.4 333.6"/>
<path d="M448.2 321.4L452.3 319.2L446.9 319.5L442.9 321.6Z" fill="#87f80b" stroke="none"/>
<path d="M452.3 319.2L446.9 319.5L442.9 321.6"/>
<path d="M415.8 331L420 328.7L414.9 328.9L410.7 331.1Z" fill="#0ef626" stroke="none"/>
<path d="M420 328.7L414.9 328.9L410.7 331.1"/>
<path d="M374.3 343.6L378.7 341L373.9 341.1L369.5 343.6Z" fill="#00f88c" stroke="none"/>
<path d="M378.7 341L373.9 341.1L369.5 343.6"/>
<path d="M500 307.2L503.9 305.2L498.1 305.7L494.3 307.6Z" fill="#ffbd00" stroke="none"/>
<path d="M503.9 305.2L498.1 305.7L494.3 307.6"/>
<path d="M457.7 318.9L461.7 316.8L456.3 317.1L452.3 319.2Z" fill="#bcf801" stroke="none"/>
<path d="M461.7 316.8L456.3 317.1L452.3 319.2"/>
<path d="M383.5 341L387.9 338.5L383 338.6L378.7 341Z" fill="#00f875" stroke="none"/>
<path d="M387.9 338.5L383 338.6L378.7 341"/>
<path d="M425.2 328.6L429.4 326.2L424.2 326.5L420 328.7Z" fill="#18f618" stroke="none"/>
<path d="M429.4 326.2L424.2 326.5L420 328.7"/>
<path d="M467.2 316.5L471.2 314.4L465.7 314.7L461.7 316.8Z" fill="#e3f600" stroke="none"/>
<path d="M471.2 314.4L465.7 314.7L461.7 316.8"/>
<path d="M509.7 304.9L513.5 302.9L507.7 303.3L503.9 305.2Z" fill="#ffa600" stroke="none"/>
<path d="M513.5 302.9L507.7 303.3L503.9 305.2"/>
<path d="M434.6 326.1L438.8 323.8L433.5 324L429.4 326.2Z" fill="#46f714" stroke="none"/>
<path d="M438.8 323.8L433.5 324L429.4 326.2"/>
<path d="M392.8 338.5L397.1 336L392.2 336.1L387.9 338.5Z" fill="#00f757" stroke="none"/>
<path d="M397.1 336L392.2 336.1L387.9 338.5"/>
<path d="M476.8 314.1L480.8 312L475.2 312.3L471.2 314.4Z" fill="#fdee00" stroke="none"/>
<path d="M480.8 312L475.2 312.3L471.2 314.4"/>
<path d="M351.5 351.4L356 348.7L351.3 348.7L346.8 351.3Z" fill="#00f4db" stroke="none"/>
<path d="M356 348.7L351.3 348.7L346.8 351.3"/>
<path d="M360.6 348.8L365.1 346.1L360.4 346.1L356 348.7Z" fill="#00f7b5" stroke="none"/>
<path d="M365.1 346.1L360.4 346.1L356 348.7"/>
<path d="M444.1 323.6L448.2 321.4L442.9 321.6L438.8 323.8Z" fill="#75f80f" stroke="none"/>
<path d="M448.2 321.4L442.9 321.6L438.8 323.8"/>
<path d="M402.1 336L406.4 333.5L401.4 333.6L397.1 336Z" fill="#02f63c" stroke="none"/>
<path d="M406.4 333.5L401.4 333.6L397.1 336"/>
<path d="M486.4 311.7L490.4 309.6L484.7 310L480.8 312Z" fill="#ffda00" stroke="none"/>
<path d="M490.4 309.6L484.7 310L480.8 312"/>
<path d="M369.9 346.3L374.3 343.6L369.5 343.6L365.1 346.1Z" fill="#00f896" stroke="none"/>
<path d="M374.3 343.6L369.5 343.6L365.1 346.1"/>
<path d="M411.5 333.5L415.8 331L410.7 331.1L406.4 333.5Z" fill="#0bf62c" stroke="none"/>
<path d="M415.8 331L410.7 331.1L406.4 333.5"/>
<path d="M496.1 309.3L500 307.2L494.3 307.6L490.4 309.6Z" fill="#ffc400" stroke="none"/>
<path d="M500 307.2L494.3 307.6L490.4 309.6"/>
<path d="M453.6 321.2L457.7 318.9L452.3 319.2L448.2 321.4Z" fill="#a9f804" stroke="none"/>
<path d="M457.7 318.9L452.3 319.2L448.2 321.4"/>
<path d="M420.9 331L425.2 328.6L420 328.7L415.8 331Z" fill="#13f61d" stroke="none"/>
<path d="M425.2 328.6L420 328.7L415.8 331"/>
<path d="M379.1 343.7L383.5 341L378.7 341L374.3 343.6Z" fill="#00f87f" stroke="none"/>
<path d="M383.5 341L378.7 341L374.3 343.6"/>
<path d="M463.2 318.8L467.2 316.5L461.7 316.8L457.7 318.9Z" fill="#d6f700" stroke="none"/>
<path d="M467.2 316.5L461.7 316.8L457.7 318.9"/>
<path d="M505.8 307L509.7 304.9L503.9 305.2L500 307.2Z" fill="#ffad00" stroke="none"/>
<path d="M509.7 304.9L503.9 305.2L500 307.2"/>
<path d="M347 354.3L351.5 351.4L346.8 351.3L342.3 354.1Z" fill="#00f2e4" stroke="none"/>
<path d="M351.5 351.4L346.8 351.3L342.3 354.1"/>
<path d="M430.4 328.5L434.6 326.1L429.4 326.2L425.2 328.6Z" fill="#34f715" stroke="none"/>
<path d="M434.6 326.1L429.4 326.2L425.2 328.6"/>
<path d="M472.8 316.4L476.8 314.1L471.2 314.4L467.2 316.5Z" fill="#fcf400" stroke="none"/>
<path d="M476.8 314.1L471.2 314.4L467.2 316.5"/>
<path d="M388.5 341.1L392.8 338.5L387.9 338.5L383.5 341Z" fill="#00f865" stroke="none"/>
<path d="M392.8 338.5L387.9 338.5L383.5 341"/>
<path d="M515.6 304.6L519.4 302.5L513.5 302.9L509.7 304.9Z" fill="#ff9603" stroke="none"/>
<path d="M519.4 302.5L513.5 302.9L509.7 304.9"/>
<path d="M397.8 338.6L402.1 336L397.1 336L392.8 338.5Z" fill="#00f644" stroke="none"/>
<path d="M402.1 336L397.1 336L392.8 338.5"/>
<path d="M482.4 314L486.4 311.7L480.8 312L476.8 314.1Z" fill="#ffe200" stroke="none"/>
<path d="M486.4 311.7L480.8 312L476.8 314.1"/>
<path d="M356.2 351.7L360.6 348.8L356 348.7L351.5 351.4Z" fill="#00f6c6" stroke="none"/>
<path d="M360.6 348.8L356 348.7L351.5 351.4"/>
<path d="M439.9 326L444.1 323.6L438.8 323.8L434.6 326.1Z" fill="#62f811" stroke="none"/>
<path d="M444.1 323.6L438.8 323.8L434.6 326.1"/>
<path d="M365.4 349.1L369.9 346.3L365.1 346.1L360.6 348.8Z" fill="#00f8a1" stroke="none"/>
<path d="M369.9 346.3L365.1 346.1L360.6 348.8"/>
<path d="M407.2 336.1L411.5 333.5L406.4 333.5L402.1 336Z" fill="#07f633" stroke="none"/>
<path d="M411.5 333.5L406.4 333.5L402.1 336"/>
<path d="M449.5 323.6L453.6 321.2L448.2 321.4L444.1 323.6Z" fill="#95f808" stroke="none"/>
<path d="M453.6 321.2L448.2 321.4L444.1 323.6"/>
<path d="M492.1 311.6L496.1 309.3L490.4 309.6L486.4 311.7Z" fill="#ffcc00" stroke="none"/>
<path d="M496.1 309.3L490.4 309.6L486.4 311.7"/>
<path d="M374.7 346.5L379.1 343.7L374.3 343.6L369.9 346.3Z" fill="#00f889" stroke="none"/>
<path d="M379.1 343.7L374.3 343.6L369.9 346.3"/>
<path d="M416.7 333.6L420.9 331L415.8 331L411.5 333.5Z" fill="#10f623" stroke="none"/>
<path d="M420.9 331L415.8 331L411.5 333.5"/>
<path d="M459.1 321.1L463.2 318.8L457.7 318.9L453.6 321.2Z" fill="#c7f800" stroke="none"/>
<path d="M463.2 318.8L457.7 318.9L453.6 321.2"/>
<path d="M501.9 309.2L505.8 307L500 307.2L496.1 309.3Z" fill="#ffb500" stroke="none"/>
<path d="M505.8 307L500 307.2L496.1 309.3"/>
<path d="M426.2 331L430.4 328.5L425.2 328.6L420.9 331Z" fill="#21f617" stroke="none"/>
<path d="M430.4 328.5L425.2 328.6L420.9 331"/>
<path d="M342.4 357.3L347 354.3L342.3 354.1L337.8 356.9Z" fill="#00eeeb" stroke="none"/>
<path d="M347 354.3L342.3 354.1L337.8 356.9"/>
<path d="M511.7 306.8L515.6 304.6L509.7 304.9L505.8 307Z" fill="#ff9e01" stroke="none"/>
<path d="M515.6 304.6L509.7 304.9L505.8 307"/>
<path d="M384.1 343.9L388.5 341.1L383.5 341L379.1 343.7Z" fill="#00f872" stroke="none"/>
<path d="M388.5 341.1L383.5 341L379.1 343.7"/>
<path d="M468.7 318.7L472.8 316.4L467.2 316.5L463.2 318.8Z" fill="#edf500" stroke="none"/>
<path d="M472.8 316.4L467.2 316.5L463.2 318.8"/>
<path d="M351.6 354.6L356.2 351.7L351.5 351.4L347 354.3Z" fill="#00f4da" stroke="none"/>
<path d="M356.2 351.7L351.5 351.4L347 354.3"/>
<path d="M478.4 316.3L482.4 314L476.8 314.1L472.8 316.4Z" fill="#fee900" stroke="none"/>
<path d="M482.4 314L476.8 314.1L472.8 316.4"/>
<path d="M393.5 341.3L397.8 338.6L392.8 338.5L388.5 341.1Z" fill="#00f753" stroke="none"/>
<path d="M397.8 338.6L392.8 338.5L388.5 341.1"/>
<path d="M435.7 328.6L439.9 326L434.6 326.1L430.4 328.5Z" fill="#4ff713" stroke="none"/>
<path d="M439.9 326L434.6 326.1L430.4 328.5"/>
<path d="M521.5 304.4L525.4 302.2L519.4 302.5L515.6 304.6Z" fill="#ff8606" stroke="none"/>
<path d="M525.4 302.2L519.4 302.5L515.6 304.6"/>
<path d="M402.9 338.8L407.2 336.1L402.1 336L397.8 338.6Z" fill="#04f63a" stroke="none"/>
<path d="M407.2 336.1L402.1 336L397.8 338.6"/>
<path d="M360.9 352L365.4 349.1L360.6 348.8L356.2 351.7Z" fill="#00f7b3" stroke="none"/>
<path d="M365.4 349.1L360.6 348.8L356.2 351.7"/>
<path d="M488.2 313.9L492.1 311.6L486.4 311.7L482.4 314Z" fill="#ffd400" stroke="none"/>
<path d="M492.1 311.6L486.4 311.7L482.4 314"/>
<path d="M445.3 326.1L449.5 323.6L444.1 323.6L439.9 326Z" fill="#80f80d" stroke="none"/>
<path d="M449.5 323.6L444.1 323.6L439.9 326"/>
<path d="M370.3 349.4L374.7 346.5L369.9 346.3L365.4 349.1Z" fill="#00f895" stroke="none"/>
<path d="M374.7 346.5L369.9 346.3L365.4 349.1"/>
<path d="M412.4 336.2L416.7 333.6L411.5 333.5L407.2 336.1Z" fill="#0cf62a" stroke="none"/>
<path d="M416.7 333.6L411.5 333.5L407.2 336.1"/>
<path d="M454.9 323.6L459.1 321.1L453.6 321.2L449.5 323.6Z" fill="#b4f802" stroke="none"/>
<path d="M459.1 321.1L453.6 321.2L449.5 323.6"/>
<path d="M498 311.5L501.9 309.2L496.1 309.3L492.1 311.6Z" fill="#ffbe00" stroke="none"/>
<path d="M501.9 309.2L496.1 309.3L492.1 311.6"/>
<path d="M421.9 333.7L426.2 331L420.9 331L416.7 333.6Z" fill="#14f61b" stroke="none"/>
<path d="M426.2 331L420.9 331L416.7 333.6"/>
<path d="M507.8 309.1L511.7 306.8L505.8 307L501.9 309.2Z" fill="#ffa700" stroke="none"/>
<path d="M511.7 306.8L505.8 307L501.9 309.2"/>
<path d="M379.6 346.7L384.1 343.9L379.1 343.7L374.7 346.5Z" fill="#00f87e" stroke="none"/>
<path d="M384.1 343.9L379.1 343.7L374.7 346.5"/>
<path d="M464.6 321.2L468.7 318.7L463.2 318.8L459.1 321.1Z" fill="#def600" stroke="none"/>
<path d="M468.7 318.7L463.2 318.8L459.1 321.1"/>
<path d="M337.8 360.4L342.4 357.3L337.8 356.9L333.2 360Z" fill="#00ebf1" stroke="none"/>
<path d="M342.4 357.3L337.8 356.9L333.2 360"/>
<path d="M347.1 357.7L351.6 354.6L347 354.3L342.4 357.3Z" fill="#00f2e5" stroke="none"/>
<path d="M351.6 354.6L347 354.3L342.4 357.3"/>
<path d="M431.5 331.2L435.7 328.6L430.4 328.5L426.2 331Z" fill="#3bf715" stroke="none"/>
<path d="M435.7 328.6L430.4 328.5L426.2 331"/>
<path d="M389 344.2L393.5 341.3L388.5 341.1L384.1 343.9Z" fill="#00f763" stroke="none"/>
<path d="M393.5 341.3L388.5 341.1L384.1 343.9"/>
<path d="M474.4 318.7L478.4 316.3L472.8 316.4L468.7 318.7Z" fill="#fdf000" stroke="none"/>
<path d="M478.4 316.3L472.8 316.4L468.7 318.7"/>
<path d="M517.7 306.7L521.5 304.4L515.6 304.6L511.7 306.8Z" fill="#ff8f04" stroke="none"/>
<path d="M521.5 304.4L515.6 304.6L511.7 306.8"/>
<path d="M356.4 355L360.9 352L356.2 351.7L351.6 354.6Z" fill="#00f6c7" stroke="none"/>
<path d="M360.9 352L356.2 351.7L351.6 354.6"/>
<path d="M398.5 341.6L402.9 338.8L397.8 338.6L393.5 341.3Z" fill="#00f642" stroke="none"/>
<path d="M402.9 338.8L397.8 338.6L393.5 341.3"/>
<path d="M484.1 316.3L488.2 313.9L482.4 314L478.4 316.3Z" fill="#ffdd00" stroke="none"/>
<path d="M488.2 313.9L482.4 314L478.4 316.3"/>
<path d="M441.1 328.7L445.3 326.1L439.9 326L435.7 328.6Z" fill="#69f810" stroke="none"/>
<path d="M445.3 326.1L439.9 326L435.7 328.6"/>
<path d="M527.6 304.4L531.4 302.1L525.4 302.2L521.5 304.4Z" fill="#ff770a" stroke="none"/>
<path d="M531.4 302.1L525.4 302.2L521.5 304.4"/>
<path d="M408 339L412.4 336.2L407.2 336.1L402.9 338.8Z" fill="#08f631" stroke="none"/>
<path d="M412.4 336.2L407.2 336.1L402.9 338.8"/>
<path d="M365.8 352.4L370.3 349.4L365.4 349.1L360.9 352Z" fill="#00f8a1" stroke="none"/>
<path d="M370.3 349.4L365.4 349.1L360.9 352"/>
<path d="M450.8 326.2L454.9 323.6L449.5 323.6L445.3 326.1Z" fill="#9df807" stroke="none"/>
<path d="M454.9 323.6L449.5 323.6L445.3 326.1"/>
<path d="M494 313.9L498 311.5L492.1 311.6L488.2 313.9Z" fill="#ffc700" stroke="none"/>
<path d="M498 311.5L492.1 311.6L488.2 313.9"/>
<path d="M417.6 336.5L421.9 333.7L416.7 333.6L412.4 336.2Z" fill="#10f622" stroke="none"/>
<path d="M421.9 333.7L416.7 333.6L412.4 336.2"/>
<path d="M460.5 323.8L464.6 321.2L459.1 321.1L454.9 323.6Z" fill="#cdf700" stroke="none"/>
<path d="M464.6 321.2L459.1 321.1L454.9 323.6"/>
<path d="M333.2 363.6L337.8 360.4L333.2 360L328.6 363.1Z" fill="#01e5f7" stroke="none"/>
<path d="M337.8 360.4L333.2 360L328.6 363.1"/>
<path d="M375.2 349.7L379.6 346.7L374.7 346.5L370.3 349.4Z" fill="#00f889" stroke="none"/>
<path d="M379.6 346.7L374.7 346.5L370.3 349.4"/>
<path d="M503.8 311.5L507.8 309.1L501.9 309.2L498 311.5Z" fill="#ffb000" stroke="none"/>
<path d="M507.8 309.1L501.9 309.2L498 311.5"/>
<path d="M384.6 347.1L389 344.2L384.1 343.9L379.6 346.7Z" fill="#00f872" stroke="none"/>
<path d="M389 344.2L384.1 343.9L379.6 346.7"/>
<path d="M470.3 321.3L474.4 318.7L468.7 318.7L464.6 321.2Z" fill="#f3f500" stroke="none"/>
<path d="M474.4 318.7L468.7 318.7L464.6 321.2"/>
<path d="M342.5 360.9L347.1 357.7L342.4 357.3L337.8 360.4Z" fill="#00eeec" stroke="none"/>
<path d="M347.1 357.7L342.4 357.3L337.8 360.4"/>
<path d="M427.2 333.9L431.5 331.2L426.2 331L421.9 333.7Z" fill="#25f617" stroke="none"/>
<path d="M431.5 331.2L426.2 331L421.9 333.7"/>
<path d="M513.7 309.1L517.7 306.7L511.7 306.8L507.8 309.1Z" fill="#ff9902" stroke="none"/>
<path d="M517.7 306.7L511.7 306.8L507.8 309.1"/>
<path d="M351.8 358.2L356.4 355L351.6 354.6L347.1 357.7Z" fill="#00f4dc" stroke="none"/>
<path d="M356.4 355L351.6 354.6L347.1 357.7"/>
<path d="M394.1 344.5L398.5 341.6L393.5 341.3L389 344.2Z" fill="#00f753" stroke="none"/>
<path d="M398.5 341.6L393.5 341.3L389 344.2"/>
<path d="M436.9 331.4L441.1 328.7L435.7 328.6L431.5 331.2Z" fill="#53f712" stroke="none"/>
<path d="M441.1 328.7L435.7 328.6L431.5 331.2"/>
<path d="M480.1 318.9L484.1 316.3L478.4 316.3L474.4 318.7Z" fill="#fee600" stroke="none"/>
<path d="M484.1 316.3L478.4 316.3L474.4 318.7"/>
<path d="M523.7 306.8L527.6 304.4L521.5 304.4L517.7 306.7Z" fill="#ff8107" stroke="none"/>
<path d="M527.6 304.4L521.5 304.4L517.7 306.7"/>
<path d="M361.2 355.5L365.8 352.4L360.9 352L356.4 355Z" fill="#00f7b5" stroke="none"/>
<path d="M365.8 352.4L360.9 352L356.4 355"/>
<path d="M403.7 341.9L408 339L402.9 338.8L398.5 341.6Z" fill="#04f639" stroke="none"/>
<path d="M408 339L402.9 338.8L398.5 341.6"/>
<path d="M446.6 328.9L450.8 326.2L445.3 326.1L441.1 328.7Z" fill="#84f80c" stroke="none"/>
<path d="M450.8 326.2L445.3 326.1L441.1 328.7"/>
<path d="M489.9 316.5L494 313.9L488.2 313.9L484.1 316.3Z" fill="#ffd100" stroke="none"/>
<path d="M494 313.9L488.2 313.9L484.1 316.3"/>
<path d="M533.7 304.4L537.6 302L531.4 302.1L527.6 304.4Z" fill="#fc6a0c" stroke="none"/>
<path d="M537.6 302L531.4 302.1L527.6 304.4M533.7 304.4L537.6 302"/>
<path d="M413.3 339.4L417.6 336.5L412.4 336.2L408 339Z" fill="#0cf62a" stroke="none"/>
<path d="M417.6 336.5L412.4 336.2L408 339"/>
<path d="M328.5 367L333.2 363.6L328.6 363.1L324 366.4Z" fill="#03dafa" stroke="none"/>
<path d="M333.2 363.6L328.6 363.1L324 366.4M328.5 367L324 366.4"/>
<path d="M499.8 314L503.8 311.5L498 311.5L494 313.9Z" fill="#ffbb00" stroke="none"/>
<path d="M503.8 311.5L498 311.5L494 313.9"/>
<path d="M456.3 326.5L460.5 323.8L454.9 323.6L450.8 326.2Z" fill="#b9f801" stroke="none"/>
<path d="M460.5 323.8L454.9 323.6L450.8 326.2"/>
<path d="M370.6 352.9L375.2 349.7L370.3 349.4L365.8 352.4Z" fill="#00f896" stroke="none"/>
<path d="M375.2 349.7L370.3 349.4L365.8 352.4"/>
<path d="M466.1 324L470.3 321.3L464.6 321.2L460.5 323.8Z" fill="#e1f600" stroke="none"/>
<path d="M470.3 321.3L464.6 321.2L460.5 323.8"/>
<path d="M337.9 364.2L342.5 360.9L337.8 360.4L333.2 363.6Z" fill="#00eaf3" stroke="none"/>
<path d="M342.5 360.9L337.8 360.4L333.2 363.6"/>
<path d="M380.1 350.2L384.6 347.1L379.6 346.7L375.2 349.7Z" fill="#00f87f" stroke="none"/>
<path d="M384.6 347.1L379.6 346.7L375.2 349.7"/>
<path d="M422.9 336.8L427.2 333.9L421.9 333.7L417.6 336.5Z" fill="#14f61b" stroke="none"/>
<path d="M427.2 333.9L421.9 333.7L417.6 336.5"/>
<path d="M509.8 311.6L513.7 309.1L507.8 309.1L503.8 311.5Z" fill="#ffa400" stroke="none"/>
<path d="M513.7 309.1L507.8 309.1L503.8 311.5"/>
<path d="M389.7 347.6L394.1 344.5L389 344.2L384.6 347.1Z" fill="#00f864" stroke="none"/>
<path d="M394.1 344.5L389 344.2L384.6 347.1"/>
<path d="M347.2 361.5L351.8 358.2L347.1 357.7L342.5 360.9Z" fill="#00f1e6" stroke="none"/>
<path d="M351.8 358.2L347.1 357.7L342.5 360.9"/>
<path d="M476 321.5L480.1 318.9L474.4 318.7L470.3 321.3Z" fill="#fdef00" stroke="none"/>
<path d="M480.1 318.9L474.4 318.7L470.3 321.3"/>
<path d="M432.6 334.3L436.9 331.4L431.5 331.2L427.2 333.9Z" fill="#3cf715" stroke="none"/>
<path d="M436.9 331.4L431.5 331.2L427.2 333.9"/>
<path d="M519.8 309.3L523.7 306.8L517.7 306.7L513.7 309.1Z" fill="#ff8c05" stroke="none"/>
<path d="M523.7 306.8L517.7 306.7L513.7 309.1"/>
<path d="M356.6 358.8L361.2 355.5L356.4 355L351.8 358.2Z" fill="#00f5cc" stroke="none"/>
<path d="M361.2 355.5L356.4 355L351.8 358.2"/>
<path d="M399.2 345L403.7 341.9L398.5 341.6L394.1 344.5Z" fill="#00f643" stroke="none"/>
<path d="M403.7 341.9L398.5 341.6L394.1 344.5"/>
<path d="M442.3 331.8L446.6 328.9L441.1 328.7L436.9 331.4Z" fill="#6af810" stroke="none"/>
<path d="M446.6 328.9L441.1 328.7L436.9 331.4"/>
<path d="M529.8 306.9L533.7 304.4L527.6 304.4L523.7 306.8Z" fill="#ff740a" stroke="none"/>
<path d="M533.7 304.4L527.6 304.4L523.7 306.8M529.8 306.9L533.7 304.4"/>
<path d="M485.9 319.1L489.9 316.5L484.1 316.3L480.1 318.9Z" fill="#ffdc00" stroke="none"/>
<path d="M489.9 316.5L484.1 316.3L480.1 318.9"/>
<path d="M366.1 356.1L370.6 352.9L365.8 352.4L361.2 355.5Z" fill="#00f8a4" stroke="none"/>
<path d="M370.6 352.9L365.8 352.4L361.2 355.5"/>
<path d="M408.9 342.4L413.3 339.4L408 339L403.7 341.9Z" fill="#08f632" stroke="none"/>
<path d="M413.3 339.4L408 339L403.7 341.9"/>
<path d="M495.8 316.7L499.8 314L494 313.9L489.9 316.5Z" fill="#ffc500" stroke="none"/>
<path d="M499.8 314L494 313.9L489.9 316.5"/>
<path d="M452.1 329.3L456.3 326.5L450.8 326.2L446.6 328.9Z" fill="#9ef807" stroke="none"/>
<path d="M456.3 326.5L450.8 326.2L446.6 328.9"/>
<path d="M333.2 367.7L337.9 364.2L333.2 363.6L328.5 367Z" fill="#01e1f8" stroke="none"/>
<path d="M337.9 364.2L333.2 363.6L328.5 367M333.2 367.7L328.5 367"/>
<path d="M418.5 339.8L422.9 336.8L417.6 336.5L413.3 339.4Z" fill="#10f623" stroke="none"/>
<path d="M422.9 336.8L417.6 336.5L413.3 339.4"/>
<path d="M461.9 326.8L466.1 324L460.5 323.8L456.3 326.5Z" fill="#cef700" stroke="none"/>
<path d="M466.1 324L460.5 323.8L456.3 326.5"/>
<path d="M375.6 353.4L380.1 350.2L375.2 349.7L370.6 352.9Z" fill="#00f88c" stroke="none"/>
<path d="M380.1 350.2L375.2 349.7L370.6 352.9"/>
<path d="M505.8 314.3L509.8 311.6L503.8 311.5L499.8 314Z" fill="#ffaf00" stroke="none"/>
<path d="M509.8 311.6L503.8 311.5L499.8 314"/>
<path d="M342.6 364.9L347.2 361.5L342.5 360.9L337.9 364.2Z" fill="#00ecee" stroke="none"/>
<path d="M347.2 361.5L342.5 360.9L337.9 364.2"/>
<path d="M385.2 350.8L389.7 347.6L384.6 347.1L380.1 350.2Z" fill="#00f875" stroke="none"/>
<path d="M389.7 347.6L384.6 347.1L380.1 350.2"/>
<path d="M471.8 324.3L476 321.5L470.3 321.3L466.1 324Z" fill="#f4f500" stroke="none"/>
<path d="M476 321.5L470.3 321.3L466.1 324"/>
<path d="M428.3 337.3L432.6 334.3L427.2 333.9L422.9 336.8Z" fill="#23f617" stroke="none"/>
<path d="M432.6 334.3L427.2 333.9L422.9 336.8"/>
<path d="M515.8 311.9L519.8 309.3L513.7 309.1L509.8 311.6Z" fill="#ff9702" stroke="none"/>
<path d="M519.8 309.3L513.7 309.1L509.8 311.6"/>
<path d="M394.8 348.1L399.2 345L394.1 344.5L389.7 347.6Z" fill="#00f756" stroke="none"/>
<path d="M399.2 345L394.1 344.5L389.7 347.6"/>
<path d="M352 362.2L356.6 358.8L351.8 358.2L347.2 361.5Z" fill="#00f3e1" stroke="none"/>
<path d="M356.6 358.8L351.8 358.2L347.2 361.5"/>
<path d="M525.9 309.5L529.8 306.9L523.7 306.8L519.8 309.3Z" fill="#ff8008" stroke="none"/>
<path d="M529.8 306.9L523.7 306.8L519.8 309.3M525.9 309.5L529.8 306.9"/>
<path d="M438 334.7L442.3 331.8L436.9 331.4L432.6 334.3Z" fill="#51f713" stroke="none"/>
<path d="M442.3 331.8L436.9 331.4L432.6 334.3"/>
<path d="M481.8 321.9L485.9 319.1L480.1 318.9L476 321.5Z" fill="#fee600" stroke="none"/>
<path d="M485.9 319.1L480.1 318.9L476 321.5"/>
<path d="M404.4 345.5L408.9 342.4L403.7 341.9L399.2 345Z" fill="#03f63b" stroke="none"/>
<path d="M408.9 342.4L403.7 341.9L399.2 345"/>
<path d="M447.9 332.2L452.1 329.3L446.6 328.9L442.3 331.8Z" fill="#82f80c" stroke="none"/>
<path d="M452.1 329.3L446.6 328.9L442.3 331.8"/>
<path d="M361.5 359.5L366.1 356.1L361.2 355.5L356.6 358.8Z" fill="#00f6bc" stroke="none"/>
<path d="M366.1 356.1L361.2 355.5L356.6 358.8"/>
<path d="M491.7 319.4L495.8 316.7L489.9 316.5L485.9 319.1Z" fill="#ffd100" stroke="none"/>
<path d="M495.8 316.7L489.9 316.5L485.9 319.1"/>
<path d="M371.1 356.8L375.6 353.4L370.6 352.9L366.1 356.1Z" fill="#00f89a" stroke="none"/>
<path d="M375.6 353.4L370.6 352.9L366.1 356.1"/>
<path d="M457.7 329.7L461.9 326.8L456.3 326.5L452.1 329.3Z" fill="#b7f802" stroke="none"/>
<path d="M461.9 326.8L456.3 326.5L452.1 329.3"/>
<path d="M414.2 342.9L418.5 339.8L413.3 339.4L408.9 342.4Z" fill="#0bf62b" stroke="none"/>
<path d="M418.5 339.8L413.3 339.4L408.9 342.4"/>
<path d="M501.8 317L505.8 314.3L499.8 314L495.8 316.7Z" fill="#ffba00" stroke="none"/>
<path d="M505.8 314.3L499.8 314L495.8 316.7"/>
<path d="M337.9 368.5L342.6 364.9L337.9 364.2L333.2 367.7Z" fill="#00e8f6" stroke="none"/>
<path d="M342.6 364.9L337.9 364.2L333.2 367.7M337.9 368.5L333.2 367.7"/>
<path d="M380.7 354.1L385.2 350.8L380.1 350.2L375.6 353.4Z" fill="#00f883" stroke="none"/>
<path d="M385.2 350.8L380.1 350.2L375.6 353.4"/>
<path d="M423.9 340.4L428.3 337.3L422.9 336.8L418.5 339.8Z" fill="#14f61c" stroke="none"/>
<path d="M428.3 337.3L422.9 336.8L418.5 339.8"/>
<path d="M467.6 327.2L471.8 324.3L466.1 324L461.9 326.8Z" fill="#dff600" stroke="none"/>
<path d="M471.8 324.3L466.1 324L461.9 326.8"/>
<path d="M511.8 314.6L515.8 311.9L509.8 311.6L505.8 314.3Z" fill="#ffa300" stroke="none"/>
<path d="M515.8 311.9L509.8 311.6L505.8 314.3"/>
<path d="M347.4 365.7L352 362.2L347.2 361.5L342.6 364.9Z" fill="#00efe9" stroke="none"/>
<path d="M352 362.2L347.2 361.5L342.6 364.9"/>
<path d="M390.3 351.4L394.8 348.1L389.7 347.6L385.2 350.8Z" fill="#00f86a" stroke="none"/>
<path d="M394.8 348.1L389.7 347.6L385.2 350.8"/>
<path d="M433.7 337.8L438 334.7L432.6 334.3L428.3 337.3Z" fill="#37f715" stroke="none"/>
<path d="M438 334.7L432.6 334.3L428.3 337.3"/>
<path d="M477.6 324.8L481.8 321.9L476 321.5L471.8 324.3Z" fill="#fdf000" stroke="none"/>
<path d="M481.8 321.9L476 321.5L471.8 324.3"/>
<path d="M522 312.2L525.9 309.5L519.8 309.3L515.8 311.9Z" fill="#ff8c05" stroke="none"/>
<path d="M525.9 309.5L519.8 309.3L515.8 311.9M522 312.2L525.9 309.5"/>
<path d="M400 348.8L404.4 345.5L399.2 345L394.8 348.1Z" fill="#00f649" stroke="none"/>
<path d="M404.4 345.5L399.2 345L394.8 348.1"/>
<path d="M487.6 322.3L491.7 319.4L485.9 319.1L481.8 321.9Z" fill="#ffdd00" stroke="none"/>
<path d="M491.7 319.4L485.9 319.1L481.8 321.9"/>
<path d="M443.6 335.3L447.9 332.2L442.3 331.8L438 334.7Z" fill="#65f811" stroke="none"/>
<path d="M447.9 332.2L442.3 331.8L438 334.7"/>
<path d="M356.9 363L361.5 359.5L356.6 358.8L352 362.2Z" fill="#00f5d5" stroke="none"/>
<path d="M361.5 359.5L356.6 358.8L352 362.2"/>
<path d="M453.5 332.7L457.7 329.7L452.1 329.3L447.9 332.2Z" fill="#99f808" stroke="none"/>
<path d="M457.7 329.7L452.1 329.3L447.9 332.2"/>
<path d="M366.5 360.2L371.1 356.8L366.1 356.1L361.5 359.5Z" fill="#00f7ad" stroke="none"/>
<path d="M371.1 356.8L366.1 356.1L361.5 359.5"/>
<path d="M409.7 346.2L414.2 342.9L408.9 342.4L404.4 345.5Z" fill="#06f635" stroke="none"/>
<path d="M414.2 342.9L408.9 342.4L404.4 345.5"/>
<path d="M497.7 319.9L501.8 317L495.8 316.7L491.7 319.4Z" fill="#ffc700" stroke="none"/>
<path d="M501.8 317L495.8 316.7L491.7 319.4"/>
<path d="M376.1 357.5L380.7 354.1L375.6 353.4L371.1 356.8Z" fill="#00f891" stroke="none"/>
<path d="M380.7 354.1L375.6 353.4L371.1 356.8"/>
<path d="M463.4 330.2L467.6 327.2L461.9 326.8L457.7 329.7Z" fill="#caf700" stroke="none"/>
<path d="M467.6 327.2L461.9 326.8L457.7 329.7"/>
<path d="M419.5 343.6L423.9 340.4L418.5 339.8L414.2 342.9Z" fill="#0ff625" stroke="none"/>
<path d="M423.9 340.4L418.5 339.8L414.2 342.9"/>
<path d="M507.8 317.5L511.8 314.6L505.8 314.3L501.8 317Z" fill="#ffb000" stroke="none"/>
<path d="M511.8 314.6L505.8 314.3L501.8 317"/>
<path d="M342.7 369.4L347.4 365.7L342.6 364.9L337.9 368.5Z" fill="#00eaf1" stroke="none"/>
<path d="M347.4 365.7L342.6 364.9L337.9 368.5M342.7 369.4L337.9 368.5"/>
<path d="M385.8 354.8L390.3 351.4L385.2 350.8L380.7 354.1Z" fill="#00f87a" stroke="none"/>
<path d="M390.3 351.4L385.2 350.8L380.7 354.1"/>
<path d="M429.4 341L433.7 337.8L428.3 337.3L423.9 340.4Z" fill="#1cf617" stroke="none"/>
<path d="M433.7 337.8L428.3 337.3L423.9 340.4"/>
<path d="M518 315.1L522 312.2L515.8 311.9L511.8 314.6Z" fill="#ff9902" stroke="none"/>
<path d="M522 312.2L515.8 311.9L511.8 314.6M518 315.1L522 312.2"/>
<path d="M473.4 327.8L477.6 324.8L471.8 324.3L467.6 327.2Z" fill="#f0f500" stroke="none"/>
<path d="M477.6 324.8L471.8 324.3L467.6 327.2"/>
<path d="M395.5 352.2L400 348.8L394.8 348.1L390.3 351.4Z" fill="#00f75d" stroke="none"/>
<path d="M400 348.8L394.8 348.1L390.3 351.4"/>
<path d="M483.5 325.3L487.6 322.3L481.8 321.9L477.6 324.8Z" fill="#fee800" stroke="none"/>
<path d="M487.6 322.3L481.8 321.9L477.6 324.8"/>
<path d="M352.2 366.6L356.9 363L352 362.2L347.4 365.7Z" fill="#00f1e5" stroke="none"/>
<path d="M356.9 363L352 362.2L347.4 365.7"/>
<path d="M439.2 338.4L443.6 335.3L438 334.7L433.7 337.8Z" fill="#4af713" stroke="none"/>
<path d="M443.6 335.3L438 334.7L433.7 337.8"/>
<path d="M405.3 349.5L409.7 346.2L404.4 345.5L400 348.8Z" fill="#01f63e" stroke="none"/>
<path d="M409.7 346.2L404.4 345.5L400 348.8"/>
<path d="M449.2 335.9L453.5 332.7L447.9 332.2L443.6 335.3Z" fill="#7af80e" stroke="none"/>
<path d="M453.5 332.7L447.9 332.2L443.6 335.3"/>
<path d="M361.8 363.8L366.5 360.2L361.5 359.5L356.9 363Z" fill="#00f6c7" stroke="none"/>
<path d="M366.5 360.2L361.5 359.5L356.9 363"/>
<path d="M493.6 322.8L497.7 319.9L491.7 319.4L487.6 322.3Z" fill="#ffd300" stroke="none"/>
<path d="M497.7 319.9L491.7 319.4L487.6 322.3"/>
<path d="M371.5 361.1L376.1 357.5L371.1 356.8L366.5 360.2Z" fill="#00f8a1" stroke="none"/>
<path d="M376.1 357.5L371.1 356.8L366.5 360.2"/>
<path d="M459.2 333.4L463.4 330.2L457.7 329.7L453.5 332.7Z" fill="#aef803" stroke="none"/>
<path d="M463.4 330.2L457.7 329.7L453.5 332.7"/>
<path d="M415.1 346.9L419.5 343.6L414.2 342.9L409.7 346.2Z" fill="#09f62f" stroke="none"/>
<path d="M419.5 343.6L414.2 342.9L409.7 346.2"/>
<path d="M503.7 320.4L507.8 317.5L501.8 317L497.7 319.9Z" fill="#ffbd00" stroke="none"/>
<path d="M507.8 317.5L501.8 317L497.7 319.9"/>
<path d="M381.2 358.4L385.8 354.8L380.7 354.1L376.1 357.5Z" fill="#00f889" stroke="none"/>
<path d="M385.8 354.8L380.7 354.1L376.1 357.5"/>
<path d="M513.9 318L518 315.1L511.8 314.6L507.8 317.5Z" fill="#ffa600" stroke="none"/>
<path d="M518 315.1L511.8 314.6L507.8 317.5M513.9 318L518 315.1"/>
<path d="M424.9 344.3L429.4 341L423.9 340.4L419.5 343.6Z" fill="#12f61f" stroke="none"/>
<path d="M429.4 341L423.9 340.4L419.5 343.6"/>
<path d="M469.2 330.9L473.4 327.8L467.6 327.2L463.4 330.2Z" fill="#d9f600" stroke="none"/>
<path d="M473.4 327.8L467.6 327.2L463.4 330.2"/>
<path d="M347.6 370.4L352.2 366.6L347.4 365.7L342.7 369.4Z" fill="#00eded" stroke="none"/>
<path d="M352.2 366.6L347.4 365.7L342.7 369.4M347.6 370.4L342.7 369.4"/>
<path d="M390.9 355.7L395.5 352.2L390.3 351.4L385.8 354.8Z" fill="#00f872" stroke="none"/>
<path d="M395.5 352.2L390.3 351.4L385.8 354.8"/>
<path d="M434.9 341.7L439.2 338.4L433.7 337.8L429.4 341Z" fill="#2df716" stroke="none"/>
<path d="M439.2 338.4L433.7 337.8L429.4 341"/>
<path d="M479.3 328.4L483.5 325.3L477.6 324.8L473.4 327.8Z" fill="#fcf300" stroke="none"/>
<path d="M483.5 325.3L477.6 324.8L473.4 327.8"/>
<path d="M357.2 367.6L361.8 363.8L356.9 363L352.2 366.6Z" fill="#00f4e1" stroke="none"/>
<path d="M361.8 363.8L356.9 363L352.2 366.6"/>
<path d="M400.7 353L405.3 349.5L400 348.8L395.5 352.2Z" fill="#00f752" stroke="none"/>
<path d="M405.3 349.5L400 348.8L395.5 352.2"/>
<path d="M444.8 339.2L449.2 335.9L443.6 335.3L439.2 338.4Z" fill="#5bf812" stroke="none"/>
<path d="M449.2 335.9L443.6 335.3L439.2 338.4"/>
<path d="M489.4 325.9L493.6 322.8L487.6 322.3L483.5 325.3Z" fill="#ffe000" stroke="none"/>
<path d="M493.6 322.8L487.6 322.3L483.5 325.3"/>
<path d="M366.9 364.8L371.5 361.1L366.5 360.2L361.8 363.8Z" fill="#00f6ba" stroke="none"/>
<path d="M371.5 361.1L366.5 360.2L361.8 363.8"/>
<path d="M410.6 350.4L415.1 346.9L409.7 346.2L405.3 349.5Z" fill="#04f639" stroke="none"/>
<path d="M415.1 346.9L409.7 346.2L405.3 349.5"/>
<path d="M454.9 336.6L459.2 333.4L453.5 332.7L449.2 335.9Z" fill="#8df80a" stroke="none"/>
<path d="M459.2 333.4L453.5 332.7L449.2 335.9"/>
<path d="M499.6 323.5L503.7 320.4L497.7 319.9L493.6 322.8Z" fill="#ffcb00" stroke="none"/>
<path d="M503.7 320.4L497.7 319.9L493.6 322.8"/>
<path d="M376.6 362.1L381.2 358.4L376.1 357.5L371.5 361.1Z" fill="#00f899" stroke="none"/>
<path d="M381.2 358.4L376.1 357.5L371.5 361.1"/>
<path d="M420.5 347.7L424.9 344.3L419.5 343.6L415.1 346.9Z" fill="#0cf629" stroke="none"/>
<path d="M424.9 344.3L419.5 343.6L415.1 346.9"/>
<path d="M464.9 334.1L469.2 330.9L463.4 330.2L459.2 333.4Z" fill="#c1f800" stroke="none"/>
<path d="M469.2 330.9L463.4 330.2L459.2 333.4"/>
<path d="M509.8 321.1L513.9 318L507.8 317.5L503.7 320.4Z" fill="#ffb400" stroke="none"/>
<path d="M513.9 318L507.8 317.5L503.7 320.4M509.8 321.1L513.9 318"/>
<path d="M386.4 359.3L390.9 355.7L385.8 354.8L381.2 358.4Z" fill="#00f881" stroke="none"/>
<path d="M390.9 355.7L385.8 354.8L381.2 358.4"/>
<path d="M475.1 331.6L479.3 328.4L473.4 327.8L469.2 330.9Z" fill="#e7f500" stroke="none"/>
<path d="M479.3 328.4L473.4 327.8L469.2 330.9"/>
<path d="M430.5 345.1L434.9 341.7L429.4 341L424.9 344.3Z" fill="#15f61a" stroke="none"/>
<path d="M434.9 341.7L429.4 341L424.9 344.3"/>
<path d="M352.5 371.4L357.2 367.6L352.2 366.6L347.6 370.4Z" fill="#00efea" stroke="none"/>
<path d="M357.2 367.6L352.2 366.6L347.6 370.4M352.5 371.4L347.6 370.4"/>
<path d="M440.5 342.6L444.8 339.2L439.2 338.4L434.9 341.7Z" fill="#3ef714" stroke="none"/>
<path d="M444.8 339.2L439.2 338.4L434.9 341.7"/>
<path d="M396.2 356.6L400.7 353L395.5 352.2L390.9 355.7Z" fill="#00f868" stroke="none"/>
<path d="M400.7 353L395.5 352.2L390.9 355.7"/>
<path d="M485.2 329.1L489.4 325.9L483.5 325.3L479.3 328.4Z" fill="#fdec00" stroke="none"/>
<path d="M489.4 325.9L483.5 325.3L479.3 328.4"/>
<path d="M362.2 368.6L366.9 364.8L361.8 363.8L357.2 367.6Z" fill="#00f5d6" stroke="none"/>
<path d="M366.9 364.8L361.8 363.8L357.2 367.6"/>
<path d="M406.1 354L410.6 350.4L405.3 349.5L400.7 353Z" fill="#00f647" stroke="none"/>
<path d="M410.6 350.4L405.3 349.5L400.7 353"/>
<path d="M450.5 340L454.9 336.6L449.2 335.9L444.8 339.2Z" fill="#6bf810" stroke="none"/>
<path d="M454.9 336.6L449.2 335.9L444.8 339.2"/>
<path d="M495.5 326.7L499.6 323.5L493.6 322.8L489.4 325.9Z" fill="#ffd800" stroke="none"/>
<path d="M499.6 323.5L493.6 322.8L489.4 325.9"/>
<path d="M371.9 365.9L376.6 362.1L371.5 361.1L366.9 364.8Z" fill="#00f7ae" stroke="none"/>
<path d="M376.6 362.1L371.5 361.1L366.9 364.8"/>
<path d="M416 351.3L420.5 347.7L415.1 346.9L410.6 350.4Z" fill="#07f634" stroke="none"/>
<path d="M420.5 347.7L415.1 346.9L410.6 350.4"/>
<path d="M505.7 324.2L509.8 321.1L503.7 320.4L499.6 323.5Z" fill="#ffc200" stroke="none"/>
<path d="M509.8 321.1L503.7 320.4L499.6 323.5M505.7 324.2L509.8 321.1"/>
<path d="M460.6 337.5L464.9 334.1L459.2 333.4L454.9 336.6Z" fill="#9ff806" stroke="none"/>
<path d="M464.9 334.1L459.2 333.4L454.9 336.6"/>
<path d="M381.8 363.1L386.4 359.3L381.2 358.4L376.6 362.1Z" fill="#00f892" stroke="none"/>
<path d="M386.4 359.3L381.2 358.4L376.6 362.1"/>
<path d="M470.8 334.9L475.1 331.6L469.2 330.9L464.9 334.1Z" fill="#cef700" stroke="none"/>
<path d="M475.1 331.6L469.2 330.9L464.9 334.1"/>
<path d="M426 348.7L430.5 345.1L424.9 344.3L420.5 347.7Z" fill="#0ff624" stroke="none"/>
<path d="M430.5 345.1L424.9 344.3L420.5 347.7"/>
<path d="M391.6 360.4L396.2 356.6L390.9 355.7L386.4 359.3Z" fill="#00f87b" stroke="none"/>
<path d="M396.2 356.6L390.9 355.7L386.4 359.3"/>
<path d="M436 346.1L440.5 342.6L434.9 341.7L430.5 345.1Z" fill="#1ef617" stroke="none"/>
<path d="M440.5 342.6L434.9 341.7L430.5 345.1"/>
<path d="M481 332.5L485.2 329.1L479.3 328.4L475.1 331.6Z" fill="#f4f500" stroke="none"/>
<path d="M485.2 329.1L479.3 328.4L475.1 331.6"/>
<path d="M357.5 372.6L362.2 368.6L357.2 367.6L352.5 371.4Z" fill="#00f1e6" stroke="none"/>
<path d="M362.2 368.6L357.2 367.6L352.5 371.4M357.5 372.6L352.5 371.4"/>
<path d="M446.1 343.5L450.5 340L444.8 339.2L440.5 342.6Z" fill="#4cf713" stroke="none"/>
<path d="M450.5 340L444.8 339.2L440.5 342.6"/>
<path d="M401.5 357.7L406.1 354L400.7 353L396.2 356.6Z" fill="#00f75e" stroke="none"/>
<path d="M406.1 354L400.7 353L396.2 356.6"/>
<path d="M491.3 330L495.5 326.7L489.4 325.9L485.2 329.1Z" fill="#fee600" stroke="none"/>
<path d="M495.5 326.7L489.4 325.9L485.2 329.1"/>
<path d="M367.3 369.8L371.9 365.9L366.9 364.8L362.2 368.6Z" fill="#00f5cb" stroke="none"/>
<path d="M371.9 365.9L366.9 364.8L362.2 368.6"/>
<path d="M411.5 355L416 351.3L410.6 350.4L406.1 354Z" fill="#01f63f" stroke="none"/>
<path d="M416 351.3L410.6 350.4L406.1 354"/>
<path d="M501.6 327.5L505.7 324.2L499.6 323.5L495.5 326.7Z" fill="#ffd100" stroke="none"/>
<path d="M505.7 324.2L499.6 323.5L495.5 326.7M501.6 327.5L505.7 324.2"/>
<path d="M456.3 340.9L460.6 337.5L454.9 336.6L450.5 340Z" fill="#7cf80d" stroke="none"/>
<path d="M460.6 337.5L454.9 336.6L450.5 340"/>
<path d="M377.1 367L381.8 363.1L376.6 362.1L371.9 365.9Z" fill="#00f8a4" stroke="none"/>
<path d="M381.8 363.1L376.6 362.1L371.9 365.9"/>
<path d="M421.5 352.3L426 348.7L420.5 347.7L416 351.3Z" fill="#09f62f" stroke="none"/>
<path d="M426 348.7L420.5 347.7L416 351.3"/>
<path d="M466.5 338.4L470.8 334.9L464.9 334.1L460.6 337.5Z" fill="#b0f803" stroke="none"/>
<path d="M470.8 334.9L464.9 334.1L460.6 337.5"/>
<path d="M387 364.3L391.6 360.4L386.4 359.3L381.8 363.1Z" fill="#00f88b" stroke="none"/>
<path d="M391.6 360.4L386.4 359.3L381.8 363.1"/>
<path d="M431.6 349.7L436 346.1L430.5 345.1L426 348.7Z" fill="#12f620" stroke="none"/>
<path d="M436 346.1L430.5 345.1L426 348.7"/>
<path d="M476.7 335.9L481 332.5L475.1 331.6L470.8 334.9Z" fill="#daf600" stroke="none"/>
<path d="M481 332.5L475.1 331.6L470.8 334.9"/>
<path d="M396.9 361.5L401.5 357.7L396.2 356.6L391.6 360.4Z" fill="#00f874" stroke="none"/>
<path d="M401.5 357.7L396.2 356.6L391.6 360.4"/>
<path d="M441.7 347.1L446.1 343.5L440.5 342.6L436 346.1Z" fill="#2cf616" stroke="none"/>
<path d="M446.1 343.5L440.5 342.6L436 346.1"/>
<path d="M487 333.4L491.3 330L485.2 329.1L481 332.5Z" fill="#fcf200" stroke="none"/>
<path d="M491.3 330L485.2 329.1L481 332.5"/>
<path d="M362.5 373.9L367.3 369.8L362.2 368.6L357.5 372.6Z" fill="#00f2e3" stroke="none"/>
<path d="M367.3 369.8L362.2 368.6L357.5 372.6M362.5 373.9L357.5 372.6"/>
<path d="M406.9 358.8L411.5 355L406.1 354L401.5 357.7Z" fill="#00f755" stroke="none"/>
<path d="M411.5 355L406.1 354L401.5 357.7"/>
<path d="M451.9 344.5L456.3 340.9L450.5 340L446.1 343.5Z" fill="#59f812" stroke="none"/>
<path d="M456.3 340.9L450.5 340L446.1 343.5"/>
<path d="M497.4 330.9L501.6 327.5L495.5 326.7L491.3 330Z" fill="#ffe000" stroke="none"/>
<path d="M501.6 327.5L495.5 326.7L491.3 330M497.4 330.9L501.6 327.5"/>
<path d="M372.4 371L377.1 367L371.9 365.9L367.3 369.8Z" fill="#00f6c1" stroke="none"/>
<path d="M377.1 367L371.9 365.9L367.3 369.8"/>
<path d="M417 356.1L421.5 352.3L416 351.3L411.5 355Z" fill="#03f63b" stroke="none"/>
<path d="M421.5 352.3L416 351.3L411.5 355"/>
<path d="M462.1 342L466.5 338.4L460.6 337.5L456.3 340.9Z" fill="#8bf80a" stroke="none"/>
<path d="M466.5 338.4L460.6 337.5L456.3 340.9"/>
<path d="M427.1 353.5L431.6 349.7L426 348.7L421.5 352.3Z" fill="#0bf62b" stroke="none"/>
<path d="M431.6 349.7L426 348.7L421.5 352.3"/>
<path d="M382.3 368.3L387 364.3L381.8 363.1L377.1 367Z" fill="#00f89d" stroke="none"/>
<path d="M387 364.3L381.8 363.1L377.1 367"/>
<path d="M472.4 339.5L476.7 335.9L470.8 334.9L466.5 338.4Z" fill="#bff800" stroke="none"/>
<path d="M476.7 335.9L470.8 334.9L466.5 338.4"/>
<path d="M392.3 365.5L396.9 361.5L391.6 360.4L387 364.3Z" fill="#00f886" stroke="none"/>
<path d="M396.9 361.5L391.6 360.4L387 364.3"/>
<path d="M437.3 350.9L441.7 347.1L436 346.1L431.6 349.7Z" fill="#14f61c" stroke="none"/>
<path d="M441.7 347.1L436 346.1L431.6 349.7"/>
<path d="M482.7 337L487 333.4L481 332.5L476.7 335.9Z" fill="#e5f600" stroke="none"/>
<path d="M487 333.4L481 332.5L476.7 335.9"/>
<path d="M402.3 362.8L406.9 358.8L401.5 357.7L396.9 361.5Z" fill="#00f86e" stroke="none"/>
<path d="M406.9 358.8L401.5 357.7L396.9 361.5"/>
<path d="M493.1 334.5L497.4 330.9L491.3 330L487 333.4Z" fill="#fded00" stroke="none"/>
<path d="M497.4 330.9L491.3 330L487 333.4M493.1 334.5L497.4 330.9"/>
<path d="M447.5 348.3L451.9 344.5L446.1 343.5L441.7 347.1Z" fill="#38f715" stroke="none"/>
<path d="M451.9 344.5L446.1 343.5L441.7 347.1"/>
<path d="M367.7 375.2L372.4 371L367.3 369.8L362.5 373.9Z" fill="#00f4e0" stroke="none"/>
<path d="M372.4 371L367.3 369.8L362.5 373.9M367.7 375.2L362.5 373.9"/>
<path d="M457.7 345.7L462.1 342L456.3 340.9L451.9 344.5Z" fill="#65f811" stroke="none"/>
<path d="M462.1 342L456.3 340.9L451.9 344.5"/>
<path d="M412.4 360.1L417 356.1L411.5 355L406.9 358.8Z" fill="#00f74d" stroke="none"/>
<path d="M417 356.1L411.5 355L406.9 358.8"/>
<path d="M422.6 357.4L427.1 353.5L421.5 352.3L417 356.1Z" fill="#05f637" stroke="none"/>
<path d="M427.1 353.5L421.5 352.3L417 356.1"/>
<path d="M377.6 372.4L382.3 368.3L377.1 367L372.4 371Z" fill="#00f7b8" stroke="none"/>
<path d="M382.3 368.3L377.1 367L372.4 371"/>
<path d="M468 343.1L472.4 339.5L466.5 338.4L462.1 342Z" fill="#98f808" stroke="none"/>
<path d="M472.4 339.5L466.5 338.4L462.1 342"/>
<path d="M432.8 354.7L437.3 350.9L431.6 349.7L427.1 353.5Z" fill="#0df628" stroke="none"/>
<path d="M437.3 350.9L431.6 349.7L427.1 353.5"/>
<path d="M387.6 369.6L392.3 365.5L387 364.3L382.3 368.3Z" fill="#00f898" stroke="none"/>
<path d="M392.3 365.5L387 364.3L382.3 368.3"/>
<path d="M478.4 340.6L482.7 337L476.7 335.9L472.4 339.5Z" fill="#c9f700" stroke="none"/>
<path d="M482.7 337L476.7 335.9L472.4 339.5"/>
<path d="M397.7 366.8L402.3 362.8L396.9 361.5L392.3 365.5Z" fill="#00f881" stroke="none"/>
<path d="M402.3 362.8L396.9 361.5L392.3 365.5"/>
<path d="M488.8 338.1L493.1 334.5L487 333.4L482.7 337Z" fill="#eef500" stroke="none"/>
<path d="M493.1 334.5L487 333.4L482.7 337M488.8 338.1L493.1 334.5"/>
<path d="M443 352.1L447.5 348.3L441.7 347.1L437.3 350.9Z" fill="#16f618" stroke="none"/>
<path d="M447.5 348.3L441.7 347.1L437.3 350.9"/>
<path d="M407.8 364.1L412.4 360.1L406.9 358.8L402.3 362.8Z" fill="#00f867" stroke="none"/>
<path d="M412.4 360.1L406.9 358.8L402.3 362.8"/>
<path d="M453.3 349.5L457.7 345.7L451.9 344.5L447.5 348.3Z" fill="#42f714" stroke="none"/>
<path d="M457.7 345.7L451.9 344.5L447.5 348.3"/>
<path d="M372.9 376.7L377.6 372.4L372.4 371L367.7 375.2Z" fill="#00f5d8" stroke="none"/>
<path d="M377.6 372.4L372.4 371L367.7 375.2M372.9 376.7L367.7 375.2"/>
<path d="M418 361.4L422.6 357.4L417 356.1L412.4 360.1Z" fill="#00f646" stroke="none"/>
<path d="M422.6 357.4L417 356.1L412.4 360.1"/>
<path d="M463.6 347L468 343.1L462.1 342L457.7 345.7Z" fill="#70f810" stroke="none"/>
<path d="M468 343.1L462.1 342L457.7 345.7"/>
<path d="M382.9 373.8L387.6 369.6L382.3 368.3L377.6 372.4Z" fill="#00f7b1" stroke="none"/>
<path d="M387.6 369.6L382.3 368.3L377.6 372.4"/>
<path d="M428.2 358.7L432.8 354.7L427.1 353.5L422.6 357.4Z" fill="#07f633" stroke="none"/>
<path d="M432.8 354.7L427.1 353.5L422.6 357.4"/>
<path d="M474.1 344.4L478.4 340.6L472.4 339.5L468 343.1Z" fill="#a4f806" stroke="none"/>
<path d="M478.4 340.6L472.4 339.5L468 343.1"/>
<path d="M393 371.1L397.7 366.8L392.3 365.5L387.6 369.6Z" fill="#00f893" stroke="none"/>
<path d="M397.7 366.8L392.3 365.5L387.6 369.6"/>
<path d="M438.5 356.1L443 352.1L437.3 350.9L432.8 354.7Z" fill="#0ff624" stroke="none"/>
<path d="M443 352.1L437.3 350.9L432.8 354.7"/>
<path d="M484.5 341.9L488.8 338.1L482.7 337L478.4 340.6Z" fill="#d1f700" stroke="none"/>
<path d="M488.8 338.1L482.7 337L478.4 340.6M484.5 341.9L488.8 338.1"/>
<path d="M403.2 368.3L407.8 364.1L402.3 362.8L397.7 366.8Z" fill="#00f87c" stroke="none"/>
<path d="M407.8 364.1L402.3 362.8L397.7 366.8"/>
<path d="M448.8 353.5L453.3 349.5L447.5 348.3L443 352.1Z" fill="#1ef617" stroke="none"/>
<path d="M453.3 349.5L447.5 348.3L443 352.1"/>
<path d="M413.4 365.6L418 361.4L412.4 360.1L407.8 364.1Z" fill="#00f760" stroke="none"/>
<path d="M418 361.4L412.4 360.1L407.8 364.1"/>
<path d="M459.2 350.9L463.6 347L457.7 345.7L453.3 349.5Z" fill="#4cf713" stroke="none"/>
<path d="M463.6 347L457.7 345.7L453.3 349.5"/>
<path d="M378.2 378.2L382.9 373.8L377.6 372.4L372.9 376.7Z" fill="#00f5d1" stroke="none"/>
<path d="M382.9 373.8L377.6 372.4L372.9 376.7M378.2 378.2L372.9 376.7"/>
<path d="M423.6 362.9L428.2 358.7L422.6 357.4L418 361.4Z" fill="#00f640" stroke="none"/>
<path d="M428.2 358.7L422.6 357.4L418 361.4"/>
<path d="M469.6 348.3L474.1 344.4L468 343.1L463.6 347Z" fill="#7af80e" stroke="none"/>
<path d="M474.1 344.4L468 343.1L463.6 347"/>
<path d="M388.3 375.4L393 371.1L387.6 369.6L382.9 373.8Z" fill="#00f7aa" stroke="none"/>
<path d="M393 371.1L387.6 369.6L382.9 373.8"/>
<path d="M433.9 360.2L438.5 356.1L432.8 354.7L428.2 358.7Z" fill="#08f631" stroke="none"/>
<path d="M438.5 356.1L432.8 354.7L428.2 358.7"/>
<path d="M480.1 345.8L484.5 341.9L478.4 340.6L474.1 344.4Z" fill="#aef804" stroke="none"/>
<path d="M484.5 341.9L478.4 340.6L474.1 344.4M480.1 345.8L484.5 341.9"/>
<path d="M444.3 357.6L448.8 353.5L443 352.1L438.5 356.1Z" fill="#11f622" stroke="none"/>
<path d="M448.8 353.5L443 352.1L438.5 356.1"/>
<path d="M398.5 372.6L403.2 368.3L397.7 366.8L393 371.1Z" fill="#00f88f" stroke="none"/>
<path d="M403.2 368.3L397.7 366.8L393 371.1"/>
<path d="M408.7 369.9L413.4 365.6L407.8 364.1L403.2 368.3Z" fill="#00f878" stroke="none"/>
<path d="M413.4 365.6L407.8 364.1L403.2 368.3"/>
<path d="M454.7 354.9L459.2 350.9L453.3 349.5L448.8 353.5Z" fill="#26f617" stroke="none"/>
<path d="M459.2 350.9L453.3 349.5L448.8 353.5"/>
<path d="M419 367.1L423.6 362.9L418 361.4L413.4 365.6Z" fill="#00f75b" stroke="none"/>
<path d="M423.6 362.9L418 361.4L413.4 365.6"/>
<path d="M465.2 352.4L469.6 348.3L463.6 347L459.2 350.9Z" fill="#53f712" stroke="none"/>
<path d="M469.6 348.3L463.6 347L459.2 350.9"/>
<path d="M383.5 379.9L388.3 375.4L382.9 373.8L378.2 378.2Z" fill="#00f5cb" stroke="none"/>
<path d="M388.3 375.4L382.9 373.8L378.2 378.2M383.5 379.9L378.2 378.2"/>
<path d="M475.7 349.8L480.1 345.8L474.1 344.4L469.6 348.3Z" fill="#83f80c" stroke="none"/>
<path d="M480.1 345.8L474.1 344.4L469.6 348.3M475.7 349.8L480.1 345.8"/>
<path d="M429.4 364.4L433.9 360.2L428.2 358.7L423.6 362.9Z" fill="#01f63d" stroke="none"/>
<path d="M433.9 360.2L428.2 358.7L423.6 362.9"/>
<path d="M393.8 377.1L398.5 372.6L393 371.1L388.3 375.4Z" fill="#00f8a4" stroke="none"/>
<path d="M398.5 372.6L393 371.1L388.3 375.4"/>
<path d="M439.8 361.8L444.3 357.6L438.5 356.1L433.9 360.2Z" fill="#0af62e" stroke="none"/>
<path d="M444.3 357.6L438.5 356.1L433.9 360.2"/>
<path d="M404 374.3L408.7 369.9L403.2 368.3L398.5 372.6Z" fill="#00f88c" stroke="none"/>
<path d="M408.7 369.9L403.2 368.3L398.5 372.6"/>
<path d="M450.2 359.1L454.7 354.9L448.8 353.5L444.3 357.6Z" fill="#12f61f" stroke="none"/>
<path d="M454.7 354.9L448.8 353.5L444.3 357.6"/>
<path d="M414.3 371.5L419 367.1L413.4 365.6L408.7 369.9Z" fill="#00f875" stroke="none"/>
<path d="M419 367.1L413.4 365.6L408.7 369.9"/>
<path d="M460.7 356.5L465.2 352.4L459.2 350.9L454.7 354.9Z" fill="#2df716" stroke="none"/>
<path d="M465.2 352.4L459.2 350.9L454.7 354.9"/>
<path d="M424.7 368.8L429.4 364.4L423.6 362.9L419 367.1Z" fill="#00f756" stroke="none"/>
<path d="M429.4 364.4L423.6 362.9L419 367.1"/>
<path d="M471.3 354L475.7 349.8L469.6 348.3L465.2 352.4Z" fill="#5af812" stroke="none"/>
<path d="M475.7 349.8L469.6 348.3L465.2 352.4M471.3 354L475.7 349.8"/>
<path d="M389 381.6L393.8 377.1L388.3 375.4L383.5 379.9Z" fill="#00f6c6" stroke="none"/>
<path d="M393.8 377.1L388.3 375.4L383.5 379.9M389 381.6L383.5 379.9"/>
<path d="M435.2 366.1L439.8 361.8L433.9 360.2L429.4 364.4Z" fill="#03f63b" stroke="none"/>
<path d="M439.8 361.8L433.9 360.2L429.4 364.4"/>
<path d="M399.3 378.8L404 374.3L398.5 372.6L393.8 377.1Z" fill="#00f8a0" stroke="none"/>
<path d="M404 374.3L398.5 372.6L393.8 377.1"/>
<path d="M445.6 363.5L450.2 359.1L444.3 357.6L439.8 361.8Z" fill="#0bf62c" stroke="none"/>
<path d="M450.2 359.1L444.3 357.6L439.8 361.8"/>
<path d="M409.6 376.1L414.3 371.5L408.7 369.9L404 374.3Z" fill="#00f889" stroke="none"/>
<path d="M414.3 371.5L408.7 369.9L404 374.3"/>
<path d="M456.2 360.8L460.7 356.5L454.7 354.9L450.2 359.1Z" fill="#13f61d" stroke="none"/>
<path d="M460.7 356.5L454.7 354.9L450.2 359.1"/>
<path d="M420 373.3L424.7 368.8L419 367.1L414.3 371.5Z" fill="#00f872" stroke="none"/>
<path d="M424.7 368.8L419 367.1L414.3 371.5"/>
<path d="M466.8 358.2L471.3 354L465.2 352.4L460.7 356.5Z" fill="#32f715" stroke="none"/>
<path d="M471.3 354L465.2 352.4L460.7 356.5M466.8 358.2L471.3 354"/>
<path d="M430.5 370.6L435.2 366.1L429.4 364.4L424.7 368.8Z" fill="#00f753" stroke="none"/>
<path d="M435.2 366.1L429.4 364.4L424.7 368.8"/>
<path d="M394.5 383.5L399.3 378.8L393.8 377.1L389 381.6Z" fill="#00f6c2" stroke="none"/>
<path d="M399.3 378.8L393.8 377.1L389 381.6M394.5 383.5L389 381.6"/>
<path d="M441 367.9L445.6 363.5L439.8 361.8L435.2 366.1Z" fill="#03f63a" stroke="none"/>
<path d="M445.6 363.5L439.8 361.8L435.2 366.1"/>
<path d="M404.9 380.7L409.6 376.1L404 374.3L399.3 378.8Z" fill="#00f89e" stroke="none"/>
<path d="M409.6 376.1L404 374.3L399.3 378.8"/>
<path d="M451.6 365.3L456.2 360.8L450.2 359.1L445.6 363.5Z" fill="#0cf62b" stroke="none"/>
<path d="M456.2 360.8L450.2 359.1L445.6 363.5"/>
<path d="M462.3 362.6L466.8 358.2L460.7 356.5L456.2 360.8Z" fill="#14f61c" stroke="none"/>
<path d="M466.8 358.2L460.7 356.5L456.2 360.8M462.3 362.6L466.8 358.2"/>
<path d="M415.3 377.9L420 373.3L414.3 371.5L409.6 376.1Z" fill="#00f887" stroke="none"/>
<path d="M420 373.3L414.3 371.5L409.6 376.1"/>
<path d="M425.8 375.2L430.5 370.6L424.7 368.8L420 373.3Z" fill="#00f870" stroke="none"/>
<path d="M430.5 370.6L424.7 368.8L420 373.3"/>
<path d="M436.4 372.5L441 367.9L435.2 366.1L430.5 370.6Z" fill="#00f750" stroke="none"/>
<path d="M441 367.9L435.2 366.1L430.5 370.6"/>
<path d="M400.1 385.5L404.9 380.7L399.3 378.8L394.5 383.5Z" fill="#00f6bf" stroke="none"/>
<path d="M404.9 380.7L399.3 378.8L394.5 383.5M400.1 385.5L394.5 383.5"/>
<path d="M447 369.8L451.6 365.3L445.6 363.5L441 367.9Z" fill="#04f639" stroke="none"/>
<path d="M451.6 365.3L445.6 363.5L441 367.9"/>
<path d="M457.7 367.2L462.3 362.6L456.2 360.8L451.6 365.3Z" fill="#0cf62a" stroke="none"/>
<path d="M462.3 362.6L456.2 360.8L451.6 365.3M457.7 367.2L462.3 362.6"/>
<path d="M410.6 382.7L415.3 377.9L409.6 376.1L404.9 380.7Z" fill="#00f89c" stroke="none"/>
<path d="M415.3 377.9L409.6 376.1L404.9 380.7"/>
<path d="M421.1 379.9L425.8 375.2L420 373.3L415.3 377.9Z" fill="#00f885" stroke="none"/>
<path d="M425.8 375.2L420 373.3L415.3 377.9"/>
<path d="M431.7 377.2L436.4 372.5L430.5 370.6L425.8 375.2Z" fill="#00f86e" stroke="none"/>
<path d="M436.4 372.5L430.5 370.6L425.8 375.2"/>
<path d="M442.4 374.5L447 369.8L441 367.9L436.4 372.5Z" fill="#00f74e" stroke="none"/>
<path d="M447 369.8L441 367.9L436.4 372.5"/>
<path d="M405.8 387.6L410.6 382.7L404.9 380.7L400.1 385.5Z" fill="#00f6bd" stroke="none"/>
<path d="M410.6 382.7L404.9 380.7L400.1 385.5M405.8 387.6L400.1 385.5"/>
<path d="M453.1 371.8L457.7 367.2L451.6 365.3L447 369.8Z" fill="#04f638" stroke="none"/>
<path d="M457.7 367.2L451.6 365.3L447 369.8M453.1 371.8L457.7 367.2"/>
<path d="M416.4 384.8L421.1 379.9L415.3 377.9L410.6 382.7Z" fill="#00f89b" stroke="none"/>
<path d="M421.1 379.9L415.3 377.9L410.6 382.7"/>
<path d="M427 382L431.7 377.2L425.8 375.2L421.1 379.9Z" fill="#00f885" stroke="none"/>
<path d="M431.7 377.2L425.8 375.2L421.1 379.9"/>
<path d="M437.7 379.3L442.4 374.5L436.4 372.5L431.7 377.2Z" fill="#00f86d" stroke="none"/>
<path d="M442.4 374.5L436.4 372.5L431.7 377.2"/>
<path d="M448.4 376.6L453.1 371.8L447 369.8L442.4 374.5Z" fill="#00f74e" stroke="none"/>
<path d="M453.1 371.8L447 369.8L442.4 374.5M448.4 376.6L453.1 371.8"/>
<path d="M411.6 389.8L416.4 384.8L410.6 382.7L405.8 387.6Z" fill="#00f6bc" stroke="none"/>
<path d="M416.4 384.8L410.6 382.7L405.8 387.6M411.6 389.8L405.8 387.6"/>
<path d="M422.2 387L427 382L421.1 379.9L416.4 384.8Z" fill="#00f89b" stroke="none"/>
<path d="M427 382L421.1 379.9L416.4 384.8"/>
<path d="M432.9 384.3L437.7 379.3L431.7 377.2L427 382Z" fill="#00f884" stroke="none"/>
<path d="M437.7 379.3L431.7 377.2L427 382"/>
<path d="M443.7 381.5L448.4 376.6L442.4 374.5L437.7 379.3Z" fill="#00f86d" stroke="none"/>
<path d="M448.4 376.6L442.4 374.5L437.7 379.3M443.7 381.5L448.4 376.6"/>
<path d="M417.4 392.1L422.2 387L416.4 384.8L411.6 389.8Z" fill="#00f6bc" stroke="none"/>
<path d="M422.2 387L416.4 384.8L411.6 389.8M417.4 392.1L411.6 389.8"/>
<path d="M428.2 389.4L432.9 384.3L427 382L422.2 387Z" fill="#00f89b" stroke="none"/>
<path d="M432.9 384.3L427 382L422.2 387"/>
<path d="M439 386.6L443.7 381.5L437.7 379.3L432.9 384.3Z" fill="#00f885" stroke="none"/>
<path d="M443.7 381.5L437.7 379.3L432.9 384.3M439 386.6L443.7 381.5"/>
<path d="M423.3 394.6L428.2 389.4L422.2 387L417.4 392.1Z" fill="#00f6bd" stroke="none"/>
<path d="M428.2 389.4L422.2 387L417.4 392.1M423.3 394.6L417.4 392.1"/>
<path d="M434.2 391.8L439 386.6L432.9 384.3L428.2 389.4Z" fill="#00f89c" stroke="none"/>
<path d="M439 386.6L432.9 384.3L428.2 389.4M434.2 391.8L439 386.6"/>
<path d="M429.4 397.1L434.2 391.8L428.2 389.4L423.3 394.6Z" fill="#00f6bf" stroke="none"/>
<path d="M434.2 391.8L428.2 389.4L423.3 394.6M429.4 397.1L423.3 394.6M429.4 397.1L434.2 391.8"/>
</g>
<circle cx="429.35" cy="396.35" r="2.1" fill="#e30000" stroke="#8a0000" stroke-width="0.45"/><circle cx="537.58" cy="301.52" r="2.1" fill="#e30000" stroke="#8a0000" stroke-width="0.45"/><circle cx="429.35" cy="330.98" r="2.1" fill="#e30000" stroke="#8a0000" stroke-width="0.45"/>
<circle cx="325.08" cy="391.64" r="1.25" fill="#111"/>
<circle cx="324.16" cy="370.88" r="1.25" fill="#111"/>
<circle cx="323.24" cy="349.76" r="1.25" fill="#111"/>
<circle cx="322.29" cy="328.27" r="1.25" fill="#111"/>
<circle cx="321.33" cy="306.39" r="1.25" fill="#111"/>
<circle cx="320.35" cy="284.11" r="1.25" fill="#111"/>
<circle cx="429.35" cy="475.24" r="1.25" fill="#111"/>
<circle cx="455.04" cy="462.93" r="1.25" fill="#111"/>
<circle cx="480.73" cy="450.62" r="1.25" fill="#111"/>
<circle cx="506.42" cy="438.3" r="1.25" fill="#111"/>
<circle cx="532.11" cy="425.99" r="1.25" fill="#111"/>
<circle cx="429.35" cy="475.24" r="1.25" fill="#111"/>
<circle cx="412.22" cy="467.04" r="1.25" fill="#111"/>
<circle cx="395.1" cy="458.83" r="1.25" fill="#111"/>
<circle cx="377.97" cy="450.62" r="1.25" fill="#111"/>
<circle cx="360.84" cy="442.41" r="1.25" fill="#111"/>
<circle cx="343.71" cy="434.2" r="1.25" fill="#111"/>
<circle cx="326.59" cy="425.99" r="1.25" fill="#111"/>
<circle cx="532.11" cy="425.99" r="1.25" fill="#111"/>
<g font-family="'Liberation Serif', serif" font-size="15.56" fill="#000" stroke="#000" stroke-width="0.35" text-anchor="middle">
<text x="316.7" y="388.48" text-anchor="end">0</text>
<text x="315.79" y="367.73" text-anchor="end">20</text>
<text x="314.86" y="346.61" text-anchor="end">40</text>
<text x="313.92" y="325.11" text-anchor="end">60</text>
<text x="312.95" y="303.23" text-anchor="end">80</text>
<text x="311.98" y="280.96" text-anchor="end">100</text>
<text x="437.29" y="489.93" text-anchor="start">5</text>
<text x="462.98" y="477.62" text-anchor="start">6</text>
<text x="488.67" y="465.3" text-anchor="start">7</text>
<text x="514.37" y="452.99" text-anchor="start">8</text>
<text x="540.06" y="440.68" text-anchor="start">9</text>
<text x="421.08" y="489.61" text-anchor="end">30</text>
<text x="403.95" y="481.4" text-anchor="end">40</text>
<text x="386.83" y="473.19" text-anchor="end">50</text>
<text x="369.7" y="464.98" text-anchor="end">60</text>
<text x="352.57" y="456.77" text-anchor="end">70</text>
<text x="335.44" y="448.56" text-anchor="end">80</text>
<text x="318.32" y="440.35" text-anchor="end">90</text>
</g>
<g font-family="'Liberation Serif', serif" font-size="13.17" fill="#000" stroke="#000" stroke-width="0.25" text-anchor="middle">
<text x="520.2" y="477.3">x2</text>
<text x="338" y="477.3">x4</text>
<text transform="translate(294.25 356.5) rotate(-90)" font-size="14.0">Remove all rate (%)</text>
</g>
<text x="415.6" y="512.6" font-family="'Liberation Serif', serif" font-size="14" fill="#111" text-anchor="middle">(<tspan font-weight="bold">d</tspan>)</text>
</svg></body></html>
